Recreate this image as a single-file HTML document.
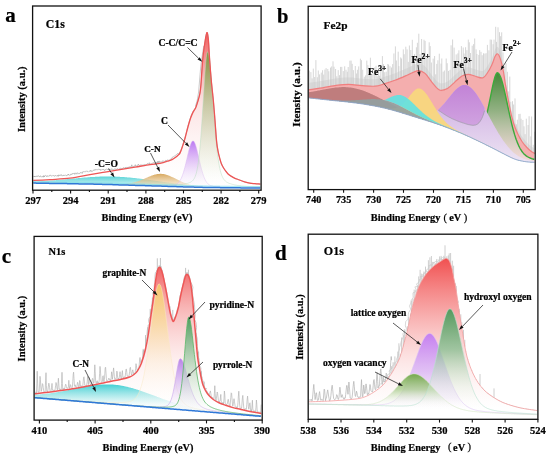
<!DOCTYPE html>
<html><head><meta charset="utf-8"><style>html,body{margin:0;padding:0;background:#fff;width:550px;height:458px;overflow:hidden}svg{display:block;font-family:"Liberation Serif",serif;will-change:transform}text{stroke:#000;stroke-width:0.22px}</style></head><body><svg width="550" height="458" viewBox="0 0 550 458" font-family="Liberation Serif, serif" font-weight="bold" fill="#000"><defs><linearGradient id="g1" gradientUnits="userSpaceOnUse" x1="0" y1="33" x2="0" y2="186"><stop offset="0" stop-color="#f05858" stop-opacity="0.97"/><stop offset="0.2" stop-color="#f48484" stop-opacity="0.8"/><stop offset="0.45" stop-color="#f9c4c4" stop-opacity="0.5"/><stop offset="0.75" stop-color="#fde6e6" stop-opacity="0.35"/><stop offset="1" stop-color="#ffffff" stop-opacity="0"/></linearGradient><linearGradient id="g2" gradientUnits="userSpaceOnUse" x1="0" y1="176.5" x2="0" y2="187.7"><stop offset="0" stop-color="#52d2d6" stop-opacity="0.95"/><stop offset="1" stop-color="#bff0f0" stop-opacity="0.6"/></linearGradient><linearGradient id="g3" gradientUnits="userSpaceOnUse" x1="0" y1="173.8" x2="0" y2="187.7"><stop offset="0" stop-color="#d6a456" stop-opacity="0.95"/><stop offset="1" stop-color="#f4e2c4" stop-opacity="0.5"/></linearGradient><linearGradient id="g4" gradientUnits="userSpaceOnUse" x1="0" y1="140" x2="0" y2="186"><stop offset="0" stop-color="#b56cf2" stop-opacity="0.95"/><stop offset="0.55" stop-color="#dcb8f6" stop-opacity="0.6"/><stop offset="1" stop-color="#f6effc" stop-opacity="0.2"/></linearGradient><linearGradient id="g5" gradientUnits="userSpaceOnUse" x1="0" y1="51" x2="0" y2="186"><stop offset="0" stop-color="#7f9440" stop-opacity="0.95"/><stop offset="0.5" stop-color="#bcc698" stop-opacity="0.6"/><stop offset="0.85" stop-color="#e8eedc" stop-opacity="0.35"/><stop offset="1" stop-color="#ffffff" stop-opacity="0.1"/></linearGradient><linearGradient id="g6" gradientUnits="userSpaceOnUse" x1="0" y1="73" x2="0" y2="158"><stop offset="0" stop-color="#3e8834" stop-opacity="0.97"/><stop offset="0.45" stop-color="#86b27e" stop-opacity="0.88"/><stop offset="1" stop-color="#eef2ee" stop-opacity="0.6"/></linearGradient><linearGradient id="g7" gradientUnits="userSpaceOnUse" x1="0" y1="110" x2="0" y2="160"><stop offset="0" stop-color="#d6bae6" stop-opacity="1"/><stop offset="1" stop-color="#ebe2f2" stop-opacity="1"/></linearGradient><linearGradient id="g8" gradientUnits="userSpaceOnUse" x1="0" y1="86" x2="0" y2="126"><stop offset="0" stop-color="#c282d6" stop-opacity="0.97"/><stop offset="1" stop-color="#d0a2e0" stop-opacity="0.97"/></linearGradient><linearGradient id="g9" gradientUnits="userSpaceOnUse" x1="0" y1="267" x2="0" y2="408"><stop offset="0" stop-color="#f05a5a" stop-opacity="0.95"/><stop offset="0.3" stop-color="#f59a9a" stop-opacity="0.7"/><stop offset="0.65" stop-color="#fbd8d8" stop-opacity="0.45"/><stop offset="1" stop-color="#ffffff" stop-opacity="0.1"/></linearGradient><linearGradient id="g10" gradientUnits="userSpaceOnUse" x1="0" y1="385" x2="0" y2="405"><stop offset="0" stop-color="#3fcfd3" stop-opacity="0.95"/><stop offset="0.6" stop-color="#9fe6e8" stop-opacity="0.7"/><stop offset="1" stop-color="#e6f8f8" stop-opacity="0.5"/></linearGradient><linearGradient id="g11" gradientUnits="userSpaceOnUse" x1="0" y1="283" x2="0" y2="407"><stop offset="0" stop-color="#f6c96a" stop-opacity="0.96"/><stop offset="0.35" stop-color="#f9dda4" stop-opacity="0.8"/><stop offset="0.65" stop-color="#fdf0da" stop-opacity="0.5"/><stop offset="1" stop-color="#ffffff" stop-opacity="0.15"/></linearGradient><linearGradient id="g12" gradientUnits="userSpaceOnUse" x1="0" y1="358" x2="0" y2="408"><stop offset="0" stop-color="#b27ae8" stop-opacity="0.95"/><stop offset="0.6" stop-color="#dcc0f2" stop-opacity="0.6"/><stop offset="1" stop-color="#f6effc" stop-opacity="0.2"/></linearGradient><linearGradient id="g13" gradientUnits="userSpaceOnUse" x1="0" y1="316" x2="0" y2="409"><stop offset="0" stop-color="#3f9a55" stop-opacity="0.95"/><stop offset="0.5" stop-color="#9fcca8" stop-opacity="0.65"/><stop offset="1" stop-color="#eef6ee" stop-opacity="0.2"/></linearGradient><linearGradient id="g14" gradientUnits="userSpaceOnUse" x1="0" y1="259" x2="0" y2="408"><stop offset="0" stop-color="#f04848" stop-opacity="0.95"/><stop offset="0.35" stop-color="#f58a8a" stop-opacity="0.75"/><stop offset="0.7" stop-color="#fbd0d0" stop-opacity="0.5"/><stop offset="1" stop-color="#ffffff" stop-opacity="0.3"/></linearGradient><linearGradient id="g15" gradientUnits="userSpaceOnUse" x1="0" y1="334" x2="0" y2="410"><stop offset="0" stop-color="#c47ef2" stop-opacity="0.97"/><stop offset="0.5" stop-color="#dab6f6" stop-opacity="0.8"/><stop offset="0.85" stop-color="#f2e6fc" stop-opacity="0.55"/><stop offset="1" stop-color="#ffffff" stop-opacity="0.1"/></linearGradient><linearGradient id="g16" gradientUnits="userSpaceOnUse" x1="0" y1="374" x2="0" y2="409"><stop offset="0" stop-color="#72a848" stop-opacity="0.97"/><stop offset="0.45" stop-color="#a8cc8c" stop-opacity="0.75"/><stop offset="0.8" stop-color="#eef6e8" stop-opacity="0.3"/><stop offset="1" stop-color="#ffffff" stop-opacity="0.0"/></linearGradient><linearGradient id="g17" gradientUnits="userSpaceOnUse" x1="0" y1="309" x2="0" y2="411"><stop offset="0" stop-color="#4f9a5c" stop-opacity="0.97"/><stop offset="0.4" stop-color="#8cc094" stop-opacity="0.82"/><stop offset="0.75" stop-color="#d8ecd8" stop-opacity="0.4"/><stop offset="1" stop-color="#ffffff" stop-opacity="0.0"/></linearGradient></defs><rect width="550" height="458" fill="#fff"/><path d="M33.3,180.4 33.8,180.4 34.3,180.4 34.8,180.3 35.3,180.3 35.8,180.3 36.3,180.3 36.8,180.2 37.3,180.2 37.8,180.2 38.3,180.2 38.8,180.2 39.3,180.1 39.8,180.1 40.3,180.1 40.8,180.1 41.3,180 41.8,180 42.3,180 42.8,180 43.3,180 43.8,179.9 44.3,179.9 44.8,179.9 45.3,179.9 45.8,179.8 46.3,179.8 46.8,179.8 47.3,179.8 47.8,179.7 48.3,179.7 48.8,179.7 49.3,179.6 49.8,179.6 50.3,179.6 50.8,179.6 51.3,179.5 51.8,179.5 52.3,179.5 52.8,179.4 53.3,179.4 53.8,179.4 54.3,179.4 54.8,179.3 55.3,179.3 55.8,179.3 56.3,179.3 56.8,179.2 57.3,179.2 57.8,179.2 58.3,179.2 58.8,179.1 59.3,179.1 59.8,179.1 60.3,179 60.8,179 61.3,179 61.8,178.9 62.3,178.9 62.8,178.9 63.3,178.8 63.8,178.8 64.3,178.8 64.8,178.7 65.3,178.7 65.8,178.6 66.3,178.6 66.8,178.6 67.3,178.5 67.8,178.5 68.3,178.4 68.8,178.3 69.3,178.3 69.8,178.2 70.3,178.2 70.8,178.1 71.3,178 71.8,178 72.3,177.9 72.8,177.8 73.3,177.7 73.8,177.6 74.3,177.6 74.8,177.5 75.3,177.4 75.8,177.3 76.3,177.2 76.8,177.1 77.3,177 77.8,176.9 78.3,176.8 78.8,176.8 79.3,176.7 79.8,176.6 80.3,176.5 80.8,176.4 81.3,176.3 81.8,176.2 82.3,176.1 82.8,176 83.3,175.9 83.8,175.8 84.3,175.7 84.8,175.6 85.3,175.5 85.8,175.4 86.3,175.3 86.8,175.2 87.3,175.1 87.8,175 88.3,174.9 88.8,174.8 89.3,174.7 89.8,174.6 90.3,174.5 90.8,174.5 91.3,174.4 91.8,174.3 92.3,174.2 92.8,174.1 93.3,174 93.8,174 94.3,173.9 94.8,173.8 95.3,173.7 95.8,173.7 96.3,173.6 96.8,173.5 97.3,173.4 97.8,173.3 98.3,173.3 98.8,173.2 99.3,173.1 99.8,173 100.3,173 100.8,172.9 101.3,172.8 101.8,172.7 102.3,172.6 102.8,172.6 103.3,172.5 103.8,172.4 104.3,172.3 104.8,172.2 105.3,172.1 105.8,172.1 106.3,172 106.8,171.9 107.3,171.8 107.8,171.7 108.3,171.6 108.8,171.6 109.3,171.5 109.8,171.4 110.3,171.3 110.8,171.2 111.3,171.1 111.8,171 112.3,170.9 112.8,170.9 113.3,170.8 113.8,170.7 114.3,170.6 114.8,170.5 115.3,170.4 115.8,170.3 116.3,170.2 116.8,170.2 117.3,170.1 117.8,170 118.3,169.9 118.8,169.8 119.3,169.7 119.8,169.6 120.3,169.5 120.8,169.5 121.3,169.4 121.8,169.3 122.3,169.2 122.8,169.1 123.3,169 123.8,169 124.3,168.9 124.8,168.8 125.3,168.7 125.8,168.6 126.3,168.5 126.8,168.5 127.3,168.4 127.8,168.3 128.3,168.2 128.8,168.1 129.3,168 129.8,168 130.3,167.9 130.8,167.8 131.3,167.7 131.8,167.6 132.3,167.5 132.8,167.5 133.3,167.4 133.8,167.3 134.3,167.2 134.8,167.1 135.3,167 135.8,167 136.3,166.9 136.8,166.8 137.3,166.7 137.8,166.6 138.3,166.5 138.8,166.5 139.3,166.4 139.8,166.3 140.3,166.2 140.8,166.1 141.3,166 141.8,165.9 142.3,165.9 142.8,165.8 143.3,165.7 143.8,165.6 144.3,165.5 144.8,165.4 145.3,165.3 145.8,165.3 146.3,165.2 146.8,165.1 147.3,165 147.8,164.9 148.3,164.9 148.8,164.8 149.3,164.7 149.8,164.6 150.3,164.6 150.8,164.5 151.3,164.4 151.8,164.4 152.3,164.3 152.8,164.3 153.3,164.2 153.8,164.2 154.3,164.1 154.8,164.1 155.3,164 155.8,164 156.3,163.9 156.8,163.9 157.3,163.8 157.8,163.8 158.3,163.7 158.8,163.6 159.3,163.5 159.8,163.4 160.3,163.3 160.8,163.2 161.3,163.1 161.8,163 162.3,162.8 162.8,162.7 163.3,162.6 163.8,162.4 164.3,162.3 164.8,162.1 165.3,161.9 165.8,161.8 166.3,161.6 166.8,161.4 167.3,161.3 167.8,161.1 168.3,160.9 168.8,160.8 169.3,160.6 169.8,160.4 170.3,160.3 170.8,160.1 171.3,159.9 171.8,159.6 172.3,159.4 172.8,159.1 173.3,158.9 173.8,158.6 174.3,158.3 174.8,157.9 175.3,157.6 175.8,157.2 176.3,156.8 176.8,156.4 177.3,156 177.8,155.5 178.3,155 178.8,154.6 179.3,154.1 179.8,153.4 180.3,152.5 180.8,151.3 181.3,150 181.8,148.6 182.3,147.1 182.8,145.6 183.3,144 183.8,142.4 184.3,140.7 184.8,139 185.3,137.2 185.8,135.3 186.3,133.4 186.8,131.3 187.3,129.4 187.8,127.4 188.3,125.6 188.8,123.8 189.3,122.1 189.8,120.4 190.3,118.9 190.8,117.4 191.3,116.1 191.8,114.9 192.3,113.8 192.8,112.7 193.3,111.7 193.8,110.8 194.3,110.1 194.8,109.3 195.3,108.5 195.8,107.5 196.3,106.2 196.8,104.8 197.3,103.2 197.8,101.5 198.3,99.8 198.8,98.1 199.3,96.3 199.8,94 200.3,90.9 200.8,86.1 201.3,79.5 201.8,72 202.3,64.8 202.8,58.8 203.3,54.2 203.8,50.1 204.3,46.3 204.8,43 205.3,39.8 205.8,36.8 206.3,34.3 206.8,32.7 207.3,32.9 207.8,35.1 208.3,39 208.8,45.5 209.3,54.7 209.8,62 210.3,68.7 210.8,75 211.3,80.7 211.8,85.8 212.3,90.6 212.8,95.3 213.3,100.3 213.8,105.9 214.3,111.9 214.8,118.3 215.3,124.7 215.8,131.6 216.3,138.1 216.8,143.4 217.3,147.1 217.8,149.9 218.3,152.5 218.8,154.7 219.3,156.7 219.8,158.6 220.3,160.4 220.8,162.1 221.3,163.5 221.8,164.7 222.3,165.7 222.8,166.7 223.3,167.5 223.8,168.3 224.3,169.1 224.8,169.8 225.3,170.5 225.8,171.1 226.3,171.8 226.8,172.4 227.3,173 227.8,173.7 228.3,174.2 228.8,174.6 229.3,175 229.8,175.4 230.3,175.7 230.8,176 231.3,176.3 231.8,176.6 232.3,176.9 232.8,177.2 233.3,177.4 233.8,177.7 234.3,177.9 234.8,178.2 235.3,178.4 235.8,178.6 236.3,178.8 236.8,179 237.3,179.2 237.8,179.4 238.3,179.6 238.8,179.7 239.3,179.9 239.8,180.1 240.3,180.3 240.8,180.5 241.3,180.7 241.8,180.9 242.3,181.1 242.8,181.2 243.3,181.4 243.8,181.6 244.3,181.7 244.8,181.9 245.3,182 245.8,182.2 246.3,182.3 246.8,182.4 247.3,182.6 247.8,182.7 248.3,182.8 248.8,182.9 249.3,183 249.8,183.1 250.3,183.2 250.8,183.3 251.3,183.3 251.8,183.4 252.3,183.4 252.8,183.5 253.3,183.5 253.8,183.6 254.3,183.6 254.8,183.7 255.3,183.7 255.8,183.8 256.3,183.8 256.8,183.8 257.3,183.9 257.8,183.9 258.3,184 258.8,184 259.3,184 259.8,184.1 260.3,184.1 L260.3,187.7 259.8,187.7 259.3,187.7 258.8,187.7 258.3,187.7 257.8,187.7 257.3,187.7 256.8,187.7 256.3,187.7 255.8,187.7 255.3,187.7 254.8,187.7 254.3,187.7 253.8,187.6 253.3,187.6 252.8,187.6 252.3,187.6 251.8,187.6 251.3,187.6 250.8,187.6 250.3,187.6 249.8,187.6 249.3,187.6 248.8,187.6 248.3,187.6 247.8,187.6 247.3,187.6 246.8,187.6 246.3,187.6 245.8,187.6 245.3,187.6 244.8,187.6 244.3,187.6 243.8,187.6 243.3,187.6 242.8,187.6 242.3,187.6 241.8,187.6 241.3,187.6 240.8,187.6 240.3,187.5 239.8,187.5 239.3,187.5 238.8,187.5 238.3,187.5 237.8,187.5 237.3,187.5 236.8,187.5 236.3,187.5 235.8,187.5 235.3,187.5 234.8,187.5 234.3,187.5 233.8,187.5 233.3,187.5 232.8,187.5 232.3,187.5 231.8,187.5 231.3,187.5 230.8,187.5 230.3,187.5 229.8,187.4 229.3,187.4 228.8,187.4 228.3,187.4 227.8,187.4 227.3,187.4 226.8,187.4 226.3,187.4 225.8,187.4 225.3,187.4 224.8,187.4 224.3,187.4 223.8,187.4 223.3,187.4 222.8,187.4 222.3,187.4 221.8,187.4 221.3,187.4 220.8,187.4 220.3,187.4 219.8,187.3 219.3,187.3 218.8,187.3 218.3,187.3 217.8,187.3 217.3,187.3 216.8,187.3 216.3,187.3 215.8,187.3 215.3,187.3 214.8,187.3 214.3,187.3 213.8,187.3 213.3,187.3 212.8,187.2 212.3,187.2 211.8,187.2 211.3,187.2 210.8,187.2 210.3,187.2 209.8,187.2 209.3,187.2 208.8,187.2 208.3,187.2 207.8,187.2 207.3,187.1 206.8,187.1 206.3,187.1 205.8,187.1 205.3,187.1 204.8,187.1 204.3,187.1 203.8,187.1 203.3,187.1 202.8,187.1 202.3,187 201.8,187 201.3,187 200.8,187 200.3,187 199.8,187 199.3,187 198.8,187 198.3,187 197.8,186.9 197.3,186.9 196.8,186.9 196.3,186.9 195.8,186.9 195.3,186.9 194.8,186.9 194.3,186.9 193.8,186.8 193.3,186.8 192.8,186.8 192.3,186.8 191.8,186.8 191.3,186.8 190.8,186.8 190.3,186.7 189.8,186.7 189.3,186.7 188.8,186.7 188.3,186.7 187.8,186.7 187.3,186.7 186.8,186.7 186.3,186.6 185.8,186.6 185.3,186.6 184.8,186.6 184.3,186.6 183.8,186.6 183.3,186.6 182.8,186.5 182.3,186.5 181.8,186.5 181.3,186.5 180.8,186.5 180.3,186.5 179.8,186.4 179.3,186.4 178.8,186.4 178.3,186.4 177.8,186.4 177.3,186.4 176.8,186.4 176.3,186.3 175.8,186.3 175.3,186.3 174.8,186.3 174.3,186.3 173.8,186.3 173.3,186.2 172.8,186.2 172.3,186.2 171.8,186.2 171.3,186.2 170.8,186.2 170.3,186.1 169.8,186.1 169.3,186.1 168.8,186.1 168.3,186.1 167.8,186.1 167.3,186 166.8,186 166.3,186 165.8,186 165.3,186 164.8,186 164.3,185.9 163.8,185.9 163.3,185.9 162.8,185.9 162.3,185.9 161.8,185.9 161.3,185.8 160.8,185.8 160.3,185.8 159.8,185.8 159.3,185.8 158.8,185.8 158.3,185.7 157.8,185.7 157.3,185.7 156.8,185.7 156.3,185.7 155.8,185.7 155.3,185.7 154.8,185.6 154.3,185.6 153.8,185.6 153.3,185.6 152.8,185.6 152.3,185.6 151.8,185.6 151.3,185.5 150.8,185.5 150.3,185.5 149.8,185.5 149.3,185.5 148.8,185.5 148.3,185.4 147.8,185.4 147.3,185.4 146.8,185.4 146.3,185.4 145.8,185.4 145.3,185.4 144.8,185.3 144.3,185.3 143.8,185.3 143.3,185.3 142.8,185.3 142.3,185.3 141.8,185.3 141.3,185.2 140.8,185.2 140.3,185.2 139.8,185.2 139.3,185.2 138.8,185.2 138.3,185.1 137.8,185.1 137.3,185.1 136.8,185.1 136.3,185.1 135.8,185.1 135.3,185.1 134.8,185 134.3,185 133.8,185 133.3,185 132.8,185 132.3,185 131.8,185 131.3,184.9 130.8,184.9 130.3,184.9 129.8,184.9 129.3,184.9 128.8,184.9 128.3,184.8 127.8,184.8 127.3,184.8 126.8,184.8 126.3,184.8 125.8,184.8 125.3,184.8 124.8,184.7 124.3,184.7 123.8,184.7 123.3,184.7 122.8,184.7 122.3,184.7 121.8,184.6 121.3,184.6 120.8,184.6 120.3,184.6 119.8,184.6 119.3,184.6 118.8,184.6 118.3,184.5 117.8,184.5 117.3,184.5 116.8,184.5 116.3,184.5 115.8,184.5 115.3,184.4 114.8,184.4 114.3,184.4 113.8,184.4 113.3,184.4 112.8,184.4 112.3,184.3 111.8,184.3 111.3,184.3 110.8,184.3 110.3,184.3 109.8,184.3 109.3,184.3 108.8,184.2 108.3,184.2 107.8,184.2 107.3,184.2 106.8,184.2 106.3,184.2 105.8,184.2 105.3,184.1 104.8,184.1 104.3,184.1 103.8,184.1 103.3,184.1 102.8,184.1 102.3,184.1 101.8,184 101.3,184 100.8,184 100.3,184 99.8,184 99.3,184 98.8,184 98.3,184 97.8,183.9 97.3,183.9 96.8,183.9 96.3,183.9 95.8,183.9 95.3,183.9 94.8,183.9 94.3,183.9 93.8,183.9 93.3,183.8 92.8,183.8 92.3,183.8 91.8,183.8 91.3,183.8 90.8,183.8 90.3,183.8 89.8,183.8 89.3,183.8 88.8,183.7 88.3,183.7 87.8,183.7 87.3,183.7 86.8,183.7 86.3,183.7 85.8,183.7 85.3,183.7 84.8,183.7 84.3,183.7 83.8,183.6 83.3,183.6 82.8,183.6 82.3,183.6 81.8,183.6 81.3,183.6 80.8,183.6 80.3,183.6 79.8,183.6 79.3,183.6 78.8,183.6 78.3,183.5 77.8,183.5 77.3,183.5 76.8,183.5 76.3,183.5 75.8,183.5 75.3,183.5 74.8,183.5 74.3,183.5 73.8,183.5 73.3,183.5 72.8,183.5 72.3,183.4 71.8,183.4 71.3,183.4 70.8,183.4 70.3,183.4 69.8,183.4 69.3,183.4 68.8,183.4 68.3,183.4 67.8,183.4 67.3,183.4 66.8,183.3 66.3,183.3 65.8,183.3 65.3,183.3 64.8,183.3 64.3,183.3 63.8,183.3 63.3,183.3 62.8,183.3 62.3,183.3 61.8,183.3 61.3,183.3 60.8,183.2 60.3,183.2 59.8,183.2 59.3,183.2 58.8,183.2 58.3,183.2 57.8,183.2 57.3,183.2 56.8,183.2 56.3,183.2 55.8,183.2 55.3,183.2 54.8,183.1 54.3,183.1 53.8,183.1 53.3,183.1 52.8,183.1 52.3,183.1 51.8,183.1 51.3,183.1 50.8,183.1 50.3,183.1 49.8,183.1 49.3,183.1 48.8,183 48.3,183 47.8,183 47.3,183 46.8,183 46.3,183 45.8,183 45.3,183 44.8,183 44.3,183 43.8,183 43.3,183 42.8,183 42.3,182.9 41.8,182.9 41.3,182.9 40.8,182.9 40.3,182.9 39.8,182.9 39.3,182.9 38.8,182.9 38.3,182.9 37.8,182.9 37.3,182.9 36.8,182.9 36.3,182.9 35.8,182.8 35.3,182.8 34.8,182.8 34.3,182.8 33.8,182.8 33.3,182.8 Z" fill="url(#g1)" /><path d="M33.3,181.6 33.8,181.5 34.3,181.5 34.8,181.5 35.3,181.5 35.8,181.4 36.3,181.4 36.8,181.4 37.3,181.4 37.8,181.3 38.3,181.3 38.8,181.3 39.3,181.3 39.8,181.2 40.3,181.2 40.8,181.2 41.3,181.2 41.8,181.1 42.3,181.1 42.8,181.1 43.3,181 43.8,181 44.3,181 44.8,181 45.3,180.9 45.8,180.9 46.3,180.9 46.8,180.8 47.3,180.8 47.8,180.8 48.3,180.7 48.8,180.7 49.3,180.7 49.8,180.6 50.3,180.6 50.8,180.5 51.3,180.5 51.8,180.5 52.3,180.4 52.8,180.4 53.3,180.4 53.8,180.3 54.3,180.3 54.8,180.2 55.3,180.2 55.8,180.2 56.3,180.1 56.8,180.1 57.3,180 57.8,180 58.3,180 58.8,179.9 59.3,179.9 59.8,179.8 60.3,179.8 60.8,179.7 61.3,179.7 61.8,179.6 62.3,179.6 62.8,179.6 63.3,179.5 63.8,179.5 64.3,179.4 64.8,179.4 65.3,179.3 65.8,179.3 66.3,179.2 66.8,179.2 67.3,179.1 67.8,179.1 68.3,179.1 68.8,179 69.3,179 69.8,178.9 70.3,178.9 70.8,178.8 71.3,178.8 71.8,178.7 72.3,178.7 72.8,178.6 73.3,178.6 73.8,178.5 74.3,178.5 74.8,178.4 75.3,178.4 75.8,178.4 76.3,178.3 76.8,178.3 77.3,178.2 77.8,178.2 78.3,178.1 78.8,178.1 79.3,178 79.8,178 80.3,177.9 80.8,177.9 81.3,177.9 81.8,177.8 82.3,177.8 82.8,177.7 83.3,177.7 83.8,177.6 84.3,177.6 84.8,177.6 85.3,177.5 85.8,177.5 86.3,177.4 86.8,177.4 87.3,177.4 87.8,177.3 88.3,177.3 88.8,177.3 89.3,177.2 89.8,177.2 90.3,177.1 90.8,177.1 91.3,177.1 91.8,177 92.3,177 92.8,177 93.3,177 93.8,176.9 94.3,176.9 94.8,176.9 95.3,176.8 95.8,176.8 96.3,176.8 96.8,176.8 97.3,176.7 97.8,176.7 98.3,176.7 98.8,176.7 99.3,176.7 99.8,176.6 100.3,176.6 100.8,176.6 101.3,176.6 101.8,176.6 102.3,176.6 102.8,176.6 103.3,176.6 103.8,176.5 104.3,176.5 104.8,176.5 105.3,176.5 105.8,176.5 106.3,176.5 106.8,176.5 107.3,176.5 107.8,176.5 108.3,176.5 108.8,176.5 109.3,176.5 109.8,176.5 110.3,176.5 110.8,176.5 111.3,176.5 111.8,176.5 112.3,176.6 112.8,176.6 113.3,176.6 113.8,176.6 114.3,176.6 114.8,176.6 115.3,176.6 115.8,176.7 116.3,176.7 116.8,176.7 117.3,176.7 117.8,176.7 118.3,176.8 118.8,176.8 119.3,176.8 119.8,176.8 120.3,176.9 120.8,176.9 121.3,176.9 121.8,177 122.3,177 122.8,177 123.3,177.1 123.8,177.1 124.3,177.1 124.8,177.2 125.3,177.2 125.8,177.2 126.3,177.3 126.8,177.3 127.3,177.4 127.8,177.4 128.3,177.4 128.8,177.5 129.3,177.5 129.8,177.6 130.3,177.6 130.8,177.7 131.3,177.7 131.8,177.8 132.3,177.8 132.8,177.9 133.3,177.9 133.8,178 134.3,178 134.8,178.1 135.3,178.1 135.8,178.2 136.3,178.3 136.8,178.3 137.3,178.4 137.8,178.4 138.3,178.5 138.8,178.5 139.3,178.6 139.8,178.7 140.3,178.7 140.8,178.8 141.3,178.8 141.8,178.9 142.3,179 142.8,179 143.3,179.1 143.8,179.2 144.3,179.2 144.8,179.3 145.3,179.4 145.8,179.4 146.3,179.5 146.8,179.6 147.3,179.6 147.8,179.7 148.3,179.8 148.8,179.8 149.3,179.9 149.8,180 150.3,180 150.8,180.1 151.3,180.2 151.8,180.2 152.3,180.3 152.8,180.4 153.3,180.5 153.8,180.5 154.3,180.6 154.8,180.7 155.3,180.7 155.8,180.8 156.3,180.9 156.8,181 157.3,181 157.8,181.1 158.3,181.2 158.8,181.2 159.3,181.3 159.8,181.4 160.3,181.4 160.8,181.5 161.3,181.6 161.8,181.7 162.3,181.7 162.8,181.8 163.3,181.9 163.8,181.9 164.3,182 164.8,182.1 165.3,182.2 165.8,182.2 166.3,182.3 166.8,182.4 167.3,182.4 167.8,182.5 168.3,182.6 168.8,182.6 169.3,182.7 169.8,182.8 170.3,182.8 170.8,182.9 171.3,183 171.8,183 172.3,183.1 172.8,183.2 173.3,183.2 173.8,183.3 174.3,183.4 174.8,183.4 175.3,183.5 175.8,183.6 176.3,183.6 176.8,183.7 177.3,183.8 177.8,183.8 178.3,183.9 178.8,183.9 179.3,184 179.8,184.1 180.3,184.1 180.8,184.2 181.3,184.2 181.8,184.3 182.3,184.3 182.8,184.4 183.3,184.5 183.8,184.5 184.3,184.6 184.8,184.6 185.3,184.7 185.8,184.7 186.3,184.8 186.8,184.8 187.3,184.9 187.8,184.9 188.3,185 188.8,185 189.3,185.1 189.8,185.1 190.3,185.2 190.8,185.2 191.3,185.3 191.8,185.3 192.3,185.3 192.8,185.4 193.3,185.4 193.8,185.5 194.3,185.5 194.8,185.6 195.3,185.6 195.8,185.6 196.3,185.7 196.8,185.7 197.3,185.8 197.8,185.8 198.3,185.8 198.8,185.9 199.3,185.9 199.8,185.9 200.3,186 200.8,186 201.3,186.1 201.8,186.1 202.3,186.1 202.8,186.2 203.3,186.2 203.8,186.2 204.3,186.3 204.8,186.3 205.3,186.3 205.8,186.3 206.3,186.4 206.8,186.4 207.3,186.4 207.8,186.5 208.3,186.5 208.8,186.5 209.3,186.5 209.8,186.6 210.3,186.6 210.8,186.6 211.3,186.6 211.8,186.7 212.3,186.7 212.8,186.7 213.3,186.7 213.8,186.8 214.3,186.8 214.8,186.8 215.3,186.8 215.8,186.8 216.3,186.9 216.8,186.9 217.3,186.9 217.8,186.9 218.3,186.9 218.8,187 219.3,187 219.8,187 220.3,187 220.8,187 221.3,187 221.8,187 222.3,187.1 222.8,187.1 223.3,187.1 223.8,187.1 224.3,187.1 224.8,187.1 225.3,187.1 225.8,187.2 226.3,187.2 226.8,187.2 227.3,187.2 227.8,187.2 228.3,187.2 228.8,187.2 229.3,187.2 229.8,187.3 230.3,187.3 230.8,187.3 231.3,187.3 231.8,187.3 232.3,187.3 232.8,187.3 233.3,187.3 233.8,187.3 234.3,187.3 234.8,187.4 235.3,187.4 235.8,187.4 236.3,187.4 236.8,187.4 237.3,187.4 237.8,187.4 238.3,187.4 238.8,187.4 239.3,187.4 239.8,187.4 240.3,187.5 240.8,187.5 241.3,187.5 241.8,187.5 242.3,187.5 242.8,187.5 243.3,187.5 243.8,187.5 244.3,187.5 244.8,187.5 245.3,187.5 245.8,187.5 246.3,187.5 246.8,187.5 247.3,187.5 247.8,187.5 248.3,187.6 248.8,187.6 249.3,187.6 249.8,187.6 250.3,187.6 250.8,187.6 251.3,187.6 251.8,187.6 252.3,187.6 252.8,187.6 253.3,187.6 253.8,187.6 254.3,187.6 254.8,187.6 255.3,187.6 255.8,187.6 256.3,187.6 256.8,187.6 257.3,187.6 257.8,187.7 258.3,187.7 258.8,187.7 259.3,187.7 259.8,187.7 260.3,187.7 L260.3,187.7 259.8,187.7 259.3,187.7 258.8,187.7 258.3,187.7 257.8,187.7 257.3,187.7 256.8,187.7 256.3,187.7 255.8,187.7 255.3,187.7 254.8,187.7 254.3,187.7 253.8,187.6 253.3,187.6 252.8,187.6 252.3,187.6 251.8,187.6 251.3,187.6 250.8,187.6 250.3,187.6 249.8,187.6 249.3,187.6 248.8,187.6 248.3,187.6 247.8,187.6 247.3,187.6 246.8,187.6 246.3,187.6 245.8,187.6 245.3,187.6 244.8,187.6 244.3,187.6 243.8,187.6 243.3,187.6 242.8,187.6 242.3,187.6 241.8,187.6 241.3,187.6 240.8,187.6 240.3,187.5 239.8,187.5 239.3,187.5 238.8,187.5 238.3,187.5 237.8,187.5 237.3,187.5 236.8,187.5 236.3,187.5 235.8,187.5 235.3,187.5 234.8,187.5 234.3,187.5 233.8,187.5 233.3,187.5 232.8,187.5 232.3,187.5 231.8,187.5 231.3,187.5 230.8,187.5 230.3,187.5 229.8,187.4 229.3,187.4 228.8,187.4 228.3,187.4 227.8,187.4 227.3,187.4 226.8,187.4 226.3,187.4 225.8,187.4 225.3,187.4 224.8,187.4 224.3,187.4 223.8,187.4 223.3,187.4 222.8,187.4 222.3,187.4 221.8,187.4 221.3,187.4 220.8,187.4 220.3,187.4 219.8,187.3 219.3,187.3 218.8,187.3 218.3,187.3 217.8,187.3 217.3,187.3 216.8,187.3 216.3,187.3 215.8,187.3 215.3,187.3 214.8,187.3 214.3,187.3 213.8,187.3 213.3,187.3 212.8,187.2 212.3,187.2 211.8,187.2 211.3,187.2 210.8,187.2 210.3,187.2 209.8,187.2 209.3,187.2 208.8,187.2 208.3,187.2 207.8,187.2 207.3,187.1 206.8,187.1 206.3,187.1 205.8,187.1 205.3,187.1 204.8,187.1 204.3,187.1 203.8,187.1 203.3,187.1 202.8,187.1 202.3,187 201.8,187 201.3,187 200.8,187 200.3,187 199.8,187 199.3,187 198.8,187 198.3,187 197.8,186.9 197.3,186.9 196.8,186.9 196.3,186.9 195.8,186.9 195.3,186.9 194.8,186.9 194.3,186.9 193.8,186.8 193.3,186.8 192.8,186.8 192.3,186.8 191.8,186.8 191.3,186.8 190.8,186.8 190.3,186.7 189.8,186.7 189.3,186.7 188.8,186.7 188.3,186.7 187.8,186.7 187.3,186.7 186.8,186.7 186.3,186.6 185.8,186.6 185.3,186.6 184.8,186.6 184.3,186.6 183.8,186.6 183.3,186.6 182.8,186.5 182.3,186.5 181.8,186.5 181.3,186.5 180.8,186.5 180.3,186.5 179.8,186.4 179.3,186.4 178.8,186.4 178.3,186.4 177.8,186.4 177.3,186.4 176.8,186.4 176.3,186.3 175.8,186.3 175.3,186.3 174.8,186.3 174.3,186.3 173.8,186.3 173.3,186.2 172.8,186.2 172.3,186.2 171.8,186.2 171.3,186.2 170.8,186.2 170.3,186.1 169.8,186.1 169.3,186.1 168.8,186.1 168.3,186.1 167.8,186.1 167.3,186 166.8,186 166.3,186 165.8,186 165.3,186 164.8,186 164.3,185.9 163.8,185.9 163.3,185.9 162.8,185.9 162.3,185.9 161.8,185.9 161.3,185.8 160.8,185.8 160.3,185.8 159.8,185.8 159.3,185.8 158.8,185.8 158.3,185.7 157.8,185.7 157.3,185.7 156.8,185.7 156.3,185.7 155.8,185.7 155.3,185.7 154.8,185.6 154.3,185.6 153.8,185.6 153.3,185.6 152.8,185.6 152.3,185.6 151.8,185.6 151.3,185.5 150.8,185.5 150.3,185.5 149.8,185.5 149.3,185.5 148.8,185.5 148.3,185.4 147.8,185.4 147.3,185.4 146.8,185.4 146.3,185.4 145.8,185.4 145.3,185.4 144.8,185.3 144.3,185.3 143.8,185.3 143.3,185.3 142.8,185.3 142.3,185.3 141.8,185.3 141.3,185.2 140.8,185.2 140.3,185.2 139.8,185.2 139.3,185.2 138.8,185.2 138.3,185.1 137.8,185.1 137.3,185.1 136.8,185.1 136.3,185.1 135.8,185.1 135.3,185.1 134.8,185 134.3,185 133.8,185 133.3,185 132.8,185 132.3,185 131.8,185 131.3,184.9 130.8,184.9 130.3,184.9 129.8,184.9 129.3,184.9 128.8,184.9 128.3,184.8 127.8,184.8 127.3,184.8 126.8,184.8 126.3,184.8 125.8,184.8 125.3,184.8 124.8,184.7 124.3,184.7 123.8,184.7 123.3,184.7 122.8,184.7 122.3,184.7 121.8,184.6 121.3,184.6 120.8,184.6 120.3,184.6 119.8,184.6 119.3,184.6 118.8,184.6 118.3,184.5 117.8,184.5 117.3,184.5 116.8,184.5 116.3,184.5 115.8,184.5 115.3,184.4 114.8,184.4 114.3,184.4 113.8,184.4 113.3,184.4 112.8,184.4 112.3,184.3 111.8,184.3 111.3,184.3 110.8,184.3 110.3,184.3 109.8,184.3 109.3,184.3 108.8,184.2 108.3,184.2 107.8,184.2 107.3,184.2 106.8,184.2 106.3,184.2 105.8,184.2 105.3,184.1 104.8,184.1 104.3,184.1 103.8,184.1 103.3,184.1 102.8,184.1 102.3,184.1 101.8,184 101.3,184 100.8,184 100.3,184 99.8,184 99.3,184 98.8,184 98.3,184 97.8,183.9 97.3,183.9 96.8,183.9 96.3,183.9 95.8,183.9 95.3,183.9 94.8,183.9 94.3,183.9 93.8,183.9 93.3,183.8 92.8,183.8 92.3,183.8 91.8,183.8 91.3,183.8 90.8,183.8 90.3,183.8 89.8,183.8 89.3,183.8 88.8,183.7 88.3,183.7 87.8,183.7 87.3,183.7 86.8,183.7 86.3,183.7 85.8,183.7 85.3,183.7 84.8,183.7 84.3,183.7 83.8,183.6 83.3,183.6 82.8,183.6 82.3,183.6 81.8,183.6 81.3,183.6 80.8,183.6 80.3,183.6 79.8,183.6 79.3,183.6 78.8,183.6 78.3,183.5 77.8,183.5 77.3,183.5 76.8,183.5 76.3,183.5 75.8,183.5 75.3,183.5 74.8,183.5 74.3,183.5 73.8,183.5 73.3,183.5 72.8,183.5 72.3,183.4 71.8,183.4 71.3,183.4 70.8,183.4 70.3,183.4 69.8,183.4 69.3,183.4 68.8,183.4 68.3,183.4 67.8,183.4 67.3,183.4 66.8,183.3 66.3,183.3 65.8,183.3 65.3,183.3 64.8,183.3 64.3,183.3 63.8,183.3 63.3,183.3 62.8,183.3 62.3,183.3 61.8,183.3 61.3,183.3 60.8,183.2 60.3,183.2 59.8,183.2 59.3,183.2 58.8,183.2 58.3,183.2 57.8,183.2 57.3,183.2 56.8,183.2 56.3,183.2 55.8,183.2 55.3,183.2 54.8,183.1 54.3,183.1 53.8,183.1 53.3,183.1 52.8,183.1 52.3,183.1 51.8,183.1 51.3,183.1 50.8,183.1 50.3,183.1 49.8,183.1 49.3,183.1 48.8,183 48.3,183 47.8,183 47.3,183 46.8,183 46.3,183 45.8,183 45.3,183 44.8,183 44.3,183 43.8,183 43.3,183 42.8,183 42.3,182.9 41.8,182.9 41.3,182.9 40.8,182.9 40.3,182.9 39.8,182.9 39.3,182.9 38.8,182.9 38.3,182.9 37.8,182.9 37.3,182.9 36.8,182.9 36.3,182.9 35.8,182.8 35.3,182.8 34.8,182.8 34.3,182.8 33.8,182.8 33.3,182.8 Z" fill="url(#g2)" /><path d="M33.3,182.8 33.8,182.8 34.3,182.8 34.8,182.8 35.3,182.8 35.8,182.8 36.3,182.8 36.8,182.8 37.3,182.8 37.8,182.9 38.3,182.9 38.8,182.9 39.3,182.9 39.8,182.9 40.3,182.9 40.8,182.9 41.3,182.9 41.8,182.9 42.3,182.9 42.8,182.9 43.3,182.9 43.8,182.9 44.3,183 44.8,183 45.3,183 45.8,183 46.3,183 46.8,183 47.3,183 47.8,183 48.3,183 48.8,183 49.3,183 49.8,183 50.3,183 50.8,183.1 51.3,183.1 51.8,183.1 52.3,183.1 52.8,183.1 53.3,183.1 53.8,183.1 54.3,183.1 54.8,183.1 55.3,183.1 55.8,183.1 56.3,183.1 56.8,183.1 57.3,183.2 57.8,183.2 58.3,183.2 58.8,183.2 59.3,183.2 59.8,183.2 60.3,183.2 60.8,183.2 61.3,183.2 61.8,183.2 62.3,183.2 62.8,183.2 63.3,183.2 63.8,183.3 64.3,183.3 64.8,183.3 65.3,183.3 65.8,183.3 66.3,183.3 66.8,183.3 67.3,183.3 67.8,183.3 68.3,183.3 68.8,183.3 69.3,183.3 69.8,183.4 70.3,183.4 70.8,183.4 71.3,183.4 71.8,183.4 72.3,183.4 72.8,183.4 73.3,183.4 73.8,183.4 74.3,183.4 74.8,183.4 75.3,183.4 75.8,183.5 76.3,183.5 76.8,183.5 77.3,183.5 77.8,183.5 78.3,183.5 78.8,183.5 79.3,183.5 79.8,183.5 80.3,183.5 80.8,183.5 81.3,183.5 81.8,183.6 82.3,183.6 82.8,183.6 83.3,183.6 83.8,183.6 84.3,183.6 84.8,183.6 85.3,183.6 85.8,183.6 86.3,183.6 86.8,183.6 87.3,183.7 87.8,183.7 88.3,183.7 88.8,183.7 89.3,183.7 89.8,183.7 90.3,183.7 90.8,183.7 91.3,183.7 91.8,183.7 92.3,183.7 92.8,183.8 93.3,183.8 93.8,183.8 94.3,183.8 94.8,183.8 95.3,183.8 95.8,183.8 96.3,183.8 96.8,183.8 97.3,183.8 97.8,183.9 98.3,183.9 98.8,183.9 99.3,183.9 99.8,183.9 100.3,183.9 100.8,183.9 101.3,183.9 101.8,183.9 102.3,183.9 102.8,184 103.3,184 103.8,184 104.3,184 104.8,184 105.3,184 105.8,184 106.3,184 106.8,184 107.3,184.1 107.8,184.1 108.3,184.1 108.8,184.1 109.3,184.1 109.8,184.1 110.3,184.1 110.8,184.1 111.3,184.1 111.8,184.1 112.3,184.1 112.8,184.1 113.3,184.1 113.8,184.1 114.3,184.2 114.8,184.2 115.3,184.2 115.8,184.2 116.3,184.2 116.8,184.2 117.3,184.1 117.8,184.1 118.3,184.1 118.8,184.1 119.3,184.1 119.8,184.1 120.3,184.1 120.8,184.1 121.3,184.1 121.8,184 122.3,184 122.8,184 123.3,184 123.8,183.9 124.3,183.9 124.8,183.8 125.3,183.8 125.8,183.8 126.3,183.7 126.8,183.7 127.3,183.6 127.8,183.5 128.3,183.5 128.8,183.4 129.3,183.3 129.8,183.2 130.3,183.2 130.8,183.1 131.3,183 131.8,182.9 132.3,182.8 132.8,182.7 133.3,182.6 133.8,182.4 134.3,182.3 134.8,182.2 135.3,182 135.8,181.9 136.3,181.7 136.8,181.6 137.3,181.4 137.8,181.3 138.3,181.1 138.8,180.9 139.3,180.7 139.8,180.6 140.3,180.4 140.8,180.2 141.3,180 141.8,179.8 142.3,179.6 142.8,179.4 143.3,179.2 143.8,178.9 144.3,178.7 144.8,178.5 145.3,178.3 145.8,178.1 146.3,177.9 146.8,177.6 147.3,177.4 147.8,177.2 148.3,177 148.8,176.8 149.3,176.6 149.8,176.4 150.3,176.2 150.8,176 151.3,175.8 151.8,175.6 152.3,175.4 152.8,175.2 153.3,175.1 153.8,174.9 154.3,174.8 154.8,174.6 155.3,174.5 155.8,174.4 156.3,174.3 156.8,174.2 157.3,174.1 157.8,174 158.3,173.9 158.8,173.9 159.3,173.9 159.8,173.8 160.3,173.8 160.8,173.8 161.3,173.8 161.8,173.9 162.3,173.9 162.8,174 163.3,174 163.8,174.1 164.3,174.2 164.8,174.3 165.3,174.5 165.8,174.6 166.3,174.7 166.8,174.9 167.3,175 167.8,175.2 168.3,175.4 168.8,175.6 169.3,175.8 169.8,176 170.3,176.2 170.8,176.4 171.3,176.7 171.8,176.9 172.3,177.1 172.8,177.4 173.3,177.6 173.8,177.8 174.3,178.1 174.8,178.3 175.3,178.6 175.8,178.8 176.3,179.1 176.8,179.3 177.3,179.6 177.8,179.8 178.3,180.1 178.8,180.3 179.3,180.6 179.8,180.8 180.3,181 180.8,181.3 181.3,181.5 181.8,181.7 182.3,181.9 182.8,182.1 183.3,182.4 183.8,182.6 184.3,182.8 184.8,182.9 185.3,183.1 185.8,183.3 186.3,183.5 186.8,183.7 187.3,183.8 187.8,184 188.3,184.1 188.8,184.3 189.3,184.4 189.8,184.6 190.3,184.7 190.8,184.8 191.3,184.9 191.8,185.1 192.3,185.2 192.8,185.3 193.3,185.4 193.8,185.5 194.3,185.6 194.8,185.7 195.3,185.7 195.8,185.8 196.3,185.9 196.8,186 197.3,186 197.8,186.1 198.3,186.2 198.8,186.2 199.3,186.3 199.8,186.3 200.3,186.4 200.8,186.4 201.3,186.5 201.8,186.5 202.3,186.6 202.8,186.6 203.3,186.6 203.8,186.7 204.3,186.7 204.8,186.7 205.3,186.8 205.8,186.8 206.3,186.8 206.8,186.9 207.3,186.9 207.8,186.9 208.3,186.9 208.8,186.9 209.3,187 209.8,187 210.3,187 210.8,187 211.3,187 211.8,187.1 212.3,187.1 212.8,187.1 213.3,187.1 213.8,187.1 214.3,187.1 214.8,187.1 215.3,187.1 215.8,187.2 216.3,187.2 216.8,187.2 217.3,187.2 217.8,187.2 218.3,187.2 218.8,187.2 219.3,187.2 219.8,187.2 220.3,187.2 220.8,187.3 221.3,187.3 221.8,187.3 222.3,187.3 222.8,187.3 223.3,187.3 223.8,187.3 224.3,187.3 224.8,187.3 225.3,187.3 225.8,187.3 226.3,187.3 226.8,187.3 227.3,187.3 227.8,187.3 228.3,187.4 228.8,187.4 229.3,187.4 229.8,187.4 230.3,187.4 230.8,187.4 231.3,187.4 231.8,187.4 232.3,187.4 232.8,187.4 233.3,187.4 233.8,187.4 234.3,187.4 234.8,187.4 235.3,187.4 235.8,187.4 236.3,187.4 236.8,187.5 237.3,187.5 237.8,187.5 238.3,187.5 238.8,187.5 239.3,187.5 239.8,187.5 240.3,187.5 240.8,187.5 241.3,187.5 241.8,187.5 242.3,187.5 242.8,187.5 243.3,187.5 243.8,187.5 244.3,187.5 244.8,187.5 245.3,187.5 245.8,187.5 246.3,187.5 246.8,187.5 247.3,187.6 247.8,187.6 248.3,187.6 248.8,187.6 249.3,187.6 249.8,187.6 250.3,187.6 250.8,187.6 251.3,187.6 251.8,187.6 252.3,187.6 252.8,187.6 253.3,187.6 253.8,187.6 254.3,187.6 254.8,187.6 255.3,187.6 255.8,187.6 256.3,187.6 256.8,187.6 257.3,187.6 257.8,187.6 258.3,187.6 258.8,187.6 259.3,187.6 259.8,187.7 260.3,187.7 L260.3,187.7 259.8,187.7 259.3,187.7 258.8,187.7 258.3,187.7 257.8,187.7 257.3,187.7 256.8,187.7 256.3,187.7 255.8,187.7 255.3,187.7 254.8,187.7 254.3,187.7 253.8,187.6 253.3,187.6 252.8,187.6 252.3,187.6 251.8,187.6 251.3,187.6 250.8,187.6 250.3,187.6 249.8,187.6 249.3,187.6 248.8,187.6 248.3,187.6 247.8,187.6 247.3,187.6 246.8,187.6 246.3,187.6 245.8,187.6 245.3,187.6 244.8,187.6 244.3,187.6 243.8,187.6 243.3,187.6 242.8,187.6 242.3,187.6 241.8,187.6 241.3,187.6 240.8,187.6 240.3,187.5 239.8,187.5 239.3,187.5 238.8,187.5 238.3,187.5 237.8,187.5 237.3,187.5 236.8,187.5 236.3,187.5 235.8,187.5 235.3,187.5 234.8,187.5 234.3,187.5 233.8,187.5 233.3,187.5 232.8,187.5 232.3,187.5 231.8,187.5 231.3,187.5 230.8,187.5 230.3,187.5 229.8,187.4 229.3,187.4 228.8,187.4 228.3,187.4 227.8,187.4 227.3,187.4 226.8,187.4 226.3,187.4 225.8,187.4 225.3,187.4 224.8,187.4 224.3,187.4 223.8,187.4 223.3,187.4 222.8,187.4 222.3,187.4 221.8,187.4 221.3,187.4 220.8,187.4 220.3,187.4 219.8,187.3 219.3,187.3 218.8,187.3 218.3,187.3 217.8,187.3 217.3,187.3 216.8,187.3 216.3,187.3 215.8,187.3 215.3,187.3 214.8,187.3 214.3,187.3 213.8,187.3 213.3,187.3 212.8,187.2 212.3,187.2 211.8,187.2 211.3,187.2 210.8,187.2 210.3,187.2 209.8,187.2 209.3,187.2 208.8,187.2 208.3,187.2 207.8,187.2 207.3,187.1 206.8,187.1 206.3,187.1 205.8,187.1 205.3,187.1 204.8,187.1 204.3,187.1 203.8,187.1 203.3,187.1 202.8,187.1 202.3,187 201.8,187 201.3,187 200.8,187 200.3,187 199.8,187 199.3,187 198.8,187 198.3,187 197.8,186.9 197.3,186.9 196.8,186.9 196.3,186.9 195.8,186.9 195.3,186.9 194.8,186.9 194.3,186.9 193.8,186.8 193.3,186.8 192.8,186.8 192.3,186.8 191.8,186.8 191.3,186.8 190.8,186.8 190.3,186.7 189.8,186.7 189.3,186.7 188.8,186.7 188.3,186.7 187.8,186.7 187.3,186.7 186.8,186.7 186.3,186.6 185.8,186.6 185.3,186.6 184.8,186.6 184.3,186.6 183.8,186.6 183.3,186.6 182.8,186.5 182.3,186.5 181.8,186.5 181.3,186.5 180.8,186.5 180.3,186.5 179.8,186.4 179.3,186.4 178.8,186.4 178.3,186.4 177.8,186.4 177.3,186.4 176.8,186.4 176.3,186.3 175.8,186.3 175.3,186.3 174.8,186.3 174.3,186.3 173.8,186.3 173.3,186.2 172.8,186.2 172.3,186.2 171.8,186.2 171.3,186.2 170.8,186.2 170.3,186.1 169.8,186.1 169.3,186.1 168.8,186.1 168.3,186.1 167.8,186.1 167.3,186 166.8,186 166.3,186 165.8,186 165.3,186 164.8,186 164.3,185.9 163.8,185.9 163.3,185.9 162.8,185.9 162.3,185.9 161.8,185.9 161.3,185.8 160.8,185.8 160.3,185.8 159.8,185.8 159.3,185.8 158.8,185.8 158.3,185.7 157.8,185.7 157.3,185.7 156.8,185.7 156.3,185.7 155.8,185.7 155.3,185.7 154.8,185.6 154.3,185.6 153.8,185.6 153.3,185.6 152.8,185.6 152.3,185.6 151.8,185.6 151.3,185.5 150.8,185.5 150.3,185.5 149.8,185.5 149.3,185.5 148.8,185.5 148.3,185.4 147.8,185.4 147.3,185.4 146.8,185.4 146.3,185.4 145.8,185.4 145.3,185.4 144.8,185.3 144.3,185.3 143.8,185.3 143.3,185.3 142.8,185.3 142.3,185.3 141.8,185.3 141.3,185.2 140.8,185.2 140.3,185.2 139.8,185.2 139.3,185.2 138.8,185.2 138.3,185.1 137.8,185.1 137.3,185.1 136.8,185.1 136.3,185.1 135.8,185.1 135.3,185.1 134.8,185 134.3,185 133.8,185 133.3,185 132.8,185 132.3,185 131.8,185 131.3,184.9 130.8,184.9 130.3,184.9 129.8,184.9 129.3,184.9 128.8,184.9 128.3,184.8 127.8,184.8 127.3,184.8 126.8,184.8 126.3,184.8 125.8,184.8 125.3,184.8 124.8,184.7 124.3,184.7 123.8,184.7 123.3,184.7 122.8,184.7 122.3,184.7 121.8,184.6 121.3,184.6 120.8,184.6 120.3,184.6 119.8,184.6 119.3,184.6 118.8,184.6 118.3,184.5 117.8,184.5 117.3,184.5 116.8,184.5 116.3,184.5 115.8,184.5 115.3,184.4 114.8,184.4 114.3,184.4 113.8,184.4 113.3,184.4 112.8,184.4 112.3,184.3 111.8,184.3 111.3,184.3 110.8,184.3 110.3,184.3 109.8,184.3 109.3,184.3 108.8,184.2 108.3,184.2 107.8,184.2 107.3,184.2 106.8,184.2 106.3,184.2 105.8,184.2 105.3,184.1 104.8,184.1 104.3,184.1 103.8,184.1 103.3,184.1 102.8,184.1 102.3,184.1 101.8,184 101.3,184 100.8,184 100.3,184 99.8,184 99.3,184 98.8,184 98.3,184 97.8,183.9 97.3,183.9 96.8,183.9 96.3,183.9 95.8,183.9 95.3,183.9 94.8,183.9 94.3,183.9 93.8,183.9 93.3,183.8 92.8,183.8 92.3,183.8 91.8,183.8 91.3,183.8 90.8,183.8 90.3,183.8 89.8,183.8 89.3,183.8 88.8,183.7 88.3,183.7 87.8,183.7 87.3,183.7 86.8,183.7 86.3,183.7 85.8,183.7 85.3,183.7 84.8,183.7 84.3,183.7 83.8,183.6 83.3,183.6 82.8,183.6 82.3,183.6 81.8,183.6 81.3,183.6 80.8,183.6 80.3,183.6 79.8,183.6 79.3,183.6 78.8,183.6 78.3,183.5 77.8,183.5 77.3,183.5 76.8,183.5 76.3,183.5 75.8,183.5 75.3,183.5 74.8,183.5 74.3,183.5 73.8,183.5 73.3,183.5 72.8,183.5 72.3,183.4 71.8,183.4 71.3,183.4 70.8,183.4 70.3,183.4 69.8,183.4 69.3,183.4 68.8,183.4 68.3,183.4 67.8,183.4 67.3,183.4 66.8,183.3 66.3,183.3 65.8,183.3 65.3,183.3 64.8,183.3 64.3,183.3 63.8,183.3 63.3,183.3 62.8,183.3 62.3,183.3 61.8,183.3 61.3,183.3 60.8,183.2 60.3,183.2 59.8,183.2 59.3,183.2 58.8,183.2 58.3,183.2 57.8,183.2 57.3,183.2 56.8,183.2 56.3,183.2 55.8,183.2 55.3,183.2 54.8,183.1 54.3,183.1 53.8,183.1 53.3,183.1 52.8,183.1 52.3,183.1 51.8,183.1 51.3,183.1 50.8,183.1 50.3,183.1 49.8,183.1 49.3,183.1 48.8,183 48.3,183 47.8,183 47.3,183 46.8,183 46.3,183 45.8,183 45.3,183 44.8,183 44.3,183 43.8,183 43.3,183 42.8,183 42.3,182.9 41.8,182.9 41.3,182.9 40.8,182.9 40.3,182.9 39.8,182.9 39.3,182.9 38.8,182.9 38.3,182.9 37.8,182.9 37.3,182.9 36.8,182.9 36.3,182.9 35.8,182.8 35.3,182.8 34.8,182.8 34.3,182.8 33.8,182.8 33.3,182.8 Z" fill="url(#g3)" /><path d="M33.3,182.8 33.8,182.8 34.3,182.8 34.8,182.8 35.3,182.8 35.8,182.8 36.3,182.8 36.8,182.8 37.3,182.9 37.8,182.9 38.3,182.9 38.8,182.9 39.3,182.9 39.8,182.9 40.3,182.9 40.8,182.9 41.3,182.9 41.8,182.9 42.3,182.9 42.8,182.9 43.3,182.9 43.8,183 44.3,183 44.8,183 45.3,183 45.8,183 46.3,183 46.8,183 47.3,183 47.8,183 48.3,183 48.8,183 49.3,183 49.8,183 50.3,183.1 50.8,183.1 51.3,183.1 51.8,183.1 52.3,183.1 52.8,183.1 53.3,183.1 53.8,183.1 54.3,183.1 54.8,183.1 55.3,183.1 55.8,183.1 56.3,183.2 56.8,183.2 57.3,183.2 57.8,183.2 58.3,183.2 58.8,183.2 59.3,183.2 59.8,183.2 60.3,183.2 60.8,183.2 61.3,183.2 61.8,183.2 62.3,183.2 62.8,183.3 63.3,183.3 63.8,183.3 64.3,183.3 64.8,183.3 65.3,183.3 65.8,183.3 66.3,183.3 66.8,183.3 67.3,183.3 67.8,183.3 68.3,183.3 68.8,183.4 69.3,183.4 69.8,183.4 70.3,183.4 70.8,183.4 71.3,183.4 71.8,183.4 72.3,183.4 72.8,183.4 73.3,183.4 73.8,183.4 74.3,183.5 74.8,183.5 75.3,183.5 75.8,183.5 76.3,183.5 76.8,183.5 77.3,183.5 77.8,183.5 78.3,183.5 78.8,183.5 79.3,183.5 79.8,183.5 80.3,183.6 80.8,183.6 81.3,183.6 81.8,183.6 82.3,183.6 82.8,183.6 83.3,183.6 83.8,183.6 84.3,183.6 84.8,183.6 85.3,183.6 85.8,183.7 86.3,183.7 86.8,183.7 87.3,183.7 87.8,183.7 88.3,183.7 88.8,183.7 89.3,183.7 89.8,183.7 90.3,183.7 90.8,183.8 91.3,183.8 91.8,183.8 92.3,183.8 92.8,183.8 93.3,183.8 93.8,183.8 94.3,183.8 94.8,183.8 95.3,183.8 95.8,183.9 96.3,183.9 96.8,183.9 97.3,183.9 97.8,183.9 98.3,183.9 98.8,183.9 99.3,183.9 99.8,184 100.3,184 100.8,184 101.3,184 101.8,184 102.3,184 102.8,184 103.3,184 103.8,184.1 104.3,184.1 104.8,184.1 105.3,184.1 105.8,184.1 106.3,184.1 106.8,184.1 107.3,184.1 107.8,184.2 108.3,184.2 108.8,184.2 109.3,184.2 109.8,184.2 110.3,184.2 110.8,184.2 111.3,184.3 111.8,184.3 112.3,184.3 112.8,184.3 113.3,184.3 113.8,184.3 114.3,184.4 114.8,184.4 115.3,184.4 115.8,184.4 116.3,184.4 116.8,184.4 117.3,184.4 117.8,184.5 118.3,184.5 118.8,184.5 119.3,184.5 119.8,184.5 120.3,184.5 120.8,184.5 121.3,184.6 121.8,184.6 122.3,184.6 122.8,184.6 123.3,184.6 123.8,184.6 124.3,184.6 124.8,184.7 125.3,184.7 125.8,184.7 126.3,184.7 126.8,184.7 127.3,184.7 127.8,184.7 128.3,184.8 128.8,184.8 129.3,184.8 129.8,184.8 130.3,184.8 130.8,184.8 131.3,184.8 131.8,184.9 132.3,184.9 132.8,184.9 133.3,184.9 133.8,184.9 134.3,184.9 134.8,184.9 135.3,185 135.8,185 136.3,185 136.8,185 137.3,185 137.8,185 138.3,185 138.8,185 139.3,185.1 139.8,185.1 140.3,185.1 140.8,185.1 141.3,185.1 141.8,185.1 142.3,185.1 142.8,185.1 143.3,185.2 143.8,185.2 144.3,185.2 144.8,185.2 145.3,185.2 145.8,185.2 146.3,185.2 146.8,185.2 147.3,185.2 147.8,185.3 148.3,185.3 148.8,185.3 149.3,185.3 149.8,185.3 150.3,185.3 150.8,185.3 151.3,185.3 151.8,185.3 152.3,185.4 152.8,185.4 153.3,185.4 153.8,185.4 154.3,185.4 154.8,185.4 155.3,185.4 155.8,185.4 156.3,185.4 156.8,185.4 157.3,185.4 157.8,185.5 158.3,185.5 158.8,185.5 159.3,185.5 159.8,185.5 160.3,185.5 160.8,185.5 161.3,185.5 161.8,185.5 162.3,185.5 162.8,185.5 163.3,185.5 163.8,185.5 164.3,185.5 164.8,185.5 165.3,185.5 165.8,185.5 166.3,185.5 166.8,185.5 167.3,185.5 167.8,185.5 168.3,185.5 168.8,185.5 169.3,185.5 169.8,185.5 170.3,185.5 170.8,185.4 171.3,185.4 171.8,185.4 172.3,185.3 172.8,185.3 173.3,185.2 173.8,185.1 174.3,185 174.8,184.8 175.3,184.7 175.8,184.5 176.3,184.3 176.8,184 177.3,183.6 177.8,183.3 178.3,182.8 178.8,182.3 179.3,181.6 179.8,180.9 180.3,180.1 180.8,179.2 181.3,178.2 181.8,177 182.3,175.7 182.8,174.3 183.3,172.8 183.8,171.1 184.3,169.4 184.8,167.5 185.3,165.5 185.8,163.5 186.3,161.3 186.8,159.2 187.3,157 187.8,154.8 188.3,152.7 188.8,150.6 189.3,148.7 189.8,146.9 190.3,145.3 190.8,143.9 191.3,142.7 191.8,141.8 192.3,141.2 192.8,140.9 193.3,141 193.8,141.3 194.3,142 194.8,143 195.3,144.2 195.8,145.7 196.3,147.4 196.8,149.3 197.3,151.3 197.8,153.4 198.3,155.5 198.8,157.7 199.3,159.9 199.8,162.1 200.3,164.3 200.8,166.3 201.3,168.3 201.8,170.2 202.3,172 202.8,173.6 203.3,175.2 203.8,176.6 204.3,177.8 204.8,179 205.3,180 205.8,180.9 206.3,181.8 206.8,182.5 207.3,183.1 207.8,183.7 208.3,184.1 208.8,184.5 209.3,184.9 209.8,185.2 210.3,185.4 210.8,185.6 211.3,185.8 211.8,186 212.3,186.1 212.8,186.2 213.3,186.3 213.8,186.4 214.3,186.5 214.8,186.5 215.3,186.6 215.8,186.6 216.3,186.7 216.8,186.7 217.3,186.7 217.8,186.8 218.3,186.8 218.8,186.8 219.3,186.8 219.8,186.9 220.3,186.9 220.8,186.9 221.3,186.9 221.8,187 222.3,187 222.8,187 223.3,187 223.8,187 224.3,187 224.8,187.1 225.3,187.1 225.8,187.1 226.3,187.1 226.8,187.1 227.3,187.1 227.8,187.1 228.3,187.2 228.8,187.2 229.3,187.2 229.8,187.2 230.3,187.2 230.8,187.2 231.3,187.2 231.8,187.2 232.3,187.2 232.8,187.3 233.3,187.3 233.8,187.3 234.3,187.3 234.8,187.3 235.3,187.3 235.8,187.3 236.3,187.3 236.8,187.3 237.3,187.3 237.8,187.4 238.3,187.4 238.8,187.4 239.3,187.4 239.8,187.4 240.3,187.4 240.8,187.4 241.3,187.4 241.8,187.4 242.3,187.4 242.8,187.4 243.3,187.4 243.8,187.4 244.3,187.4 244.8,187.5 245.3,187.5 245.8,187.5 246.3,187.5 246.8,187.5 247.3,187.5 247.8,187.5 248.3,187.5 248.8,187.5 249.3,187.5 249.8,187.5 250.3,187.5 250.8,187.5 251.3,187.5 251.8,187.5 252.3,187.5 252.8,187.5 253.3,187.5 253.8,187.6 254.3,187.6 254.8,187.6 255.3,187.6 255.8,187.6 256.3,187.6 256.8,187.6 257.3,187.6 257.8,187.6 258.3,187.6 258.8,187.6 259.3,187.6 259.8,187.6 260.3,187.6 L260.3,187.7 259.8,187.7 259.3,187.7 258.8,187.7 258.3,187.7 257.8,187.7 257.3,187.7 256.8,187.7 256.3,187.7 255.8,187.7 255.3,187.7 254.8,187.7 254.3,187.7 253.8,187.6 253.3,187.6 252.8,187.6 252.3,187.6 251.8,187.6 251.3,187.6 250.8,187.6 250.3,187.6 249.8,187.6 249.3,187.6 248.8,187.6 248.3,187.6 247.8,187.6 247.3,187.6 246.8,187.6 246.3,187.6 245.8,187.6 245.3,187.6 244.8,187.6 244.3,187.6 243.8,187.6 243.3,187.6 242.8,187.6 242.3,187.6 241.8,187.6 241.3,187.6 240.8,187.6 240.3,187.5 239.8,187.5 239.3,187.5 238.8,187.5 238.3,187.5 237.8,187.5 237.3,187.5 236.8,187.5 236.3,187.5 235.8,187.5 235.3,187.5 234.8,187.5 234.3,187.5 233.8,187.5 233.3,187.5 232.8,187.5 232.3,187.5 231.8,187.5 231.3,187.5 230.8,187.5 230.3,187.5 229.8,187.4 229.3,187.4 228.8,187.4 228.3,187.4 227.8,187.4 227.3,187.4 226.8,187.4 226.3,187.4 225.8,187.4 225.3,187.4 224.8,187.4 224.3,187.4 223.8,187.4 223.3,187.4 222.8,187.4 222.3,187.4 221.8,187.4 221.3,187.4 220.8,187.4 220.3,187.4 219.8,187.3 219.3,187.3 218.8,187.3 218.3,187.3 217.8,187.3 217.3,187.3 216.8,187.3 216.3,187.3 215.8,187.3 215.3,187.3 214.8,187.3 214.3,187.3 213.8,187.3 213.3,187.3 212.8,187.2 212.3,187.2 211.8,187.2 211.3,187.2 210.8,187.2 210.3,187.2 209.8,187.2 209.3,187.2 208.8,187.2 208.3,187.2 207.8,187.2 207.3,187.1 206.8,187.1 206.3,187.1 205.8,187.1 205.3,187.1 204.8,187.1 204.3,187.1 203.8,187.1 203.3,187.1 202.8,187.1 202.3,187 201.8,187 201.3,187 200.8,187 200.3,187 199.8,187 199.3,187 198.8,187 198.3,187 197.8,186.9 197.3,186.9 196.8,186.9 196.3,186.9 195.8,186.9 195.3,186.9 194.8,186.9 194.3,186.9 193.8,186.8 193.3,186.8 192.8,186.8 192.3,186.8 191.8,186.8 191.3,186.8 190.8,186.8 190.3,186.7 189.8,186.7 189.3,186.7 188.8,186.7 188.3,186.7 187.8,186.7 187.3,186.7 186.8,186.7 186.3,186.6 185.8,186.6 185.3,186.6 184.8,186.6 184.3,186.6 183.8,186.6 183.3,186.6 182.8,186.5 182.3,186.5 181.8,186.5 181.3,186.5 180.8,186.5 180.3,186.5 179.8,186.4 179.3,186.4 178.8,186.4 178.3,186.4 177.8,186.4 177.3,186.4 176.8,186.4 176.3,186.3 175.8,186.3 175.3,186.3 174.8,186.3 174.3,186.3 173.8,186.3 173.3,186.2 172.8,186.2 172.3,186.2 171.8,186.2 171.3,186.2 170.8,186.2 170.3,186.1 169.8,186.1 169.3,186.1 168.8,186.1 168.3,186.1 167.8,186.1 167.3,186 166.8,186 166.3,186 165.8,186 165.3,186 164.8,186 164.3,185.9 163.8,185.9 163.3,185.9 162.8,185.9 162.3,185.9 161.8,185.9 161.3,185.8 160.8,185.8 160.3,185.8 159.8,185.8 159.3,185.8 158.8,185.8 158.3,185.7 157.8,185.7 157.3,185.7 156.8,185.7 156.3,185.7 155.8,185.7 155.3,185.7 154.8,185.6 154.3,185.6 153.8,185.6 153.3,185.6 152.8,185.6 152.3,185.6 151.8,185.6 151.3,185.5 150.8,185.5 150.3,185.5 149.8,185.5 149.3,185.5 148.8,185.5 148.3,185.4 147.8,185.4 147.3,185.4 146.8,185.4 146.3,185.4 145.8,185.4 145.3,185.4 144.8,185.3 144.3,185.3 143.8,185.3 143.3,185.3 142.8,185.3 142.3,185.3 141.8,185.3 141.3,185.2 140.8,185.2 140.3,185.2 139.8,185.2 139.3,185.2 138.8,185.2 138.3,185.1 137.8,185.1 137.3,185.1 136.8,185.1 136.3,185.1 135.8,185.1 135.3,185.1 134.8,185 134.3,185 133.8,185 133.3,185 132.8,185 132.3,185 131.8,185 131.3,184.9 130.8,184.9 130.3,184.9 129.8,184.9 129.3,184.9 128.8,184.9 128.3,184.8 127.8,184.8 127.3,184.8 126.8,184.8 126.3,184.8 125.8,184.8 125.3,184.8 124.8,184.7 124.3,184.7 123.8,184.7 123.3,184.7 122.8,184.7 122.3,184.7 121.8,184.6 121.3,184.6 120.8,184.6 120.3,184.6 119.8,184.6 119.3,184.6 118.8,184.6 118.3,184.5 117.8,184.5 117.3,184.5 116.8,184.5 116.3,184.5 115.8,184.5 115.3,184.4 114.8,184.4 114.3,184.4 113.8,184.4 113.3,184.4 112.8,184.4 112.3,184.3 111.8,184.3 111.3,184.3 110.8,184.3 110.3,184.3 109.8,184.3 109.3,184.3 108.8,184.2 108.3,184.2 107.8,184.2 107.3,184.2 106.8,184.2 106.3,184.2 105.8,184.2 105.3,184.1 104.8,184.1 104.3,184.1 103.8,184.1 103.3,184.1 102.8,184.1 102.3,184.1 101.8,184 101.3,184 100.8,184 100.3,184 99.8,184 99.3,184 98.8,184 98.3,184 97.8,183.9 97.3,183.9 96.8,183.9 96.3,183.9 95.8,183.9 95.3,183.9 94.8,183.9 94.3,183.9 93.8,183.9 93.3,183.8 92.8,183.8 92.3,183.8 91.8,183.8 91.3,183.8 90.8,183.8 90.3,183.8 89.8,183.8 89.3,183.8 88.8,183.7 88.3,183.7 87.8,183.7 87.3,183.7 86.8,183.7 86.3,183.7 85.8,183.7 85.3,183.7 84.8,183.7 84.3,183.7 83.8,183.6 83.3,183.6 82.8,183.6 82.3,183.6 81.8,183.6 81.3,183.6 80.8,183.6 80.3,183.6 79.8,183.6 79.3,183.6 78.8,183.6 78.3,183.5 77.8,183.5 77.3,183.5 76.8,183.5 76.3,183.5 75.8,183.5 75.3,183.5 74.8,183.5 74.3,183.5 73.8,183.5 73.3,183.5 72.8,183.5 72.3,183.4 71.8,183.4 71.3,183.4 70.8,183.4 70.3,183.4 69.8,183.4 69.3,183.4 68.8,183.4 68.3,183.4 67.8,183.4 67.3,183.4 66.8,183.3 66.3,183.3 65.8,183.3 65.3,183.3 64.8,183.3 64.3,183.3 63.8,183.3 63.3,183.3 62.8,183.3 62.3,183.3 61.8,183.3 61.3,183.3 60.8,183.2 60.3,183.2 59.8,183.2 59.3,183.2 58.8,183.2 58.3,183.2 57.8,183.2 57.3,183.2 56.8,183.2 56.3,183.2 55.8,183.2 55.3,183.2 54.8,183.1 54.3,183.1 53.8,183.1 53.3,183.1 52.8,183.1 52.3,183.1 51.8,183.1 51.3,183.1 50.8,183.1 50.3,183.1 49.8,183.1 49.3,183.1 48.8,183 48.3,183 47.8,183 47.3,183 46.8,183 46.3,183 45.8,183 45.3,183 44.8,183 44.3,183 43.8,183 43.3,183 42.8,183 42.3,182.9 41.8,182.9 41.3,182.9 40.8,182.9 40.3,182.9 39.8,182.9 39.3,182.9 38.8,182.9 38.3,182.9 37.8,182.9 37.3,182.9 36.8,182.9 36.3,182.9 35.8,182.8 35.3,182.8 34.8,182.8 34.3,182.8 33.8,182.8 33.3,182.8 Z" fill="url(#g4)" /><polyline points="33.3,182.8 33.8,182.8 34.3,182.8 34.8,182.8 35.3,182.8 35.8,182.8 36.3,182.8 36.8,182.8 37.3,182.9 37.8,182.9 38.3,182.9 38.8,182.9 39.3,182.9 39.8,182.9 40.3,182.9 40.8,182.9 41.3,182.9 41.8,182.9 42.3,182.9 42.8,182.9 43.3,182.9 43.8,183 44.3,183 44.8,183 45.3,183 45.8,183 46.3,183 46.8,183 47.3,183 47.8,183 48.3,183 48.8,183 49.3,183 49.8,183 50.3,183.1 50.8,183.1 51.3,183.1 51.8,183.1 52.3,183.1 52.8,183.1 53.3,183.1 53.8,183.1 54.3,183.1 54.8,183.1 55.3,183.1 55.8,183.1 56.3,183.2 56.8,183.2 57.3,183.2 57.8,183.2 58.3,183.2 58.8,183.2 59.3,183.2 59.8,183.2 60.3,183.2 60.8,183.2 61.3,183.2 61.8,183.2 62.3,183.2 62.8,183.3 63.3,183.3 63.8,183.3 64.3,183.3 64.8,183.3 65.3,183.3 65.8,183.3 66.3,183.3 66.8,183.3 67.3,183.3 67.8,183.3 68.3,183.3 68.8,183.4 69.3,183.4 69.8,183.4 70.3,183.4 70.8,183.4 71.3,183.4 71.8,183.4 72.3,183.4 72.8,183.4 73.3,183.4 73.8,183.4 74.3,183.5 74.8,183.5 75.3,183.5 75.8,183.5 76.3,183.5 76.8,183.5 77.3,183.5 77.8,183.5 78.3,183.5 78.8,183.5 79.3,183.5 79.8,183.5 80.3,183.6 80.8,183.6 81.3,183.6 81.8,183.6 82.3,183.6 82.8,183.6 83.3,183.6 83.8,183.6 84.3,183.6 84.8,183.6 85.3,183.6 85.8,183.7 86.3,183.7 86.8,183.7 87.3,183.7 87.8,183.7 88.3,183.7 88.8,183.7 89.3,183.7 89.8,183.7 90.3,183.7 90.8,183.8 91.3,183.8 91.8,183.8 92.3,183.8 92.8,183.8 93.3,183.8 93.8,183.8 94.3,183.8 94.8,183.8 95.3,183.8 95.8,183.9 96.3,183.9 96.8,183.9 97.3,183.9 97.8,183.9 98.3,183.9 98.8,183.9 99.3,183.9 99.8,184 100.3,184 100.8,184 101.3,184 101.8,184 102.3,184 102.8,184 103.3,184 103.8,184.1 104.3,184.1 104.8,184.1 105.3,184.1 105.8,184.1 106.3,184.1 106.8,184.1 107.3,184.1 107.8,184.2 108.3,184.2 108.8,184.2 109.3,184.2 109.8,184.2 110.3,184.2 110.8,184.2 111.3,184.3 111.8,184.3 112.3,184.3 112.8,184.3 113.3,184.3 113.8,184.3 114.3,184.4 114.8,184.4 115.3,184.4 115.8,184.4 116.3,184.4 116.8,184.4 117.3,184.4 117.8,184.5 118.3,184.5 118.8,184.5 119.3,184.5 119.8,184.5 120.3,184.5 120.8,184.5 121.3,184.6 121.8,184.6 122.3,184.6 122.8,184.6 123.3,184.6 123.8,184.6 124.3,184.6 124.8,184.7 125.3,184.7 125.8,184.7 126.3,184.7 126.8,184.7 127.3,184.7 127.8,184.7 128.3,184.8 128.8,184.8 129.3,184.8 129.8,184.8 130.3,184.8 130.8,184.8 131.3,184.8 131.8,184.9 132.3,184.9 132.8,184.9 133.3,184.9 133.8,184.9 134.3,184.9 134.8,184.9 135.3,185 135.8,185 136.3,185 136.8,185 137.3,185 137.8,185 138.3,185 138.8,185 139.3,185.1 139.8,185.1 140.3,185.1 140.8,185.1 141.3,185.1 141.8,185.1 142.3,185.1 142.8,185.1 143.3,185.2 143.8,185.2 144.3,185.2 144.8,185.2 145.3,185.2 145.8,185.2 146.3,185.2 146.8,185.2 147.3,185.2 147.8,185.3 148.3,185.3 148.8,185.3 149.3,185.3 149.8,185.3 150.3,185.3 150.8,185.3 151.3,185.3 151.8,185.3 152.3,185.4 152.8,185.4 153.3,185.4 153.8,185.4 154.3,185.4 154.8,185.4 155.3,185.4 155.8,185.4 156.3,185.4 156.8,185.4 157.3,185.4 157.8,185.5 158.3,185.5 158.8,185.5 159.3,185.5 159.8,185.5 160.3,185.5 160.8,185.5 161.3,185.5 161.8,185.5 162.3,185.5 162.8,185.5 163.3,185.5 163.8,185.5 164.3,185.5 164.8,185.5 165.3,185.5 165.8,185.5 166.3,185.5 166.8,185.5 167.3,185.5 167.8,185.5 168.3,185.5 168.8,185.5 169.3,185.5 169.8,185.5 170.3,185.5 170.8,185.4 171.3,185.4 171.8,185.4 172.3,185.3 172.8,185.3 173.3,185.2 173.8,185.1 174.3,185 174.8,184.8 175.3,184.7 175.8,184.5 176.3,184.3 176.8,184 177.3,183.6 177.8,183.3 178.3,182.8 178.8,182.3 179.3,181.6 179.8,180.9 180.3,180.1 180.8,179.2 181.3,178.2 181.8,177 182.3,175.7 182.8,174.3 183.3,172.8 183.8,171.1 184.3,169.4 184.8,167.5 185.3,165.5 185.8,163.5 186.3,161.3 186.8,159.2 187.3,157 187.8,154.8 188.3,152.7 188.8,150.6 189.3,148.7 189.8,146.9 190.3,145.3 190.8,143.9 191.3,142.7 191.8,141.8 192.3,141.2 192.8,140.9 193.3,141 193.8,141.3 194.3,142 194.8,143 195.3,144.2 195.8,145.7 196.3,147.4 196.8,149.3 197.3,151.3 197.8,153.4 198.3,155.5 198.8,157.7 199.3,159.9 199.8,162.1 200.3,164.3 200.8,166.3 201.3,168.3 201.8,170.2 202.3,172 202.8,173.6 203.3,175.2 203.8,176.6 204.3,177.8 204.8,179 205.3,180 205.8,180.9 206.3,181.8 206.8,182.5 207.3,183.1 207.8,183.7 208.3,184.1 208.8,184.5 209.3,184.9 209.8,185.2 210.3,185.4 210.8,185.6 211.3,185.8 211.8,186 212.3,186.1 212.8,186.2 213.3,186.3 213.8,186.4 214.3,186.5 214.8,186.5 215.3,186.6 215.8,186.6 216.3,186.7 216.8,186.7 217.3,186.7 217.8,186.8 218.3,186.8 218.8,186.8 219.3,186.8 219.8,186.9 220.3,186.9 220.8,186.9 221.3,186.9 221.8,187 222.3,187 222.8,187 223.3,187 223.8,187 224.3,187 224.8,187.1 225.3,187.1 225.8,187.1 226.3,187.1 226.8,187.1 227.3,187.1 227.8,187.1 228.3,187.2 228.8,187.2 229.3,187.2 229.8,187.2 230.3,187.2 230.8,187.2 231.3,187.2 231.8,187.2 232.3,187.2 232.8,187.3 233.3,187.3 233.8,187.3 234.3,187.3 234.8,187.3 235.3,187.3 235.8,187.3 236.3,187.3 236.8,187.3 237.3,187.3 237.8,187.4 238.3,187.4 238.8,187.4 239.3,187.4 239.8,187.4 240.3,187.4 240.8,187.4 241.3,187.4 241.8,187.4 242.3,187.4 242.8,187.4 243.3,187.4 243.8,187.4 244.3,187.4 244.8,187.5 245.3,187.5 245.8,187.5 246.3,187.5 246.8,187.5 247.3,187.5 247.8,187.5 248.3,187.5 248.8,187.5 249.3,187.5 249.8,187.5 250.3,187.5 250.8,187.5 251.3,187.5 251.8,187.5 252.3,187.5 252.8,187.5 253.3,187.5 253.8,187.6 254.3,187.6 254.8,187.6 255.3,187.6 255.8,187.6 256.3,187.6 256.8,187.6 257.3,187.6 257.8,187.6 258.3,187.6 258.8,187.6 259.3,187.6 259.8,187.6 260.3,187.6" fill="none" stroke="#d9b8f0" stroke-width="0.5"/><path d="M33.3,182.8 33.8,182.8 34.3,182.8 34.8,182.8 35.3,182.8 35.8,182.8 36.3,182.8 36.8,182.8 37.3,182.8 37.8,182.8 38.3,182.8 38.8,182.8 39.3,182.8 39.8,182.9 40.3,182.9 40.8,182.9 41.3,182.9 41.8,182.9 42.3,182.9 42.8,182.9 43.3,182.9 43.8,182.9 44.3,182.9 44.8,182.9 45.3,182.9 45.8,182.9 46.3,183 46.8,183 47.3,183 47.8,183 48.3,183 48.8,183 49.3,183 49.8,183 50.3,183 50.8,183 51.3,183 51.8,183 52.3,183 52.8,183.1 53.3,183.1 53.8,183.1 54.3,183.1 54.8,183.1 55.3,183.1 55.8,183.1 56.3,183.1 56.8,183.1 57.3,183.1 57.8,183.1 58.3,183.1 58.8,183.1 59.3,183.2 59.8,183.2 60.3,183.2 60.8,183.2 61.3,183.2 61.8,183.2 62.3,183.2 62.8,183.2 63.3,183.2 63.8,183.2 64.3,183.2 64.8,183.2 65.3,183.2 65.8,183.3 66.3,183.3 66.8,183.3 67.3,183.3 67.8,183.3 68.3,183.3 68.8,183.3 69.3,183.3 69.8,183.3 70.3,183.3 70.8,183.3 71.3,183.3 71.8,183.4 72.3,183.4 72.8,183.4 73.3,183.4 73.8,183.4 74.3,183.4 74.8,183.4 75.3,183.4 75.8,183.4 76.3,183.4 76.8,183.4 77.3,183.4 77.8,183.5 78.3,183.5 78.8,183.5 79.3,183.5 79.8,183.5 80.3,183.5 80.8,183.5 81.3,183.5 81.8,183.5 82.3,183.5 82.8,183.5 83.3,183.5 83.8,183.6 84.3,183.6 84.8,183.6 85.3,183.6 85.8,183.6 86.3,183.6 86.8,183.6 87.3,183.6 87.8,183.6 88.3,183.6 88.8,183.6 89.3,183.7 89.8,183.7 90.3,183.7 90.8,183.7 91.3,183.7 91.8,183.7 92.3,183.7 92.8,183.7 93.3,183.7 93.8,183.7 94.3,183.8 94.8,183.8 95.3,183.8 95.8,183.8 96.3,183.8 96.8,183.8 97.3,183.8 97.8,183.8 98.3,183.8 98.8,183.8 99.3,183.9 99.8,183.9 100.3,183.9 100.8,183.9 101.3,183.9 101.8,183.9 102.3,183.9 102.8,183.9 103.3,184 103.8,184 104.3,184 104.8,184 105.3,184 105.8,184 106.3,184 106.8,184 107.3,184.1 107.8,184.1 108.3,184.1 108.8,184.1 109.3,184.1 109.8,184.1 110.3,184.1 110.8,184.1 111.3,184.2 111.8,184.2 112.3,184.2 112.8,184.2 113.3,184.2 113.8,184.2 114.3,184.2 114.8,184.3 115.3,184.3 115.8,184.3 116.3,184.3 116.8,184.3 117.3,184.3 117.8,184.3 118.3,184.4 118.8,184.4 119.3,184.4 119.8,184.4 120.3,184.4 120.8,184.4 121.3,184.4 121.8,184.5 122.3,184.5 122.8,184.5 123.3,184.5 123.8,184.5 124.3,184.5 124.8,184.5 125.3,184.5 125.8,184.6 126.3,184.6 126.8,184.6 127.3,184.6 127.8,184.6 128.3,184.6 128.8,184.6 129.3,184.6 129.8,184.7 130.3,184.7 130.8,184.7 131.3,184.7 131.8,184.7 132.3,184.7 132.8,184.7 133.3,184.7 133.8,184.8 134.3,184.8 134.8,184.8 135.3,184.8 135.8,184.8 136.3,184.8 136.8,184.8 137.3,184.8 137.8,184.8 138.3,184.9 138.8,184.9 139.3,184.9 139.8,184.9 140.3,184.9 140.8,184.9 141.3,184.9 141.8,184.9 142.3,184.9 142.8,184.9 143.3,185 143.8,185 144.3,185 144.8,185 145.3,185 145.8,185 146.3,185 146.8,185 147.3,185 147.8,185 148.3,185 148.8,185 149.3,185.1 149.8,185.1 150.3,185.1 150.8,185.1 151.3,185.1 151.8,185.1 152.3,185.1 152.8,185.1 153.3,185.1 153.8,185.1 154.3,185.1 154.8,185.1 155.3,185.1 155.8,185.1 156.3,185.1 156.8,185.2 157.3,185.2 157.8,185.2 158.3,185.2 158.8,185.2 159.3,185.2 159.8,185.2 160.3,185.2 160.8,185.2 161.3,185.2 161.8,185.2 162.3,185.2 162.8,185.2 163.3,185.2 163.8,185.2 164.3,185.2 164.8,185.2 165.3,185.2 165.8,185.2 166.3,185.2 166.8,185.2 167.3,185.2 167.8,185.2 168.3,185.2 168.8,185.2 169.3,185.1 169.8,185.1 170.3,185.1 170.8,185.1 171.3,185.1 171.8,185.1 172.3,185.1 172.8,185.1 173.3,185 173.8,185 174.3,185 174.8,185 175.3,185 175.8,184.9 176.3,184.9 176.8,184.9 177.3,184.9 177.8,184.8 178.3,184.8 178.8,184.7 179.3,184.7 179.8,184.7 180.3,184.6 180.8,184.6 181.3,184.5 181.8,184.4 182.3,184.4 182.8,184.3 183.3,184.2 183.8,184.2 184.3,184.1 184.8,184 185.3,183.9 185.8,183.8 186.3,183.7 186.8,183.5 187.3,183.4 187.8,183.3 188.3,183.1 188.8,182.9 189.3,182.7 189.8,182.5 190.3,182.3 190.8,182 191.3,181.7 191.8,181.4 192.3,181 192.8,180.5 193.3,179.9 193.8,179.2 194.3,178.4 194.8,177.4 195.3,176.2 195.8,174.8 196.3,173.1 196.8,171.1 197.3,168.7 197.8,165.8 198.3,162.5 198.8,158.7 199.3,154.3 199.8,149.4 200.3,143.9 200.8,137.7 201.3,131 201.8,123.8 202.3,116.2 202.8,108.2 203.3,100 203.8,91.7 204.3,83.6 204.8,75.8 205.3,68.7 205.8,62.5 206.3,57.5 206.8,53.9 207.3,52 207.8,51.8 208.3,52.9 208.8,55.2 209.3,58.6 209.8,63 210.3,68.2 210.8,74 211.3,80.3 211.8,87 212.3,93.8 212.8,100.7 213.3,107.6 213.8,114.3 214.3,120.8 214.8,127 215.3,132.9 215.8,138.4 216.3,143.6 216.8,148.3 217.3,152.6 217.8,156.5 218.3,160 218.8,163.1 219.3,165.9 219.8,168.4 220.3,170.5 220.8,172.4 221.3,174 221.8,175.4 222.3,176.6 222.8,177.6 223.3,178.5 223.8,179.3 224.3,179.9 224.8,180.5 225.3,181 225.8,181.4 226.3,181.8 226.8,182.2 227.3,182.5 227.8,182.7 228.3,183 228.8,183.2 229.3,183.4 229.8,183.6 230.3,183.7 230.8,183.9 231.3,184 231.8,184.2 232.3,184.3 232.8,184.4 233.3,184.5 233.8,184.7 234.3,184.8 234.8,184.9 235.3,185 235.8,185 236.3,185.1 236.8,185.2 237.3,185.3 237.8,185.4 238.3,185.4 238.8,185.5 239.3,185.6 239.8,185.6 240.3,185.7 240.8,185.7 241.3,185.8 241.8,185.9 242.3,185.9 242.8,186 243.3,186 243.8,186 244.3,186.1 244.8,186.1 245.3,186.2 245.8,186.2 246.3,186.3 246.8,186.3 247.3,186.3 247.8,186.4 248.3,186.4 248.8,186.4 249.3,186.5 249.8,186.5 250.3,186.5 250.8,186.5 251.3,186.6 251.8,186.6 252.3,186.6 252.8,186.7 253.3,186.7 253.8,186.7 254.3,186.7 254.8,186.7 255.3,186.8 255.8,186.8 256.3,186.8 256.8,186.8 257.3,186.9 257.8,186.9 258.3,186.9 258.8,186.9 259.3,186.9 259.8,186.9 260.3,187 L260.3,187.7 259.8,187.7 259.3,187.7 258.8,187.7 258.3,187.7 257.8,187.7 257.3,187.7 256.8,187.7 256.3,187.7 255.8,187.7 255.3,187.7 254.8,187.7 254.3,187.7 253.8,187.6 253.3,187.6 252.8,187.6 252.3,187.6 251.8,187.6 251.3,187.6 250.8,187.6 250.3,187.6 249.8,187.6 249.3,187.6 248.8,187.6 248.3,187.6 247.8,187.6 247.3,187.6 246.8,187.6 246.3,187.6 245.8,187.6 245.3,187.6 244.8,187.6 244.3,187.6 243.8,187.6 243.3,187.6 242.8,187.6 242.3,187.6 241.8,187.6 241.3,187.6 240.8,187.6 240.3,187.5 239.8,187.5 239.3,187.5 238.8,187.5 238.3,187.5 237.8,187.5 237.3,187.5 236.8,187.5 236.3,187.5 235.8,187.5 235.3,187.5 234.8,187.5 234.3,187.5 233.8,187.5 233.3,187.5 232.8,187.5 232.3,187.5 231.8,187.5 231.3,187.5 230.8,187.5 230.3,187.5 229.8,187.4 229.3,187.4 228.8,187.4 228.3,187.4 227.8,187.4 227.3,187.4 226.8,187.4 226.3,187.4 225.8,187.4 225.3,187.4 224.8,187.4 224.3,187.4 223.8,187.4 223.3,187.4 222.8,187.4 222.3,187.4 221.8,187.4 221.3,187.4 220.8,187.4 220.3,187.4 219.8,187.3 219.3,187.3 218.8,187.3 218.3,187.3 217.8,187.3 217.3,187.3 216.8,187.3 216.3,187.3 215.8,187.3 215.3,187.3 214.8,187.3 214.3,187.3 213.8,187.3 213.3,187.3 212.8,187.2 212.3,187.2 211.8,187.2 211.3,187.2 210.8,187.2 210.3,187.2 209.8,187.2 209.3,187.2 208.8,187.2 208.3,187.2 207.8,187.2 207.3,187.1 206.8,187.1 206.3,187.1 205.8,187.1 205.3,187.1 204.8,187.1 204.3,187.1 203.8,187.1 203.3,187.1 202.8,187.1 202.3,187 201.8,187 201.3,187 200.8,187 200.3,187 199.8,187 199.3,187 198.8,187 198.3,187 197.8,186.9 197.3,186.9 196.8,186.9 196.3,186.9 195.8,186.9 195.3,186.9 194.8,186.9 194.3,186.9 193.8,186.8 193.3,186.8 192.8,186.8 192.3,186.8 191.8,186.8 191.3,186.8 190.8,186.8 190.3,186.7 189.8,186.7 189.3,186.7 188.8,186.7 188.3,186.7 187.8,186.7 187.3,186.7 186.8,186.7 186.3,186.6 185.8,186.6 185.3,186.6 184.8,186.6 184.3,186.6 183.8,186.6 183.3,186.6 182.8,186.5 182.3,186.5 181.8,186.5 181.3,186.5 180.8,186.5 180.3,186.5 179.8,186.4 179.3,186.4 178.8,186.4 178.3,186.4 177.8,186.4 177.3,186.4 176.8,186.4 176.3,186.3 175.8,186.3 175.3,186.3 174.8,186.3 174.3,186.3 173.8,186.3 173.3,186.2 172.8,186.2 172.3,186.2 171.8,186.2 171.3,186.2 170.8,186.2 170.3,186.1 169.8,186.1 169.3,186.1 168.8,186.1 168.3,186.1 167.8,186.1 167.3,186 166.8,186 166.3,186 165.8,186 165.3,186 164.8,186 164.3,185.9 163.8,185.9 163.3,185.9 162.8,185.9 162.3,185.9 161.8,185.9 161.3,185.8 160.8,185.8 160.3,185.8 159.8,185.8 159.3,185.8 158.8,185.8 158.3,185.7 157.8,185.7 157.3,185.7 156.8,185.7 156.3,185.7 155.8,185.7 155.3,185.7 154.8,185.6 154.3,185.6 153.8,185.6 153.3,185.6 152.8,185.6 152.3,185.6 151.8,185.6 151.3,185.5 150.8,185.5 150.3,185.5 149.8,185.5 149.3,185.5 148.8,185.5 148.3,185.4 147.8,185.4 147.3,185.4 146.8,185.4 146.3,185.4 145.8,185.4 145.3,185.4 144.8,185.3 144.3,185.3 143.8,185.3 143.3,185.3 142.8,185.3 142.3,185.3 141.8,185.3 141.3,185.2 140.8,185.2 140.3,185.2 139.8,185.2 139.3,185.2 138.8,185.2 138.3,185.1 137.8,185.1 137.3,185.1 136.8,185.1 136.3,185.1 135.8,185.1 135.3,185.1 134.8,185 134.3,185 133.8,185 133.3,185 132.8,185 132.3,185 131.8,185 131.3,184.9 130.8,184.9 130.3,184.9 129.8,184.9 129.3,184.9 128.8,184.9 128.3,184.8 127.8,184.8 127.3,184.8 126.8,184.8 126.3,184.8 125.8,184.8 125.3,184.8 124.8,184.7 124.3,184.7 123.8,184.7 123.3,184.7 122.8,184.7 122.3,184.7 121.8,184.6 121.3,184.6 120.8,184.6 120.3,184.6 119.8,184.6 119.3,184.6 118.8,184.6 118.3,184.5 117.8,184.5 117.3,184.5 116.8,184.5 116.3,184.5 115.8,184.5 115.3,184.4 114.8,184.4 114.3,184.4 113.8,184.4 113.3,184.4 112.8,184.4 112.3,184.3 111.8,184.3 111.3,184.3 110.8,184.3 110.3,184.3 109.8,184.3 109.3,184.3 108.8,184.2 108.3,184.2 107.8,184.2 107.3,184.2 106.8,184.2 106.3,184.2 105.8,184.2 105.3,184.1 104.8,184.1 104.3,184.1 103.8,184.1 103.3,184.1 102.8,184.1 102.3,184.1 101.8,184 101.3,184 100.8,184 100.3,184 99.8,184 99.3,184 98.8,184 98.3,184 97.8,183.9 97.3,183.9 96.8,183.9 96.3,183.9 95.8,183.9 95.3,183.9 94.8,183.9 94.3,183.9 93.8,183.9 93.3,183.8 92.8,183.8 92.3,183.8 91.8,183.8 91.3,183.8 90.8,183.8 90.3,183.8 89.8,183.8 89.3,183.8 88.8,183.7 88.3,183.7 87.8,183.7 87.3,183.7 86.8,183.7 86.3,183.7 85.8,183.7 85.3,183.7 84.8,183.7 84.3,183.7 83.8,183.6 83.3,183.6 82.8,183.6 82.3,183.6 81.8,183.6 81.3,183.6 80.8,183.6 80.3,183.6 79.8,183.6 79.3,183.6 78.8,183.6 78.3,183.5 77.8,183.5 77.3,183.5 76.8,183.5 76.3,183.5 75.8,183.5 75.3,183.5 74.8,183.5 74.3,183.5 73.8,183.5 73.3,183.5 72.8,183.5 72.3,183.4 71.8,183.4 71.3,183.4 70.8,183.4 70.3,183.4 69.8,183.4 69.3,183.4 68.8,183.4 68.3,183.4 67.8,183.4 67.3,183.4 66.8,183.3 66.3,183.3 65.8,183.3 65.3,183.3 64.8,183.3 64.3,183.3 63.8,183.3 63.3,183.3 62.8,183.3 62.3,183.3 61.8,183.3 61.3,183.3 60.8,183.2 60.3,183.2 59.8,183.2 59.3,183.2 58.8,183.2 58.3,183.2 57.8,183.2 57.3,183.2 56.8,183.2 56.3,183.2 55.8,183.2 55.3,183.2 54.8,183.1 54.3,183.1 53.8,183.1 53.3,183.1 52.8,183.1 52.3,183.1 51.8,183.1 51.3,183.1 50.8,183.1 50.3,183.1 49.8,183.1 49.3,183.1 48.8,183 48.3,183 47.8,183 47.3,183 46.8,183 46.3,183 45.8,183 45.3,183 44.8,183 44.3,183 43.8,183 43.3,183 42.8,183 42.3,182.9 41.8,182.9 41.3,182.9 40.8,182.9 40.3,182.9 39.8,182.9 39.3,182.9 38.8,182.9 38.3,182.9 37.8,182.9 37.3,182.9 36.8,182.9 36.3,182.9 35.8,182.8 35.3,182.8 34.8,182.8 34.3,182.8 33.8,182.8 33.3,182.8 Z" fill="url(#g5)" /><polyline points="33.3,182.8 33.8,182.8 34.3,182.8 34.8,182.8 35.3,182.8 35.8,182.8 36.3,182.8 36.8,182.8 37.3,182.8 37.8,182.8 38.3,182.8 38.8,182.8 39.3,182.8 39.8,182.9 40.3,182.9 40.8,182.9 41.3,182.9 41.8,182.9 42.3,182.9 42.8,182.9 43.3,182.9 43.8,182.9 44.3,182.9 44.8,182.9 45.3,182.9 45.8,182.9 46.3,183 46.8,183 47.3,183 47.8,183 48.3,183 48.8,183 49.3,183 49.8,183 50.3,183 50.8,183 51.3,183 51.8,183 52.3,183 52.8,183.1 53.3,183.1 53.8,183.1 54.3,183.1 54.8,183.1 55.3,183.1 55.8,183.1 56.3,183.1 56.8,183.1 57.3,183.1 57.8,183.1 58.3,183.1 58.8,183.1 59.3,183.2 59.8,183.2 60.3,183.2 60.8,183.2 61.3,183.2 61.8,183.2 62.3,183.2 62.8,183.2 63.3,183.2 63.8,183.2 64.3,183.2 64.8,183.2 65.3,183.2 65.8,183.3 66.3,183.3 66.8,183.3 67.3,183.3 67.8,183.3 68.3,183.3 68.8,183.3 69.3,183.3 69.8,183.3 70.3,183.3 70.8,183.3 71.3,183.3 71.8,183.4 72.3,183.4 72.8,183.4 73.3,183.4 73.8,183.4 74.3,183.4 74.8,183.4 75.3,183.4 75.8,183.4 76.3,183.4 76.8,183.4 77.3,183.4 77.8,183.5 78.3,183.5 78.8,183.5 79.3,183.5 79.8,183.5 80.3,183.5 80.8,183.5 81.3,183.5 81.8,183.5 82.3,183.5 82.8,183.5 83.3,183.5 83.8,183.6 84.3,183.6 84.8,183.6 85.3,183.6 85.8,183.6 86.3,183.6 86.8,183.6 87.3,183.6 87.8,183.6 88.3,183.6 88.8,183.6 89.3,183.7 89.8,183.7 90.3,183.7 90.8,183.7 91.3,183.7 91.8,183.7 92.3,183.7 92.8,183.7 93.3,183.7 93.8,183.7 94.3,183.8 94.8,183.8 95.3,183.8 95.8,183.8 96.3,183.8 96.8,183.8 97.3,183.8 97.8,183.8 98.3,183.8 98.8,183.8 99.3,183.9 99.8,183.9 100.3,183.9 100.8,183.9 101.3,183.9 101.8,183.9 102.3,183.9 102.8,183.9 103.3,184 103.8,184 104.3,184 104.8,184 105.3,184 105.8,184 106.3,184 106.8,184 107.3,184.1 107.8,184.1 108.3,184.1 108.8,184.1 109.3,184.1 109.8,184.1 110.3,184.1 110.8,184.1 111.3,184.2 111.8,184.2 112.3,184.2 112.8,184.2 113.3,184.2 113.8,184.2 114.3,184.2 114.8,184.3 115.3,184.3 115.8,184.3 116.3,184.3 116.8,184.3 117.3,184.3 117.8,184.3 118.3,184.4 118.8,184.4 119.3,184.4 119.8,184.4 120.3,184.4 120.8,184.4 121.3,184.4 121.8,184.5 122.3,184.5 122.8,184.5 123.3,184.5 123.8,184.5 124.3,184.5 124.8,184.5 125.3,184.5 125.8,184.6 126.3,184.6 126.8,184.6 127.3,184.6 127.8,184.6 128.3,184.6 128.8,184.6 129.3,184.6 129.8,184.7 130.3,184.7 130.8,184.7 131.3,184.7 131.8,184.7 132.3,184.7 132.8,184.7 133.3,184.7 133.8,184.8 134.3,184.8 134.8,184.8 135.3,184.8 135.8,184.8 136.3,184.8 136.8,184.8 137.3,184.8 137.8,184.8 138.3,184.9 138.8,184.9 139.3,184.9 139.8,184.9 140.3,184.9 140.8,184.9 141.3,184.9 141.8,184.9 142.3,184.9 142.8,184.9 143.3,185 143.8,185 144.3,185 144.8,185 145.3,185 145.8,185 146.3,185 146.8,185 147.3,185 147.8,185 148.3,185 148.8,185 149.3,185.1 149.8,185.1 150.3,185.1 150.8,185.1 151.3,185.1 151.8,185.1 152.3,185.1 152.8,185.1 153.3,185.1 153.8,185.1 154.3,185.1 154.8,185.1 155.3,185.1 155.8,185.1 156.3,185.1 156.8,185.2 157.3,185.2 157.8,185.2 158.3,185.2 158.8,185.2 159.3,185.2 159.8,185.2 160.3,185.2 160.8,185.2 161.3,185.2 161.8,185.2 162.3,185.2 162.8,185.2 163.3,185.2 163.8,185.2 164.3,185.2 164.8,185.2 165.3,185.2 165.8,185.2 166.3,185.2 166.8,185.2 167.3,185.2 167.8,185.2 168.3,185.2 168.8,185.2 169.3,185.1 169.8,185.1 170.3,185.1 170.8,185.1 171.3,185.1 171.8,185.1 172.3,185.1 172.8,185.1 173.3,185 173.8,185 174.3,185 174.8,185 175.3,185 175.8,184.9 176.3,184.9 176.8,184.9 177.3,184.9 177.8,184.8 178.3,184.8 178.8,184.7 179.3,184.7 179.8,184.7 180.3,184.6 180.8,184.6 181.3,184.5 181.8,184.4 182.3,184.4 182.8,184.3 183.3,184.2 183.8,184.2 184.3,184.1 184.8,184 185.3,183.9 185.8,183.8 186.3,183.7 186.8,183.5 187.3,183.4 187.8,183.3 188.3,183.1 188.8,182.9 189.3,182.7 189.8,182.5 190.3,182.3 190.8,182 191.3,181.7 191.8,181.4 192.3,181 192.8,180.5 193.3,179.9 193.8,179.2 194.3,178.4 194.8,177.4 195.3,176.2 195.8,174.8 196.3,173.1 196.8,171.1 197.3,168.7 197.8,165.8 198.3,162.5 198.8,158.7 199.3,154.3 199.8,149.4 200.3,143.9 200.8,137.7 201.3,131 201.8,123.8 202.3,116.2 202.8,108.2 203.3,100 203.8,91.7 204.3,83.6 204.8,75.8 205.3,68.7 205.8,62.5 206.3,57.5 206.8,53.9 207.3,52 207.8,51.8 208.3,52.9 208.8,55.2 209.3,58.6 209.8,63 210.3,68.2 210.8,74 211.3,80.3 211.8,87 212.3,93.8 212.8,100.7 213.3,107.6 213.8,114.3 214.3,120.8 214.8,127 215.3,132.9 215.8,138.4 216.3,143.6 216.8,148.3 217.3,152.6 217.8,156.5 218.3,160 218.8,163.1 219.3,165.9 219.8,168.4 220.3,170.5 220.8,172.4 221.3,174 221.8,175.4 222.3,176.6 222.8,177.6 223.3,178.5 223.8,179.3 224.3,179.9 224.8,180.5 225.3,181 225.8,181.4 226.3,181.8 226.8,182.2 227.3,182.5 227.8,182.7 228.3,183 228.8,183.2 229.3,183.4 229.8,183.6 230.3,183.7 230.8,183.9 231.3,184 231.8,184.2 232.3,184.3 232.8,184.4 233.3,184.5 233.8,184.7 234.3,184.8 234.8,184.9 235.3,185 235.8,185 236.3,185.1 236.8,185.2 237.3,185.3 237.8,185.4 238.3,185.4 238.8,185.5 239.3,185.6 239.8,185.6 240.3,185.7 240.8,185.7 241.3,185.8 241.8,185.9 242.3,185.9 242.8,186 243.3,186 243.8,186 244.3,186.1 244.8,186.1 245.3,186.2 245.8,186.2 246.3,186.3 246.8,186.3 247.3,186.3 247.8,186.4 248.3,186.4 248.8,186.4 249.3,186.5 249.8,186.5 250.3,186.5 250.8,186.5 251.3,186.6 251.8,186.6 252.3,186.6 252.8,186.7 253.3,186.7 253.8,186.7 254.3,186.7 254.8,186.7 255.3,186.8 255.8,186.8 256.3,186.8 256.8,186.8 257.3,186.9 257.8,186.9 258.3,186.9 258.8,186.9 259.3,186.9 259.8,186.9 260.3,187" fill="none" stroke="#b8dcc0" stroke-width="0.5"/><polyline points="33.3,176.5 33.8,176.1 34.3,177 34.8,176 35.3,176.8 35.8,176.4 36.3,175.9 36.8,176.7 37.3,175.8 37.8,176.5 38.3,175.8 38.8,175.8 39.3,176.4 39.8,177.1 40.3,175.8 40.8,176 41.3,176.7 41.8,177.2 42.3,176.5 42.8,176.2 43.3,177.2 43.8,175.5 44.3,177 44.8,175.9 45.3,175.6 45.8,175.5 46.3,175.9 46.8,176.7 47.3,175.6 47.8,176.3 48.3,176.3 48.8,175.8 49.3,176.1 49.8,175.2 50.3,175.2 50.8,175.4 51.3,176.2 51.8,175.8 52.3,175.5 52.8,176 53.3,175.7 53.8,175.4 54.3,176.3 54.8,176.1 55.3,175.3 55.8,175.8 56.3,175.7 56.8,176.3 57.3,176 57.8,175.2 58.3,176.4 58.8,174.8 59.3,175.4 59.8,175.9 60.3,174.8 60.8,175.4 61.3,174.6 61.8,175.7 62.3,175.8 62.8,175.4 63.3,175.9 63.8,174.9 64.3,175.5 64.8,175.3 65.3,175.2 65.8,175 66.3,175.6 66.8,175.8 67.3,174.9 67.8,175.1 68.3,174 68.8,175.1 69.3,174.9 69.8,175.5 70.3,175.1 70.8,174.1 71.3,174.2 71.8,174.7 72.3,173.4 72.8,174.1 73.3,173.5 73.8,173.4 74.3,173.2 74.8,174.4 75.3,173.1 75.8,173.3 76.3,173.4 76.8,174.2 77.3,172.7 77.8,173.3 78.3,173.3 78.8,173.8 79.3,173.6 79.8,173.6 80.3,172.5 80.8,172.6 81.3,172.4 81.8,173.3 82.3,173.3 82.8,171.7 83.3,171.7 83.8,171.7 84.3,171.6 84.8,171.9 85.3,172 85.8,171.4 86.3,170.8 86.8,171.4 87.3,171.3 87.8,171.5 88.3,172.1 88.8,171.6 89.3,171.2 89.8,171.2 90.3,171.3 90.8,170.1 91.3,171.5 91.8,171.2 92.3,171.3 92.8,171.1 93.3,170.3 93.8,170.2 94.3,169.6 94.8,170.5 95.3,169.5 95.8,169.5 96.3,169.7 96.8,169.6 97.3,169.8 97.8,169.4 98.3,169.2 98.8,169.5 99.3,169.4 99.8,169.8 100.3,169.2 100.8,170.6 101.3,170.1 101.8,169.4 102.3,169.5 102.8,169.6 103.3,169.6 103.8,169.2 104.3,170.4 104.8,170.6 105.3,169.7 105.8,169.7 106.3,169 106.8,169 107.3,169.4 107.8,169.3 108.3,170.1 108.8,169 109.3,168.8 109.8,170.2 110.3,169.5 110.8,168.9 111.3,169.5 111.8,168.6 112.3,169.4 112.8,170.1 113.3,169.9 113.8,169.6 114.3,168.9 114.8,169 115.3,168.7 115.8,169.6 116.3,169.2 116.8,169.6 117.3,168.8 117.8,168.6 118.3,169.4 118.8,169.3 119.3,169.2 119.8,168.4 120.3,168.4 120.8,168.3 121.3,168.7 121.8,168.3 122.3,168.9 122.8,168.1 123.3,167.8 123.8,167.7 124.3,168.5 124.8,167.9 125.3,167.2 125.8,168.2 126.3,167.9 126.8,167.2 127.3,167.3 127.8,168 128.3,167.2 128.8,167.5 129.3,166.7 129.8,167.5 130.3,166.6 130.8,167.5 131.3,166.6 131.8,164.8 132.3,166.8 132.8,167.1 133.3,166.9 133.8,166.1 134.3,166.1 134.8,166.3 135.3,164.7 135.8,165.9 136.3,166.1 136.8,165.8 137.3,165.8 137.8,165.1 138.3,164.1 138.8,165.2 139.3,165.7 139.8,165.2 140.3,165.4 140.8,164.7 141.3,164.8 141.8,165.4 142.3,165 142.8,165.4 143.3,164.9 143.8,164.7 144.3,164.6 144.8,164.5 145.3,164.7 145.8,164.9 146.3,164.4 146.8,164.4 147.3,163.7 147.8,163.5 148.3,164.3 148.8,163.5 149.3,162.7 149.8,164.3 150.3,164.2 150.8,163.6 151.3,163.9 151.8,163.4 152.3,163.2 152.8,163.1 153.3,162.7 153.8,162.7 154.3,163.4 154.8,162.6 155.3,163.5 155.8,162.6 156.3,162.5 156.8,162.1 157.3,163.4 157.8,161.2 158.3,162.9 158.8,161.2 159.3,161.1 159.8,162.7 160.3,161.9 160.8,161.8 161.3,162.2 161.8,162.1 162.3,160.9 162.8,161.2 163.3,161.1 163.8,161.3 164.3,161.7 164.8,161.2 165.3,160.5 165.8,160.3 166.3,160.8 166.8,160.5 167.3,159.9 167.8,160.1 168.3,160.4 168.8,159.9 169.3,160.3 169.8,159.9 170.3,159.5 170.8,158.8 171.3,158.5 171.8,158.4 172.3,157.3 172.8,157 173.3,156.8 173.8,156.5 174.3,156.2 174.8,155.8 175.3,155.5 175.8,155.1 176.3,154.7 176.8,154.3 177.3,153.9 177.8,153.4 178.3,154.4 178.8,154 179.3,153.5 179.8,152.8 180.3,151.9 180.8,150.7 181.3,149.4 181.8,148 182.3,146.5 182.8,145 183.3,143.4 183.8,141.8 184.3,140.1 184.8,138.4 185.3,136.6 185.8,134.7 186.3,132.8 186.8,130.7 187.3,128.8 187.8,126.8 188.3,125 188.8,123.2 189.3,121.5 189.8,119.8 190.3,118.3 190.8,116.8 191.3,115.5 191.8,114.3 192.3,113.2 192.8,112.1 193.3,111.1 193.8,110.2 194.3,109.5 194.8,108.7 195.3,107.9 195.8,106.9 196.3,105.6 196.8,104.2 197.3,102.6 197.8,100.9 198.3,99.2 198.8,97.5 199.3,95.7 199.8,93.4 200.3,90.9 200.8,86.1 201.3,79.5 201.8,72 202.3,64.8 202.8,58.8 203.3,54.2 203.8,50.1 204.3,46.3 204.8,43 205.3,39.8 205.8,36.8 206.3,34.3 206.8,32.7 207.3,32.9 207.8,35.1 208.3,39 208.8,45.5 209.3,54.7 209.8,62 210.3,68.7 210.8,75 211.3,80.7 211.8,85.8 212.3,90.6 212.8,95.3 213.3,100.3 213.8,105.9 214.3,111.9 214.8,118.3 215.3,124.7 215.8,131.6 216.3,138.1 216.8,143.4 217.3,147.1 217.8,149.9 218.3,152.5 218.8,154.7 219.3,156.7 219.8,158.6 220.3,160.4 220.8,162.1 221.3,163.5 221.8,164.7 222.3,165.7 222.8,166.7 223.3,167.5 223.8,168.3 224.3,169.1 224.8,169.8 225.3,170.5 225.8,171.1 226.3,171.8 226.8,172.4 227.3,173 227.8,173.7 228.3,174.2 228.8,174.6 229.3,175 229.8,175.4 230.3,175.7 230.8,176 231.3,176.3 231.8,176.6 232.3,176.9 232.8,177.2 233.3,177.4 233.8,177.7 234.3,177.9 234.8,178.2 235.3,178.4 235.8,178.6 236.3,178.8 236.8,179 237.3,179.2 237.8,179.4 238.3,179.6 238.8,179.7 239.3,179.9 239.8,180.1 240.3,180.3 240.8,180.5 241.3,180.7 241.8,180.9 242.3,181.1 242.8,181.2 243.3,181.4 243.8,181.6 244.3,181.7 244.8,181.9 245.3,182 245.8,182.2 246.3,182.3 246.8,182.4 247.3,182.6 247.8,182.7 248.3,182.8 248.8,182.9 249.3,183 249.8,183.1 250.3,183.2 250.8,183.3 251.3,183.3 251.8,183.4 252.3,183.4 252.8,183.5 253.3,183.5 253.8,183.6 254.3,183.6 254.8,183.7 255.3,183.7 255.8,183.8 256.3,183.8 256.8,183.8 257.3,183.9 257.8,183.9 258.3,184 258.8,184 259.3,184 259.8,184.1 260.3,184.1" fill="none" stroke="#9a9a9a" stroke-width="0.6"/><polyline points="174,158.5 176.5,156.5 178.5,154.8 180,151.5" fill="none" stroke="#a8a8a8" stroke-width="0.6"/><polyline points="195.5,106 197.3,100 198.6,92 199.6,80 200.6,68 201.8,58 203.8,46" fill="none" stroke="#a8a8a8" stroke-width="0.6"/><polyline points="33.3,181.7 33.8,181.7 34.3,181.7 34.8,181.7 35.3,181.7 35.8,181.7 36.3,181.8 36.8,181.8 37.3,181.8 37.8,181.8 38.3,181.8 38.8,181.8 39.3,181.8 39.8,181.8 40.3,181.8 40.8,181.8 41.3,181.8 41.8,181.8 42.3,181.8 42.8,181.9 43.3,181.9 43.8,181.9 44.3,181.9 44.8,181.9 45.3,181.9 45.8,181.9 46.3,181.9 46.8,181.9 47.3,181.9 47.8,181.9 48.3,181.9 48.8,181.9 49.3,182 49.8,182 50.3,182 50.8,182 51.3,182 51.8,182 52.3,182 52.8,182 53.3,182 53.8,182 54.3,182 54.8,182 55.3,182.1 55.8,182.1 56.3,182.1 56.8,182.1 57.3,182.1 57.8,182.1 58.3,182.1 58.8,182.1 59.3,182.1 59.8,182.1 60.3,182.1 60.8,182.1 61.3,182.2 61.8,182.2 62.3,182.2 62.8,182.2 63.3,182.2 63.8,182.2 64.3,182.2 64.8,182.2 65.3,182.2 65.8,182.2 66.3,182.2 66.8,182.2 67.3,182.3 67.8,182.3 68.3,182.3 68.8,182.3 69.3,182.3 69.8,182.3 70.3,182.3 70.8,182.3 71.3,182.3 71.8,182.3 72.3,182.3 72.8,182.4 73.3,182.4 73.8,182.4 74.3,182.4 74.8,182.4 75.3,182.4 75.8,182.4 76.3,182.4 76.8,182.4 77.3,182.4 77.8,182.4 78.3,182.4 78.8,182.5 79.3,182.5 79.8,182.5 80.3,182.5 80.8,182.5 81.3,182.5 81.8,182.5 82.3,182.5 82.8,182.5 83.3,182.5 83.8,182.5 84.3,182.6 84.8,182.6 85.3,182.6 85.8,182.6 86.3,182.6 86.8,182.6 87.3,182.6 87.8,182.6 88.3,182.6 88.8,182.6 89.3,182.7 89.8,182.7 90.3,182.7 90.8,182.7 91.3,182.7 91.8,182.7 92.3,182.7 92.8,182.7 93.3,182.7 93.8,182.8 94.3,182.8 94.8,182.8 95.3,182.8 95.8,182.8 96.3,182.8 96.8,182.8 97.3,182.8 97.8,182.8 98.3,182.9 98.8,182.9 99.3,182.9 99.8,182.9 100.3,182.9 100.8,182.9 101.3,182.9 101.8,182.9 102.3,183 102.8,183 103.3,183 103.8,183 104.3,183 104.8,183 105.3,183 105.8,183.1 106.3,183.1 106.8,183.1 107.3,183.1 107.8,183.1 108.3,183.1 108.8,183.1 109.3,183.2 109.8,183.2 110.3,183.2 110.8,183.2 111.3,183.2 111.8,183.2 112.3,183.2 112.8,183.3 113.3,183.3 113.8,183.3 114.3,183.3 114.8,183.3 115.3,183.3 115.8,183.4 116.3,183.4 116.8,183.4 117.3,183.4 117.8,183.4 118.3,183.4 118.8,183.5 119.3,183.5 119.8,183.5 120.3,183.5 120.8,183.5 121.3,183.5 121.8,183.5 122.3,183.6 122.8,183.6 123.3,183.6 123.8,183.6 124.3,183.6 124.8,183.6 125.3,183.7 125.8,183.7 126.3,183.7 126.8,183.7 127.3,183.7 127.8,183.7 128.3,183.7 128.8,183.8 129.3,183.8 129.8,183.8 130.3,183.8 130.8,183.8 131.3,183.8 131.8,183.9 132.3,183.9 132.8,183.9 133.3,183.9 133.8,183.9 134.3,183.9 134.8,183.9 135.3,184 135.8,184 136.3,184 136.8,184 137.3,184 137.8,184 138.3,184 138.8,184.1 139.3,184.1 139.8,184.1 140.3,184.1 140.8,184.1 141.3,184.1 141.8,184.2 142.3,184.2 142.8,184.2 143.3,184.2 143.8,184.2 144.3,184.2 144.8,184.2 145.3,184.3 145.8,184.3 146.3,184.3 146.8,184.3 147.3,184.3 147.8,184.3 148.3,184.3 148.8,184.4 149.3,184.4 149.8,184.4 150.3,184.4 150.8,184.4 151.3,184.4 151.8,184.5 152.3,184.5 152.8,184.5 153.3,184.5 153.8,184.5 154.3,184.5 154.8,184.5 155.3,184.6 155.8,184.6 156.3,184.6 156.8,184.6 157.3,184.6 157.8,184.6 158.3,184.6 158.8,184.7 159.3,184.7 159.8,184.7 160.3,184.7 160.8,184.7 161.3,184.7 161.8,184.8 162.3,184.8 162.8,184.8 163.3,184.8 163.8,184.8 164.3,184.8 164.8,184.9 165.3,184.9 165.8,184.9 166.3,184.9 166.8,184.9 167.3,184.9 167.8,185 168.3,185 168.8,185 169.3,185 169.8,185 170.3,185 170.8,185.1 171.3,185.1 171.8,185.1 172.3,185.1 172.8,185.1 173.3,185.1 173.8,185.2 174.3,185.2 174.8,185.2 175.3,185.2 175.8,185.2 176.3,185.2 176.8,185.3 177.3,185.3 177.8,185.3 178.3,185.3 178.8,185.3 179.3,185.3 179.8,185.3 180.3,185.4 180.8,185.4 181.3,185.4 181.8,185.4 182.3,185.4 182.8,185.4 183.3,185.5 183.8,185.5 184.3,185.5 184.8,185.5 185.3,185.5 185.8,185.5 186.3,185.5 186.8,185.6 187.3,185.6 187.8,185.6 188.3,185.6 188.8,185.6 189.3,185.6 189.8,185.6 190.3,185.6 190.8,185.7 191.3,185.7 191.8,185.7 192.3,185.7 192.8,185.7 193.3,185.7 193.8,185.7 194.3,185.8 194.8,185.8 195.3,185.8 195.8,185.8 196.3,185.8 196.8,185.8 197.3,185.8 197.8,185.8 198.3,185.9 198.8,185.9 199.3,185.9 199.8,185.9 200.3,185.9 200.8,185.9 201.3,185.9 201.8,185.9 202.3,185.9 202.8,186 203.3,186 203.8,186 204.3,186 204.8,186 205.3,186 205.8,186 206.3,186 206.8,186 207.3,186 207.8,186.1 208.3,186.1 208.8,186.1 209.3,186.1 209.8,186.1 210.3,186.1 210.8,186.1 211.3,186.1 211.8,186.1 212.3,186.1 212.8,186.1 213.3,186.2 213.8,186.2 214.3,186.2 214.8,186.2 215.3,186.2 215.8,186.2 216.3,186.2 216.8,186.2 217.3,186.2 217.8,186.2 218.3,186.2 218.8,186.2 219.3,186.2 219.8,186.2 220.3,186.3 220.8,186.3 221.3,186.3 221.8,186.3 222.3,186.3 222.8,186.3 223.3,186.3 223.8,186.3 224.3,186.3 224.8,186.3 225.3,186.3 225.8,186.3 226.3,186.3 226.8,186.3 227.3,186.3 227.8,186.3 228.3,186.3 228.8,186.3 229.3,186.3 229.8,186.3 230.3,186.4 230.8,186.4 231.3,186.4 231.8,186.4 232.3,186.4 232.8,186.4 233.3,186.4 233.8,186.4 234.3,186.4 234.8,186.4 235.3,186.4 235.8,186.4 236.3,186.4 236.8,186.4 237.3,186.4 237.8,186.4 238.3,186.4 238.8,186.4 239.3,186.4 239.8,186.4 240.3,186.4 240.8,186.5 241.3,186.5 241.8,186.5 242.3,186.5 242.8,186.5 243.3,186.5 243.8,186.5 244.3,186.5 244.8,186.5 245.3,186.5 245.8,186.5 246.3,186.5 246.8,186.5 247.3,186.5 247.8,186.5 248.3,186.5 248.8,186.5 249.3,186.5 249.8,186.5 250.3,186.5 250.8,186.5 251.3,186.5 251.8,186.5 252.3,186.5 252.8,186.5 253.3,186.5 253.8,186.5 254.3,186.6 254.8,186.6 255.3,186.6 255.8,186.6 256.3,186.6 256.8,186.6 257.3,186.6 257.8,186.6 258.3,186.6 258.8,186.6 259.3,186.6 259.8,186.6 260.3,186.6" fill="none" stroke="#7fe0ea" stroke-width="0.9"/><polyline points="33.3,183.1 33.8,183.1 34.3,183.1 34.8,183.1 35.3,183.1 35.8,183.1 36.3,183.2 36.8,183.2 37.3,183.2 37.8,183.2 38.3,183.2 38.8,183.2 39.3,183.2 39.8,183.2 40.3,183.2 40.8,183.2 41.3,183.2 41.8,183.2 42.3,183.2 42.8,183.3 43.3,183.3 43.8,183.3 44.3,183.3 44.8,183.3 45.3,183.3 45.8,183.3 46.3,183.3 46.8,183.3 47.3,183.3 47.8,183.3 48.3,183.3 48.8,183.3 49.3,183.4 49.8,183.4 50.3,183.4 50.8,183.4 51.3,183.4 51.8,183.4 52.3,183.4 52.8,183.4 53.3,183.4 53.8,183.4 54.3,183.4 54.8,183.4 55.3,183.5 55.8,183.5 56.3,183.5 56.8,183.5 57.3,183.5 57.8,183.5 58.3,183.5 58.8,183.5 59.3,183.5 59.8,183.5 60.3,183.5 60.8,183.5 61.3,183.6 61.8,183.6 62.3,183.6 62.8,183.6 63.3,183.6 63.8,183.6 64.3,183.6 64.8,183.6 65.3,183.6 65.8,183.6 66.3,183.6 66.8,183.6 67.3,183.7 67.8,183.7 68.3,183.7 68.8,183.7 69.3,183.7 69.8,183.7 70.3,183.7 70.8,183.7 71.3,183.7 71.8,183.7 72.3,183.7 72.8,183.8 73.3,183.8 73.8,183.8 74.3,183.8 74.8,183.8 75.3,183.8 75.8,183.8 76.3,183.8 76.8,183.8 77.3,183.8 77.8,183.8 78.3,183.8 78.8,183.9 79.3,183.9 79.8,183.9 80.3,183.9 80.8,183.9 81.3,183.9 81.8,183.9 82.3,183.9 82.8,183.9 83.3,183.9 83.8,183.9 84.3,184 84.8,184 85.3,184 85.8,184 86.3,184 86.8,184 87.3,184 87.8,184 88.3,184 88.8,184 89.3,184.1 89.8,184.1 90.3,184.1 90.8,184.1 91.3,184.1 91.8,184.1 92.3,184.1 92.8,184.1 93.3,184.1 93.8,184.2 94.3,184.2 94.8,184.2 95.3,184.2 95.8,184.2 96.3,184.2 96.8,184.2 97.3,184.2 97.8,184.2 98.3,184.3 98.8,184.3 99.3,184.3 99.8,184.3 100.3,184.3 100.8,184.3 101.3,184.3 101.8,184.3 102.3,184.4 102.8,184.4 103.3,184.4 103.8,184.4 104.3,184.4 104.8,184.4 105.3,184.4 105.8,184.5 106.3,184.5 106.8,184.5 107.3,184.5 107.8,184.5 108.3,184.5 108.8,184.5 109.3,184.6 109.8,184.6 110.3,184.6 110.8,184.6 111.3,184.6 111.8,184.6 112.3,184.6 112.8,184.7 113.3,184.7 113.8,184.7 114.3,184.7 114.8,184.7 115.3,184.7 115.8,184.8 116.3,184.8 116.8,184.8 117.3,184.8 117.8,184.8 118.3,184.8 118.8,184.9 119.3,184.9 119.8,184.9 120.3,184.9 120.8,184.9 121.3,184.9 121.8,184.9 122.3,185 122.8,185 123.3,185 123.8,185 124.3,185 124.8,185 125.3,185.1 125.8,185.1 126.3,185.1 126.8,185.1 127.3,185.1 127.8,185.1 128.3,185.1 128.8,185.2 129.3,185.2 129.8,185.2 130.3,185.2 130.8,185.2 131.3,185.2 131.8,185.3 132.3,185.3 132.8,185.3 133.3,185.3 133.8,185.3 134.3,185.3 134.8,185.3 135.3,185.4 135.8,185.4 136.3,185.4 136.8,185.4 137.3,185.4 137.8,185.4 138.3,185.4 138.8,185.5 139.3,185.5 139.8,185.5 140.3,185.5 140.8,185.5 141.3,185.5 141.8,185.6 142.3,185.6 142.8,185.6 143.3,185.6 143.8,185.6 144.3,185.6 144.8,185.6 145.3,185.7 145.8,185.7 146.3,185.7 146.8,185.7 147.3,185.7 147.8,185.7 148.3,185.7 148.8,185.8 149.3,185.8 149.8,185.8 150.3,185.8 150.8,185.8 151.3,185.8 151.8,185.9 152.3,185.9 152.8,185.9 153.3,185.9 153.8,185.9 154.3,185.9 154.8,185.9 155.3,186 155.8,186 156.3,186 156.8,186 157.3,186 157.8,186 158.3,186 158.8,186.1 159.3,186.1 159.8,186.1 160.3,186.1 160.8,186.1 161.3,186.1 161.8,186.2 162.3,186.2 162.8,186.2 163.3,186.2 163.8,186.2 164.3,186.2 164.8,186.3 165.3,186.3 165.8,186.3 166.3,186.3 166.8,186.3 167.3,186.3 167.8,186.4 168.3,186.4 168.8,186.4 169.3,186.4 169.8,186.4 170.3,186.4 170.8,186.5 171.3,186.5 171.8,186.5 172.3,186.5 172.8,186.5 173.3,186.5 173.8,186.6 174.3,186.6 174.8,186.6 175.3,186.6 175.8,186.6 176.3,186.6 176.8,186.7 177.3,186.7 177.8,186.7 178.3,186.7 178.8,186.7 179.3,186.7 179.8,186.7 180.3,186.8 180.8,186.8 181.3,186.8 181.8,186.8 182.3,186.8 182.8,186.8 183.3,186.9 183.8,186.9 184.3,186.9 184.8,186.9 185.3,186.9 185.8,186.9 186.3,186.9 186.8,187 187.3,187 187.8,187 188.3,187 188.8,187 189.3,187 189.8,187 190.3,187 190.8,187.1 191.3,187.1 191.8,187.1 192.3,187.1 192.8,187.1 193.3,187.1 193.8,187.1 194.3,187.2 194.8,187.2 195.3,187.2 195.8,187.2 196.3,187.2 196.8,187.2 197.3,187.2 197.8,187.2 198.3,187.3 198.8,187.3 199.3,187.3 199.8,187.3 200.3,187.3 200.8,187.3 201.3,187.3 201.8,187.3 202.3,187.3 202.8,187.4 203.3,187.4 203.8,187.4 204.3,187.4 204.8,187.4 205.3,187.4 205.8,187.4 206.3,187.4 206.8,187.4 207.3,187.4 207.8,187.5 208.3,187.5 208.8,187.5 209.3,187.5 209.8,187.5 210.3,187.5 210.8,187.5 211.3,187.5 211.8,187.5 212.3,187.5 212.8,187.5 213.3,187.6 213.8,187.6 214.3,187.6 214.8,187.6 215.3,187.6 215.8,187.6 216.3,187.6 216.8,187.6 217.3,187.6 217.8,187.6 218.3,187.6 218.8,187.6 219.3,187.6 219.8,187.6 220.3,187.7 220.8,187.7 221.3,187.7 221.8,187.7 222.3,187.7 222.8,187.7 223.3,187.7 223.8,187.7 224.3,187.7 224.8,187.7 225.3,187.7 225.8,187.7 226.3,187.7 226.8,187.7 227.3,187.7 227.8,187.7 228.3,187.7 228.8,187.7 229.3,187.7 229.8,187.7 230.3,187.8 230.8,187.8 231.3,187.8 231.8,187.8 232.3,187.8 232.8,187.8 233.3,187.8 233.8,187.8 234.3,187.8 234.8,187.8 235.3,187.8 235.8,187.8 236.3,187.8 236.8,187.8 237.3,187.8 237.8,187.8 238.3,187.8 238.8,187.8 239.3,187.8 239.8,187.8 240.3,187.8 240.8,187.9 241.3,187.9 241.8,187.9 242.3,187.9 242.8,187.9 243.3,187.9 243.8,187.9 244.3,187.9 244.8,187.9 245.3,187.9 245.8,187.9 246.3,187.9 246.8,187.9 247.3,187.9 247.8,187.9 248.3,187.9 248.8,187.9 249.3,187.9 249.8,187.9 250.3,187.9 250.8,187.9 251.3,187.9 251.8,187.9 252.3,187.9 252.8,187.9 253.3,187.9 253.8,187.9 254.3,188 254.8,188 255.3,188 255.8,188 256.3,188 256.8,188 257.3,188 257.8,188 258.3,188 258.8,188 259.3,188 259.8,188 260.3,188" fill="none" stroke="#2f78d8" stroke-width="1.5"/><path d="M33.3,180.4 C36.1,180.3 43.9,180 50,179.6 C56.1,179.2 63.3,179 70,178.2 C76.7,177.4 84.2,175.6 90,174.6 C95.8,173.6 100,173 105,172.2 C110,171.4 115,170.4 120,169.6 C125,168.8 130,167.9 135,167.1 C140,166.3 145.8,165.2 150,164.6 C154.2,164 156.9,164 160,163.4 C163.1,162.8 166.6,161.5 168.7,160.8 C170.8,160.1 171.3,159.9 172.5,159.3 C173.7,158.7 174.8,158 175.7,157.3 C176.6,156.6 177.3,156 178,155.3 C178.7,154.6 179.3,154.5 180.1,152.9 C180.9,151.3 181.8,148.5 182.7,145.9 C183.6,143.3 184.4,140.4 185.3,137.2 C186.2,134 187.1,129.9 188,126.7 C188.9,123.5 189.7,120.5 190.6,118 C191.5,115.5 192.3,113.7 193.2,111.9 C194.1,110.2 195,109.4 195.8,107.5 C196.6,105.6 197.4,102.8 198.1,100.5 C198.8,98.2 199.4,96.1 199.9,93.5 C200.4,90.9 200.6,88.6 200.9,85 C201.2,81.4 201.5,76.5 201.8,72 C202.1,67.5 202.4,62.6 202.9,57.8 C203.4,53 204.1,47.2 204.8,43 C205.5,38.8 206.3,33.1 206.9,32.6 C207.5,32.1 208,35.8 208.4,40 C208.8,44.2 209,51.2 209.5,57.8 C210,64.4 210.5,72.3 211.2,79.6 C211.8,86.9 212.8,94.5 213.4,101.4 C214,108.3 214.5,114.1 215,120.8 C215.5,127.5 216.1,136.5 216.6,141.5 C217.1,146.5 217.5,148.2 218,151 C218.5,153.8 219.1,156 219.7,158.2 C220.3,160.4 220.8,162.3 221.5,164 C222.2,165.7 223.1,167.2 223.9,168.5 C224.7,169.8 225.7,170.9 226.5,172 C227.3,173.1 227.8,173.8 229,174.8 C230.2,175.8 232.2,176.9 234,177.8 C235.8,178.7 237.8,179.3 239.5,180 C241.2,180.7 242.8,181.3 244.5,181.8 C246.2,182.3 248.1,182.8 249.8,183.1 C251.6,183.4 253.2,183.5 255,183.7 C256.8,183.9 259.5,184 260.4,184.1" fill="none" stroke="#ee5555" stroke-width="1.3"/><rect x="32.6" y="6" width="228.5" height="184.2" fill="none" stroke="#111" stroke-width="1.3"/><line x1="33" y1="190.1" x2="33" y2="193.4" stroke="#111" stroke-width="1.1"/><line x1="70.6" y1="190.1" x2="70.6" y2="193.4" stroke="#111" stroke-width="1.1"/><line x1="108.2" y1="190.1" x2="108.2" y2="193.4" stroke="#111" stroke-width="1.1"/><line x1="145.9" y1="190.1" x2="145.9" y2="193.4" stroke="#111" stroke-width="1.1"/><line x1="183.5" y1="190.1" x2="183.5" y2="193.4" stroke="#111" stroke-width="1.1"/><line x1="221.1" y1="190.1" x2="221.1" y2="193.4" stroke="#111" stroke-width="1.1"/><line x1="258.7" y1="190.1" x2="258.7" y2="193.4" stroke="#111" stroke-width="1.1"/><line x1="51.8" y1="190.1" x2="51.8" y2="192.1" stroke="#111" stroke-width="1.1"/><line x1="89.4" y1="190.1" x2="89.4" y2="192.1" stroke="#111" stroke-width="1.1"/><line x1="127" y1="190.1" x2="127" y2="192.1" stroke="#111" stroke-width="1.1"/><line x1="164.7" y1="190.1" x2="164.7" y2="192.1" stroke="#111" stroke-width="1.1"/><line x1="202.3" y1="190.1" x2="202.3" y2="192.1" stroke="#111" stroke-width="1.1"/><line x1="239.9" y1="190.1" x2="239.9" y2="192.1" stroke="#111" stroke-width="1.1"/><text x="33" y="204.3" font-size="10.5" text-anchor="middle" >297</text><text x="70.6" y="204.3" font-size="10.5" text-anchor="middle" >294</text><text x="108.2" y="204.3" font-size="10.5" text-anchor="middle" >291</text><text x="145.9" y="204.3" font-size="10.5" text-anchor="middle" >288</text><text x="183.5" y="204.3" font-size="10.5" text-anchor="middle" >285</text><text x="221.1" y="204.3" font-size="10.5" text-anchor="middle" >282</text><text x="258.7" y="204.3" font-size="10.5" text-anchor="middle" >279</text><text x="147" y="221" font-size="10.3" text-anchor="middle" >Binding Energy (eV)</text><text x="0" y="0" font-size="10.5" text-anchor="middle" transform="translate(24.6,99.2) rotate(-90)">Intensity (a.u.)</text><text x="5.2" y="21.8" font-size="21" text-anchor="start" >a</text><text x="45.8" y="27.6" font-size="11.8" text-anchor="start" >C1s</text><text x="158.5" y="46" font-size="9.6" text-anchor="start" >C-C/C=C</text><line x1="187.5" y1="47.5" x2="198.6" y2="58.3" stroke="#111" stroke-width="0.7"/><polygon points="202.2,61.8 197.5,59.5 199.7,57.2" fill="#111"/><text x="161" y="123.5" font-size="9.6" text-anchor="start" >C</text><line x1="168" y1="125" x2="186" y2="143.4" stroke="#111" stroke-width="0.7"/><polygon points="189.5,147 184.9,144.5 187.1,142.3" fill="#111"/><text x="144.2" y="151.5" font-size="9.2" text-anchor="start" >C-N</text><line x1="150.5" y1="153" x2="157.8" y2="167.5" stroke="#111" stroke-width="0.7"/><polygon points="160,172 156.3,168.2 159.2,166.8" fill="#111"/><text x="94.8" y="167" font-size="9.6" text-anchor="start" >-C=O</text><line x1="108.5" y1="168.5" x2="111.7" y2="173.3" stroke="#111" stroke-width="0.7"/><polygon points="114.5,177.5 110.4,174.2 113.1,172.5" fill="#111"/><path d="M308.9,82.8 309.6,82.7 310.3,82.6 311,82.5 311.7,82.4 312.4,82.3 313.1,82.2 313.8,82.1 314.5,82 315.2,81.9 315.9,81.8 316.6,81.7 317.3,81.6 318,81.5 318.7,81.4 319.4,81.3 320.1,81.2 320.8,81.1 321.5,80.9 322.2,80.8 322.9,80.7 323.6,80.6 324.3,80.4 325,80.3 325.7,80.2 326.4,80.1 327.1,79.9 327.8,79.8 328.5,79.7 329.2,79.5 329.9,79.4 330.6,79.3 331.3,79.2 332,79.1 332.7,78.9 333.4,78.8 334.1,78.7 334.8,78.6 335.5,78.5 336.2,78.4 336.9,78.4 337.6,78.3 338.3,78.2 339,78.1 339.7,78 340.4,77.9 341.1,77.8 341.8,77.8 342.5,77.7 343.2,77.6 343.9,77.6 344.6,77.5 345.3,77.5 346,77.5 346.7,77.4 347.4,77.4 348.1,77.4 348.8,77.4 349.5,77.4 350.2,77.4 350.9,77.5 351.6,77.5 352.3,77.6 353,77.6 353.7,77.7 354.4,77.8 355.1,77.9 355.8,77.9 356.5,78 357.2,78.1 357.9,78.2 358.6,78.3 359.3,78.4 360,78.4 360.7,78.5 361.4,78.6 362.1,78.6 362.8,78.7 363.5,78.7 364.2,78.8 364.9,78.8 365.6,78.9 366.3,78.9 367,79 367.7,79.1 368.4,79.1 369.1,79.2 369.8,79.2 370.5,79.2 371.2,79.3 371.9,79.3 372.6,79.3 373.3,79.3 374,79.3 374.7,79.2 375.4,79.2 376.1,79.1 376.8,79 377.5,78.8 378.2,78.7 378.9,78.5 379.6,78.3 380.3,78.1 381,77.9 381.7,77.7 382.4,77.4 383.1,77.2 383.8,77 384.5,76.8 385.2,76.5 385.9,76.3 386.6,76.1 387.3,75.9 388,75.7 388.7,75.4 389.4,75.2 390.1,75 390.8,74.7 391.5,74.5 392.2,74.3 392.9,74 393.6,73.8 394.3,73.5 395,73.2 395.7,73 396.4,72.7 397.1,72.4 397.8,72.1 398.5,71.8 399.2,71.5 399.9,71.2 400.6,70.9 401.3,70.6 402,70.3 402.7,70 403.4,69.7 404.1,69.4 404.8,69.1 405.5,68.8 406.2,68.5 406.9,68.2 407.6,67.9 408.3,67.6 409,67.3 409.7,67 410.4,66.6 411.1,66.3 411.8,65.9 412.5,65.6 413.2,65.2 413.9,64.9 414.6,64.6 415.3,64.3 416,64 416.7,63.8 417.4,63.7 418.1,63.6 418.8,63.6 419.5,63.6 420.2,63.7 420.9,63.9 421.6,64.2 422.3,64.5 423,64.9 423.7,65.3 424.4,65.8 425.1,66.4 425.8,67 426.5,67.8 427.2,68.7 427.9,69.7 428.6,70.7 429.3,71.7 430,72.7 430.7,73.7 431.4,74.5 432.1,75.4 432.8,76.2 433.5,77.1 434.2,78 434.9,78.8 435.6,79.7 436.3,80.5 437,81.2 437.7,81.8 438.4,82.4 439.1,82.8 439.8,83.1 440.5,83.3 441.2,83.4 441.9,83.4 442.6,83.3 443.3,83.2 444,83 444.7,82.8 445.4,82.5 446.1,82.2 446.8,81.8 447.5,81.4 448.2,81 448.9,80.5 449.6,80 450.3,79.4 451,78.7 451.7,78 452.4,77.4 453.1,76.7 453.8,76 454.5,75.3 455.2,74.7 455.9,74.1 456.6,73.5 457.3,72.8 458,72.2 458.7,71.5 459.4,70.9 460.1,70.3 460.8,69.8 461.5,69.3 462.2,68.9 462.9,68.5 463.6,68.2 464.3,67.9 465,67.7 465.7,67.5 466.4,67.4 467.1,67.3 467.8,67.3 468.5,67.3 469.2,67.4 469.9,67.5 470.6,67.7 471.3,67.9 472,68.2 472.7,68.4 473.4,68.7 474.1,68.9 474.8,69.2 475.5,69.4 476.2,69.5 476.9,69.7 477.6,70 478.3,70.2 479,70.4 479.7,70.7 480.4,70.8 481.1,71 481.8,71 482.5,70.9 483.2,70.7 483.9,70.3 484.6,69.7 485.3,68.9 486,68 486.7,67 487.4,65.9 488.1,64.9 488.8,63.8 489.5,62.6 490.2,61.4 490.9,60 491.6,58.5 492.3,56.9 493,55 493.7,53 494.4,51 495.1,49.3 495.8,47.9 496.5,47 497.2,46.8 497.9,47.1 498.6,47.8 499.3,49.1 500,50.8 500.7,52.9 501.4,55.5 502.1,58.4 502.8,61.5 503.5,65 504.2,69.4 504.9,74.3 505.6,80.5 506.3,84.4 507,88.2 507.7,92 508.4,95.7 509.1,99.3 509.8,102.8 510.5,106.2 511.2,109.4 511.9,112.3 512.6,115 513.3,117.3 514,119.6 514.7,121.6 515.4,123.4 516.1,125.1 516.8,126.8 517.5,128.4 518.2,129.9 518.9,131.3 519.6,132.6 520.3,133.8 521,135 521.7,136 522.4,137.1 523.1,138 523.8,138.9 524.5,139.8 525.2,140.6 525.9,141.4 526.6,142.2 527.3,142.9 528,143.7 528.7,144.3 529.4,145 530.1,145.6 530.8,146.1 531.5,146.7 532.2,147.1 532.9,147.5 533.6,147.9 534.3,148.3 L534.3,153.3 533.6,152.9 532.9,152.5 532.2,152.1 531.5,151.7 530.8,151.1 530.1,150.6 529.4,150 528.7,149.3 528,148.7 527.3,147.9 526.6,147.2 525.9,146.4 525.2,145.6 524.5,144.8 523.8,143.9 523.1,143 522.4,142.1 521.7,141 521,140 520.3,138.8 519.6,137.6 518.9,136.3 518.2,134.9 517.5,133.4 516.8,131.8 516.1,130.1 515.4,128.4 514.7,126.6 514,124.6 513.3,122.3 512.6,120 511.9,117.3 511.2,114.4 510.5,111.2 509.8,107.8 509.1,104.3 508.4,100.7 507.7,97 507,93.2 506.3,89.4 505.6,85.5 504.9,81.3 504.2,76.4 503.5,72 502.8,68.5 502.1,65.4 501.4,62.5 500.7,59.9 500,57.8 499.3,56.1 498.6,54.8 497.9,54.1 497.2,53.8 496.5,54 495.8,54.9 495.1,56.3 494.4,58 493.7,60 493,62 492.3,63.9 491.6,65.5 490.9,67 490.2,68.4 489.5,69.6 488.8,70.8 488.1,71.9 487.4,72.9 486.7,74 486,75 485.3,75.9 484.6,76.7 483.9,77.3 483.2,77.7 482.5,77.9 481.8,78 481.1,78 480.4,77.8 479.7,77.7 479,77.4 478.3,77.2 477.6,77 476.9,76.7 476.2,76.5 475.5,76.4 474.8,76.2 474.1,75.9 473.4,75.7 472.7,75.4 472,75.2 471.3,74.9 470.6,74.7 469.9,74.5 469.2,74.4 468.5,74.3 467.8,74.3 467.1,74.3 466.4,74.4 465.7,74.5 465,74.7 464.3,74.9 463.6,75.2 462.9,75.5 462.2,75.9 461.5,76.3 460.8,76.8 460.1,77.3 459.4,77.9 458.7,78.5 458,79.2 457.3,79.8 456.6,80.5 455.9,81.1 455.2,81.7 454.5,82.3 453.8,83 453.1,83.7 452.4,84.4 451.7,85 451,85.7 450.3,86.4 449.6,87 448.9,87.5 448.2,88 447.5,88.4 446.8,88.8 446.1,89.2 445.4,89.5 444.7,89.8 444,90 443.3,90.2 442.6,90.3 441.9,90.4 441.2,90.4 440.5,90.3 439.8,90.1 439.1,89.8 438.4,89.4 437.7,88.8 437,88.2 436.3,87.5 435.6,86.7 434.9,85.8 434.2,85 433.5,84.1 432.8,83.2 432.1,82.4 431.4,81.5 430.7,80.7 430,79.7 429.3,78.7 428.6,77.7 427.9,76.7 427.2,75.7 426.5,74.8 425.8,74 425.1,73.4 424.4,72.8 423.7,72.3 423,71.9 422.3,71.5 421.6,71.2 420.9,70.9 420.2,70.7 419.5,70.6 418.8,70.6 418.1,70.6 417.4,70.7 416.7,70.8 416,71 415.3,71.3 414.6,71.6 413.9,71.9 413.2,72.2 412.5,72.6 411.8,72.9 411.1,73.3 410.4,73.6 409.7,74 409,74.3 408.3,74.6 407.6,74.9 406.9,75.2 406.2,75.5 405.5,75.8 404.8,76.1 404.1,76.4 403.4,76.7 402.7,77 402,77.3 401.3,77.6 400.6,77.9 399.9,78.2 399.2,78.5 398.5,78.8 397.8,79.1 397.1,79.4 396.4,79.7 395.7,80 395,80.2 394.3,80.5 393.6,80.8 392.9,81 392.2,81.3 391.5,81.5 390.8,81.7 390.1,82 389.4,82.2 388.7,82.4 388,82.7 387.3,82.9 386.6,83.1 385.9,83.3 385.2,83.5 384.5,83.8 383.8,84 383.1,84.2 382.4,84.4 381.7,84.7 381,84.9 380.3,85.1 379.6,85.3 378.9,85.5 378.2,85.7 377.5,85.8 376.8,86 376.1,86.1 375.4,86.2 374.7,86.2 374,86.3 373.3,86.3 372.6,86.3 371.9,86.3 371.2,86.3 370.5,86.2 369.8,86.2 369.1,86.2 368.4,86.1 367.7,86.1 367,86 366.3,85.9 365.6,85.9 364.9,85.8 364.2,85.8 363.5,85.7 362.8,85.7 362.1,85.6 361.4,85.6 360.7,85.5 360,85.4 359.3,85.4 358.6,85.3 357.9,85.2 357.2,85.1 356.5,85 355.8,84.9 355.1,84.9 354.4,84.8 353.7,84.7 353,84.6 352.3,84.6 351.6,84.5 350.9,84.5 350.2,84.4 349.5,84.4 348.8,84.4 348.1,84.4 347.4,84.4 346.7,84.4 346,84.5 345.3,84.5 344.6,84.5 343.9,84.6 343.2,84.6 342.5,84.7 341.8,84.8 341.1,84.8 340.4,84.9 339.7,85 339,85.1 338.3,85.2 337.6,85.3 336.9,85.4 336.2,85.4 335.5,85.5 334.8,85.6 334.1,85.7 333.4,85.8 332.7,85.9 332,86.1 331.3,86.2 330.6,86.3 329.9,86.4 329.2,86.5 328.5,86.7 327.8,86.8 327.1,86.9 326.4,87.1 325.7,87.2 325,87.3 324.3,87.4 323.6,87.6 322.9,87.7 322.2,87.8 321.5,87.9 320.8,88.1 320.1,88.2 319.4,88.3 318.7,88.4 318,88.5 317.3,88.6 316.6,88.7 315.9,88.8 315.2,88.9 314.5,89 313.8,89.1 313.1,89.2 312.4,89.3 311.7,89.4 311,89.5 310.3,89.6 309.6,89.7 308.9,89.8 Z" fill="#e8e8e8"/><path d="M309.3,90.7V70.6M310.9,90.5V72.1M312.1,90.3V78.4M313.3,90.2V68.6M314.7,90.0V77.0M315.9,89.8V60.1M317.3,89.6V77.2M318.3,89.5V70.5M319.6,89.3V74.4M321.3,89.0V72.6M322.6,88.8V70.2M323.7,88.5V74.6M324.9,88.3V69.6M326.1,88.1V68.1M327.8,87.8V69.0M328.8,87.6V71.3M330.5,87.3V67.6M331.7,87.1V66.4M333.0,86.9V61.3M334.0,86.7V66.7M335.6,86.5V69.0M336.8,86.4V76.3M338.2,86.2V70.1M339.5,86.0V75.2M340.6,85.9V66.9M341.8,85.8V66.9M343.3,85.6V71.1M344.7,85.5V66.3M346.0,85.5V69.8M347.3,85.4V71.8M348.2,85.4V67.0M349.9,85.4V60.7M351.1,85.5V60.6M352.2,85.6V63.8M353.4,85.7V70.2M355.3,85.9V66.0M356.6,86.0V73.5M357.4,86.1V69.8M358.7,86.3V66.4M360.4,86.5V58.7M361.5,86.6V60.2M362.7,86.6V69.7M364.3,86.8V76.8M365.6,86.9V75.4M366.8,87.0V60.6M367.9,87.1V65.1M369.2,87.2V68.7M370.4,87.2V57.7M371.7,87.3V74.1M373.0,87.3V72.8M374.7,87.2V67.5M376.0,87.1V65.8M377.2,86.9V76.3M378.4,86.6V67.6M379.6,86.3V75.7M380.8,86.0V65.2M382.4,85.4V56.1M383.5,85.1V64.2M384.7,84.7V72.2M386.2,84.2V71.6M387.8,83.7V64.0M388.6,83.5V64.7M390.0,83.0V66.2M391.5,82.5V67.5M392.7,82.1V64.1M393.9,81.7V53.5M395.4,81.1V46.4M396.4,80.7V60.5M398.2,80.0V51.7M398.9,79.7V66.1M400.7,78.9V57.4M401.5,78.6V58.5M403.3,77.8V49.4M404.2,77.4V54.2M405.8,76.7V46.7M407.1,76.1V49.4M408.3,75.6V61.9M409.4,75.1V45.5M410.8,74.4V50.0M412.3,73.7V39.8M413.4,73.1V56.1M414.5,72.6V54.2M416.4,71.9V47.3M417.4,71.7V42.8M418.8,71.6V33.7M420.0,71.7V54.1M421.6,72.2V39.0M422.7,72.7V56.2M424.0,73.6V39.7M425.1,74.4V40.9M426.7,76.0V57.7M427.8,77.5V53.8M429.2,79.5V42.3M430.2,81.0V46.1M431.4,82.6V62.5M433.2,84.8V58.6M434.6,86.4V56.0M435.7,87.8V74.3M436.8,89.0V63.9M437.9,90.0V60.3M439.3,90.9V53.7M441.0,91.4V63.6M441.8,91.4V58.5M443.2,91.2V71.7M444.4,90.9V70.5M446.2,90.1V58.5M447.2,89.6V63.2M448.5,88.8V70.9M450.0,87.7V69.9M451.1,86.6V45.3M452.6,85.2V39.5M454.1,83.7V47.6M455.1,82.9V61.0M456.2,81.8V54.4M457.9,80.3V53.4M458.9,79.4V50.3M460.0,78.4V61.8M461.4,77.3V46.1M463.2,76.4V47.5M464.1,76.0V53.5M465.6,75.5V47.2M466.9,75.3V50.2M468.3,75.3V39.6M469.3,75.4V42.3M470.5,75.7V53.0M472.2,76.2V45.7M473.6,76.7V44.1M474.7,77.1V38.5M476.1,77.5V49.4M476.9,77.8V54.0M478.8,78.4V54.9M479.7,78.7V50.1M481.0,78.9V51.9M482.2,79.0V55.2M483.5,78.5V53.3M484.9,77.4V53.6M486.1,75.8V53.2M487.4,73.9V44.9M488.9,71.6V50.3M490.2,69.3V39.5M491.6,66.5V39.7M493.1,62.8V44.2M494.0,60.1V39.6M495.7,56.1V26.8M496.5,55.0V41.9M498.0,55.1V27.3M499.5,57.6V32.2M500.6,60.7V36.2M501.7,64.6V32.3M503.0,70.5V52.4M504.8,81.3V66.3M506.0,88.6V63.3M507.4,96.2V71.8M508.7,103.0V91.4M509.8,108.7V76.6M510.8,113.7V101.8M512.5,120.6V101.2M513.6,124.3V104.5M515.0,128.4V98.4M516.4,131.7V124.3M517.3,133.8V119.7M518.9,137.2V114.0M520.1,139.4V113.8M521.1,141.1V118.7M522.9,143.7V120.0M524.0,145.2V126.3M525.1,146.4V134.1M526.3,147.9V118.7M528.1,149.7V125.0M529.1,150.7V116.2M530.8,152.1V136.4M531.6,152.7V116.5M533.3,153.8V144.8M534.7,154.3V131.7" stroke="#c8c8c8" stroke-width="0.75" fill="none"/><path d="M308.9,89.8 309.6,89.7 310.3,89.6 311,89.5 311.7,89.4 312.4,89.3 313.1,89.2 313.8,89.1 314.5,89 315.2,88.9 315.9,88.8 316.6,88.7 317.3,88.6 318,88.5 318.7,88.4 319.4,88.3 320.1,88.2 320.8,88.1 321.5,87.9 322.2,87.8 322.9,87.7 323.6,87.6 324.3,87.4 325,87.3 325.7,87.2 326.4,87.1 327.1,86.9 327.8,86.8 328.5,86.7 329.2,86.5 329.9,86.4 330.6,86.3 331.3,86.2 332,86.1 332.7,85.9 333.4,85.8 334.1,85.7 334.8,85.6 335.5,85.5 336.2,85.4 336.9,85.4 337.6,85.3 338.3,85.2 339,85.1 339.7,85 340.4,84.9 341.1,84.8 341.8,84.8 342.5,84.7 343.2,84.6 343.9,84.6 344.6,84.5 345.3,84.5 346,84.5 346.7,84.4 347.4,84.4 348.1,84.4 348.8,84.4 349.5,84.4 350.2,84.4 350.9,84.5 351.6,84.5 352.3,84.6 353,84.6 353.7,84.7 354.4,84.8 355.1,84.9 355.8,84.9 356.5,85 357.2,85.1 357.9,85.2 358.6,85.3 359.3,85.4 360,85.4 360.7,85.5 361.4,85.6 362.1,85.6 362.8,85.7 363.5,85.7 364.2,85.8 364.9,85.8 365.6,85.9 366.3,85.9 367,86 367.7,86.1 368.4,86.1 369.1,86.2 369.8,86.2 370.5,86.2 371.2,86.3 371.9,86.3 372.6,86.3 373.3,86.3 374,86.3 374.7,86.2 375.4,86.2 376.1,86.1 376.8,86 377.5,85.8 378.2,85.7 378.9,85.5 379.6,85.3 380.3,85.1 381,84.9 381.7,84.7 382.4,84.4 383.1,84.2 383.8,84 384.5,83.8 385.2,83.5 385.9,83.3 386.6,83.1 387.3,82.9 388,82.7 388.7,82.4 389.4,82.2 390.1,82 390.8,81.7 391.5,81.5 392.2,81.3 392.9,81 393.6,80.8 394.3,80.5 395,80.2 395.7,80 396.4,79.7 397.1,79.4 397.8,79.1 398.5,78.8 399.2,78.5 399.9,78.2 400.6,77.9 401.3,77.6 402,77.3 402.7,77 403.4,76.7 404.1,76.4 404.8,76.1 405.5,75.8 406.2,75.5 406.9,75.2 407.6,74.9 408.3,74.6 409,74.3 409.7,74 410.4,73.6 411.1,73.3 411.8,72.9 412.5,72.6 413.2,72.2 413.9,71.9 414.6,71.6 415.3,71.3 416,71 416.7,70.8 417.4,70.7 418.1,70.6 418.8,70.6 419.5,70.6 420.2,70.7 420.9,70.9 421.6,71.2 422.3,71.5 423,71.9 423.7,72.3 424.4,72.8 425.1,73.4 425.8,74 426.5,74.8 427.2,75.7 427.9,76.7 428.6,77.7 429.3,78.7 430,79.7 430.7,80.7 431.4,81.5 432.1,82.4 432.8,83.2 433.5,84.1 434.2,85 434.9,85.8 435.6,86.7 436.3,87.5 437,88.2 437.7,88.8 438.4,89.4 439.1,89.8 439.8,90.1 440.5,90.3 441.2,90.4 441.9,90.4 442.6,90.3 443.3,90.2 444,90 444.7,89.8 445.4,89.5 446.1,89.2 446.8,88.8 447.5,88.4 448.2,88 448.9,87.5 449.6,87 450.3,86.4 451,85.7 451.7,85 452.4,84.4 453.1,83.7 453.8,83 454.5,82.3 455.2,81.7 455.9,81.1 456.6,80.5 457.3,79.8 458,79.2 458.7,78.5 459.4,77.9 460.1,77.3 460.8,76.8 461.5,76.3 462.2,75.9 462.9,75.5 463.6,75.2 464.3,74.9 465,74.7 465.7,74.5 466.4,74.4 467.1,74.3 467.8,74.3 468.5,74.3 469.2,74.4 469.9,74.5 470.6,74.7 471.3,74.9 472,75.2 472.7,75.4 473.4,75.7 474.1,75.9 474.8,76.2 475.5,76.4 476.2,76.5 476.9,76.7 477.6,77 478.3,77.2 479,77.4 479.7,77.7 480.4,77.8 481.1,78 481.8,78 482.5,77.9 483.2,77.7 483.9,77.3 484.6,76.7 485.3,75.9 486,75 486.7,74 487.4,72.9 488.1,71.9 488.8,70.8 489.5,69.6 490.2,68.4 490.9,67 491.6,65.5 492.3,63.9 493,62 493.7,60 494.4,58 495.1,56.3 495.8,54.9 496.5,54 497.2,53.8 497.9,54.1 498.6,54.8 499.3,56.1 500,57.8 500.7,59.9 501.4,62.5 502.1,65.4 502.8,68.5 503.5,72 504.2,76.4 504.9,81.3 505.6,85.5 506.3,89.4 507,93.2 507.7,97 508.4,100.7 509.1,104.3 509.8,107.8 510.5,111.2 511.2,114.4 511.9,117.3 512.6,120 513.3,122.3 514,124.6 514.7,126.6 515.4,128.4 516.1,130.1 516.8,131.8 517.5,133.4 518.2,134.9 518.9,136.3 519.6,137.6 520.3,138.8 521,140 521.7,141 522.4,142.1 523.1,143 523.8,143.9 524.5,144.8 525.2,145.6 525.9,146.4 526.6,147.2 527.3,147.9 528,148.7 528.7,149.3 529.4,150 530.1,150.6 530.8,151.1 531.5,151.7 532.2,152.1 532.9,152.5 533.6,152.9 534.3,153.3 L534.3,162.4 533.6,162.3 532.9,162.3 532.2,162.2 531.5,162.2 530.8,162.2 530.1,162.1 529.4,162.1 528.7,162 528,162 527.3,161.9 526.6,161.8 525.9,161.7 525.2,161.6 524.5,161.5 523.8,161.4 523.1,161.3 522.4,161.1 521.7,161 521,160.9 520.3,160.7 519.6,160.5 518.9,160.4 518.2,160.2 517.5,160 516.8,159.8 516.1,159.6 515.4,159.3 514.7,159.1 514,158.8 513.3,158.5 512.6,158.2 511.9,157.9 511.2,157.6 510.5,157.3 509.8,156.9 509.1,156.6 508.4,156.2 507.7,155.9 507,155.5 506.3,155.2 505.6,154.8 504.9,154.5 504.2,154.1 503.5,153.7 502.8,153.4 502.1,153 501.4,152.7 500.7,152.3 500,151.9 499.3,151.6 498.6,151.2 497.9,150.9 497.2,150.5 496.5,150.1 495.8,149.8 495.1,149.4 494.4,149 493.7,148.7 493,148.3 492.3,148 491.6,147.6 490.9,147.3 490.2,146.9 489.5,146.6 488.8,146.2 488.1,145.9 487.4,145.5 486.7,145.2 486,144.8 485.3,144.5 484.6,144.1 483.9,143.8 483.2,143.4 482.5,143.1 481.8,142.7 481.1,142.4 480.4,142.1 479.7,141.7 479,141.4 478.3,141.1 477.6,140.7 476.9,140.4 476.2,140.1 475.5,139.7 474.8,139.4 474.1,139.1 473.4,138.8 472.7,138.4 472,138.1 471.3,137.8 470.6,137.4 469.9,137.1 469.2,136.8 468.5,136.5 467.8,136.2 467.1,135.8 466.4,135.5 465.7,135.2 465,134.9 464.3,134.6 463.6,134.3 462.9,134 462.2,133.7 461.5,133.4 460.8,133.1 460.1,132.8 459.4,132.5 458.7,132.3 458,132 457.3,131.7 456.6,131.4 455.9,131.1 455.2,130.8 454.5,130.5 453.8,130.3 453.1,130 452.4,129.7 451.7,129.4 451,129.1 450.3,128.9 449.6,128.6 448.9,128.3 448.2,128 447.5,127.8 446.8,127.5 446.1,127.2 445.4,127 444.7,126.7 444,126.4 443.3,126.2 442.6,125.9 441.9,125.7 441.2,125.4 440.5,125.2 439.8,124.9 439.1,124.7 438.4,124.4 437.7,124.2 437,124 436.3,123.7 435.6,123.5 434.9,123.3 434.2,123 433.5,122.8 432.8,122.6 432.1,122.3 431.4,122.1 430.7,121.9 430,121.7 429.3,121.4 428.6,121.2 427.9,121 427.2,120.8 426.5,120.6 425.8,120.3 425.1,120.1 424.4,119.9 423.7,119.7 423,119.5 422.3,119.3 421.6,119 420.9,118.8 420.2,118.6 419.5,118.4 418.8,118.2 418.1,118 417.4,117.7 416.7,117.5 416,117.3 415.3,117.1 414.6,116.9 413.9,116.7 413.2,116.4 412.5,116.2 411.8,116 411.1,115.8 410.4,115.6 409.7,115.3 409,115.1 408.3,114.9 407.6,114.7 406.9,114.5 406.2,114.3 405.5,114 404.8,113.8 404.1,113.6 403.4,113.4 402.7,113.2 402,113 401.3,112.7 400.6,112.5 399.9,112.3 399.2,112.1 398.5,111.9 397.8,111.7 397.1,111.5 396.4,111.3 395.7,111.1 395,110.9 394.3,110.7 393.6,110.5 392.9,110.3 392.2,110.1 391.5,109.9 390.8,109.7 390.1,109.5 389.4,109.3 388.7,109.2 388,109 387.3,108.8 386.6,108.6 385.9,108.5 385.2,108.3 384.5,108.1 383.8,108 383.1,107.8 382.4,107.7 381.7,107.5 381,107.3 380.3,107.2 379.6,107 378.9,106.9 378.2,106.8 377.5,106.6 376.8,106.5 376.1,106.3 375.4,106.2 374.7,106.1 374,105.9 373.3,105.8 372.6,105.7 371.9,105.5 371.2,105.4 370.5,105.3 369.8,105.2 369.1,105 368.4,104.9 367.7,104.8 367,104.7 366.3,104.6 365.6,104.5 364.9,104.3 364.2,104.2 363.5,104.1 362.8,104 362.1,103.9 361.4,103.8 360.7,103.7 360,103.6 359.3,103.5 358.6,103.4 357.9,103.3 357.2,103.2 356.5,103.1 355.8,103 355.1,102.9 354.4,102.9 353.7,102.8 353,102.7 352.3,102.6 351.6,102.5 350.9,102.4 350.2,102.3 349.5,102.2 348.8,102.2 348.1,102.1 347.4,102 346.7,101.9 346,101.8 345.3,101.8 344.6,101.7 343.9,101.6 343.2,101.5 342.5,101.5 341.8,101.4 341.1,101.3 340.4,101.2 339.7,101.2 339,101.1 338.3,101 337.6,101 336.9,100.9 336.2,100.8 335.5,100.8 334.8,100.7 334.1,100.6 333.4,100.6 332.7,100.5 332,100.4 331.3,100.3 330.6,100.3 329.9,100.2 329.2,100.1 328.5,100 327.8,100 327.1,99.9 326.4,99.8 325.7,99.7 325,99.7 324.3,99.6 323.6,99.5 322.9,99.4 322.2,99.4 321.5,99.3 320.8,99.2 320.1,99.1 319.4,99.1 318.7,99 318,98.9 317.3,98.8 316.6,98.8 315.9,98.7 315.2,98.6 314.5,98.5 313.8,98.5 313.1,98.4 312.4,98.3 311.7,98.2 311,98.2 310.3,98.1 309.6,98 308.9,97.9 Z" fill="#f2a3a3" fill-opacity="0.88"/><path d="M308.9,92.2 309.6,92.1 310.3,92 311,91.9 311.7,91.8 312.4,91.7 313.1,91.5 313.8,91.4 314.5,91.3 315.2,91.2 315.9,91 316.6,90.9 317.3,90.8 318,90.6 318.7,90.5 319.4,90.4 320.1,90.2 320.8,90.1 321.5,90 322.2,89.8 322.9,89.7 323.6,89.6 324.3,89.4 325,89.3 325.7,89.2 326.4,89 327.1,88.9 327.8,88.8 328.5,88.7 329.2,88.6 329.9,88.4 330.6,88.3 331.3,88.2 332,88.1 332.7,88 333.4,87.9 334.1,87.8 334.8,87.7 335.5,87.6 336.2,87.6 336.9,87.5 337.6,87.4 338.3,87.4 339,87.3 339.7,87.3 340.4,87.2 341.1,87.2 341.8,87.1 342.5,87.1 343.2,87.1 343.9,87.1 344.6,87.1 345.3,87.1 346,87.2 346.7,87.2 347.4,87.2 348.1,87.3 348.8,87.4 349.5,87.4 350.2,87.5 350.9,87.6 351.6,87.7 352.3,87.8 353,88 353.7,88.1 354.4,88.2 355.1,88.4 355.8,88.5 356.5,88.7 357.2,88.9 357.9,89 358.6,89.2 359.3,89.4 360,89.6 360.7,89.9 361.4,90.1 362.1,90.3 362.8,90.6 363.5,90.8 364.2,91.1 364.9,91.3 365.6,91.6 366.3,91.9 367,92.1 367.7,92.4 368.4,92.7 369.1,93 369.8,93.3 370.5,93.7 371.2,94 371.9,94.3 372.6,94.6 373.3,94.9 374,95.3 374.7,95.6 375.4,96 376.1,96.3 376.8,96.6 377.5,97 378.2,97.3 378.9,97.7 379.6,98 380.3,98.4 381,98.8 381.7,99.1 382.4,99.5 383.1,99.9 383.8,100.2 384.5,100.6 385.2,101 385.9,101.3 386.6,101.7 387.3,102.1 388,102.4 388.7,102.8 389.4,103.2 390.1,103.5 390.8,103.9 391.5,104.3 392.2,104.7 392.9,105 393.6,105.4 394.3,105.8 395,106.1 395.7,106.5 396.4,106.9 397.1,107.2 397.8,107.6 398.5,107.9 399.2,108.3 399.9,108.6 400.6,109 401.3,109.3 402,109.7 402.7,110 403.4,110.4 404.1,110.7 404.8,111 405.5,111.4 406.2,111.7 406.9,112 407.6,112.3 408.3,112.7 409,113 409.7,113.3 410.4,113.6 411.1,113.9 411.8,114.2 412.5,114.5 413.2,114.8 413.9,115.1 414.6,115.4 415.3,115.7 416,116 416.7,116.2 417.4,116.5 418.1,116.8 418.8,117.1 419.5,117.3 420.2,117.6 420.9,117.9 421.6,118.1 422.3,118.4 423,118.6 423.7,118.9 424.4,119.2 425.1,119.4 425.8,119.7 426.5,119.9 427.2,120.2 427.9,120.4 428.6,120.7 429.3,120.9 430,121.2 430.7,121.4 431.4,121.7 432.1,121.9 432.8,122.2 433.5,122.4 434.2,122.7 434.9,122.9 435.6,123.2 436.3,123.4 437,123.7 437.7,123.9 438.4,124.2 439.1,124.4 439.8,124.7 440.5,124.9 441.2,125.2 441.9,125.5 442.6,125.7 443.3,126 444,126.3 444.7,126.5 445.4,126.8 446.1,127.1 446.8,127.3 447.5,127.6 448.2,127.9 448.9,128.2 449.6,128.4 450.3,128.7 451,129 451.7,129.3 452.4,129.6 453.1,129.9 453.8,130.1 454.5,130.4 455.2,130.7 455.9,131 456.6,131.3 457.3,131.6 458,131.9 458.7,132.2 459.4,132.5 460.1,132.8 460.8,133 461.5,133.3 462.2,133.6 462.9,133.9 463.6,134.2 464.3,134.5 465,134.8 465.7,135.2 466.4,135.5 467.1,135.8 467.8,136.1 468.5,136.4 469.2,136.7 469.9,137.1 470.6,137.4 471.3,137.7 472,138 472.7,138.4 473.4,138.7 474.1,139 474.8,139.4 475.5,139.7 476.2,140 476.9,140.3 477.6,140.7 478.3,141 479,141.3 479.7,141.7 480.4,142 481.1,142.4 481.8,142.7 482.5,143 483.2,143.4 483.9,143.7 484.6,144.1 485.3,144.4 486,144.8 486.7,145.1 487.4,145.5 488.1,145.8 488.8,146.2 489.5,146.5 490.2,146.9 490.9,147.2 491.6,147.6 492.3,147.9 493,148.3 493.7,148.6 494.4,149 495.1,149.4 495.8,149.7 496.5,150.1 497.2,150.5 497.9,150.8 498.6,151.2 499.3,151.5 500,151.9 500.7,152.3 501.4,152.6 502.1,153 502.8,153.4 503.5,153.7 504.2,154.1 504.9,154.4 505.6,154.8 506.3,155.1 507,155.5 507.7,155.8 508.4,156.2 509.1,156.5 509.8,156.9 510.5,157.2 511.2,157.6 511.9,157.9 512.6,158.2 513.3,158.5 514,158.8 514.7,159.1 515.4,159.3 516.1,159.5 516.8,159.8 517.5,160 518.2,160.2 518.9,160.3 519.6,160.5 520.3,160.7 521,160.8 521.7,161 522.4,161.1 523.1,161.2 523.8,161.4 524.5,161.5 525.2,161.6 525.9,161.7 526.6,161.8 527.3,161.9 528,161.9 528.7,162 529.4,162 530.1,162.1 530.8,162.1 531.5,162.2 532.2,162.2 532.9,162.3 533.6,162.3 534.3,162.3 L534.3,162.4 533.6,162.3 532.9,162.3 532.2,162.2 531.5,162.2 530.8,162.2 530.1,162.1 529.4,162.1 528.7,162 528,162 527.3,161.9 526.6,161.8 525.9,161.7 525.2,161.6 524.5,161.5 523.8,161.4 523.1,161.3 522.4,161.1 521.7,161 521,160.9 520.3,160.7 519.6,160.5 518.9,160.4 518.2,160.2 517.5,160 516.8,159.8 516.1,159.6 515.4,159.3 514.7,159.1 514,158.8 513.3,158.5 512.6,158.2 511.9,157.9 511.2,157.6 510.5,157.3 509.8,156.9 509.1,156.6 508.4,156.2 507.7,155.9 507,155.5 506.3,155.2 505.6,154.8 504.9,154.5 504.2,154.1 503.5,153.7 502.8,153.4 502.1,153 501.4,152.7 500.7,152.3 500,151.9 499.3,151.6 498.6,151.2 497.9,150.9 497.2,150.5 496.5,150.1 495.8,149.8 495.1,149.4 494.4,149 493.7,148.7 493,148.3 492.3,148 491.6,147.6 490.9,147.3 490.2,146.9 489.5,146.6 488.8,146.2 488.1,145.9 487.4,145.5 486.7,145.2 486,144.8 485.3,144.5 484.6,144.1 483.9,143.8 483.2,143.4 482.5,143.1 481.8,142.7 481.1,142.4 480.4,142.1 479.7,141.7 479,141.4 478.3,141.1 477.6,140.7 476.9,140.4 476.2,140.1 475.5,139.7 474.8,139.4 474.1,139.1 473.4,138.8 472.7,138.4 472,138.1 471.3,137.8 470.6,137.4 469.9,137.1 469.2,136.8 468.5,136.5 467.8,136.2 467.1,135.8 466.4,135.5 465.7,135.2 465,134.9 464.3,134.6 463.6,134.3 462.9,134 462.2,133.7 461.5,133.4 460.8,133.1 460.1,132.8 459.4,132.5 458.7,132.3 458,132 457.3,131.7 456.6,131.4 455.9,131.1 455.2,130.8 454.5,130.5 453.8,130.3 453.1,130 452.4,129.7 451.7,129.4 451,129.1 450.3,128.9 449.6,128.6 448.9,128.3 448.2,128 447.5,127.8 446.8,127.5 446.1,127.2 445.4,127 444.7,126.7 444,126.4 443.3,126.2 442.6,125.9 441.9,125.7 441.2,125.4 440.5,125.2 439.8,124.9 439.1,124.7 438.4,124.4 437.7,124.2 437,124 436.3,123.7 435.6,123.5 434.9,123.3 434.2,123 433.5,122.8 432.8,122.6 432.1,122.3 431.4,122.1 430.7,121.9 430,121.7 429.3,121.4 428.6,121.2 427.9,121 427.2,120.8 426.5,120.6 425.8,120.3 425.1,120.1 424.4,119.9 423.7,119.7 423,119.5 422.3,119.3 421.6,119 420.9,118.8 420.2,118.6 419.5,118.4 418.8,118.2 418.1,118 417.4,117.7 416.7,117.5 416,117.3 415.3,117.1 414.6,116.9 413.9,116.7 413.2,116.4 412.5,116.2 411.8,116 411.1,115.8 410.4,115.6 409.7,115.3 409,115.1 408.3,114.9 407.6,114.7 406.9,114.5 406.2,114.3 405.5,114 404.8,113.8 404.1,113.6 403.4,113.4 402.7,113.2 402,113 401.3,112.7 400.6,112.5 399.9,112.3 399.2,112.1 398.5,111.9 397.8,111.7 397.1,111.5 396.4,111.3 395.7,111.1 395,110.9 394.3,110.7 393.6,110.5 392.9,110.3 392.2,110.1 391.5,109.9 390.8,109.7 390.1,109.5 389.4,109.3 388.7,109.2 388,109 387.3,108.8 386.6,108.6 385.9,108.5 385.2,108.3 384.5,108.1 383.8,108 383.1,107.8 382.4,107.7 381.7,107.5 381,107.3 380.3,107.2 379.6,107 378.9,106.9 378.2,106.8 377.5,106.6 376.8,106.5 376.1,106.3 375.4,106.2 374.7,106.1 374,105.9 373.3,105.8 372.6,105.7 371.9,105.5 371.2,105.4 370.5,105.3 369.8,105.2 369.1,105 368.4,104.9 367.7,104.8 367,104.7 366.3,104.6 365.6,104.5 364.9,104.3 364.2,104.2 363.5,104.1 362.8,104 362.1,103.9 361.4,103.8 360.7,103.7 360,103.6 359.3,103.5 358.6,103.4 357.9,103.3 357.2,103.2 356.5,103.1 355.8,103 355.1,102.9 354.4,102.9 353.7,102.8 353,102.7 352.3,102.6 351.6,102.5 350.9,102.4 350.2,102.3 349.5,102.2 348.8,102.2 348.1,102.1 347.4,102 346.7,101.9 346,101.8 345.3,101.8 344.6,101.7 343.9,101.6 343.2,101.5 342.5,101.5 341.8,101.4 341.1,101.3 340.4,101.2 339.7,101.2 339,101.1 338.3,101 337.6,101 336.9,100.9 336.2,100.8 335.5,100.8 334.8,100.7 334.1,100.6 333.4,100.6 332.7,100.5 332,100.4 331.3,100.3 330.6,100.3 329.9,100.2 329.2,100.1 328.5,100 327.8,100 327.1,99.9 326.4,99.8 325.7,99.7 325,99.7 324.3,99.6 323.6,99.5 322.9,99.4 322.2,99.4 321.5,99.3 320.8,99.2 320.1,99.1 319.4,99.1 318.7,99 318,98.9 317.3,98.8 316.6,98.8 315.9,98.7 315.2,98.6 314.5,98.5 313.8,98.5 313.1,98.4 312.4,98.3 311.7,98.2 311,98.2 310.3,98.1 309.6,98 308.9,97.9 Z" fill="#b97878" fill-opacity="0.9"/><path d="M308.9,97.9 309.6,97.9 310.3,98 311,98.1 311.7,98.2 312.4,98.2 313.1,98.3 313.8,98.4 314.5,98.5 315.2,98.5 315.9,98.6 316.6,98.7 317.3,98.8 318,98.8 318.7,98.9 319.4,99 320.1,99.1 320.8,99.1 321.5,99.2 322.2,99.3 322.9,99.4 323.6,99.4 324.3,99.5 325,99.6 325.7,99.7 326.4,99.7 327.1,99.8 327.8,99.9 328.5,100 329.2,100 329.9,100.1 330.6,100.2 331.3,100.2 332,100.3 332.7,100.4 333.4,100.5 334.1,100.5 334.8,100.6 335.5,100.7 336.2,100.7 336.9,100.8 337.6,100.9 338.3,100.9 339,101 339.7,101.1 340.4,101.1 341.1,101.2 341.8,101.3 342.5,101.4 343.2,101.4 343.9,101.5 344.6,101.6 345.3,101.6 346,101.7 346.7,101.8 347.4,101.9 348.1,102 348.8,102 349.5,102.1 350.2,102.2 350.9,102.3 351.6,102.4 352.3,102.5 353,102.6 353.7,102.6 354.4,102.7 355.1,102.8 355.8,102.9 356.5,103 357.2,103.1 357.9,103.2 358.6,103.3 359.3,103.4 360,103.5 360.7,103.6 361.4,103.7 362.1,103.8 362.8,103.9 363.5,104 364.2,104.1 364.9,104.2 365.6,104.3 366.3,104.4 367,104.5 367.7,104.7 368.4,104.8 369.1,104.9 369.8,105 370.5,105.1 371.2,105.3 371.9,105.4 372.6,105.5 373.3,105.6 374,105.8 374.7,105.9 375.4,106 376.1,106.2 376.8,106.3 377.5,106.4 378.2,106.6 378.9,106.7 379.6,106.9 380.3,107 381,107.2 381.7,107.3 382.4,107.5 383.1,107.6 383.8,107.8 384.5,107.9 385.2,108.1 385.9,108.3 386.6,108.4 387.3,108.6 388,108.8 388.7,109 389.4,109.1 390.1,109.3 390.8,109.5 391.5,109.7 392.2,109.9 392.9,110.1 393.6,110.3 394.3,110.5 395,110.6 395.7,110.8 396.4,111 397.1,111.2 397.8,111.5 398.5,111.7 399.2,111.9 399.9,112.1 400.6,112.3 401.3,112.5 402,112.7 402.7,112.9 403.4,113.1 404.1,113.3 404.8,113.5 405.5,113.8 406.2,114 406.9,114.2 407.6,114.4 408.3,114.6 409,114.8 409.7,115 410.4,115.2 411.1,115.5 411.8,115.7 412.5,115.9 413.2,116.1 413.9,116.3 414.6,116.5 415.3,116.7 416,116.9 416.7,117.2 417.4,117.4 418.1,117.6 418.8,117.8 419.5,118 420.2,118.2 420.9,118.4 421.6,118.6 422.3,118.8 423,119 423.7,119.3 424.4,119.5 425.1,119.7 425.8,119.9 426.5,120.1 427.2,120.3 427.9,120.5 428.6,120.7 429.3,120.9 430,121.1 430.7,121.4 431.4,121.6 432.1,121.8 432.8,122 433.5,122.2 434.2,122.4 434.9,122.7 435.6,122.9 436.3,123.1 437,123.3 437.7,123.5 438.4,123.8 439.1,124 439.8,124.2 440.5,124.4 441.2,124.7 441.9,124.9 442.6,125.1 443.3,125.4 444,125.6 444.7,125.9 445.4,126.1 446.1,126.3 446.8,126.6 447.5,126.8 448.2,127.1 448.9,127.3 449.6,127.6 450.3,127.8 451,128.1 451.7,128.3 452.4,128.5 453.1,128.8 453.8,129 454.5,129.3 455.2,129.5 455.9,129.8 456.6,130 457.3,130.3 458,130.5 458.7,130.7 459.4,131 460.1,131.2 460.8,131.4 461.5,131.7 462.2,131.9 462.9,132.1 463.6,132.4 464.3,132.6 465,132.8 465.7,133 466.4,133.2 467.1,133.4 467.8,133.6 468.5,133.8 469.2,134 469.9,134.2 470.6,134.3 471.3,134.5 472,134.6 472.7,134.6 473.4,134.7 474.1,134.7 474.8,134.6 475.5,134.5 476.2,134.3 476.9,134 477.6,133.7 478.3,133.2 479,132.6 479.7,131.9 480.4,131 481.1,130 481.8,128.8 482.5,127.4 483.2,125.7 483.9,123.9 484.6,121.9 485.3,119.6 486,117.1 486.7,114.4 487.4,111.5 488.1,108.4 488.8,105.1 489.5,101.7 490.2,98.3 490.9,94.8 491.6,91.3 492.3,87.9 493,84.6 493.7,81.6 494.4,78.9 495.1,76.5 495.8,74.7 496.5,73.5 497.2,72.8 497.9,72.9 498.6,73.4 499.3,74.4 500,75.7 500.7,77.3 501.4,79.3 502.1,81.6 502.8,84.1 503.5,86.9 504.2,89.8 504.9,92.9 505.6,96 506.3,99.3 507,102.5 507.7,105.8 508.4,109.1 509.1,112.4 509.8,115.6 510.5,118.7 511.2,121.7 511.9,124.6 512.6,127.4 513.3,130 514,132.5 514.7,134.9 515.4,137.1 516.1,139.2 516.8,141.1 517.5,142.9 518.2,144.5 518.9,146.1 519.6,147.5 520.3,148.8 521,149.9 521.7,151 522.4,152 523.1,152.9 523.8,153.7 524.5,154.4 525.2,155 525.9,155.6 526.6,156.1 527.3,156.6 528,157 528.7,157.4 529.4,157.7 530.1,158 530.8,158.3 531.5,158.5 532.2,158.8 532.9,159 533.6,159.2 534.3,159.3 L534.3,162.4 533.6,162.3 532.9,162.3 532.2,162.2 531.5,162.2 530.8,162.2 530.1,162.1 529.4,162.1 528.7,162 528,162 527.3,161.9 526.6,161.8 525.9,161.7 525.2,161.6 524.5,161.5 523.8,161.4 523.1,161.3 522.4,161.1 521.7,161 521,160.9 520.3,160.7 519.6,160.5 518.9,160.4 518.2,160.2 517.5,160 516.8,159.8 516.1,159.6 515.4,159.3 514.7,159.1 514,158.8 513.3,158.5 512.6,158.2 511.9,157.9 511.2,157.6 510.5,157.3 509.8,156.9 509.1,156.6 508.4,156.2 507.7,155.9 507,155.5 506.3,155.2 505.6,154.8 504.9,154.5 504.2,154.1 503.5,153.7 502.8,153.4 502.1,153 501.4,152.7 500.7,152.3 500,151.9 499.3,151.6 498.6,151.2 497.9,150.9 497.2,150.5 496.5,150.1 495.8,149.8 495.1,149.4 494.4,149 493.7,148.7 493,148.3 492.3,148 491.6,147.6 490.9,147.3 490.2,146.9 489.5,146.6 488.8,146.2 488.1,145.9 487.4,145.5 486.7,145.2 486,144.8 485.3,144.5 484.6,144.1 483.9,143.8 483.2,143.4 482.5,143.1 481.8,142.7 481.1,142.4 480.4,142.1 479.7,141.7 479,141.4 478.3,141.1 477.6,140.7 476.9,140.4 476.2,140.1 475.5,139.7 474.8,139.4 474.1,139.1 473.4,138.8 472.7,138.4 472,138.1 471.3,137.8 470.6,137.4 469.9,137.1 469.2,136.8 468.5,136.5 467.8,136.2 467.1,135.8 466.4,135.5 465.7,135.2 465,134.9 464.3,134.6 463.6,134.3 462.9,134 462.2,133.7 461.5,133.4 460.8,133.1 460.1,132.8 459.4,132.5 458.7,132.3 458,132 457.3,131.7 456.6,131.4 455.9,131.1 455.2,130.8 454.5,130.5 453.8,130.3 453.1,130 452.4,129.7 451.7,129.4 451,129.1 450.3,128.9 449.6,128.6 448.9,128.3 448.2,128 447.5,127.8 446.8,127.5 446.1,127.2 445.4,127 444.7,126.7 444,126.4 443.3,126.2 442.6,125.9 441.9,125.7 441.2,125.4 440.5,125.2 439.8,124.9 439.1,124.7 438.4,124.4 437.7,124.2 437,124 436.3,123.7 435.6,123.5 434.9,123.3 434.2,123 433.5,122.8 432.8,122.6 432.1,122.3 431.4,122.1 430.7,121.9 430,121.7 429.3,121.4 428.6,121.2 427.9,121 427.2,120.8 426.5,120.6 425.8,120.3 425.1,120.1 424.4,119.9 423.7,119.7 423,119.5 422.3,119.3 421.6,119 420.9,118.8 420.2,118.6 419.5,118.4 418.8,118.2 418.1,118 417.4,117.7 416.7,117.5 416,117.3 415.3,117.1 414.6,116.9 413.9,116.7 413.2,116.4 412.5,116.2 411.8,116 411.1,115.8 410.4,115.6 409.7,115.3 409,115.1 408.3,114.9 407.6,114.7 406.9,114.5 406.2,114.3 405.5,114 404.8,113.8 404.1,113.6 403.4,113.4 402.7,113.2 402,113 401.3,112.7 400.6,112.5 399.9,112.3 399.2,112.1 398.5,111.9 397.8,111.7 397.1,111.5 396.4,111.3 395.7,111.1 395,110.9 394.3,110.7 393.6,110.5 392.9,110.3 392.2,110.1 391.5,109.9 390.8,109.7 390.1,109.5 389.4,109.3 388.7,109.2 388,109 387.3,108.8 386.6,108.6 385.9,108.5 385.2,108.3 384.5,108.1 383.8,108 383.1,107.8 382.4,107.7 381.7,107.5 381,107.3 380.3,107.2 379.6,107 378.9,106.9 378.2,106.8 377.5,106.6 376.8,106.5 376.1,106.3 375.4,106.2 374.7,106.1 374,105.9 373.3,105.8 372.6,105.7 371.9,105.5 371.2,105.4 370.5,105.3 369.8,105.2 369.1,105 368.4,104.9 367.7,104.8 367,104.7 366.3,104.6 365.6,104.5 364.9,104.3 364.2,104.2 363.5,104.1 362.8,104 362.1,103.9 361.4,103.8 360.7,103.7 360,103.6 359.3,103.5 358.6,103.4 357.9,103.3 357.2,103.2 356.5,103.1 355.8,103 355.1,102.9 354.4,102.9 353.7,102.8 353,102.7 352.3,102.6 351.6,102.5 350.9,102.4 350.2,102.3 349.5,102.2 348.8,102.2 348.1,102.1 347.4,102 346.7,101.9 346,101.8 345.3,101.8 344.6,101.7 343.9,101.6 343.2,101.5 342.5,101.5 341.8,101.4 341.1,101.3 340.4,101.2 339.7,101.2 339,101.1 338.3,101 337.6,101 336.9,100.9 336.2,100.8 335.5,100.8 334.8,100.7 334.1,100.6 333.4,100.6 332.7,100.5 332,100.4 331.3,100.3 330.6,100.3 329.9,100.2 329.2,100.1 328.5,100 327.8,100 327.1,99.9 326.4,99.8 325.7,99.7 325,99.7 324.3,99.6 323.6,99.5 322.9,99.4 322.2,99.4 321.5,99.3 320.8,99.2 320.1,99.1 319.4,99.1 318.7,99 318,98.9 317.3,98.8 316.6,98.8 315.9,98.7 315.2,98.6 314.5,98.5 313.8,98.5 313.1,98.4 312.4,98.3 311.7,98.2 311,98.2 310.3,98.1 309.6,98 308.9,97.9 Z" fill="url(#g6)" /><polyline points="480.4,131 481.1,130 481.8,128.8 482.5,127.4 483.2,125.7 483.9,123.9 484.6,121.9 485.3,119.6 486,117.1 486.7,114.4 487.4,111.5 488.1,108.4 488.8,105.1 489.5,101.7 490.2,98.3 490.9,94.8 491.6,91.3 492.3,87.9 493,84.6 493.7,81.6 494.4,78.9 495.1,76.5 495.8,74.7 496.5,73.5 497.2,72.8 497.9,72.9 498.6,73.4 499.3,74.4 500,75.7 500.7,77.3 501.4,79.3 502.1,81.6 502.8,84.1 503.5,86.9 504.2,89.8 504.9,92.9 505.6,96 506.3,99.3 507,102.5 507.7,105.8 508.4,109.1 509.1,112.4 509.8,115.6 510.5,118.7 511.2,121.7 511.9,124.6 512.6,127.4 513.3,130 514,132.5 514.7,134.9 515.4,137.1 516.1,139.2 516.8,141.1 517.5,142.9 518.2,144.5 518.9,146.1 519.6,147.5 520.3,148.8 521,149.9 521.7,151 522.4,152 523.1,152.9 523.8,153.7 524.5,154.4 525.2,155 525.9,155.6 526.6,156.1 527.3,156.6 528,157 528.7,157.4 529.4,157.7 530.1,158 530.8,158.3 531.5,158.5 532.2,158.8 532.9,159 533.6,159.2 534.3,159.3" fill="none" stroke="#3caa3c" stroke-width="1.4"/><path d="M308.9,97.9 309.6,98 310.3,98.1 311,98.1 311.7,98.2 312.4,98.3 313.1,98.4 313.8,98.4 314.5,98.5 315.2,98.6 315.9,98.7 316.6,98.7 317.3,98.8 318,98.9 318.7,99 319.4,99 320.1,99.1 320.8,99.2 321.5,99.3 322.2,99.3 322.9,99.4 323.6,99.5 324.3,99.6 325,99.6 325.7,99.7 326.4,99.8 327.1,99.9 327.8,99.9 328.5,100 329.2,100.1 329.9,100.2 330.6,100.2 331.3,100.3 332,100.4 332.7,100.5 333.4,100.5 334.1,100.6 334.8,100.7 335.5,100.7 336.2,100.8 336.9,100.9 337.6,100.9 338.3,101 339,101.1 339.7,101.1 340.4,101.2 341.1,101.3 341.8,101.4 342.5,101.4 343.2,101.5 343.9,101.6 344.6,101.6 345.3,101.7 346,101.8 346.7,101.9 347.4,102 348.1,102 348.8,102.1 349.5,102.2 350.2,102.3 350.9,102.4 351.6,102.5 352.3,102.6 353,102.6 353.7,102.7 354.4,102.8 355.1,102.9 355.8,103 356.5,103.1 357.2,103.2 357.9,103.3 358.6,103.4 359.3,103.5 360,103.6 360.7,103.7 361.4,103.8 362.1,103.9 362.8,104 363.5,104.1 364.2,104.2 364.9,104.3 365.6,104.4 366.3,104.5 367,104.6 367.7,104.8 368.4,104.9 369.1,105 369.8,105.1 370.5,105.2 371.2,105.4 371.9,105.5 372.6,105.6 373.3,105.8 374,105.9 374.7,106 375.4,106.1 376.1,106.3 376.8,106.4 377.5,106.6 378.2,106.7 378.9,106.8 379.6,107 380.3,107.1 381,107.3 381.7,107.4 382.4,107.6 383.1,107.7 383.8,107.9 384.5,108.1 385.2,108.2 385.9,108.4 386.6,108.6 387.3,108.7 388,108.9 388.7,109.1 389.4,109.3 390.1,109.4 390.8,109.6 391.5,109.8 392.2,110 392.9,110.2 393.6,110.4 394.3,110.6 395,110.8 395.7,111 396.4,111.2 397.1,111.4 397.8,111.6 398.5,111.8 399.2,112 399.9,112.2 400.6,112.4 401.3,112.6 402,112.8 402.7,113 403.4,113.1 404.1,113.3 404.8,113.5 405.5,113.7 406.2,113.9 406.9,114.1 407.6,114.3 408.3,114.5 409,114.6 409.7,114.8 410.4,115 411.1,115.1 411.8,115.3 412.5,115.4 413.2,115.6 413.9,115.7 414.6,115.8 415.3,116 416,116.1 416.7,116.2 417.4,116.2 418.1,116.3 418.8,116.4 419.5,116.4 420.2,116.4 420.9,116.5 421.6,116.5 422.3,116.4 423,116.4 423.7,116.4 424.4,116.3 425.1,116.2 425.8,116.1 426.5,115.9 427.2,115.8 427.9,115.6 428.6,115.4 429.3,115.1 430,114.9 430.7,114.6 431.4,114.3 432.1,113.9 432.8,113.6 433.5,113.1 434.2,112.7 434.9,112.2 435.6,111.8 436.3,111.2 437,110.7 437.7,110.1 438.4,109.5 439.1,108.8 439.8,108.2 440.5,107.5 441.2,106.8 441.9,106 442.6,105.3 443.3,104.5 444,103.7 444.7,102.9 445.4,102 446.1,101.2 446.8,100.3 447.5,99.5 448.2,98.6 448.9,97.7 449.6,96.9 450.3,96 451,95.1 451.7,94.3 452.4,93.5 453.1,92.6 453.8,91.8 454.5,91.1 455.2,90.3 455.9,89.6 456.6,89 457.3,88.3 458,87.7 458.7,87.2 459.4,86.7 460.1,86.3 460.8,85.9 461.5,85.6 462.2,85.3 462.9,85.1 463.6,85 464.3,84.9 465,84.9 465.7,85 466.4,85.1 467.1,85.4 467.8,85.7 468.5,86 469.2,86.5 469.9,86.9 470.6,87.5 471.3,88.1 472,88.7 472.7,89.5 473.4,90.2 474.1,91 474.8,91.9 475.5,92.8 476.2,93.8 476.9,94.8 477.6,95.8 478.3,96.9 479,98 479.7,99.2 480.4,100.3 481.1,101.5 481.8,102.8 482.5,104 483.2,105.3 483.9,106.6 484.6,107.8 485.3,109.2 486,110.5 486.7,111.8 487.4,113.1 488.1,114.4 488.8,115.8 489.5,117.1 490.2,118.4 490.9,119.7 491.6,121 492.3,122.3 493,123.6 493.7,124.9 494.4,126.1 495.1,127.4 495.8,128.6 496.5,129.8 497.2,131 497.9,132.2 498.6,133.4 499.3,134.5 500,135.6 500.7,136.7 501.4,137.8 502.1,138.8 502.8,139.9 503.5,140.9 504.2,141.8 504.9,142.8 505.6,143.7 506.3,144.6 507,145.5 507.7,146.4 508.4,147.2 509.1,148 509.8,148.8 510.5,149.6 511.2,150.3 511.9,151 512.6,151.7 513.3,152.4 514,153 514.7,153.6 515.4,154.1 516.1,154.6 516.8,155.1 517.5,155.6 518.2,156 518.9,156.4 519.6,156.8 520.3,157.1 521,157.5 521.7,157.8 522.4,158.1 523.1,158.4 523.8,158.7 524.5,158.9 525.2,159.1 525.9,159.4 526.6,159.6 527.3,159.7 528,159.9 528.7,160.1 529.4,160.2 530.1,160.3 530.8,160.4 531.5,160.5 532.2,160.7 532.9,160.7 533.6,160.8 534.3,160.9 L534.3,162.4 533.6,162.3 532.9,162.3 532.2,162.2 531.5,162.2 530.8,162.2 530.1,162.1 529.4,162.1 528.7,162 528,162 527.3,161.9 526.6,161.8 525.9,161.7 525.2,161.6 524.5,161.5 523.8,161.4 523.1,161.3 522.4,161.1 521.7,161 521,160.9 520.3,160.7 519.6,160.5 518.9,160.4 518.2,160.2 517.5,160 516.8,159.8 516.1,159.6 515.4,159.3 514.7,159.1 514,158.8 513.3,158.5 512.6,158.2 511.9,157.9 511.2,157.6 510.5,157.3 509.8,156.9 509.1,156.6 508.4,156.2 507.7,155.9 507,155.5 506.3,155.2 505.6,154.8 504.9,154.5 504.2,154.1 503.5,153.7 502.8,153.4 502.1,153 501.4,152.7 500.7,152.3 500,151.9 499.3,151.6 498.6,151.2 497.9,150.9 497.2,150.5 496.5,150.1 495.8,149.8 495.1,149.4 494.4,149 493.7,148.7 493,148.3 492.3,148 491.6,147.6 490.9,147.3 490.2,146.9 489.5,146.6 488.8,146.2 488.1,145.9 487.4,145.5 486.7,145.2 486,144.8 485.3,144.5 484.6,144.1 483.9,143.8 483.2,143.4 482.5,143.1 481.8,142.7 481.1,142.4 480.4,142.1 479.7,141.7 479,141.4 478.3,141.1 477.6,140.7 476.9,140.4 476.2,140.1 475.5,139.7 474.8,139.4 474.1,139.1 473.4,138.8 472.7,138.4 472,138.1 471.3,137.8 470.6,137.4 469.9,137.1 469.2,136.8 468.5,136.5 467.8,136.2 467.1,135.8 466.4,135.5 465.7,135.2 465,134.9 464.3,134.6 463.6,134.3 462.9,134 462.2,133.7 461.5,133.4 460.8,133.1 460.1,132.8 459.4,132.5 458.7,132.3 458,132 457.3,131.7 456.6,131.4 455.9,131.1 455.2,130.8 454.5,130.5 453.8,130.3 453.1,130 452.4,129.7 451.7,129.4 451,129.1 450.3,128.9 449.6,128.6 448.9,128.3 448.2,128 447.5,127.8 446.8,127.5 446.1,127.2 445.4,127 444.7,126.7 444,126.4 443.3,126.2 442.6,125.9 441.9,125.7 441.2,125.4 440.5,125.2 439.8,124.9 439.1,124.7 438.4,124.4 437.7,124.2 437,124 436.3,123.7 435.6,123.5 434.9,123.3 434.2,123 433.5,122.8 432.8,122.6 432.1,122.3 431.4,122.1 430.7,121.9 430,121.7 429.3,121.4 428.6,121.2 427.9,121 427.2,120.8 426.5,120.6 425.8,120.3 425.1,120.1 424.4,119.9 423.7,119.7 423,119.5 422.3,119.3 421.6,119 420.9,118.8 420.2,118.6 419.5,118.4 418.8,118.2 418.1,118 417.4,117.7 416.7,117.5 416,117.3 415.3,117.1 414.6,116.9 413.9,116.7 413.2,116.4 412.5,116.2 411.8,116 411.1,115.8 410.4,115.6 409.7,115.3 409,115.1 408.3,114.9 407.6,114.7 406.9,114.5 406.2,114.3 405.5,114 404.8,113.8 404.1,113.6 403.4,113.4 402.7,113.2 402,113 401.3,112.7 400.6,112.5 399.9,112.3 399.2,112.1 398.5,111.9 397.8,111.7 397.1,111.5 396.4,111.3 395.7,111.1 395,110.9 394.3,110.7 393.6,110.5 392.9,110.3 392.2,110.1 391.5,109.9 390.8,109.7 390.1,109.5 389.4,109.3 388.7,109.2 388,109 387.3,108.8 386.6,108.6 385.9,108.5 385.2,108.3 384.5,108.1 383.8,108 383.1,107.8 382.4,107.7 381.7,107.5 381,107.3 380.3,107.2 379.6,107 378.9,106.9 378.2,106.8 377.5,106.6 376.8,106.5 376.1,106.3 375.4,106.2 374.7,106.1 374,105.9 373.3,105.8 372.6,105.7 371.9,105.5 371.2,105.4 370.5,105.3 369.8,105.2 369.1,105 368.4,104.9 367.7,104.8 367,104.7 366.3,104.6 365.6,104.5 364.9,104.3 364.2,104.2 363.5,104.1 362.8,104 362.1,103.9 361.4,103.8 360.7,103.7 360,103.6 359.3,103.5 358.6,103.4 357.9,103.3 357.2,103.2 356.5,103.1 355.8,103 355.1,102.9 354.4,102.9 353.7,102.8 353,102.7 352.3,102.6 351.6,102.5 350.9,102.4 350.2,102.3 349.5,102.2 348.8,102.2 348.1,102.1 347.4,102 346.7,101.9 346,101.8 345.3,101.8 344.6,101.7 343.9,101.6 343.2,101.5 342.5,101.5 341.8,101.4 341.1,101.3 340.4,101.2 339.7,101.2 339,101.1 338.3,101 337.6,101 336.9,100.9 336.2,100.8 335.5,100.8 334.8,100.7 334.1,100.6 333.4,100.6 332.7,100.5 332,100.4 331.3,100.3 330.6,100.3 329.9,100.2 329.2,100.1 328.5,100 327.8,100 327.1,99.9 326.4,99.8 325.7,99.7 325,99.7 324.3,99.6 323.6,99.5 322.9,99.4 322.2,99.4 321.5,99.3 320.8,99.2 320.1,99.1 319.4,99.1 318.7,99 318,98.9 317.3,98.8 316.6,98.8 315.9,98.7 315.2,98.6 314.5,98.5 313.8,98.5 313.1,98.4 312.4,98.3 311.7,98.2 311,98.2 310.3,98.1 309.6,98 308.9,97.9 Z" fill="url(#g7)" /><path d="M438.4,109.5 439.1,108.8 439.8,108.2 440.5,107.5 441.2,106.8 441.9,106 442.6,105.3 443.3,104.5 444,103.7 444.7,102.9 445.4,102 446.1,101.2 446.8,100.3 447.5,99.5 448.2,98.6 448.9,97.7 449.6,96.9 450.3,96 451,95.1 451.7,94.3 452.4,93.5 453.1,92.6 453.8,91.8 454.5,91.1 455.2,90.3 455.9,89.6 456.6,89 457.3,88.3 458,87.7 458.7,87.2 459.4,86.7 460.1,86.3 460.8,85.9 461.5,85.6 462.2,85.3 462.9,85.1 463.6,85 464.3,84.9 465,84.9 465.7,85 466.4,85.1 467.1,85.4 467.8,85.7 468.5,86 469.2,86.5 469.9,86.9 470.6,87.5 471.3,88.1 472,88.7 472.7,89.5 473.4,90.2 474.1,91 474.8,91.9 475.5,92.8 476.2,93.8 476.9,94.8 477.6,95.8 478.3,96.9 479,98 479.7,99.2 480.4,100.3 481.1,101.5 481.8,102.8 482.5,104 483.2,105.3 483.9,106.6 484.6,107.8 L484.6,110.6 483.9,112.9 483.2,115 482.5,116.8 481.8,118.4 481.1,119.8 480.4,120.9 479.7,121.9 479,122.8 478.3,123.4 477.6,124 476.9,124.4 476.2,124.7 475.5,125 474.8,125.1 474.1,125.2 473.4,125.3 472.7,125.3 472,125.2 471.3,125.1 470.6,125 469.9,124.9 469.2,124.7 468.5,124.6 467.8,124.4 467.1,124.2 466.4,124 465.7,123.8 465,123.6 464.3,123.3 463.6,123.1 462.9,122.9 462.2,122.7 461.5,122.4 460.8,122.2 460.1,121.9 459.4,121.7 458.7,121.4 458,121.2 457.3,120.9 456.6,120.6 455.9,120.3 455.2,120 454.5,119.7 453.8,119.4 453.1,119.1 452.4,118.8 451.7,118.5 451,118.1 450.3,117.7 449.6,117.4 448.9,117 448.2,116.6 447.5,116.2 446.8,115.8 446.1,115.4 445.4,114.9 444.7,114.5 444,114 443.3,113.6 442.6,113.1 441.9,112.6 441.2,112.2 440.5,111.7 439.8,111.2 439.1,110.8 438.4,110.3 Z" fill="url(#g8)" /><polyline points="438.4,110.3 439.1,110.8 439.8,111.2 440.5,111.7 441.2,112.2 441.9,112.6 442.6,113.1 443.3,113.6 444,114 444.7,114.5 445.4,114.9 446.1,115.4 446.8,115.8 447.5,116.2 448.2,116.6 448.9,117 449.6,117.4 450.3,117.7 451,118.1 451.7,118.5 452.4,118.8 453.1,119.1 453.8,119.4 454.5,119.7 455.2,120 455.9,120.3 456.6,120.6 457.3,120.9 458,121.2 458.7,121.4 459.4,121.7 460.1,121.9 460.8,122.2 461.5,122.4 462.2,122.7 462.9,122.9 463.6,123.1 464.3,123.3 465,123.6 465.7,123.8 466.4,124 467.1,124.2 467.8,124.4 468.5,124.6 469.2,124.7 469.9,124.9 470.6,125 471.3,125.1 472,125.2 472.7,125.3 473.4,125.3 474.1,125.2 474.8,125.1 475.5,125 476.2,124.7 476.9,124.4 477.6,124 478.3,123.4 479,122.8 479.7,121.9 480.4,120.9 481.1,119.8 481.8,118.4 482.5,116.8 483.2,115 483.9,112.9 484.6,110.6" fill="none" stroke="#a09aa8" stroke-width="0.8"/><path d="M308.9,97.9 309.6,98 310.3,98.1 311,98.1 311.7,98.2 312.4,98.3 313.1,98.3 313.8,98.4 314.5,98.5 315.2,98.6 315.9,98.6 316.6,98.7 317.3,98.8 318,98.9 318.7,98.9 319.4,99 320.1,99.1 320.8,99.2 321.5,99.2 322.2,99.3 322.9,99.4 323.6,99.5 324.3,99.5 325,99.6 325.7,99.7 326.4,99.8 327.1,99.8 327.8,99.9 328.5,100 329.2,100.1 329.9,100.1 330.6,100.2 331.3,100.3 332,100.3 332.7,100.4 333.4,100.5 334.1,100.6 334.8,100.6 335.5,100.7 336.2,100.8 336.9,100.8 337.6,100.9 338.3,101 339,101 339.7,101.1 340.4,101.2 341.1,101.2 341.8,101.3 342.5,101.4 343.2,101.4 343.9,101.5 344.6,101.6 345.3,101.7 346,101.7 346.7,101.8 347.4,101.9 348.1,102 348.8,102.1 349.5,102.1 350.2,102.2 350.9,102.3 351.6,102.4 352.3,102.5 353,102.6 353.7,102.7 354.4,102.7 355.1,102.8 355.8,102.9 356.5,103 357.2,103.1 357.9,103.2 358.6,103.3 359.3,103.4 360,103.5 360.7,103.6 361.4,103.7 362.1,103.8 362.8,103.9 363.5,104 364.2,104.1 364.9,104.2 365.6,104.3 366.3,104.4 367,104.5 367.7,104.6 368.4,104.7 369.1,104.9 369.8,105 370.5,105.1 371.2,105.2 371.9,105.3 372.6,105.5 373.3,105.6 374,105.7 374.7,105.8 375.4,106 376.1,106.1 376.8,106.2 377.5,106.3 378.2,106.5 378.9,106.6 379.6,106.7 380.3,106.9 381,107 381.7,107.1 382.4,107.2 383.1,107.4 383.8,107.5 384.5,107.6 385.2,107.7 385.9,107.9 386.6,108 387.3,108.1 388,108.2 388.7,108.2 389.4,108.3 390.1,108.4 390.8,108.4 391.5,108.4 392.2,108.4 392.9,108.4 393.6,108.3 394.3,108.3 395,108.2 395.7,108 396.4,107.8 397.1,107.6 397.8,107.4 398.5,107 399.2,106.7 399.9,106.3 400.6,105.8 401.3,105.3 402,104.8 402.7,104.2 403.4,103.5 404.1,102.8 404.8,102.1 405.5,101.3 406.2,100.5 406.9,99.6 407.6,98.8 408.3,97.9 409,96.9 409.7,96 410.4,95.1 411.1,94.2 411.8,93.4 412.5,92.5 413.2,91.7 413.9,91 414.6,90.4 415.3,89.8 416,89.3 416.7,88.9 417.4,88.6 418.1,88.4 418.8,88.4 419.5,88.4 420.2,88.6 420.9,88.9 421.6,89.3 422.3,89.7 423,90.3 423.7,90.9 424.4,91.6 425.1,92.4 425.8,93.3 426.5,94.2 427.2,95.1 427.9,96.1 428.6,97.2 429.3,98.3 430,99.4 430.7,100.5 431.4,101.7 432.1,102.8 432.8,104 433.5,105.2 434.2,106.3 434.9,107.5 435.6,108.6 436.3,109.7 437,110.8 437.7,111.9 438.4,113 439.1,114 439.8,115 440.5,116 441.2,116.9 441.9,117.8 442.6,118.6 443.3,119.5 444,120.3 444.7,121 445.4,121.8 446.1,122.5 446.8,123.2 447.5,123.8 448.2,124.4 448.9,125 449.6,125.6 450.3,126.1 451,126.6 451.7,127.1 452.4,127.6 453.1,128.1 453.8,128.5 454.5,129 455.2,129.4 455.9,129.8 456.6,130.2 457.3,130.6 458,130.9 458.7,131.3 459.4,131.7 460.1,132 460.8,132.3 461.5,132.7 462.2,133 462.9,133.4 463.6,133.7 464.3,134 465,134.4 465.7,134.7 466.4,135 467.1,135.4 467.8,135.7 468.5,136 469.2,136.4 469.9,136.7 470.6,137 471.3,137.4 472,137.7 472.7,138.1 473.4,138.4 474.1,138.7 474.8,139.1 475.5,139.4 476.2,139.7 476.9,140.1 477.6,140.4 478.3,140.8 479,141.1 479.7,141.4 480.4,141.8 481.1,142.1 481.8,142.5 482.5,142.8 483.2,143.2 483.9,143.5 484.6,143.9 485.3,144.2 486,144.6 486.7,144.9 487.4,145.3 488.1,145.6 488.8,146 489.5,146.3 490.2,146.7 490.9,147 491.6,147.4 492.3,147.8 493,148.1 493.7,148.5 494.4,148.9 495.1,149.2 495.8,149.6 496.5,150 497.2,150.3 497.9,150.7 498.6,151.1 499.3,151.4 500,151.8 500.7,152.2 501.4,152.5 502.1,152.9 502.8,153.2 503.5,153.6 504.2,154 504.9,154.3 505.6,154.7 506.3,155 507,155.4 507.7,155.7 508.4,156.1 509.1,156.4 509.8,156.8 510.5,157.1 511.2,157.5 511.9,157.8 512.6,158.1 513.3,158.4 514,158.7 514.7,159 515.4,159.2 516.1,159.5 516.8,159.7 517.5,159.9 518.2,160.1 518.9,160.3 519.6,160.4 520.3,160.6 521,160.8 521.7,160.9 522.4,161 523.1,161.2 523.8,161.3 524.5,161.4 525.2,161.5 525.9,161.6 526.6,161.7 527.3,161.8 528,161.9 528.7,161.9 529.4,162 530.1,162 530.8,162.1 531.5,162.1 532.2,162.2 532.9,162.2 533.6,162.2 534.3,162.3 L534.3,162.4 533.6,162.3 532.9,162.3 532.2,162.2 531.5,162.2 530.8,162.2 530.1,162.1 529.4,162.1 528.7,162 528,162 527.3,161.9 526.6,161.8 525.9,161.7 525.2,161.6 524.5,161.5 523.8,161.4 523.1,161.3 522.4,161.1 521.7,161 521,160.9 520.3,160.7 519.6,160.5 518.9,160.4 518.2,160.2 517.5,160 516.8,159.8 516.1,159.6 515.4,159.3 514.7,159.1 514,158.8 513.3,158.5 512.6,158.2 511.9,157.9 511.2,157.6 510.5,157.3 509.8,156.9 509.1,156.6 508.4,156.2 507.7,155.9 507,155.5 506.3,155.2 505.6,154.8 504.9,154.5 504.2,154.1 503.5,153.7 502.8,153.4 502.1,153 501.4,152.7 500.7,152.3 500,151.9 499.3,151.6 498.6,151.2 497.9,150.9 497.2,150.5 496.5,150.1 495.8,149.8 495.1,149.4 494.4,149 493.7,148.7 493,148.3 492.3,148 491.6,147.6 490.9,147.3 490.2,146.9 489.5,146.6 488.8,146.2 488.1,145.9 487.4,145.5 486.7,145.2 486,144.8 485.3,144.5 484.6,144.1 483.9,143.8 483.2,143.4 482.5,143.1 481.8,142.7 481.1,142.4 480.4,142.1 479.7,141.7 479,141.4 478.3,141.1 477.6,140.7 476.9,140.4 476.2,140.1 475.5,139.7 474.8,139.4 474.1,139.1 473.4,138.8 472.7,138.4 472,138.1 471.3,137.8 470.6,137.4 469.9,137.1 469.2,136.8 468.5,136.5 467.8,136.2 467.1,135.8 466.4,135.5 465.7,135.2 465,134.9 464.3,134.6 463.6,134.3 462.9,134 462.2,133.7 461.5,133.4 460.8,133.1 460.1,132.8 459.4,132.5 458.7,132.3 458,132 457.3,131.7 456.6,131.4 455.9,131.1 455.2,130.8 454.5,130.5 453.8,130.3 453.1,130 452.4,129.7 451.7,129.4 451,129.1 450.3,128.9 449.6,128.6 448.9,128.3 448.2,128 447.5,127.8 446.8,127.5 446.1,127.2 445.4,127 444.7,126.7 444,126.4 443.3,126.2 442.6,125.9 441.9,125.7 441.2,125.4 440.5,125.2 439.8,124.9 439.1,124.7 438.4,124.4 437.7,124.2 437,124 436.3,123.7 435.6,123.5 434.9,123.3 434.2,123 433.5,122.8 432.8,122.6 432.1,122.3 431.4,122.1 430.7,121.9 430,121.7 429.3,121.4 428.6,121.2 427.9,121 427.2,120.8 426.5,120.6 425.8,120.3 425.1,120.1 424.4,119.9 423.7,119.7 423,119.5 422.3,119.3 421.6,119 420.9,118.8 420.2,118.6 419.5,118.4 418.8,118.2 418.1,118 417.4,117.7 416.7,117.5 416,117.3 415.3,117.1 414.6,116.9 413.9,116.7 413.2,116.4 412.5,116.2 411.8,116 411.1,115.8 410.4,115.6 409.7,115.3 409,115.1 408.3,114.9 407.6,114.7 406.9,114.5 406.2,114.3 405.5,114 404.8,113.8 404.1,113.6 403.4,113.4 402.7,113.2 402,113 401.3,112.7 400.6,112.5 399.9,112.3 399.2,112.1 398.5,111.9 397.8,111.7 397.1,111.5 396.4,111.3 395.7,111.1 395,110.9 394.3,110.7 393.6,110.5 392.9,110.3 392.2,110.1 391.5,109.9 390.8,109.7 390.1,109.5 389.4,109.3 388.7,109.2 388,109 387.3,108.8 386.6,108.6 385.9,108.5 385.2,108.3 384.5,108.1 383.8,108 383.1,107.8 382.4,107.7 381.7,107.5 381,107.3 380.3,107.2 379.6,107 378.9,106.9 378.2,106.8 377.5,106.6 376.8,106.5 376.1,106.3 375.4,106.2 374.7,106.1 374,105.9 373.3,105.8 372.6,105.7 371.9,105.5 371.2,105.4 370.5,105.3 369.8,105.2 369.1,105 368.4,104.9 367.7,104.8 367,104.7 366.3,104.6 365.6,104.5 364.9,104.3 364.2,104.2 363.5,104.1 362.8,104 362.1,103.9 361.4,103.8 360.7,103.7 360,103.6 359.3,103.5 358.6,103.4 357.9,103.3 357.2,103.2 356.5,103.1 355.8,103 355.1,102.9 354.4,102.9 353.7,102.8 353,102.7 352.3,102.6 351.6,102.5 350.9,102.4 350.2,102.3 349.5,102.2 348.8,102.2 348.1,102.1 347.4,102 346.7,101.9 346,101.8 345.3,101.8 344.6,101.7 343.9,101.6 343.2,101.5 342.5,101.5 341.8,101.4 341.1,101.3 340.4,101.2 339.7,101.2 339,101.1 338.3,101 337.6,101 336.9,100.9 336.2,100.8 335.5,100.8 334.8,100.7 334.1,100.6 333.4,100.6 332.7,100.5 332,100.4 331.3,100.3 330.6,100.3 329.9,100.2 329.2,100.1 328.5,100 327.8,100 327.1,99.9 326.4,99.8 325.7,99.7 325,99.7 324.3,99.6 323.6,99.5 322.9,99.4 322.2,99.4 321.5,99.3 320.8,99.2 320.1,99.1 319.4,99.1 318.7,99 318,98.9 317.3,98.8 316.6,98.8 315.9,98.7 315.2,98.6 314.5,98.5 313.8,98.5 313.1,98.4 312.4,98.3 311.7,98.2 311,98.2 310.3,98.1 309.6,98 308.9,97.9 Z" fill="#f8d77e" fill-opacity="0.95"/><path d="M308.9,97.9 309.6,98 310.3,98.1 311,98.2 311.7,98.2 312.4,98.3 313.1,98.4 313.8,98.4 314.5,98.5 315.2,98.6 315.9,98.7 316.6,98.7 317.3,98.8 318,98.9 318.7,98.9 319.4,99 320.1,99.1 320.8,99.1 321.5,99.2 322.2,99.3 322.9,99.3 323.6,99.4 324.3,99.5 325,99.5 325.7,99.6 326.4,99.7 327.1,99.7 327.8,99.8 328.5,99.8 329.2,99.9 329.9,99.9 330.6,100 331.3,100 332,100.1 332.7,100.1 333.4,100.2 334.1,100.2 334.8,100.3 335.5,100.3 336.2,100.3 336.9,100.3 337.6,100.4 338.3,100.4 339,100.4 339.7,100.4 340.4,100.4 341.1,100.5 341.8,100.5 342.5,100.5 343.2,100.5 343.9,100.5 344.6,100.5 345.3,100.5 346,100.5 346.7,100.5 347.4,100.5 348.1,100.4 348.8,100.4 349.5,100.4 350.2,100.4 350.9,100.4 351.6,100.3 352.3,100.3 353,100.3 353.7,100.3 354.4,100.2 355.1,100.2 355.8,100.1 356.5,100.1 357.2,100 357.9,100 358.6,99.9 359.3,99.9 360,99.8 360.7,99.8 361.4,99.7 362.1,99.7 362.8,99.6 363.5,99.6 364.2,99.5 364.9,99.5 365.6,99.4 366.3,99.4 367,99.3 367.7,99.3 368.4,99.2 369.1,99.2 369.8,99.2 370.5,99.2 371.2,99.1 371.9,99.1 372.6,99.1 373.3,99.1 374,99.1 374.7,99.1 375.4,99.1 376.1,99.2 376.8,99.2 377.5,99.2 378.2,99.3 378.9,99.3 379.6,99.4 380.3,99.5 381,99.6 381.7,99.7 382.4,99.8 383.1,99.9 383.8,100 384.5,100.2 385.2,100.3 385.9,100.5 386.6,100.6 387.3,100.8 388,101 388.7,101.2 389.4,101.4 390.1,101.7 390.8,101.9 391.5,102.2 392.2,102.4 392.9,102.7 393.6,103 394.3,103.3 395,103.6 395.7,103.9 396.4,104.2 397.1,104.5 397.8,104.8 398.5,105.2 399.2,105.5 399.9,105.9 400.6,106.2 401.3,106.6 402,106.9 402.7,107.3 403.4,107.7 404.1,108 404.8,108.4 405.5,108.8 406.2,109.2 406.9,109.5 407.6,109.9 408.3,110.3 409,110.7 409.7,111.1 410.4,111.4 411.1,111.8 411.8,112.2 412.5,112.6 413.2,112.9 413.9,113.3 414.6,113.6 415.3,114 416,114.4 416.7,114.7 417.4,115.1 418.1,115.4 418.8,115.7 419.5,116.1 420.2,116.4 420.9,116.8 421.6,117.1 422.3,117.4 423,117.7 423.7,118 424.4,118.4 425.1,118.7 425.8,119 426.5,119.3 427.2,119.6 427.9,119.9 428.6,120.2 429.3,120.4 430,120.7 430.7,121 431.4,121.3 432.1,121.6 432.8,121.9 433.5,122.1 434.2,122.4 434.9,122.7 435.6,123 436.3,123.2 437,123.5 437.7,123.8 438.4,124.1 439.1,124.3 439.8,124.6 440.5,124.9 441.2,125.2 441.9,125.4 442.6,125.7 443.3,126 444,126.3 444.7,126.5 445.4,126.8 446.1,127.1 446.8,127.4 447.5,127.6 448.2,127.9 448.9,128.2 449.6,128.5 450.3,128.8 451,129.1 451.7,129.3 452.4,129.6 453.1,129.9 453.8,130.2 454.5,130.5 455.2,130.8 455.9,131.1 456.6,131.4 457.3,131.6 458,131.9 458.7,132.2 459.4,132.5 460.1,132.8 460.8,133.1 461.5,133.4 462.2,133.7 462.9,134 463.6,134.3 464.3,134.6 465,134.9 465.7,135.2 466.4,135.5 467.1,135.8 467.8,136.2 468.5,136.5 469.2,136.8 469.9,137.1 470.6,137.4 471.3,137.8 472,138.1 472.7,138.4 473.4,138.7 474.1,139.1 474.8,139.4 475.5,139.7 476.2,140.1 476.9,140.4 477.6,140.7 478.3,141.1 479,141.4 479.7,141.7 480.4,142.1 481.1,142.4 481.8,142.7 482.5,143.1 483.2,143.4 483.9,143.8 484.6,144.1 485.3,144.5 486,144.8 486.7,145.2 487.4,145.5 488.1,145.9 488.8,146.2 489.5,146.6 490.2,146.9 490.9,147.3 491.6,147.6 492.3,148 493,148.3 493.7,148.7 494.4,149 495.1,149.4 495.8,149.8 496.5,150.1 497.2,150.5 497.9,150.9 498.6,151.2 499.3,151.6 500,151.9 500.7,152.3 501.4,152.7 502.1,153 502.8,153.4 503.5,153.7 504.2,154.1 504.9,154.5 505.6,154.8 506.3,155.2 507,155.5 507.7,155.9 508.4,156.2 509.1,156.6 509.8,156.9 510.5,157.3 511.2,157.6 511.9,157.9 512.6,158.2 513.3,158.5 514,158.8 514.7,159.1 515.4,159.3 516.1,159.6 516.8,159.8 517.5,160 518.2,160.2 518.9,160.4 519.6,160.5 520.3,160.7 521,160.9 521.7,161 522.4,161.1 523.1,161.3 523.8,161.4 524.5,161.5 525.2,161.6 525.9,161.7 526.6,161.8 527.3,161.9 528,162 528.7,162 529.4,162.1 530.1,162.1 530.8,162.2 531.5,162.2 532.2,162.2 532.9,162.3 533.6,162.3 534.3,162.4 L534.3,162.4 533.6,162.3 532.9,162.3 532.2,162.2 531.5,162.2 530.8,162.2 530.1,162.1 529.4,162.1 528.7,162 528,162 527.3,161.9 526.6,161.8 525.9,161.7 525.2,161.6 524.5,161.5 523.8,161.4 523.1,161.3 522.4,161.1 521.7,161 521,160.9 520.3,160.7 519.6,160.5 518.9,160.4 518.2,160.2 517.5,160 516.8,159.8 516.1,159.6 515.4,159.3 514.7,159.1 514,158.8 513.3,158.5 512.6,158.2 511.9,157.9 511.2,157.6 510.5,157.3 509.8,156.9 509.1,156.6 508.4,156.2 507.7,155.9 507,155.5 506.3,155.2 505.6,154.8 504.9,154.5 504.2,154.1 503.5,153.7 502.8,153.4 502.1,153 501.4,152.7 500.7,152.3 500,151.9 499.3,151.6 498.6,151.2 497.9,150.9 497.2,150.5 496.5,150.1 495.8,149.8 495.1,149.4 494.4,149 493.7,148.7 493,148.3 492.3,148 491.6,147.6 490.9,147.3 490.2,146.9 489.5,146.6 488.8,146.2 488.1,145.9 487.4,145.5 486.7,145.2 486,144.8 485.3,144.5 484.6,144.1 483.9,143.8 483.2,143.4 482.5,143.1 481.8,142.7 481.1,142.4 480.4,142.1 479.7,141.7 479,141.4 478.3,141.1 477.6,140.7 476.9,140.4 476.2,140.1 475.5,139.7 474.8,139.4 474.1,139.1 473.4,138.8 472.7,138.4 472,138.1 471.3,137.8 470.6,137.4 469.9,137.1 469.2,136.8 468.5,136.5 467.8,136.2 467.1,135.8 466.4,135.5 465.7,135.2 465,134.9 464.3,134.6 463.6,134.3 462.9,134 462.2,133.7 461.5,133.4 460.8,133.1 460.1,132.8 459.4,132.5 458.7,132.3 458,132 457.3,131.7 456.6,131.4 455.9,131.1 455.2,130.8 454.5,130.5 453.8,130.3 453.1,130 452.4,129.7 451.7,129.4 451,129.1 450.3,128.9 449.6,128.6 448.9,128.3 448.2,128 447.5,127.8 446.8,127.5 446.1,127.2 445.4,127 444.7,126.7 444,126.4 443.3,126.2 442.6,125.9 441.9,125.7 441.2,125.4 440.5,125.2 439.8,124.9 439.1,124.7 438.4,124.4 437.7,124.2 437,124 436.3,123.7 435.6,123.5 434.9,123.3 434.2,123 433.5,122.8 432.8,122.6 432.1,122.3 431.4,122.1 430.7,121.9 430,121.7 429.3,121.4 428.6,121.2 427.9,121 427.2,120.8 426.5,120.6 425.8,120.3 425.1,120.1 424.4,119.9 423.7,119.7 423,119.5 422.3,119.3 421.6,119 420.9,118.8 420.2,118.6 419.5,118.4 418.8,118.2 418.1,118 417.4,117.7 416.7,117.5 416,117.3 415.3,117.1 414.6,116.9 413.9,116.7 413.2,116.4 412.5,116.2 411.8,116 411.1,115.8 410.4,115.6 409.7,115.3 409,115.1 408.3,114.9 407.6,114.7 406.9,114.5 406.2,114.3 405.5,114 404.8,113.8 404.1,113.6 403.4,113.4 402.7,113.2 402,113 401.3,112.7 400.6,112.5 399.9,112.3 399.2,112.1 398.5,111.9 397.8,111.7 397.1,111.5 396.4,111.3 395.7,111.1 395,110.9 394.3,110.7 393.6,110.5 392.9,110.3 392.2,110.1 391.5,109.9 390.8,109.7 390.1,109.5 389.4,109.3 388.7,109.2 388,109 387.3,108.8 386.6,108.6 385.9,108.5 385.2,108.3 384.5,108.1 383.8,108 383.1,107.8 382.4,107.7 381.7,107.5 381,107.3 380.3,107.2 379.6,107 378.9,106.9 378.2,106.8 377.5,106.6 376.8,106.5 376.1,106.3 375.4,106.2 374.7,106.1 374,105.9 373.3,105.8 372.6,105.7 371.9,105.5 371.2,105.4 370.5,105.3 369.8,105.2 369.1,105 368.4,104.9 367.7,104.8 367,104.7 366.3,104.6 365.6,104.5 364.9,104.3 364.2,104.2 363.5,104.1 362.8,104 362.1,103.9 361.4,103.8 360.7,103.7 360,103.6 359.3,103.5 358.6,103.4 357.9,103.3 357.2,103.2 356.5,103.1 355.8,103 355.1,102.9 354.4,102.9 353.7,102.8 353,102.7 352.3,102.6 351.6,102.5 350.9,102.4 350.2,102.3 349.5,102.2 348.8,102.2 348.1,102.1 347.4,102 346.7,101.9 346,101.8 345.3,101.8 344.6,101.7 343.9,101.6 343.2,101.5 342.5,101.5 341.8,101.4 341.1,101.3 340.4,101.2 339.7,101.2 339,101.1 338.3,101 337.6,101 336.9,100.9 336.2,100.8 335.5,100.8 334.8,100.7 334.1,100.6 333.4,100.6 332.7,100.5 332,100.4 331.3,100.3 330.6,100.3 329.9,100.2 329.2,100.1 328.5,100 327.8,100 327.1,99.9 326.4,99.8 325.7,99.7 325,99.7 324.3,99.6 323.6,99.5 322.9,99.4 322.2,99.4 321.5,99.3 320.8,99.2 320.1,99.1 319.4,99.1 318.7,99 318,98.9 317.3,98.8 316.6,98.8 315.9,98.7 315.2,98.6 314.5,98.5 313.8,98.5 313.1,98.4 312.4,98.3 311.7,98.2 311,98.2 310.3,98.1 309.6,98 308.9,97.9 Z" fill="#93a0a0" fill-opacity="0.92"/><path d="M384.5,100.1 385.2,99.8 385.9,99.4 386.6,99.1 387.3,98.8 388,98.5 388.7,98.1 389.4,97.8 390.1,97.5 390.8,97.1 391.5,96.8 392.2,96.5 392.9,96.3 393.6,96 394.3,95.8 395,95.6 395.7,95.4 396.4,95.2 397.1,95.1 397.8,95 398.5,95 399.2,95 399.9,95 400.6,95.1 401.3,95.3 402,95.5 402.7,95.7 403.4,96 404.1,96.3 404.8,96.7 405.5,97.1 406.2,97.5 406.9,98 407.6,98.5 408.3,99 409,99.6 409.7,100.2 410.4,100.8 411.1,101.4 411.8,102.1 412.5,102.7 413.2,103.4 413.9,104.1 414.6,104.8 415.3,105.5 416,106.2 416.7,106.9 417.4,107.6 418.1,108.3 418.8,109 419.5,109.6 420.2,110.3 420.9,111 421.6,111.6 422.3,112.3 423,112.9 423.7,113.5 424.4,114.1 425.1,114.7 425.8,115.2 426.5,115.8 427.2,116.3 427.9,116.8 428.6,117.3 429.3,117.8 430,118.3 430.7,118.8 431.4,119.2 432.1,119.7 432.8,120.1 433.5,120.5 434.2,120.9 434.9,121.3 435.6,121.7 436.3,122 437,122.4 437.7,122.7 438.4,123.1 439.1,123.4 439.8,123.8 440.5,124.1 441.2,124.4 441.9,124.7 442.6,125 443.3,125.4 444,125.7 444.7,126 445.4,126.3 446.1,126.6 446.8,126.9 447.5,127.2 448.2,127.5 448.9,127.8 449.6,128.1 450.3,128.4 451,128.7 451.7,129 452.4,129.3 453.1,129.6 453.8,129.9 454.5,130.2 455.2,130.5 455.9,130.8 456.6,131 457.3,131.3 458,131.6 458.7,131.9 459.4,132.2 460.1,132.5 460.8,132.8 461.5,133.1 462.2,133.4 462.9,133.7 463.6,134 464.3,134.4 465,134.7 465.7,135 466.4,135.3 467.1,135.6 467.8,135.9 468.5,136.3 469.2,136.6 469.9,136.9 470.6,137.2 471.3,137.6 472,137.9 472.7,138.2 473.4,138.6 474.1,138.9 474.8,139.2 475.5,139.5 476.2,139.9 476.9,140.2 477.6,140.5 478.3,140.9 479,141.2 479.7,141.6 480.4,141.9 481.1,142.2 481.8,142.6 482.5,142.9 483.2,143.3 483.9,143.6 484.6,144 485.3,144.3 486,144.7 486.7,145 487.4,145.4 488.1,145.7 488.8,146.1 489.5,146.4 490.2,146.8 490.9,147.1 491.6,147.5 492.3,147.8 493,148.2 493.7,148.6 494.4,148.9 495.1,149.3 495.8,149.6 496.5,150 497.2,150.4 497.9,150.7 498.6,151.1 499.3,151.5 500,151.8 500.7,152.2 501.4,152.6 502.1,152.9 502.8,153.3 503.5,153.6 504.2,154 504.9,154.4 505.6,154.7 506.3,155.1 507,155.4 507.7,155.8 508.4,156.1 509.1,156.5 509.8,156.8 510.5,157.2 511.2,157.5 511.9,157.9 512.6,158.2 513.3,158.5 514,158.7 514.7,159 515.4,159.3 516.1,159.5 516.8,159.7 517.5,159.9 518.2,160.1 518.9,160.3 519.6,160.5 520.3,160.6 521,160.8 521.7,160.9 522.4,161.1 523.1,161.2 523.8,161.3 524.5,161.4 525.2,161.6 525.9,161.7 526.6,161.7 527.3,161.8 528,161.9 528.7,161.9 529.4,162 530.1,162.1 530.8,162.1 531.5,162.1 532.2,162.2 532.9,162.2 533.6,162.3 534.3,162.3 L534.3,162.4 533.6,162.3 532.9,162.3 532.2,162.2 531.5,162.2 530.8,162.2 530.1,162.1 529.4,162.1 528.7,162 528,162 527.3,161.9 526.6,161.8 525.9,161.7 525.2,161.6 524.5,161.5 523.8,161.4 523.1,161.3 522.4,161.1 521.7,161 521,160.9 520.3,160.7 519.6,160.5 518.9,160.4 518.2,160.2 517.5,160 516.8,159.8 516.1,159.6 515.4,159.3 514.7,159.1 514,158.8 513.3,158.5 512.6,158.2 511.9,157.9 511.2,157.6 510.5,157.3 509.8,156.9 509.1,156.6 508.4,156.2 507.7,155.9 507,155.5 506.3,155.2 505.6,154.8 504.9,154.5 504.2,154.1 503.5,153.7 502.8,153.4 502.1,153 501.4,152.7 500.7,152.3 500,151.9 499.3,151.6 498.6,151.2 497.9,150.9 497.2,150.5 496.5,150.1 495.8,149.8 495.1,149.4 494.4,149 493.7,148.7 493,148.3 492.3,148 491.6,147.6 490.9,147.3 490.2,146.9 489.5,146.6 488.8,146.2 488.1,145.9 487.4,145.5 486.7,145.2 486,144.8 485.3,144.5 484.6,144.1 483.9,143.8 483.2,143.4 482.5,143.1 481.8,142.7 481.1,142.4 480.4,142.1 479.7,141.7 479,141.4 478.3,141.1 477.6,140.7 476.9,140.4 476.2,140.1 475.5,139.7 474.8,139.4 474.1,139.1 473.4,138.7 472.7,138.4 472,138.1 471.3,137.8 470.6,137.4 469.9,137.1 469.2,136.8 468.5,136.5 467.8,136.2 467.1,135.8 466.4,135.5 465.7,135.2 465,134.9 464.3,134.6 463.6,134.3 462.9,134 462.2,133.7 461.5,133.4 460.8,133.1 460.1,132.8 459.4,132.5 458.7,132.2 458,131.9 457.3,131.6 456.6,131.4 455.9,131.1 455.2,130.8 454.5,130.5 453.8,130.2 453.1,129.9 452.4,129.6 451.7,129.3 451,129.1 450.3,128.8 449.6,128.5 448.9,128.2 448.2,127.9 447.5,127.6 446.8,127.4 446.1,127.1 445.4,126.8 444.7,126.5 444,126.3 443.3,126 442.6,125.7 441.9,125.4 441.2,125.2 440.5,124.9 439.8,124.6 439.1,124.3 438.4,124.1 437.7,123.8 437,123.5 436.3,123.2 435.6,123 434.9,122.7 434.2,122.4 433.5,122.1 432.8,121.9 432.1,121.6 431.4,121.3 430.7,121 430,120.7 429.3,120.4 428.6,120.2 427.9,119.9 427.2,119.6 426.5,119.3 425.8,119 425.1,118.7 424.4,118.4 423.7,118 423,117.7 422.3,117.4 421.6,117.1 420.9,116.8 420.2,116.4 419.5,116.1 418.8,115.7 418.1,115.4 417.4,115.1 416.7,114.7 416,114.4 415.3,114 414.6,113.6 413.9,113.3 413.2,112.9 412.5,112.6 411.8,112.2 411.1,111.8 410.4,111.4 409.7,111.1 409,110.7 408.3,110.3 407.6,109.9 406.9,109.5 406.2,109.2 405.5,108.8 404.8,108.4 404.1,108 403.4,107.7 402.7,107.3 402,106.9 401.3,106.6 400.6,106.2 399.9,105.9 399.2,105.5 398.5,105.2 397.8,104.8 397.1,104.5 396.4,104.2 395.7,103.9 395,103.6 394.3,103.3 393.6,103 392.9,102.7 392.2,102.4 391.5,102.2 390.8,101.9 390.1,101.7 389.4,101.4 388.7,101.2 388,101 387.3,100.8 386.6,100.6 385.9,100.5 385.2,100.3 384.5,100.2 Z" fill="#5fe2e2" fill-opacity="0.9"/><polyline points="308.9,97.9 309.6,98 310.3,98.1 311,98.2 311.7,98.2 312.4,98.3 313.1,98.4 313.8,98.5 314.5,98.5 315.2,98.6 315.9,98.7 316.6,98.8 317.3,98.8 318,98.9 318.7,99 319.4,99.1 320.1,99.1 320.8,99.2 321.5,99.3 322.2,99.4 322.9,99.4 323.6,99.5 324.3,99.6 325,99.7 325.7,99.7 326.4,99.8 327.1,99.9 327.8,100 328.5,100 329.2,100.1 329.9,100.2 330.6,100.3 331.3,100.3 332,100.4 332.7,100.5 333.4,100.6 334.1,100.6 334.8,100.7 335.5,100.8 336.2,100.8 336.9,100.9 337.6,101 338.3,101 339,101.1 339.7,101.2 340.4,101.2 341.1,101.3 341.8,101.4 342.5,101.5 343.2,101.5 343.9,101.6 344.6,101.7 345.3,101.8 346,101.8 346.7,101.9 347.4,102 348.1,102.1 348.8,102.2 349.5,102.2 350.2,102.3 350.9,102.4 351.6,102.5 352.3,102.6 353,102.7 353.7,102.8 354.4,102.9 355.1,102.9 355.8,103 356.5,103.1 357.2,103.2 357.9,103.3 358.6,103.4 359.3,103.5 360,103.6 360.7,103.7 361.4,103.8 362.1,103.9 362.8,104 363.5,104.1 364.2,104.2 364.9,104.3 365.6,104.5 366.3,104.6 367,104.7 367.7,104.8 368.4,104.9 369.1,105 369.8,105.2 370.5,105.3 371.2,105.4 371.9,105.5 372.6,105.7 373.3,105.8 374,105.9 374.7,106.1 375.4,106.2 376.1,106.3 376.8,106.5 377.5,106.6 378.2,106.8 378.9,106.9 379.6,107 380.3,107.2 381,107.3 381.7,107.5 382.4,107.7 383.1,107.8 383.8,108 384.5,108.1 385.2,108.3 385.9,108.5 386.6,108.6 387.3,108.8 388,109 388.7,109.2 389.4,109.3 390.1,109.5 390.8,109.7 391.5,109.9 392.2,110.1 392.9,110.3 393.6,110.5 394.3,110.7 395,110.9 395.7,111.1 396.4,111.3 397.1,111.5 397.8,111.7 398.5,111.9 399.2,112.1 399.9,112.3 400.6,112.5 401.3,112.7 402,113 402.7,113.2 403.4,113.4 404.1,113.6 404.8,113.8 405.5,114 406.2,114.3 406.9,114.5 407.6,114.7 408.3,114.9 409,115.1 409.7,115.3 410.4,115.6 411.1,115.8 411.8,116 412.5,116.2 413.2,116.4 413.9,116.7 414.6,116.9 415.3,117.1 416,117.3 416.7,117.5 417.4,117.7 418.1,118 418.8,118.2 419.5,118.4 420.2,118.6 420.9,118.8 421.6,119 422.3,119.3 423,119.5 423.7,119.7 424.4,119.9 425.1,120.1 425.8,120.3 426.5,120.6 427.2,120.8 427.9,121 428.6,121.2 429.3,121.4 430,121.7 430.7,121.9 431.4,122.1 432.1,122.3 432.8,122.6 433.5,122.8 434.2,123 434.9,123.3 435.6,123.5 436.3,123.7 437,124 437.7,124.2 438.4,124.4 439.1,124.7 439.8,124.9 440.5,125.2 441.2,125.4 441.9,125.7 442.6,125.9 443.3,126.2 444,126.4 444.7,126.7 445.4,127 446.1,127.2 446.8,127.5 447.5,127.8 448.2,128 448.9,128.3 449.6,128.6 450.3,128.9 451,129.1 451.7,129.4 452.4,129.7 453.1,130 453.8,130.3 454.5,130.5 455.2,130.8 455.9,131.1 456.6,131.4 457.3,131.7 458,132 458.7,132.3 459.4,132.5 460.1,132.8 460.8,133.1 461.5,133.4 462.2,133.7 462.9,134 463.6,134.3 464.3,134.6 465,134.9 465.7,135.2 466.4,135.5 467.1,135.8 467.8,136.2 468.5,136.5 469.2,136.8 469.9,137.1 470.6,137.4 471.3,137.8 472,138.1 472.7,138.4 473.4,138.8 474.1,139.1 474.8,139.4 475.5,139.7 476.2,140.1 476.9,140.4 477.6,140.7 478.3,141.1 479,141.4 479.7,141.7 480.4,142.1 481.1,142.4 481.8,142.7 482.5,143.1 483.2,143.4 483.9,143.8 484.6,144.1 485.3,144.5 486,144.8 486.7,145.2 487.4,145.5 488.1,145.9 488.8,146.2 489.5,146.6 490.2,146.9 490.9,147.3 491.6,147.6 492.3,148 493,148.3 493.7,148.7 494.4,149 495.1,149.4 495.8,149.8 496.5,150.1 497.2,150.5 497.9,150.9 498.6,151.2 499.3,151.6 500,151.9 500.7,152.3 501.4,152.7 502.1,153 502.8,153.4 503.5,153.7 504.2,154.1 504.9,154.5 505.6,154.8 506.3,155.2 507,155.5 507.7,155.9 508.4,156.2 509.1,156.6 509.8,156.9 510.5,157.3 511.2,157.6 511.9,157.9 512.6,158.2 513.3,158.5 514,158.8 514.7,159.1 515.4,159.3 516.1,159.6 516.8,159.8 517.5,160 518.2,160.2 518.9,160.4 519.6,160.5 520.3,160.7 521,160.9 521.7,161 522.4,161.1 523.1,161.3 523.8,161.4 524.5,161.5 525.2,161.6 525.9,161.7 526.6,161.8 527.3,161.9 528,162 528.7,162 529.4,162.1 530.1,162.1 530.8,162.2 531.5,162.2 532.2,162.2 532.9,162.3 533.6,162.3 534.3,162.4" fill="none" stroke="#8aa6cf" stroke-width="1"/><path d="M308.6,89.8 C310.5,89.5 315.6,88.9 320,88.2 C324.4,87.5 330.2,86.2 335,85.6 C339.8,85 344.2,84.4 348.7,84.4 C353.2,84.4 357.6,85.3 362,85.6 C366.4,85.9 371.2,86.5 375,86.2 C378.8,85.9 381.6,84.6 385,83.6 C388.4,82.6 391.8,81.5 395.6,80 C399.5,78.5 404.4,76.3 408.1,74.7 C411.8,73.1 415.1,70.8 417.9,70.6 C420.7,70.4 422.8,71.5 425.1,73.4 C427.4,75.3 429.3,79.1 431.7,81.9 C434.1,84.7 436.9,88.9 439.5,90 C442.1,91.1 444.8,89.8 447.4,88.5 C450,87.2 452.6,84 455,81.9 C457.4,79.8 459.8,77.3 462,76 C464.2,74.7 466.1,74.2 468.4,74.3 C470.7,74.4 473.6,75.9 476,76.5 C478.4,77.1 481,78.5 483,77.8 C485,77 486.5,74.1 488,72 C489.5,69.9 490.6,67.7 491.8,65.1 C493,62.5 494.1,58.4 495,56.5 C495.9,54.6 496.3,54 497,53.8 C497.7,53.6 498.3,54.3 499,55.5 C499.7,56.7 500.2,58.2 501,61 C501.8,63.8 502.8,68 503.5,72 C504.2,76 504.4,78.7 505.5,84.9 C506.6,91.1 508.8,103 510.1,109.3 C511.4,115.6 512.2,118.9 513.5,123 C514.8,127.1 516.3,130.7 517.7,133.8 C519.1,136.9 520.5,139.2 522,141.5 C523.5,143.8 525.4,145.9 526.9,147.5 C528.4,149.1 529.7,150.3 531,151.3 C532.3,152.3 534.2,153.2 534.8,153.6" fill="none" stroke="#f07f7f" stroke-width="1.2"/><rect x="308.2" y="6.3" width="227" height="183.3" fill="none" stroke="#111" stroke-width="1.3"/><line x1="313.7" y1="189.6" x2="313.7" y2="192.8" stroke="#111" stroke-width="1.1"/><line x1="343.6" y1="189.6" x2="343.6" y2="192.8" stroke="#111" stroke-width="1.1"/><line x1="373.6" y1="189.6" x2="373.6" y2="192.8" stroke="#111" stroke-width="1.1"/><line x1="403.5" y1="189.6" x2="403.5" y2="192.8" stroke="#111" stroke-width="1.1"/><line x1="433.5" y1="189.6" x2="433.5" y2="192.8" stroke="#111" stroke-width="1.1"/><line x1="463.4" y1="189.6" x2="463.4" y2="192.8" stroke="#111" stroke-width="1.1"/><line x1="493.4" y1="189.6" x2="493.4" y2="192.8" stroke="#111" stroke-width="1.1"/><line x1="523.3" y1="189.6" x2="523.3" y2="192.8" stroke="#111" stroke-width="1.1"/><text x="313.7" y="203.2" font-size="10.2" text-anchor="middle" >740</text><text x="343.6" y="203.2" font-size="10.2" text-anchor="middle" >735</text><text x="373.6" y="203.2" font-size="10.2" text-anchor="middle" >730</text><text x="403.5" y="203.2" font-size="10.2" text-anchor="middle" >725</text><text x="433.5" y="203.2" font-size="10.2" text-anchor="middle" >720</text><text x="463.4" y="203.2" font-size="10.2" text-anchor="middle" >715</text><text x="493.4" y="203.2" font-size="10.2" text-anchor="middle" >710</text><text x="523.3" y="203.2" font-size="10.2" text-anchor="middle" >705</text><text x="370.8" y="221" font-size="10.3" text-anchor="start" >Binding Energy</text><text x="443.6" y="220.8" font-size="10.5" text-anchor="start" font-weight="normal">(</text><text x="449.2" y="221" font-size="10.3" text-anchor="start" >eV</text><text x="463.8" y="220.8" font-size="10.5" text-anchor="start" font-weight="normal">)</text><text x="0" y="0" font-size="11.3" text-anchor="middle" transform="translate(300.3,94.5) rotate(-90)">Itensity (a.u.)</text><text x="277" y="22.6" font-size="20.5" text-anchor="start" >b</text><text x="323.6" y="28.8" font-size="11.3" text-anchor="start" >Fe2p</text><text x="368.1" y="75.2" font-size="9.7">Fe<tspan font-size="7.6" dy="-4.3">3+</tspan></text><line x1="380.3" y1="78.9" x2="388.4" y2="89.2" stroke="#111" stroke-width="0.7"/><polygon points="391.5,93.1 387.1,90.2 389.7,88.2" fill="#111"/><text x="411.4" y="62.9" font-size="9.7">Fe<tspan font-size="7.6" dy="-4.3">2+</tspan></text><line x1="418" y1="65" x2="418.9" y2="71.8" stroke="#111" stroke-width="0.7"/><polygon points="419.6,76.8 417.3,72.1 420.5,71.6" fill="#111"/><text x="453.6" y="67.5" font-size="9.7">Fe<tspan font-size="7.6" dy="-4.3">3+</tspan></text><line x1="463.5" y1="68.5" x2="466.4" y2="80.3" stroke="#111" stroke-width="0.7"/><polygon points="467.6,85.2 464.9,80.7 468,80" fill="#111"/><text x="502.5" y="50.5" font-size="9.7">Fe<tspan font-size="7.6" dy="-4.3">2+</tspan></text><line x1="512" y1="52" x2="503.1" y2="66.3" stroke="#111" stroke-width="0.7"/><polygon points="500.5,70.5 501.8,65.4 504.5,67.1" fill="#111"/><polyline points="35.2,393.5 35.6,393.3 36,391.8 36.4,392.8 36.8,383.9 37.2,371.2 37.6,383 38,392 38.4,392 38.8,391.9 39.2,391.7 39.6,384 40,376.3 40.4,379.4 40.8,387 41.2,391.4 41.6,389.9 42,386.8 42.4,383.6 42.8,384.4 43.2,387.4 43.6,390.5 44,392.2 44.4,392.3 44.8,392.4 45.2,390.9 45.6,380.3 46,372.7 46.4,385.7 46.8,391.1 47.2,391.7 47.6,391.9 48,389.3 48.4,386.2 48.8,383.2 49.2,384.7 49.6,387.6 50,390.6 50.4,391.3 50.8,391.2 51.2,390.4 51.6,387.2 52,383.4 52.4,388.7 52.8,390.6 53.2,389.9 53.6,390.3 54,391.3 54.4,390.5 54.8,390.4 55.2,388.9 55.6,385.7 56,382.5 56.4,383.7 56.8,386.8 57.2,389.4 57.6,389.9 58,384 58.4,378.2 58.8,383.7 59.2,389.4 59.6,389.2 60,388.8 60.4,390.5 60.8,389.5 61.2,389.5 61.6,383.6 62,372.3 62.4,383.7 62.8,389.5 63.2,388.6 63.6,389.5 64,388.3 64.4,389.4 64.8,388 65.2,386.1 65.6,384.2 66,384.8 66.4,386.6 66.8,388.3 67.2,388.1 67.6,388.2 68,388 68.4,387 68.8,380.3 69.2,385.2 69.6,388.4 70,387 70.4,384.6 70.8,385.3 71.2,387.5 71.6,388.4 72,388.3 72.4,387.1 72.8,381.3 73.2,374.6 73.6,372.2 74,378.7 74.4,385.3 74.8,386.4 75.2,384.8 75.6,386.8 76,386.9 76.4,387.4 76.8,387 77.2,384.6 77.6,382.3 78,383.8 78.4,386 78.8,387.3 79.2,386.1 79.6,380.6 80,380.8 80.4,386.2 80.8,386.4 81.2,385.6 81.6,386.7 82,386.7 82.4,386.4 82.8,385.6 83.2,381.8 83.6,377.5 84,376.8 84.4,381 84.8,385.2 85.2,385.5 85.6,386 86,385.7 86.4,385.8 86.8,384.3 87.2,381.8 87.6,376.3 88,379.2 88.4,384.6 88.8,381.9 89.2,377.3 89.6,379 90,383.4 90.4,384.6 90.8,384.9 91.2,384 91.6,384 92,381.3 92.4,378.5 92.8,378.4 93.2,381 93.6,383.3 94,383 94.4,373.9 94.8,364.8 95.2,371.7 95.6,380.7 96,383.1 96.4,383.4 96.8,381.7 97.2,380.7 97.6,383.1 98,382.8 98.4,382.4 98.8,382.9 99.2,380.4 99.6,373.4 100,366.4 100.4,369.9 100.8,376.8 101.2,381.6 101.6,381.9 102,381.8 102.4,381.5 102.8,376.1 103.2,375.7 103.6,380.9 104,381.9 104.4,379.7 104.8,373.8 105.2,367.8 105.6,367.2 106,373 106.4,378.8 106.8,380.9 107.2,381.2 107.6,380.7 108,380.1 108.4,379.5 108.8,378.1 109.2,378.8 109.6,380.1 110,380.5 110.4,379.6 110.8,381.2 111.2,377.4 111.6,371.8 112,374.8 112.4,379.3 112.8,376.2 113.2,371.6 113.6,367.9 114,372.3 114.4,376.7 114.8,379.5 115.2,379.2 115.6,378.8 116,379.3 116.4,376.8 116.8,371.1 117.2,371.9 117.6,377.5 118,379.1 118.4,378.3 118.8,379.4 119.2,377.8 119.6,374.9 120,371.7 120.4,374.6 120.8,377.6 121.2,379.1 121.6,378.3 122,373.1 122.4,370.6 122.8,375.5 123.2,378.2 123.6,378.2 124,377.1 124.4,376.7 124.8,377.3 125.2,376.5 125.6,372.8 126,369.1 126.4,369.2 126.8,372.7 127.2,376.2 127.6,376.1 128,376.2 128.4,376.4 128.8,376.1 129.2,375 129.6,371.6 130,368.1 130.4,367.3 130.8,370.4 131.2,373.5 131.6,375.1 132,373.6 132.4,371.1 132.8,369.8 133.2,371.8 133.6,373.7 134,372.8 134.4,373.5 134.8,373 135.2,372.7 135.6,368.3 136,363.7 136.4,365.4 136.8,369 137.2,370.5 137.6,370 138,369.3 138.4,368.3 138.8,367.7 139.2,365.1 139.6,360 140,357.5 140.4,361 140.8,363 141.2,363.5 141.6,361 142,359.8 142.4,358.8 142.8,356.8 143.2,350.7 143.6,350.2 144,353.5 144.4,353.4 144.8,350.1 145.2,349 145.6,348" fill="none" stroke="#b0b0b0" stroke-width="0.65"/><polyline points="145.7,345.6 146.1,344.1 146.1,341.9 146.5,339.9 147.1,336.4 147,334.4 147.3,330.1 148.3,325.6 147.8,325.5 149.4,324 148.6,321.3 148.9,318.7 150.7,315.9 150.7,312.1 151.5,307.4 151.4,306.4 151.9,304.3 152.3,301.6 152.7,299.4 153.2,295.8 152.8,293.2 154.1,290 154.3,285.1 154.9,282.9 154.9,279.2 155,276.1 155.4,272.9 156.3,271.8 157.2,269.8 157.6,270 158,267.7 158.4,267.9 158.8,267.1 159.2,265.6 159.6,266 160,265.7 160.4,267 160.8,266.6 161.2,266.6 161.6,269.2 162,269.8 162.4,271.1 162.8,273.6 163.2,275.4 163.6,277.8 164,278.7 164.4,281.4 164.8,282.9 165.2,283.8 165.6,286.2 166,288.8 166.4,291.9 166.8,292.5 167.2,296.2 167.6,296.9 168,300.4 168.4,302.8 168.8,303.8 169.2,306.9 169.6,307.6 170,306.6 170.4,310.9 170.8,313.6 171.2,315.2 171.6,316.3 172,317.8 172.4,319.8 172.8,319.6 173.2,319.7 173.6,320.1 174,318.8 174.4,319.2 174.8,317 175.2,316.3 175.6,316.5 176,315.4 176.4,313 176.8,311.5 177.2,309.9 177.6,308.1 178,307.3 178.4,306.5 178.8,303.7 179.2,302.4 179.6,299.2 180,295.7 180.4,294.8 180.8,294 181.2,291.7 181.6,290.8 182,287.9 182.4,287 182.8,284.8 183.2,283.2 183.6,281.6 184,278.4 184.4,277 184.8,276.3 185.2,275.3 185.6,274.6 186,274.2 186.4,274.2 186.8,272.3 187.2,272.8 187.6,272.8 188,274.2 188.4,274.4 188.8,274.5 189.2,275.9 189.6,277.4 190,279.4 190.4,281 190.8,282.4 192.2,285 192.9,287.1 192.4,291.3 192.8,295.9 193.7,300.6 194.5,304.7 194.8,311.3 195.3,314.8 194.8,319.6 196,322.6 196.6,327.3 195.7,333.3 197.2,338.2 197.5,343.5 197.2,346.8 198.2,351.9 197.9,355.7 199.1,359.3 199.1,360.8 200,364.4 199.5,365.2 200.9,367.9 200.8,369.7 201.3,372.7 201.1,375.4 202.3,377.4 202.4,378.9 202.8,380.6 202.5,381.8 203.4,381.8 204.1,382.4 203.8,384.9 204.5,386.2 204.4,387.2 206.3,388.9 205.9,388.1 206,389.4" fill="none" stroke="#b0b0b0" stroke-width="0.65"/><path d="M143.2,358.4V348.9M145.5,349.6V335.1M147.8,337.7V327.2M150.2,321.4V308.9M152.4,306.1V297.6M157.3,271.8V258.3M160.4,268.5V258.0M172.8,321.4V309.9M185.6,276.4V267.9M188.4,276.2V269.7M196.2,342.2V332.7M198.6,364.1V351.6M201.5,379.8V371.3M204.0,388.0V381.5" stroke="#b4b4b4" stroke-width="0.8" fill="none"/><polyline points="206,390 206.4,391 206.8,391.8 207.2,391.5 207.6,392.7 208,392.9 208.4,394.3 208.8,394.7 209.2,395.3 209.6,393.7 210,392 210.4,390.9 210.8,393.4 211.2,395.9 211.6,397.2 212,398 212.4,398.1 212.8,397.4 213.2,398.6 213.6,399.2 214,398.9 214.4,393.1 214.8,385.7 215.2,393.8 215.6,399 216,400.9 216.4,398.4 216.8,395.2 217.2,392 217.6,393.3 218,396.9 218.4,400.5 218.8,402.1 219.2,402 219.6,401.1 220,401.2 220.4,397.9 220.8,394.4 221.2,401.1 221.6,402.1 222,403.7 222.4,402.7 222.8,403.6 223.2,402.5 223.6,404.4 224,398.8 224.4,391 224.8,394.9 225.2,403 225.6,403.6 226,404.3 226.4,405 226.8,404.7 227.2,404 227.6,402.1 228,399.4 228.4,399.5 228.8,402.5 229.2,404.9 229.6,405.1 230,406.2 230.4,402 230.8,397.4 231.2,392.8 231.6,393.4 232,398.3 232.4,403.1 232.8,406.2 233.2,404.2 233.6,401.5 234,398.7 234.4,401.1 234.8,404 235.2,406.6 235.6,407.3 236,406.8 236.4,408.1 236.8,406.8 237.2,407.8 237.6,407 238,402.3 238.4,396.1 238.8,391.2 239.2,397.6 239.6,404 240,407.4 240.4,408.6 240.8,408.8 241.2,407.8 241.6,408.2 242,403 242.4,397.9 242.8,395.4 243.2,400.8 243.6,406.1 244,409.1 244.4,409.1 244.8,409.9 245.2,408.9 245.6,408.8 246,408.8 246.4,409.4 246.8,404.2 247.2,399 247.6,396.1 248,401.4 248.4,406.8 248.8,409.2 249.2,407.5 249.6,403.4 250,402.8 250.4,407.1 250.8,411.3 251.2,409.7 251.6,411.1 252,406 252.4,400.2 252.8,408.8 253.2,410.3 253.6,411.8 254,411.8 254.4,410.7 254.8,411.7 255.2,412.1 255.6,411.1 256,407.2 256.4,400 256.8,404.2 257.2,411.5 257.6,411 258,411.3 258.4,412.6 258.8,412.5 259.2,411.9 259.6,412 260,412.5 260.4,412.8 260.8,410.2 261.2,404.6" fill="none" stroke="#b0b0b0" stroke-width="0.65"/><path d="M34.8,393.8 35.5,393.7 36.2,393.6 36.9,393.6 37.6,393.5 38.3,393.4 39,393.3 39.7,393.2 40.4,393.2 41.1,393.1 41.8,393 42.5,392.9 43.2,392.8 43.9,392.8 44.6,392.7 45.3,392.6 46,392.5 46.7,392.4 47.4,392.4 48.1,392.3 48.8,392.2 49.5,392.1 50.2,392 50.9,391.9 51.6,391.8 52.3,391.8 53,391.7 53.7,391.6 54.4,391.5 55.1,391.4 55.8,391.3 56.5,391.2 57.2,391.1 57.9,391 58.6,390.9 59.3,390.8 60,390.7 60.7,390.6 61.4,390.5 62.1,390.4 62.8,390.3 63.5,390.2 64.2,390.1 64.9,390 65.6,389.9 66.3,389.8 67,389.7 67.7,389.6 68.4,389.5 69.1,389.4 69.8,389.3 70.5,389.2 71.2,389.1 71.9,389 72.6,388.9 73.3,388.7 74,388.6 74.7,388.5 75.4,388.4 76.1,388.3 76.8,388.2 77.5,388 78.2,387.9 78.9,387.8 79.6,387.7 80.3,387.5 81,387.4 81.7,387.3 82.4,387.1 83.1,387 83.8,386.9 84.5,386.7 85.2,386.6 85.9,386.5 86.6,386.3 87.3,386.2 88,386 88.7,385.9 89.4,385.8 90.1,385.6 90.8,385.5 91.5,385.3 92.2,385.2 92.9,385 93.6,384.9 94.3,384.8 95,384.6 95.7,384.5 96.4,384.3 97.1,384.2 97.8,384 98.5,383.9 99.2,383.8 99.9,383.6 100.6,383.5 101.3,383.3 102,383.2 102.7,383.1 103.4,382.9 104.1,382.8 104.8,382.6 105.5,382.5 106.2,382.4 106.9,382.2 107.6,382.1 108.3,382 109,381.8 109.7,381.7 110.4,381.5 111.1,381.4 111.8,381.3 112.5,381.1 113.2,381 113.9,380.8 114.6,380.7 115.3,380.6 116,380.4 116.7,380.3 117.4,380.1 118.1,380 118.8,379.8 119.5,379.7 120.2,379.5 120.9,379.4 121.6,379.2 122.3,379.1 123,378.9 123.7,378.8 124.4,378.6 125.1,378.4 125.8,378.2 126.5,378 127.2,377.8 127.9,377.6 128.6,377.4 129.3,377.1 130,376.8 130.7,376.6 131.4,376.2 132.1,375.8 132.8,375.4 133.5,374.9 134.2,374.3 134.9,373.8 135.6,373.2 136.3,372.4 137,371.5 137.7,370.5 138.4,369.4 139.1,368.2 139.8,366.9 140.5,365.4 141.2,363.8 141.9,361.9 142.6,359.8 143.3,357.6 144,355.1 144.7,352.5 145.4,349.6 146.1,346.3 146.8,342.8 147.5,338.9 148.2,334.8 148.9,330.4 149.6,325.5 150.3,320.2 151,315 151.7,310.3 152.4,305.6 153.1,300.7 153.8,295.3 154.5,289.4 155.2,283.7 155.9,278.7 156.6,274.5 157.3,271.3 158,268.9 158.7,267.6 159.4,267.2 160.1,267.6 160.8,268.6 161.5,270.1 162.2,272.3 162.9,275 163.6,278.1 164.3,281.5 165,285 165.7,288.6 166.4,292.3 167.1,296 167.8,299.8 168.5,303.6 169.2,307.5 169.9,311.3 170.6,314.4 171.3,317.1 172,319.3 172.7,320.9 173.4,321.4 174.1,320.6 174.8,318.9 175.5,317 176.2,315 176.9,312.8 177.6,310.4 178.3,307.7 179,304.5 179.7,300.8 180.4,297 181.1,293.5 181.8,290.4 182.5,287.4 183.2,284.5 183.9,281.7 184.6,278.9 185.3,276.5 186,275 186.7,274.2 187.4,274.3 188.1,275.1 188.8,276.5 189.5,278.4 190.2,280.9 190.9,284.7 191.6,289.8 192.3,296 193,303.8 193.7,312.8 194.4,321.3 195.1,329.2 195.8,337 196.5,345.3 197.2,353.2 197.9,359.3 198.6,363.6 199.3,367.4 200,371.5 200.7,375.5 201.4,378.9 202.1,381.9 202.8,384.4 203.5,386.3 204.2,387.9 204.9,389.3 205.6,390.6 206.3,391.8 207,392.9 207.7,393.9 208.4,394.8 209.1,395.6 209.8,396.4 210.5,397.1 211.2,397.8 211.9,398.4 212.6,399 213.3,399.5 214,400 214.7,400.5 215.4,400.9 216.1,401.3 216.8,401.7 217.5,402.1 218.2,402.4 218.9,402.8 219.6,403.1 220.3,403.4 221,403.7 221.7,403.9 222.4,404.2 223.1,404.4 223.8,404.7 224.5,404.9 225.2,405.2 225.9,405.4 226.6,405.6 227.3,405.9 228,406.1 228.7,406.3 229.4,406.6 230.1,406.8 230.8,407 231.5,407.2 232.2,407.4 232.9,407.6 233.6,407.8 234.3,407.9 235,408.1 235.7,408.3 236.4,408.4 237.1,408.6 237.8,408.7 238.5,408.9 239.2,409 239.9,409.2 240.6,409.3 241.3,409.5 242,409.6 242.7,409.8 243.4,410 244.1,410.1 244.8,410.3 245.5,410.4 246.2,410.6 246.9,410.8 247.6,410.9 248.3,411.1 249,411.2 249.7,411.3 250.4,411.5 251.1,411.6 251.8,411.7 252.5,411.9 253.2,412 253.9,412.1 254.6,412.2 255.3,412.4 256,412.5 256.7,412.6 257.4,412.7 258.1,412.8 258.8,413 259.5,413.1 260.2,413.2 260.9,413.3 L260.9,416.3 260.2,416.3 259.5,416.2 258.8,416.1 258.1,416.1 257.4,416 256.7,416 256,415.9 255.3,415.9 254.6,415.8 253.9,415.7 253.2,415.7 252.5,415.6 251.8,415.6 251.1,415.5 250.4,415.5 249.7,415.4 249,415.3 248.3,415.3 247.6,415.2 246.9,415.2 246.2,415.1 245.5,415 244.8,415 244.1,414.9 243.4,414.9 242.7,414.8 242,414.8 241.3,414.7 240.6,414.6 239.9,414.6 239.2,414.5 238.5,414.5 237.8,414.4 237.1,414.4 236.4,414.3 235.7,414.2 235,414.2 234.3,414.1 233.6,414.1 232.9,414 232.2,414 231.5,413.9 230.8,413.8 230.1,413.8 229.4,413.7 228.7,413.7 228,413.6 227.3,413.5 226.6,413.5 225.9,413.4 225.2,413.4 224.5,413.3 223.8,413.3 223.1,413.2 222.4,413.1 221.7,413.1 221,413 220.3,413 219.6,412.9 218.9,412.9 218.2,412.8 217.5,412.7 216.8,412.7 216.1,412.6 215.4,412.6 214.7,412.5 214,412.5 213.3,412.4 212.6,412.3 211.9,412.3 211.2,412.2 210.5,412.2 209.8,412.1 209.1,412 208.4,412 207.7,411.9 207,411.9 206.3,411.8 205.6,411.8 204.9,411.7 204.2,411.6 203.5,411.6 202.8,411.5 202.1,411.5 201.4,411.4 200.7,411.4 200,411.3 199.3,411.2 198.6,411.2 197.9,411.1 197.2,411.1 196.5,411 195.8,410.9 195.1,410.9 194.4,410.8 193.7,410.8 193,410.7 192.3,410.7 191.6,410.6 190.9,410.5 190.2,410.5 189.5,410.4 188.8,410.4 188.1,410.3 187.4,410.3 186.7,410.2 186,410.1 185.3,410.1 184.6,410 183.9,410 183.2,409.9 182.5,409.9 181.8,409.8 181.1,409.7 180.4,409.7 179.7,409.6 179,409.6 178.3,409.5 177.6,409.4 176.9,409.4 176.2,409.3 175.5,409.3 174.8,409.2 174.1,409.2 173.4,409.1 172.7,409 172,409 171.3,408.9 170.6,408.9 169.9,408.8 169.2,408.8 168.5,408.7 167.8,408.6 167.1,408.6 166.4,408.5 165.7,408.5 165,408.4 164.3,408.3 163.6,408.3 162.9,408.2 162.2,408.2 161.5,408.1 160.8,408.1 160.1,408 159.4,407.9 158.7,407.9 158,407.8 157.3,407.8 156.6,407.7 155.9,407.7 155.2,407.6 154.5,407.5 153.8,407.5 153.1,407.4 152.4,407.4 151.7,407.3 151,407.3 150.3,407.2 149.6,407.1 148.9,407.1 148.2,407 147.5,407 146.8,406.9 146.1,406.8 145.4,406.8 144.7,406.7 144,406.7 143.3,406.6 142.6,406.6 141.9,406.5 141.2,406.4 140.5,406.4 139.8,406.3 139.1,406.3 138.4,406.2 137.7,406.2 137,406.1 136.3,406 135.6,406 134.9,405.9 134.2,405.9 133.5,405.8 132.8,405.8 132.1,405.7 131.4,405.6 130.7,405.6 130,405.5 129.3,405.5 128.6,405.4 127.9,405.3 127.2,405.3 126.5,405.2 125.8,405.2 125.1,405.1 124.4,405.1 123.7,405 123,404.9 122.3,404.9 121.6,404.8 120.9,404.8 120.2,404.7 119.5,404.7 118.8,404.6 118.1,404.5 117.4,404.5 116.7,404.4 116,404.4 115.3,404.3 114.6,404.2 113.9,404.2 113.2,404.1 112.5,404.1 111.8,404 111.1,404 110.4,403.9 109.7,403.8 109,403.8 108.3,403.7 107.6,403.7 106.9,403.6 106.2,403.6 105.5,403.5 104.8,403.4 104.1,403.4 103.4,403.3 102.7,403.3 102,403.2 101.3,403.2 100.6,403.1 99.9,403 99.2,403 98.5,402.9 97.8,402.9 97.1,402.8 96.4,402.7 95.7,402.7 95,402.6 94.3,402.6 93.6,402.5 92.9,402.5 92.2,402.4 91.5,402.3 90.8,402.3 90.1,402.2 89.4,402.2 88.7,402.1 88,402.1 87.3,402 86.6,401.9 85.9,401.9 85.2,401.8 84.5,401.8 83.8,401.7 83.1,401.7 82.4,401.6 81.7,401.5 81,401.5 80.3,401.4 79.6,401.4 78.9,401.3 78.2,401.2 77.5,401.2 76.8,401.1 76.1,401.1 75.4,401 74.7,401 74,400.9 73.3,400.8 72.6,400.8 71.9,400.7 71.2,400.7 70.5,400.6 69.8,400.6 69.1,400.5 68.4,400.4 67.7,400.4 67,400.3 66.3,400.3 65.6,400.2 64.9,400.1 64.2,400.1 63.5,400 62.8,400 62.1,399.9 61.4,399.9 60.7,399.8 60,399.7 59.3,399.7 58.6,399.6 57.9,399.6 57.2,399.5 56.5,399.5 55.8,399.4 55.1,399.3 54.4,399.3 53.7,399.2 53,399.2 52.3,399.1 51.6,399.1 50.9,399 50.2,398.9 49.5,398.9 48.8,398.8 48.1,398.8 47.4,398.7 46.7,398.6 46,398.6 45.3,398.5 44.6,398.5 43.9,398.4 43.2,398.4 42.5,398.3 41.8,398.2 41.1,398.2 40.4,398.1 39.7,398.1 39,398 38.3,398 37.6,397.9 36.9,397.8 36.2,397.8 35.5,397.7 34.8,397.7 Z" fill="url(#g9)" /><path d="M34.8,394.7 35.5,394.7 36.2,394.6 36.9,394.6 37.6,394.5 38.3,394.5 39,394.4 39.7,394.4 40.4,394.3 41.1,394.3 41.8,394.2 42.5,394.1 43.2,394.1 43.9,394 44.6,393.9 45.3,393.9 46,393.8 46.7,393.7 47.4,393.6 48.1,393.5 48.8,393.4 49.5,393.4 50.2,393.3 50.9,393.2 51.6,393.1 52.3,393 53,392.9 53.7,392.8 54.4,392.7 55.1,392.6 55.8,392.4 56.5,392.3 57.2,392.2 57.9,392.1 58.6,392 59.3,391.9 60,391.7 60.7,391.6 61.4,391.5 62.1,391.3 62.8,391.2 63.5,391.1 64.2,391 64.9,390.8 65.6,390.7 66.3,390.5 67,390.4 67.7,390.3 68.4,390.1 69.1,390 69.8,389.8 70.5,389.7 71.2,389.5 71.9,389.4 72.6,389.3 73.3,389.1 74,389 74.7,388.8 75.4,388.7 76.1,388.5 76.8,388.4 77.5,388.2 78.2,388.1 78.9,388 79.6,387.8 80.3,387.7 81,387.5 81.7,387.4 82.4,387.3 83.1,387.1 83.8,387 84.5,386.9 85.2,386.7 85.9,386.6 86.6,386.5 87.3,386.3 88,386.2 88.7,386.1 89.4,386 90.1,385.9 90.8,385.8 91.5,385.7 92.2,385.6 92.9,385.5 93.6,385.4 94.3,385.3 95,385.2 95.7,385.1 96.4,385 97.1,385 97.8,384.9 98.5,384.8 99.2,384.8 99.9,384.7 100.6,384.6 101.3,384.6 102,384.6 102.7,384.5 103.4,384.5 104.1,384.5 104.8,384.4 105.5,384.4 106.2,384.4 106.9,384.4 107.6,384.4 108.3,384.4 109,384.4 109.7,384.5 110.4,384.5 111.1,384.5 111.8,384.5 112.5,384.6 113.2,384.6 113.9,384.7 114.6,384.8 115.3,384.8 116,384.9 116.7,385 117.4,385.1 118.1,385.1 118.8,385.2 119.5,385.3 120.2,385.5 120.9,385.6 121.6,385.7 122.3,385.8 123,385.9 123.7,386.1 124.4,386.2 125.1,386.4 125.8,386.5 126.5,386.7 127.2,386.8 127.9,387 128.6,387.2 129.3,387.4 130,387.5 130.7,387.7 131.4,387.9 132.1,388.1 132.8,388.3 133.5,388.5 134.2,388.7 134.9,388.9 135.6,389.1 136.3,389.4 137,389.6 137.7,389.8 138.4,390 139.1,390.3 139.8,390.5 140.5,390.7 141.2,391 141.9,391.2 142.6,391.5 143.3,391.7 144,392 144.7,392.2 145.4,392.5 146.1,392.7 146.8,393 147.5,393.2 148.2,393.5 148.9,393.7 149.6,394 150.3,394.2 151,394.5 151.7,394.8 152.4,395 153.1,395.3 153.8,395.6 154.5,395.8 155.2,396.1 155.9,396.3 156.6,396.6 157.3,396.9 158,397.1 158.7,397.4 159.4,397.6 160.1,397.9 160.8,398.1 161.5,398.4 162.2,398.7 162.9,398.9 163.6,399.2 164.3,399.4 165,399.6 165.7,399.9 166.4,400.1 167.1,400.4 167.8,400.6 168.5,400.9 169.2,401.1 169.9,401.3 170.6,401.6 171.3,401.8 172,402 172.7,402.3 173.4,402.5 174.1,402.7 174.8,402.9 175.5,403.1 176.2,403.4 176.9,403.6 177.6,403.8 178.3,404 179,404.2 179.7,404.4 180.4,404.6 181.1,404.8 181.8,405 182.5,405.2 183.2,405.4 183.9,405.5 184.6,405.7 185.3,405.9 186,406.1 186.7,406.3 187.4,406.4 188.1,406.6 188.8,406.8 189.5,407 190.2,407.1 190.9,407.3 191.6,407.4 192.3,407.6 193,407.7 193.7,407.9 194.4,408.1 195.1,408.2 195.8,408.3 196.5,408.5 197.2,408.6 197.9,408.8 198.6,408.9 199.3,409 200,409.2 200.7,409.3 201.4,409.4 202.1,409.6 202.8,409.7 203.5,409.8 204.2,409.9 204.9,410 205.6,410.2 206.3,410.3 207,410.4 207.7,410.5 208.4,410.6 209.1,410.7 209.8,410.8 210.5,410.9 211.2,411 211.9,411.1 212.6,411.2 213.3,411.3 214,411.4 214.7,411.5 215.4,411.6 216.1,411.7 216.8,411.8 217.5,411.9 218.2,412 218.9,412.1 219.6,412.1 220.3,412.2 221,412.3 221.7,412.4 222.4,412.5 223.1,412.6 223.8,412.7 224.5,412.7 225.2,412.8 225.9,412.9 226.6,413 227.3,413 228,413.1 228.7,413.2 229.4,413.3 230.1,413.3 230.8,413.4 231.5,413.5 232.2,413.6 232.9,413.6 233.6,413.7 234.3,413.8 235,413.8 235.7,413.9 236.4,414 237.1,414.1 237.8,414.1 238.5,414.2 239.2,414.3 239.9,414.3 240.6,414.4 241.3,414.5 242,414.5 242.7,414.6 243.4,414.7 244.1,414.7 244.8,414.8 245.5,414.8 246.2,414.9 246.9,415 247.6,415 248.3,415.1 249,415.2 249.7,415.2 250.4,415.3 251.1,415.3 251.8,415.4 252.5,415.5 253.2,415.5 253.9,415.6 254.6,415.7 255.3,415.7 256,415.8 256.7,415.8 257.4,415.9 258.1,416 258.8,416 259.5,416.1 260.2,416.1 260.9,416.2 L260.9,416.3 260.2,416.3 259.5,416.2 258.8,416.1 258.1,416.1 257.4,416 256.7,416 256,415.9 255.3,415.9 254.6,415.8 253.9,415.7 253.2,415.7 252.5,415.6 251.8,415.6 251.1,415.5 250.4,415.5 249.7,415.4 249,415.3 248.3,415.3 247.6,415.2 246.9,415.2 246.2,415.1 245.5,415 244.8,415 244.1,414.9 243.4,414.9 242.7,414.8 242,414.8 241.3,414.7 240.6,414.6 239.9,414.6 239.2,414.5 238.5,414.5 237.8,414.4 237.1,414.4 236.4,414.3 235.7,414.2 235,414.2 234.3,414.1 233.6,414.1 232.9,414 232.2,414 231.5,413.9 230.8,413.8 230.1,413.8 229.4,413.7 228.7,413.7 228,413.6 227.3,413.5 226.6,413.5 225.9,413.4 225.2,413.4 224.5,413.3 223.8,413.3 223.1,413.2 222.4,413.1 221.7,413.1 221,413 220.3,413 219.6,412.9 218.9,412.9 218.2,412.8 217.5,412.7 216.8,412.7 216.1,412.6 215.4,412.6 214.7,412.5 214,412.5 213.3,412.4 212.6,412.3 211.9,412.3 211.2,412.2 210.5,412.2 209.8,412.1 209.1,412 208.4,412 207.7,411.9 207,411.9 206.3,411.8 205.6,411.8 204.9,411.7 204.2,411.6 203.5,411.6 202.8,411.5 202.1,411.5 201.4,411.4 200.7,411.4 200,411.3 199.3,411.2 198.6,411.2 197.9,411.1 197.2,411.1 196.5,411 195.8,410.9 195.1,410.9 194.4,410.8 193.7,410.8 193,410.7 192.3,410.7 191.6,410.6 190.9,410.5 190.2,410.5 189.5,410.4 188.8,410.4 188.1,410.3 187.4,410.3 186.7,410.2 186,410.1 185.3,410.1 184.6,410 183.9,410 183.2,409.9 182.5,409.9 181.8,409.8 181.1,409.7 180.4,409.7 179.7,409.6 179,409.6 178.3,409.5 177.6,409.4 176.9,409.4 176.2,409.3 175.5,409.3 174.8,409.2 174.1,409.2 173.4,409.1 172.7,409 172,409 171.3,408.9 170.6,408.9 169.9,408.8 169.2,408.8 168.5,408.7 167.8,408.6 167.1,408.6 166.4,408.5 165.7,408.5 165,408.4 164.3,408.3 163.6,408.3 162.9,408.2 162.2,408.2 161.5,408.1 160.8,408.1 160.1,408 159.4,407.9 158.7,407.9 158,407.8 157.3,407.8 156.6,407.7 155.9,407.7 155.2,407.6 154.5,407.5 153.8,407.5 153.1,407.4 152.4,407.4 151.7,407.3 151,407.3 150.3,407.2 149.6,407.1 148.9,407.1 148.2,407 147.5,407 146.8,406.9 146.1,406.8 145.4,406.8 144.7,406.7 144,406.7 143.3,406.6 142.6,406.6 141.9,406.5 141.2,406.4 140.5,406.4 139.8,406.3 139.1,406.3 138.4,406.2 137.7,406.2 137,406.1 136.3,406 135.6,406 134.9,405.9 134.2,405.9 133.5,405.8 132.8,405.8 132.1,405.7 131.4,405.6 130.7,405.6 130,405.5 129.3,405.5 128.6,405.4 127.9,405.3 127.2,405.3 126.5,405.2 125.8,405.2 125.1,405.1 124.4,405.1 123.7,405 123,404.9 122.3,404.9 121.6,404.8 120.9,404.8 120.2,404.7 119.5,404.7 118.8,404.6 118.1,404.5 117.4,404.5 116.7,404.4 116,404.4 115.3,404.3 114.6,404.2 113.9,404.2 113.2,404.1 112.5,404.1 111.8,404 111.1,404 110.4,403.9 109.7,403.8 109,403.8 108.3,403.7 107.6,403.7 106.9,403.6 106.2,403.6 105.5,403.5 104.8,403.4 104.1,403.4 103.4,403.3 102.7,403.3 102,403.2 101.3,403.2 100.6,403.1 99.9,403 99.2,403 98.5,402.9 97.8,402.9 97.1,402.8 96.4,402.7 95.7,402.7 95,402.6 94.3,402.6 93.6,402.5 92.9,402.5 92.2,402.4 91.5,402.3 90.8,402.3 90.1,402.2 89.4,402.2 88.7,402.1 88,402.1 87.3,402 86.6,401.9 85.9,401.9 85.2,401.8 84.5,401.8 83.8,401.7 83.1,401.7 82.4,401.6 81.7,401.5 81,401.5 80.3,401.4 79.6,401.4 78.9,401.3 78.2,401.2 77.5,401.2 76.8,401.1 76.1,401.1 75.4,401 74.7,401 74,400.9 73.3,400.8 72.6,400.8 71.9,400.7 71.2,400.7 70.5,400.6 69.8,400.6 69.1,400.5 68.4,400.4 67.7,400.4 67,400.3 66.3,400.3 65.6,400.2 64.9,400.1 64.2,400.1 63.5,400 62.8,400 62.1,399.9 61.4,399.9 60.7,399.8 60,399.7 59.3,399.7 58.6,399.6 57.9,399.6 57.2,399.5 56.5,399.5 55.8,399.4 55.1,399.3 54.4,399.3 53.7,399.2 53,399.2 52.3,399.1 51.6,399.1 50.9,399 50.2,398.9 49.5,398.9 48.8,398.8 48.1,398.8 47.4,398.7 46.7,398.6 46,398.6 45.3,398.5 44.6,398.5 43.9,398.4 43.2,398.4 42.5,398.3 41.8,398.2 41.1,398.2 40.4,398.1 39.7,398.1 39,398 38.3,398 37.6,397.9 36.9,397.8 36.2,397.8 35.5,397.7 34.8,397.7 Z" fill="url(#g10)" /><path d="M34.8,397.4 35.5,397.5 36.2,397.6 36.9,397.6 37.6,397.7 38.3,397.7 39,397.8 39.7,397.8 40.4,397.9 41.1,397.9 41.8,398 42.5,398.1 43.2,398.1 43.9,398.2 44.6,398.2 45.3,398.3 46,398.3 46.7,398.4 47.4,398.4 48.1,398.5 48.8,398.5 49.5,398.6 50.2,398.7 50.9,398.7 51.6,398.8 52.3,398.8 53,398.9 53.7,398.9 54.4,399 55.1,399 55.8,399.1 56.5,399.1 57.2,399.2 57.9,399.2 58.6,399.3 59.3,399.3 60,399.4 60.7,399.5 61.4,399.5 62.1,399.6 62.8,399.6 63.5,399.7 64.2,399.7 64.9,399.8 65.6,399.8 66.3,399.9 67,399.9 67.7,400 68.4,400 69.1,400.1 69.8,400.1 70.5,400.2 71.2,400.2 71.9,400.3 72.6,400.3 73.3,400.4 74,400.4 74.7,400.5 75.4,400.5 76.1,400.6 76.8,400.6 77.5,400.7 78.2,400.7 78.9,400.8 79.6,400.8 80.3,400.9 81,400.9 81.7,401 82.4,401 83.1,401.1 83.8,401.1 84.5,401.2 85.2,401.2 85.9,401.3 86.6,401.3 87.3,401.3 88,401.4 88.7,401.4 89.4,401.5 90.1,401.5 90.8,401.6 91.5,401.6 92.2,401.7 92.9,401.7 93.6,401.7 94.3,401.8 95,401.8 95.7,401.9 96.4,401.9 97.1,401.9 97.8,402 98.5,402 99.2,402.1 99.9,402.1 100.6,402.1 101.3,402.2 102,402.2 102.7,402.2 103.4,402.3 104.1,402.3 104.8,402.3 105.5,402.4 106.2,402.4 106.9,402.4 107.6,402.4 108.3,402.5 109,402.5 109.7,402.5 110.4,402.5 111.1,402.6 111.8,402.6 112.5,402.6 113.2,402.6 113.9,402.6 114.6,402.6 115.3,402.6 116,402.6 116.7,402.6 117.4,402.6 118.1,402.6 118.8,402.6 119.5,402.6 120.2,402.6 120.9,402.6 121.6,402.6 122.3,402.5 123,402.5 123.7,402.5 124.4,402.4 125.1,402.4 125.8,402.3 126.5,402.2 127.2,402.1 127.9,402 128.6,401.9 129.3,401.7 130,401.5 130.7,401.3 131.4,401 132.1,400.7 132.8,400.4 133.5,399.9 134.2,399.4 134.9,398.8 135.6,398.1 136.3,397.2 137,396.2 137.7,395.1 138.4,393.8 139.1,392.3 139.8,390.6 140.5,388.6 141.2,386.4 141.9,384 142.6,381.3 143.3,378.2 144,374.9 144.7,371.3 145.4,367.3 146.1,363.1 146.8,358.6 147.5,353.8 148.2,348.8 148.9,343.5 149.6,338.2 150.3,332.6 151,327.1 151.7,321.5 152.4,316 153.1,310.6 153.8,305.5 154.5,300.8 155.2,296.4 155.9,292.6 156.6,289.4 157.3,286.8 158,285.1 158.7,284.1 159.4,284 160.1,284.7 160.8,286.2 161.5,288.6 162.2,291.6 162.9,295.3 163.6,299.6 164.3,304.3 165,309.4 165.7,314.7 166.4,320.3 167.1,326 167.8,331.7 168.5,337.3 169.2,342.9 169.9,348.3 170.6,353.6 171.3,358.6 172,363.3 172.7,367.8 173.4,372 174.1,375.8 174.8,379.4 175.5,382.7 176.2,385.7 176.9,388.3 177.6,390.8 178.3,392.9 179,394.9 179.7,396.6 180.4,398.1 181.1,399.4 181.8,400.5 182.5,401.6 183.2,402.4 183.9,403.2 184.6,403.9 185.3,404.5 186,405 186.7,405.5 187.4,405.9 188.1,406.2 188.8,406.5 189.5,406.8 190.2,407.1 190.9,407.3 191.6,407.5 192.3,407.7 193,407.9 193.7,408.1 194.4,408.3 195.1,408.4 195.8,408.6 196.5,408.7 197.2,408.9 197.9,409 198.6,409.1 199.3,409.2 200,409.4 200.7,409.5 201.4,409.6 202.1,409.7 202.8,409.8 203.5,409.9 204.2,410 204.9,410.1 205.6,410.2 206.3,410.3 207,410.4 207.7,410.5 208.4,410.6 209.1,410.7 209.8,410.8 210.5,410.9 211.2,411 211.9,411.1 212.6,411.2 213.3,411.3 214,411.4 214.7,411.4 215.4,411.5 216.1,411.6 216.8,411.7 217.5,411.8 218.2,411.8 218.9,411.9 219.6,412 220.3,412.1 221,412.2 221.7,412.2 222.4,412.3 223.1,412.4 223.8,412.5 224.5,412.5 225.2,412.6 225.9,412.7 226.6,412.8 227.3,412.8 228,412.9 228.7,413 229.4,413 230.1,413.1 230.8,413.2 231.5,413.3 232.2,413.3 232.9,413.4 233.6,413.5 234.3,413.5 235,413.6 235.7,413.7 236.4,413.7 237.1,413.8 237.8,413.9 238.5,413.9 239.2,414 239.9,414.1 240.6,414.1 241.3,414.2 242,414.3 242.7,414.3 243.4,414.4 244.1,414.5 244.8,414.5 245.5,414.6 246.2,414.7 246.9,414.7 247.6,414.8 248.3,414.9 249,414.9 249.7,415 250.4,415 251.1,415.1 251.8,415.2 252.5,415.2 253.2,415.3 253.9,415.4 254.6,415.4 255.3,415.5 256,415.6 256.7,415.6 257.4,415.7 258.1,415.7 258.8,415.8 259.5,415.9 260.2,415.9 260.9,416 L260.9,416.3 260.2,416.3 259.5,416.2 258.8,416.1 258.1,416.1 257.4,416 256.7,416 256,415.9 255.3,415.9 254.6,415.8 253.9,415.7 253.2,415.7 252.5,415.6 251.8,415.6 251.1,415.5 250.4,415.5 249.7,415.4 249,415.3 248.3,415.3 247.6,415.2 246.9,415.2 246.2,415.1 245.5,415 244.8,415 244.1,414.9 243.4,414.9 242.7,414.8 242,414.8 241.3,414.7 240.6,414.6 239.9,414.6 239.2,414.5 238.5,414.5 237.8,414.4 237.1,414.4 236.4,414.3 235.7,414.2 235,414.2 234.3,414.1 233.6,414.1 232.9,414 232.2,414 231.5,413.9 230.8,413.8 230.1,413.8 229.4,413.7 228.7,413.7 228,413.6 227.3,413.5 226.6,413.5 225.9,413.4 225.2,413.4 224.5,413.3 223.8,413.3 223.1,413.2 222.4,413.1 221.7,413.1 221,413 220.3,413 219.6,412.9 218.9,412.9 218.2,412.8 217.5,412.7 216.8,412.7 216.1,412.6 215.4,412.6 214.7,412.5 214,412.5 213.3,412.4 212.6,412.3 211.9,412.3 211.2,412.2 210.5,412.2 209.8,412.1 209.1,412 208.4,412 207.7,411.9 207,411.9 206.3,411.8 205.6,411.8 204.9,411.7 204.2,411.6 203.5,411.6 202.8,411.5 202.1,411.5 201.4,411.4 200.7,411.4 200,411.3 199.3,411.2 198.6,411.2 197.9,411.1 197.2,411.1 196.5,411 195.8,410.9 195.1,410.9 194.4,410.8 193.7,410.8 193,410.7 192.3,410.7 191.6,410.6 190.9,410.5 190.2,410.5 189.5,410.4 188.8,410.4 188.1,410.3 187.4,410.3 186.7,410.2 186,410.1 185.3,410.1 184.6,410 183.9,410 183.2,409.9 182.5,409.9 181.8,409.8 181.1,409.7 180.4,409.7 179.7,409.6 179,409.6 178.3,409.5 177.6,409.4 176.9,409.4 176.2,409.3 175.5,409.3 174.8,409.2 174.1,409.2 173.4,409.1 172.7,409 172,409 171.3,408.9 170.6,408.9 169.9,408.8 169.2,408.8 168.5,408.7 167.8,408.6 167.1,408.6 166.4,408.5 165.7,408.5 165,408.4 164.3,408.3 163.6,408.3 162.9,408.2 162.2,408.2 161.5,408.1 160.8,408.1 160.1,408 159.4,407.9 158.7,407.9 158,407.8 157.3,407.8 156.6,407.7 155.9,407.7 155.2,407.6 154.5,407.5 153.8,407.5 153.1,407.4 152.4,407.4 151.7,407.3 151,407.3 150.3,407.2 149.6,407.1 148.9,407.1 148.2,407 147.5,407 146.8,406.9 146.1,406.8 145.4,406.8 144.7,406.7 144,406.7 143.3,406.6 142.6,406.6 141.9,406.5 141.2,406.4 140.5,406.4 139.8,406.3 139.1,406.3 138.4,406.2 137.7,406.2 137,406.1 136.3,406 135.6,406 134.9,405.9 134.2,405.9 133.5,405.8 132.8,405.8 132.1,405.7 131.4,405.6 130.7,405.6 130,405.5 129.3,405.5 128.6,405.4 127.9,405.3 127.2,405.3 126.5,405.2 125.8,405.2 125.1,405.1 124.4,405.1 123.7,405 123,404.9 122.3,404.9 121.6,404.8 120.9,404.8 120.2,404.7 119.5,404.7 118.8,404.6 118.1,404.5 117.4,404.5 116.7,404.4 116,404.4 115.3,404.3 114.6,404.2 113.9,404.2 113.2,404.1 112.5,404.1 111.8,404 111.1,404 110.4,403.9 109.7,403.8 109,403.8 108.3,403.7 107.6,403.7 106.9,403.6 106.2,403.6 105.5,403.5 104.8,403.4 104.1,403.4 103.4,403.3 102.7,403.3 102,403.2 101.3,403.2 100.6,403.1 99.9,403 99.2,403 98.5,402.9 97.8,402.9 97.1,402.8 96.4,402.7 95.7,402.7 95,402.6 94.3,402.6 93.6,402.5 92.9,402.5 92.2,402.4 91.5,402.3 90.8,402.3 90.1,402.2 89.4,402.2 88.7,402.1 88,402.1 87.3,402 86.6,401.9 85.9,401.9 85.2,401.8 84.5,401.8 83.8,401.7 83.1,401.7 82.4,401.6 81.7,401.5 81,401.5 80.3,401.4 79.6,401.4 78.9,401.3 78.2,401.2 77.5,401.2 76.8,401.1 76.1,401.1 75.4,401 74.7,401 74,400.9 73.3,400.8 72.6,400.8 71.9,400.7 71.2,400.7 70.5,400.6 69.8,400.6 69.1,400.5 68.4,400.4 67.7,400.4 67,400.3 66.3,400.3 65.6,400.2 64.9,400.1 64.2,400.1 63.5,400 62.8,400 62.1,399.9 61.4,399.9 60.7,399.8 60,399.7 59.3,399.7 58.6,399.6 57.9,399.6 57.2,399.5 56.5,399.5 55.8,399.4 55.1,399.3 54.4,399.3 53.7,399.2 53,399.2 52.3,399.1 51.6,399.1 50.9,399 50.2,398.9 49.5,398.9 48.8,398.8 48.1,398.8 47.4,398.7 46.7,398.6 46,398.6 45.3,398.5 44.6,398.5 43.9,398.4 43.2,398.4 42.5,398.3 41.8,398.2 41.1,398.2 40.4,398.1 39.7,398.1 39,398 38.3,398 37.6,397.9 36.9,397.8 36.2,397.8 35.5,397.7 34.8,397.7 Z" fill="url(#g11)" /><polyline points="34.8,397.4 35.5,397.5 36.2,397.6 36.9,397.6 37.6,397.7 38.3,397.7 39,397.8 39.7,397.8 40.4,397.9 41.1,397.9 41.8,398 42.5,398.1 43.2,398.1 43.9,398.2 44.6,398.2 45.3,398.3 46,398.3 46.7,398.4 47.4,398.4 48.1,398.5 48.8,398.5 49.5,398.6 50.2,398.7 50.9,398.7 51.6,398.8 52.3,398.8 53,398.9 53.7,398.9 54.4,399 55.1,399 55.8,399.1 56.5,399.1 57.2,399.2 57.9,399.2 58.6,399.3 59.3,399.3 60,399.4 60.7,399.5 61.4,399.5 62.1,399.6 62.8,399.6 63.5,399.7 64.2,399.7 64.9,399.8 65.6,399.8 66.3,399.9 67,399.9 67.7,400 68.4,400 69.1,400.1 69.8,400.1 70.5,400.2 71.2,400.2 71.9,400.3 72.6,400.3 73.3,400.4 74,400.4 74.7,400.5 75.4,400.5 76.1,400.6 76.8,400.6 77.5,400.7 78.2,400.7 78.9,400.8 79.6,400.8 80.3,400.9 81,400.9 81.7,401 82.4,401 83.1,401.1 83.8,401.1 84.5,401.2 85.2,401.2 85.9,401.3 86.6,401.3 87.3,401.3 88,401.4 88.7,401.4 89.4,401.5 90.1,401.5 90.8,401.6 91.5,401.6 92.2,401.7 92.9,401.7 93.6,401.7 94.3,401.8 95,401.8 95.7,401.9 96.4,401.9 97.1,401.9 97.8,402 98.5,402 99.2,402.1 99.9,402.1 100.6,402.1 101.3,402.2 102,402.2 102.7,402.2 103.4,402.3 104.1,402.3 104.8,402.3 105.5,402.4 106.2,402.4 106.9,402.4 107.6,402.4 108.3,402.5 109,402.5 109.7,402.5 110.4,402.5 111.1,402.6 111.8,402.6 112.5,402.6 113.2,402.6 113.9,402.6 114.6,402.6 115.3,402.6 116,402.6 116.7,402.6 117.4,402.6 118.1,402.6 118.8,402.6 119.5,402.6 120.2,402.6 120.9,402.6 121.6,402.6 122.3,402.5 123,402.5 123.7,402.5 124.4,402.4 125.1,402.4 125.8,402.3 126.5,402.2 127.2,402.1 127.9,402 128.6,401.9 129.3,401.7 130,401.5 130.7,401.3 131.4,401 132.1,400.7 132.8,400.4 133.5,399.9 134.2,399.4 134.9,398.8 135.6,398.1 136.3,397.2 137,396.2 137.7,395.1 138.4,393.8 139.1,392.3 139.8,390.6 140.5,388.6 141.2,386.4 141.9,384 142.6,381.3 143.3,378.2 144,374.9 144.7,371.3 145.4,367.3 146.1,363.1 146.8,358.6 147.5,353.8 148.2,348.8 148.9,343.5 149.6,338.2 150.3,332.6 151,327.1 151.7,321.5 152.4,316 153.1,310.6 153.8,305.5 154.5,300.8 155.2,296.4 155.9,292.6 156.6,289.4 157.3,286.8 158,285.1 158.7,284.1 159.4,284 160.1,284.7 160.8,286.2 161.5,288.6 162.2,291.6 162.9,295.3 163.6,299.6 164.3,304.3 165,309.4 165.7,314.7 166.4,320.3 167.1,326 167.8,331.7 168.5,337.3 169.2,342.9 169.9,348.3 170.6,353.6 171.3,358.6 172,363.3 172.7,367.8 173.4,372 174.1,375.8 174.8,379.4 175.5,382.7 176.2,385.7 176.9,388.3 177.6,390.8 178.3,392.9 179,394.9 179.7,396.6 180.4,398.1 181.1,399.4 181.8,400.5 182.5,401.6 183.2,402.4 183.9,403.2 184.6,403.9 185.3,404.5 186,405 186.7,405.5 187.4,405.9 188.1,406.2 188.8,406.5 189.5,406.8 190.2,407.1 190.9,407.3 191.6,407.5 192.3,407.7 193,407.9 193.7,408.1 194.4,408.3 195.1,408.4 195.8,408.6 196.5,408.7 197.2,408.9 197.9,409 198.6,409.1 199.3,409.2 200,409.4 200.7,409.5 201.4,409.6 202.1,409.7 202.8,409.8 203.5,409.9 204.2,410 204.9,410.1 205.6,410.2 206.3,410.3 207,410.4 207.7,410.5 208.4,410.6 209.1,410.7 209.8,410.8 210.5,410.9 211.2,411 211.9,411.1 212.6,411.2 213.3,411.3 214,411.4 214.7,411.4 215.4,411.5 216.1,411.6 216.8,411.7 217.5,411.8 218.2,411.8 218.9,411.9 219.6,412 220.3,412.1 221,412.2 221.7,412.2 222.4,412.3 223.1,412.4 223.8,412.5 224.5,412.5 225.2,412.6 225.9,412.7 226.6,412.8 227.3,412.8 228,412.9 228.7,413 229.4,413 230.1,413.1 230.8,413.2 231.5,413.3 232.2,413.3 232.9,413.4 233.6,413.5 234.3,413.5 235,413.6 235.7,413.7 236.4,413.7 237.1,413.8 237.8,413.9 238.5,413.9 239.2,414 239.9,414.1 240.6,414.1 241.3,414.2 242,414.3 242.7,414.3 243.4,414.4 244.1,414.5 244.8,414.5 245.5,414.6 246.2,414.7 246.9,414.7 247.6,414.8 248.3,414.9 249,414.9 249.7,415 250.4,415 251.1,415.1 251.8,415.2 252.5,415.2 253.2,415.3 253.9,415.4 254.6,415.4 255.3,415.5 256,415.6 256.7,415.6 257.4,415.7 258.1,415.7 258.8,415.8 259.5,415.9 260.2,415.9 260.9,416" fill="none" stroke="#f8e8c4" stroke-width="0.5"/><path d="M34.8,397.6 35.5,397.7 36.2,397.8 36.9,397.8 37.6,397.9 38.3,397.9 39,398 39.7,398 40.4,398.1 41.1,398.2 41.8,398.2 42.5,398.3 43.2,398.3 43.9,398.4 44.6,398.4 45.3,398.5 46,398.6 46.7,398.6 47.4,398.7 48.1,398.7 48.8,398.8 49.5,398.9 50.2,398.9 50.9,399 51.6,399 52.3,399.1 53,399.1 53.7,399.2 54.4,399.3 55.1,399.3 55.8,399.4 56.5,399.4 57.2,399.5 57.9,399.5 58.6,399.6 59.3,399.7 60,399.7 60.7,399.8 61.4,399.8 62.1,399.9 62.8,399.9 63.5,400 64.2,400.1 64.9,400.1 65.6,400.2 66.3,400.2 67,400.3 67.7,400.3 68.4,400.4 69.1,400.5 69.8,400.5 70.5,400.6 71.2,400.6 71.9,400.7 72.6,400.7 73.3,400.8 74,400.9 74.7,400.9 75.4,401 76.1,401 76.8,401.1 77.5,401.1 78.2,401.2 78.9,401.3 79.6,401.3 80.3,401.4 81,401.4 81.7,401.5 82.4,401.5 83.1,401.6 83.8,401.7 84.5,401.7 85.2,401.8 85.9,401.8 86.6,401.9 87.3,401.9 88,402 88.7,402.1 89.4,402.1 90.1,402.2 90.8,402.2 91.5,402.3 92.2,402.3 92.9,402.4 93.6,402.5 94.3,402.5 95,402.6 95.7,402.6 96.4,402.7 97.1,402.7 97.8,402.8 98.5,402.9 99.2,402.9 99.9,403 100.6,403 101.3,403.1 102,403.1 102.7,403.2 103.4,403.2 104.1,403.3 104.8,403.4 105.5,403.4 106.2,403.5 106.9,403.5 107.6,403.6 108.3,403.6 109,403.7 109.7,403.8 110.4,403.8 111.1,403.9 111.8,403.9 112.5,404 113.2,404 113.9,404.1 114.6,404.1 115.3,404.2 116,404.3 116.7,404.3 117.4,404.4 118.1,404.4 118.8,404.5 119.5,404.5 120.2,404.6 120.9,404.6 121.6,404.7 122.3,404.7 123,404.8 123.7,404.9 124.4,404.9 125.1,405 125.8,405 126.5,405.1 127.2,405.1 127.9,405.2 128.6,405.2 129.3,405.3 130,405.3 130.7,405.4 131.4,405.4 132.1,405.5 132.8,405.5 133.5,405.6 134.2,405.7 134.9,405.7 135.6,405.8 136.3,405.8 137,405.9 137.7,405.9 138.4,406 139.1,406 139.8,406.1 140.5,406.1 141.2,406.1 141.9,406.2 142.6,406.2 143.3,406.3 144,406.3 144.7,406.4 145.4,406.4 146.1,406.5 146.8,406.5 147.5,406.5 148.2,406.6 148.9,406.6 149.6,406.7 150.3,406.7 151,406.7 151.7,406.8 152.4,406.8 153.1,406.8 153.8,406.9 154.5,406.9 155.2,406.9 155.9,406.9 156.6,406.9 157.3,406.9 158,407 158.7,407 159.4,407 160.1,406.9 160.8,406.9 161.5,406.9 162.2,406.9 162.9,406.8 163.6,406.7 164.3,406.6 165,406.5 165.7,406.3 166.4,406 167.1,405.7 167.8,405.2 168.5,404.5 169.2,403.6 169.9,402.5 170.6,401 171.3,399.2 172,397 172.7,394.3 173.4,391.2 174.1,387.6 174.8,383.7 175.5,379.5 176.2,375.2 176.9,370.9 177.6,366.9 178.3,363.4 179,360.7 179.7,359.1 180.4,358.7 181.1,359 181.8,359.8 182.5,361 183.2,362.6 183.9,364.5 184.6,366.6 185.3,369 186,371.4 186.7,373.9 187.4,376.5 188.1,379 188.8,381.5 189.5,383.9 190.2,386.3 190.9,388.5 191.6,390.6 192.3,392.5 193,394.4 193.7,396 194.4,397.6 195.1,399 195.8,400.2 196.5,401.4 197.2,402.4 197.9,403.3 198.6,404.2 199.3,404.9 200,405.5 200.7,406.1 201.4,406.6 202.1,407.1 202.8,407.5 203.5,407.8 204.2,408.2 204.9,408.5 205.6,408.7 206.3,409 207,409.2 207.7,409.4 208.4,409.6 209.1,409.7 209.8,409.9 210.5,410.1 211.2,410.2 211.9,410.4 212.6,410.5 213.3,410.6 214,410.8 214.7,410.9 215.4,411 216.1,411.1 216.8,411.2 217.5,411.3 218.2,411.4 218.9,411.5 219.6,411.6 220.3,411.7 221,411.8 221.7,411.9 222.4,412 223.1,412.1 223.8,412.2 224.5,412.3 225.2,412.4 225.9,412.5 226.6,412.6 227.3,412.6 228,412.7 228.7,412.8 229.4,412.9 230.1,413 230.8,413.1 231.5,413.1 232.2,413.2 232.9,413.3 233.6,413.4 234.3,413.4 235,413.5 235.7,413.6 236.4,413.7 237.1,413.7 237.8,413.8 238.5,413.9 239.2,413.9 239.9,414 240.6,414.1 241.3,414.2 242,414.2 242.7,414.3 243.4,414.4 244.1,414.4 244.8,414.5 245.5,414.6 246.2,414.6 246.9,414.7 247.6,414.8 248.3,414.8 249,414.9 249.7,415 250.4,415 251.1,415.1 251.8,415.2 252.5,415.2 253.2,415.3 253.9,415.4 254.6,415.4 255.3,415.5 256,415.6 256.7,415.6 257.4,415.7 258.1,415.8 258.8,415.8 259.5,415.9 260.2,415.9 260.9,416 L260.9,416.3 260.2,416.3 259.5,416.2 258.8,416.1 258.1,416.1 257.4,416 256.7,416 256,415.9 255.3,415.9 254.6,415.8 253.9,415.7 253.2,415.7 252.5,415.6 251.8,415.6 251.1,415.5 250.4,415.5 249.7,415.4 249,415.3 248.3,415.3 247.6,415.2 246.9,415.2 246.2,415.1 245.5,415 244.8,415 244.1,414.9 243.4,414.9 242.7,414.8 242,414.8 241.3,414.7 240.6,414.6 239.9,414.6 239.2,414.5 238.5,414.5 237.8,414.4 237.1,414.4 236.4,414.3 235.7,414.2 235,414.2 234.3,414.1 233.6,414.1 232.9,414 232.2,414 231.5,413.9 230.8,413.8 230.1,413.8 229.4,413.7 228.7,413.7 228,413.6 227.3,413.5 226.6,413.5 225.9,413.4 225.2,413.4 224.5,413.3 223.8,413.3 223.1,413.2 222.4,413.1 221.7,413.1 221,413 220.3,413 219.6,412.9 218.9,412.9 218.2,412.8 217.5,412.7 216.8,412.7 216.1,412.6 215.4,412.6 214.7,412.5 214,412.5 213.3,412.4 212.6,412.3 211.9,412.3 211.2,412.2 210.5,412.2 209.8,412.1 209.1,412 208.4,412 207.7,411.9 207,411.9 206.3,411.8 205.6,411.8 204.9,411.7 204.2,411.6 203.5,411.6 202.8,411.5 202.1,411.5 201.4,411.4 200.7,411.4 200,411.3 199.3,411.2 198.6,411.2 197.9,411.1 197.2,411.1 196.5,411 195.8,410.9 195.1,410.9 194.4,410.8 193.7,410.8 193,410.7 192.3,410.7 191.6,410.6 190.9,410.5 190.2,410.5 189.5,410.4 188.8,410.4 188.1,410.3 187.4,410.3 186.7,410.2 186,410.1 185.3,410.1 184.6,410 183.9,410 183.2,409.9 182.5,409.9 181.8,409.8 181.1,409.7 180.4,409.7 179.7,409.6 179,409.6 178.3,409.5 177.6,409.4 176.9,409.4 176.2,409.3 175.5,409.3 174.8,409.2 174.1,409.2 173.4,409.1 172.7,409 172,409 171.3,408.9 170.6,408.9 169.9,408.8 169.2,408.8 168.5,408.7 167.8,408.6 167.1,408.6 166.4,408.5 165.7,408.5 165,408.4 164.3,408.3 163.6,408.3 162.9,408.2 162.2,408.2 161.5,408.1 160.8,408.1 160.1,408 159.4,407.9 158.7,407.9 158,407.8 157.3,407.8 156.6,407.7 155.9,407.7 155.2,407.6 154.5,407.5 153.8,407.5 153.1,407.4 152.4,407.4 151.7,407.3 151,407.3 150.3,407.2 149.6,407.1 148.9,407.1 148.2,407 147.5,407 146.8,406.9 146.1,406.8 145.4,406.8 144.7,406.7 144,406.7 143.3,406.6 142.6,406.6 141.9,406.5 141.2,406.4 140.5,406.4 139.8,406.3 139.1,406.3 138.4,406.2 137.7,406.2 137,406.1 136.3,406 135.6,406 134.9,405.9 134.2,405.9 133.5,405.8 132.8,405.8 132.1,405.7 131.4,405.6 130.7,405.6 130,405.5 129.3,405.5 128.6,405.4 127.9,405.3 127.2,405.3 126.5,405.2 125.8,405.2 125.1,405.1 124.4,405.1 123.7,405 123,404.9 122.3,404.9 121.6,404.8 120.9,404.8 120.2,404.7 119.5,404.7 118.8,404.6 118.1,404.5 117.4,404.5 116.7,404.4 116,404.4 115.3,404.3 114.6,404.2 113.9,404.2 113.2,404.1 112.5,404.1 111.8,404 111.1,404 110.4,403.9 109.7,403.8 109,403.8 108.3,403.7 107.6,403.7 106.9,403.6 106.2,403.6 105.5,403.5 104.8,403.4 104.1,403.4 103.4,403.3 102.7,403.3 102,403.2 101.3,403.2 100.6,403.1 99.9,403 99.2,403 98.5,402.9 97.8,402.9 97.1,402.8 96.4,402.7 95.7,402.7 95,402.6 94.3,402.6 93.6,402.5 92.9,402.5 92.2,402.4 91.5,402.3 90.8,402.3 90.1,402.2 89.4,402.2 88.7,402.1 88,402.1 87.3,402 86.6,401.9 85.9,401.9 85.2,401.8 84.5,401.8 83.8,401.7 83.1,401.7 82.4,401.6 81.7,401.5 81,401.5 80.3,401.4 79.6,401.4 78.9,401.3 78.2,401.2 77.5,401.2 76.8,401.1 76.1,401.1 75.4,401 74.7,401 74,400.9 73.3,400.8 72.6,400.8 71.9,400.7 71.2,400.7 70.5,400.6 69.8,400.6 69.1,400.5 68.4,400.4 67.7,400.4 67,400.3 66.3,400.3 65.6,400.2 64.9,400.1 64.2,400.1 63.5,400 62.8,400 62.1,399.9 61.4,399.9 60.7,399.8 60,399.7 59.3,399.7 58.6,399.6 57.9,399.6 57.2,399.5 56.5,399.5 55.8,399.4 55.1,399.3 54.4,399.3 53.7,399.2 53,399.2 52.3,399.1 51.6,399.1 50.9,399 50.2,398.9 49.5,398.9 48.8,398.8 48.1,398.8 47.4,398.7 46.7,398.6 46,398.6 45.3,398.5 44.6,398.5 43.9,398.4 43.2,398.4 42.5,398.3 41.8,398.2 41.1,398.2 40.4,398.1 39.7,398.1 39,398 38.3,398 37.6,397.9 36.9,397.8 36.2,397.8 35.5,397.7 34.8,397.7 Z" fill="url(#g12)" /><polyline points="34.8,397.6 35.5,397.7 36.2,397.8 36.9,397.8 37.6,397.9 38.3,397.9 39,398 39.7,398 40.4,398.1 41.1,398.2 41.8,398.2 42.5,398.3 43.2,398.3 43.9,398.4 44.6,398.4 45.3,398.5 46,398.6 46.7,398.6 47.4,398.7 48.1,398.7 48.8,398.8 49.5,398.9 50.2,398.9 50.9,399 51.6,399 52.3,399.1 53,399.1 53.7,399.2 54.4,399.3 55.1,399.3 55.8,399.4 56.5,399.4 57.2,399.5 57.9,399.5 58.6,399.6 59.3,399.7 60,399.7 60.7,399.8 61.4,399.8 62.1,399.9 62.8,399.9 63.5,400 64.2,400.1 64.9,400.1 65.6,400.2 66.3,400.2 67,400.3 67.7,400.3 68.4,400.4 69.1,400.5 69.8,400.5 70.5,400.6 71.2,400.6 71.9,400.7 72.6,400.7 73.3,400.8 74,400.9 74.7,400.9 75.4,401 76.1,401 76.8,401.1 77.5,401.1 78.2,401.2 78.9,401.3 79.6,401.3 80.3,401.4 81,401.4 81.7,401.5 82.4,401.5 83.1,401.6 83.8,401.7 84.5,401.7 85.2,401.8 85.9,401.8 86.6,401.9 87.3,401.9 88,402 88.7,402.1 89.4,402.1 90.1,402.2 90.8,402.2 91.5,402.3 92.2,402.3 92.9,402.4 93.6,402.5 94.3,402.5 95,402.6 95.7,402.6 96.4,402.7 97.1,402.7 97.8,402.8 98.5,402.9 99.2,402.9 99.9,403 100.6,403 101.3,403.1 102,403.1 102.7,403.2 103.4,403.2 104.1,403.3 104.8,403.4 105.5,403.4 106.2,403.5 106.9,403.5 107.6,403.6 108.3,403.6 109,403.7 109.7,403.8 110.4,403.8 111.1,403.9 111.8,403.9 112.5,404 113.2,404 113.9,404.1 114.6,404.1 115.3,404.2 116,404.3 116.7,404.3 117.4,404.4 118.1,404.4 118.8,404.5 119.5,404.5 120.2,404.6 120.9,404.6 121.6,404.7 122.3,404.7 123,404.8 123.7,404.9 124.4,404.9 125.1,405 125.8,405 126.5,405.1 127.2,405.1 127.9,405.2 128.6,405.2 129.3,405.3 130,405.3 130.7,405.4 131.4,405.4 132.1,405.5 132.8,405.5 133.5,405.6 134.2,405.7 134.9,405.7 135.6,405.8 136.3,405.8 137,405.9 137.7,405.9 138.4,406 139.1,406 139.8,406.1 140.5,406.1 141.2,406.1 141.9,406.2 142.6,406.2 143.3,406.3 144,406.3 144.7,406.4 145.4,406.4 146.1,406.5 146.8,406.5 147.5,406.5 148.2,406.6 148.9,406.6 149.6,406.7 150.3,406.7 151,406.7 151.7,406.8 152.4,406.8 153.1,406.8 153.8,406.9 154.5,406.9 155.2,406.9 155.9,406.9 156.6,406.9 157.3,406.9 158,407 158.7,407 159.4,407 160.1,406.9 160.8,406.9 161.5,406.9 162.2,406.9 162.9,406.8 163.6,406.7 164.3,406.6 165,406.5 165.7,406.3 166.4,406 167.1,405.7 167.8,405.2 168.5,404.5 169.2,403.6 169.9,402.5 170.6,401 171.3,399.2 172,397 172.7,394.3 173.4,391.2 174.1,387.6 174.8,383.7 175.5,379.5 176.2,375.2 176.9,370.9 177.6,366.9 178.3,363.4 179,360.7 179.7,359.1 180.4,358.7 181.1,359 181.8,359.8 182.5,361 183.2,362.6 183.9,364.5 184.6,366.6 185.3,369 186,371.4 186.7,373.9 187.4,376.5 188.1,379 188.8,381.5 189.5,383.9 190.2,386.3 190.9,388.5 191.6,390.6 192.3,392.5 193,394.4 193.7,396 194.4,397.6 195.1,399 195.8,400.2 196.5,401.4 197.2,402.4 197.9,403.3 198.6,404.2 199.3,404.9 200,405.5 200.7,406.1 201.4,406.6 202.1,407.1 202.8,407.5 203.5,407.8 204.2,408.2 204.9,408.5 205.6,408.7 206.3,409 207,409.2 207.7,409.4 208.4,409.6 209.1,409.7 209.8,409.9 210.5,410.1 211.2,410.2 211.9,410.4 212.6,410.5 213.3,410.6 214,410.8 214.7,410.9 215.4,411 216.1,411.1 216.8,411.2 217.5,411.3 218.2,411.4 218.9,411.5 219.6,411.6 220.3,411.7 221,411.8 221.7,411.9 222.4,412 223.1,412.1 223.8,412.2 224.5,412.3 225.2,412.4 225.9,412.5 226.6,412.6 227.3,412.6 228,412.7 228.7,412.8 229.4,412.9 230.1,413 230.8,413.1 231.5,413.1 232.2,413.2 232.9,413.3 233.6,413.4 234.3,413.4 235,413.5 235.7,413.6 236.4,413.7 237.1,413.7 237.8,413.8 238.5,413.9 239.2,413.9 239.9,414 240.6,414.1 241.3,414.2 242,414.2 242.7,414.3 243.4,414.4 244.1,414.4 244.8,414.5 245.5,414.6 246.2,414.6 246.9,414.7 247.6,414.8 248.3,414.8 249,414.9 249.7,415 250.4,415 251.1,415.1 251.8,415.2 252.5,415.2 253.2,415.3 253.9,415.4 254.6,415.4 255.3,415.5 256,415.6 256.7,415.6 257.4,415.7 258.1,415.8 258.8,415.8 259.5,415.9 260.2,415.9 260.9,416" fill="none" stroke="#c9a4ec" stroke-width="0.6"/><path d="M34.8,397.6 35.5,397.7 36.2,397.8 36.9,397.8 37.6,397.9 38.3,397.9 39,398 39.7,398 40.4,398.1 41.1,398.2 41.8,398.2 42.5,398.3 43.2,398.3 43.9,398.4 44.6,398.4 45.3,398.5 46,398.6 46.7,398.6 47.4,398.7 48.1,398.7 48.8,398.8 49.5,398.8 50.2,398.9 50.9,399 51.6,399 52.3,399.1 53,399.1 53.7,399.2 54.4,399.2 55.1,399.3 55.8,399.4 56.5,399.4 57.2,399.5 57.9,399.5 58.6,399.6 59.3,399.6 60,399.7 60.7,399.8 61.4,399.8 62.1,399.9 62.8,399.9 63.5,400 64.2,400 64.9,400.1 65.6,400.2 66.3,400.2 67,400.3 67.7,400.3 68.4,400.4 69.1,400.4 69.8,400.5 70.5,400.6 71.2,400.6 71.9,400.7 72.6,400.7 73.3,400.8 74,400.8 74.7,400.9 75.4,401 76.1,401 76.8,401.1 77.5,401.1 78.2,401.2 78.9,401.2 79.6,401.3 80.3,401.4 81,401.4 81.7,401.5 82.4,401.5 83.1,401.6 83.8,401.6 84.5,401.7 85.2,401.8 85.9,401.8 86.6,401.9 87.3,401.9 88,402 88.7,402 89.4,402.1 90.1,402.2 90.8,402.2 91.5,402.3 92.2,402.3 92.9,402.4 93.6,402.4 94.3,402.5 95,402.6 95.7,402.6 96.4,402.7 97.1,402.7 97.8,402.8 98.5,402.8 99.2,402.9 99.9,402.9 100.6,403 101.3,403.1 102,403.1 102.7,403.2 103.4,403.2 104.1,403.3 104.8,403.3 105.5,403.4 106.2,403.5 106.9,403.5 107.6,403.6 108.3,403.6 109,403.7 109.7,403.7 110.4,403.8 111.1,403.8 111.8,403.9 112.5,404 113.2,404 113.9,404.1 114.6,404.1 115.3,404.2 116,404.2 116.7,404.3 117.4,404.3 118.1,404.4 118.8,404.5 119.5,404.5 120.2,404.6 120.9,404.6 121.6,404.7 122.3,404.7 123,404.8 123.7,404.8 124.4,404.9 125.1,404.9 125.8,405 126.5,405.1 127.2,405.1 127.9,405.2 128.6,405.2 129.3,405.3 130,405.3 130.7,405.4 131.4,405.4 132.1,405.5 132.8,405.5 133.5,405.6 134.2,405.6 134.9,405.7 135.6,405.7 136.3,405.8 137,405.8 137.7,405.9 138.4,405.9 139.1,406 139.8,406 140.5,406.1 141.2,406.1 141.9,406.2 142.6,406.2 143.3,406.3 144,406.3 144.7,406.4 145.4,406.4 146.1,406.5 146.8,406.5 147.5,406.6 148.2,406.6 148.9,406.6 149.6,406.7 150.3,406.7 151,406.8 151.7,406.8 152.4,406.8 153.1,406.9 153.8,406.9 154.5,407 155.2,407 155.9,407 156.6,407.1 157.3,407.1 158,407.1 158.7,407.1 159.4,407.2 160.1,407.2 160.8,407.2 161.5,407.2 162.2,407.2 162.9,407.2 163.6,407.2 164.3,407.2 165,407.2 165.7,407.2 166.4,407.2 167.1,407.2 167.8,407.1 168.5,407.1 169.2,407 169.9,407 170.6,406.9 171.3,406.8 172,406.7 172.7,406.5 173.4,406.3 174.1,406.1 174.8,405.8 175.5,405.3 176.2,404.7 176.9,403.9 177.6,402.8 178.3,401.2 179,399.2 179.7,396.5 180.4,393.1 181.1,388.8 181.8,383.5 182.5,377.2 183.2,370 183.9,362 184.6,353.4 185.3,344.7 186,336.1 186.7,328.4 187.4,322.3 188.1,318.2 188.8,316.9 189.5,317.8 190.2,320.5 190.9,324.5 191.6,329.7 192.3,335.6 193,341.9 193.7,348.3 194.4,354.5 195.1,360.5 195.8,366.1 196.5,371.3 197.2,376 197.9,380.3 198.6,384 199.3,387.3 200,390.2 200.7,392.8 201.4,394.9 202.1,396.8 202.8,398.4 203.5,399.8 204.2,401 204.9,402 205.6,402.9 206.3,403.6 207,404.3 207.7,404.9 208.4,405.4 209.1,405.9 209.8,406.4 210.5,406.8 211.2,407.1 211.9,407.5 212.6,407.8 213.3,408.1 214,408.4 214.7,408.6 215.4,408.9 216.1,409.1 216.8,409.3 217.5,409.6 218.2,409.8 218.9,409.9 219.6,410.1 220.3,410.3 221,410.5 221.7,410.6 222.4,410.8 223.1,410.9 223.8,411.1 224.5,411.2 225.2,411.4 225.9,411.5 226.6,411.6 227.3,411.7 228,411.9 228.7,412 229.4,412.1 230.1,412.2 230.8,412.3 231.5,412.4 232.2,412.5 232.9,412.6 233.6,412.7 234.3,412.8 235,412.9 235.7,413 236.4,413.1 237.1,413.2 237.8,413.3 238.5,413.4 239.2,413.5 239.9,413.5 240.6,413.6 241.3,413.7 242,413.8 242.7,413.9 243.4,414 244.1,414 244.8,414.1 245.5,414.2 246.2,414.3 246.9,414.4 247.6,414.4 248.3,414.5 249,414.6 249.7,414.7 250.4,414.7 251.1,414.8 251.8,414.9 252.5,415 253.2,415 253.9,415.1 254.6,415.2 255.3,415.2 256,415.3 256.7,415.4 257.4,415.4 258.1,415.5 258.8,415.6 259.5,415.7 260.2,415.7 260.9,415.8 L260.9,416.3 260.2,416.3 259.5,416.2 258.8,416.1 258.1,416.1 257.4,416 256.7,416 256,415.9 255.3,415.9 254.6,415.8 253.9,415.7 253.2,415.7 252.5,415.6 251.8,415.6 251.1,415.5 250.4,415.5 249.7,415.4 249,415.3 248.3,415.3 247.6,415.2 246.9,415.2 246.2,415.1 245.5,415 244.8,415 244.1,414.9 243.4,414.9 242.7,414.8 242,414.8 241.3,414.7 240.6,414.6 239.9,414.6 239.2,414.5 238.5,414.5 237.8,414.4 237.1,414.4 236.4,414.3 235.7,414.2 235,414.2 234.3,414.1 233.6,414.1 232.9,414 232.2,414 231.5,413.9 230.8,413.8 230.1,413.8 229.4,413.7 228.7,413.7 228,413.6 227.3,413.5 226.6,413.5 225.9,413.4 225.2,413.4 224.5,413.3 223.8,413.3 223.1,413.2 222.4,413.1 221.7,413.1 221,413 220.3,413 219.6,412.9 218.9,412.9 218.2,412.8 217.5,412.7 216.8,412.7 216.1,412.6 215.4,412.6 214.7,412.5 214,412.5 213.3,412.4 212.6,412.3 211.9,412.3 211.2,412.2 210.5,412.2 209.8,412.1 209.1,412 208.4,412 207.7,411.9 207,411.9 206.3,411.8 205.6,411.8 204.9,411.7 204.2,411.6 203.5,411.6 202.8,411.5 202.1,411.5 201.4,411.4 200.7,411.4 200,411.3 199.3,411.2 198.6,411.2 197.9,411.1 197.2,411.1 196.5,411 195.8,410.9 195.1,410.9 194.4,410.8 193.7,410.8 193,410.7 192.3,410.7 191.6,410.6 190.9,410.5 190.2,410.5 189.5,410.4 188.8,410.4 188.1,410.3 187.4,410.3 186.7,410.2 186,410.1 185.3,410.1 184.6,410 183.9,410 183.2,409.9 182.5,409.9 181.8,409.8 181.1,409.7 180.4,409.7 179.7,409.6 179,409.6 178.3,409.5 177.6,409.4 176.9,409.4 176.2,409.3 175.5,409.3 174.8,409.2 174.1,409.2 173.4,409.1 172.7,409 172,409 171.3,408.9 170.6,408.9 169.9,408.8 169.2,408.8 168.5,408.7 167.8,408.6 167.1,408.6 166.4,408.5 165.7,408.5 165,408.4 164.3,408.3 163.6,408.3 162.9,408.2 162.2,408.2 161.5,408.1 160.8,408.1 160.1,408 159.4,407.9 158.7,407.9 158,407.8 157.3,407.8 156.6,407.7 155.9,407.7 155.2,407.6 154.5,407.5 153.8,407.5 153.1,407.4 152.4,407.4 151.7,407.3 151,407.3 150.3,407.2 149.6,407.1 148.9,407.1 148.2,407 147.5,407 146.8,406.9 146.1,406.8 145.4,406.8 144.7,406.7 144,406.7 143.3,406.6 142.6,406.6 141.9,406.5 141.2,406.4 140.5,406.4 139.8,406.3 139.1,406.3 138.4,406.2 137.7,406.2 137,406.1 136.3,406 135.6,406 134.9,405.9 134.2,405.9 133.5,405.8 132.8,405.8 132.1,405.7 131.4,405.6 130.7,405.6 130,405.5 129.3,405.5 128.6,405.4 127.9,405.3 127.2,405.3 126.5,405.2 125.8,405.2 125.1,405.1 124.4,405.1 123.7,405 123,404.9 122.3,404.9 121.6,404.8 120.9,404.8 120.2,404.7 119.5,404.7 118.8,404.6 118.1,404.5 117.4,404.5 116.7,404.4 116,404.4 115.3,404.3 114.6,404.2 113.9,404.2 113.2,404.1 112.5,404.1 111.8,404 111.1,404 110.4,403.9 109.7,403.8 109,403.8 108.3,403.7 107.6,403.7 106.9,403.6 106.2,403.6 105.5,403.5 104.8,403.4 104.1,403.4 103.4,403.3 102.7,403.3 102,403.2 101.3,403.2 100.6,403.1 99.9,403 99.2,403 98.5,402.9 97.8,402.9 97.1,402.8 96.4,402.7 95.7,402.7 95,402.6 94.3,402.6 93.6,402.5 92.9,402.5 92.2,402.4 91.5,402.3 90.8,402.3 90.1,402.2 89.4,402.2 88.7,402.1 88,402.1 87.3,402 86.6,401.9 85.9,401.9 85.2,401.8 84.5,401.8 83.8,401.7 83.1,401.7 82.4,401.6 81.7,401.5 81,401.5 80.3,401.4 79.6,401.4 78.9,401.3 78.2,401.2 77.5,401.2 76.8,401.1 76.1,401.1 75.4,401 74.7,401 74,400.9 73.3,400.8 72.6,400.8 71.9,400.7 71.2,400.7 70.5,400.6 69.8,400.6 69.1,400.5 68.4,400.4 67.7,400.4 67,400.3 66.3,400.3 65.6,400.2 64.9,400.1 64.2,400.1 63.5,400 62.8,400 62.1,399.9 61.4,399.9 60.7,399.8 60,399.7 59.3,399.7 58.6,399.6 57.9,399.6 57.2,399.5 56.5,399.5 55.8,399.4 55.1,399.3 54.4,399.3 53.7,399.2 53,399.2 52.3,399.1 51.6,399.1 50.9,399 50.2,398.9 49.5,398.9 48.8,398.8 48.1,398.8 47.4,398.7 46.7,398.6 46,398.6 45.3,398.5 44.6,398.5 43.9,398.4 43.2,398.4 42.5,398.3 41.8,398.2 41.1,398.2 40.4,398.1 39.7,398.1 39,398 38.3,398 37.6,397.9 36.9,397.8 36.2,397.8 35.5,397.7 34.8,397.7 Z" fill="url(#g13)" /><polyline points="34.8,397.6 35.5,397.7 36.2,397.8 36.9,397.8 37.6,397.9 38.3,397.9 39,398 39.7,398 40.4,398.1 41.1,398.2 41.8,398.2 42.5,398.3 43.2,398.3 43.9,398.4 44.6,398.4 45.3,398.5 46,398.6 46.7,398.6 47.4,398.7 48.1,398.7 48.8,398.8 49.5,398.8 50.2,398.9 50.9,399 51.6,399 52.3,399.1 53,399.1 53.7,399.2 54.4,399.2 55.1,399.3 55.8,399.4 56.5,399.4 57.2,399.5 57.9,399.5 58.6,399.6 59.3,399.6 60,399.7 60.7,399.8 61.4,399.8 62.1,399.9 62.8,399.9 63.5,400 64.2,400 64.9,400.1 65.6,400.2 66.3,400.2 67,400.3 67.7,400.3 68.4,400.4 69.1,400.4 69.8,400.5 70.5,400.6 71.2,400.6 71.9,400.7 72.6,400.7 73.3,400.8 74,400.8 74.7,400.9 75.4,401 76.1,401 76.8,401.1 77.5,401.1 78.2,401.2 78.9,401.2 79.6,401.3 80.3,401.4 81,401.4 81.7,401.5 82.4,401.5 83.1,401.6 83.8,401.6 84.5,401.7 85.2,401.8 85.9,401.8 86.6,401.9 87.3,401.9 88,402 88.7,402 89.4,402.1 90.1,402.2 90.8,402.2 91.5,402.3 92.2,402.3 92.9,402.4 93.6,402.4 94.3,402.5 95,402.6 95.7,402.6 96.4,402.7 97.1,402.7 97.8,402.8 98.5,402.8 99.2,402.9 99.9,402.9 100.6,403 101.3,403.1 102,403.1 102.7,403.2 103.4,403.2 104.1,403.3 104.8,403.3 105.5,403.4 106.2,403.5 106.9,403.5 107.6,403.6 108.3,403.6 109,403.7 109.7,403.7 110.4,403.8 111.1,403.8 111.8,403.9 112.5,404 113.2,404 113.9,404.1 114.6,404.1 115.3,404.2 116,404.2 116.7,404.3 117.4,404.3 118.1,404.4 118.8,404.5 119.5,404.5 120.2,404.6 120.9,404.6 121.6,404.7 122.3,404.7 123,404.8 123.7,404.8 124.4,404.9 125.1,404.9 125.8,405 126.5,405.1 127.2,405.1 127.9,405.2 128.6,405.2 129.3,405.3 130,405.3 130.7,405.4 131.4,405.4 132.1,405.5 132.8,405.5 133.5,405.6 134.2,405.6 134.9,405.7 135.6,405.7 136.3,405.8 137,405.8 137.7,405.9 138.4,405.9 139.1,406 139.8,406 140.5,406.1 141.2,406.1 141.9,406.2 142.6,406.2 143.3,406.3 144,406.3 144.7,406.4 145.4,406.4 146.1,406.5 146.8,406.5 147.5,406.6 148.2,406.6 148.9,406.6 149.6,406.7 150.3,406.7 151,406.8 151.7,406.8 152.4,406.8 153.1,406.9 153.8,406.9 154.5,407 155.2,407 155.9,407 156.6,407.1 157.3,407.1 158,407.1 158.7,407.1 159.4,407.2 160.1,407.2 160.8,407.2 161.5,407.2 162.2,407.2 162.9,407.2 163.6,407.2 164.3,407.2 165,407.2 165.7,407.2 166.4,407.2 167.1,407.2 167.8,407.1 168.5,407.1 169.2,407 169.9,407 170.6,406.9 171.3,406.8 172,406.7 172.7,406.5 173.4,406.3 174.1,406.1 174.8,405.8 175.5,405.3 176.2,404.7 176.9,403.9 177.6,402.8 178.3,401.2 179,399.2 179.7,396.5 180.4,393.1 181.1,388.8 181.8,383.5 182.5,377.2 183.2,370 183.9,362 184.6,353.4 185.3,344.7 186,336.1 186.7,328.4 187.4,322.3 188.1,318.2 188.8,316.9 189.5,317.8 190.2,320.5 190.9,324.5 191.6,329.7 192.3,335.6 193,341.9 193.7,348.3 194.4,354.5 195.1,360.5 195.8,366.1 196.5,371.3 197.2,376 197.9,380.3 198.6,384 199.3,387.3 200,390.2 200.7,392.8 201.4,394.9 202.1,396.8 202.8,398.4 203.5,399.8 204.2,401 204.9,402 205.6,402.9 206.3,403.6 207,404.3 207.7,404.9 208.4,405.4 209.1,405.9 209.8,406.4 210.5,406.8 211.2,407.1 211.9,407.5 212.6,407.8 213.3,408.1 214,408.4 214.7,408.6 215.4,408.9 216.1,409.1 216.8,409.3 217.5,409.6 218.2,409.8 218.9,409.9 219.6,410.1 220.3,410.3 221,410.5 221.7,410.6 222.4,410.8 223.1,410.9 223.8,411.1 224.5,411.2 225.2,411.4 225.9,411.5 226.6,411.6 227.3,411.7 228,411.9 228.7,412 229.4,412.1 230.1,412.2 230.8,412.3 231.5,412.4 232.2,412.5 232.9,412.6 233.6,412.7 234.3,412.8 235,412.9 235.7,413 236.4,413.1 237.1,413.2 237.8,413.3 238.5,413.4 239.2,413.5 239.9,413.5 240.6,413.6 241.3,413.7 242,413.8 242.7,413.9 243.4,414 244.1,414 244.8,414.1 245.5,414.2 246.2,414.3 246.9,414.4 247.6,414.4 248.3,414.5 249,414.6 249.7,414.7 250.4,414.7 251.1,414.8 251.8,414.9 252.5,415 253.2,415 253.9,415.1 254.6,415.2 255.3,415.2 256,415.3 256.7,415.4 257.4,415.4 258.1,415.5 258.8,415.6 259.5,415.7 260.2,415.7 260.9,415.8" fill="none" stroke="#5cb86a" stroke-width="0.8"/><polyline points="34.8,397.7 35.5,397.7 36.2,397.8 36.9,397.8 37.6,397.9 38.3,398 39,398 39.7,398.1 40.4,398.1 41.1,398.2 41.8,398.2 42.5,398.3 43.2,398.4 43.9,398.4 44.6,398.5 45.3,398.5 46,398.6 46.7,398.6 47.4,398.7 48.1,398.8 48.8,398.8 49.5,398.9 50.2,398.9 50.9,399 51.6,399.1 52.3,399.1 53,399.2 53.7,399.2 54.4,399.3 55.1,399.3 55.8,399.4 56.5,399.5 57.2,399.5 57.9,399.6 58.6,399.6 59.3,399.7 60,399.7 60.7,399.8 61.4,399.9 62.1,399.9 62.8,400 63.5,400 64.2,400.1 64.9,400.1 65.6,400.2 66.3,400.3 67,400.3 67.7,400.4 68.4,400.4 69.1,400.5 69.8,400.6 70.5,400.6 71.2,400.7 71.9,400.7 72.6,400.8 73.3,400.8 74,400.9 74.7,401 75.4,401 76.1,401.1 76.8,401.1 77.5,401.2 78.2,401.2 78.9,401.3 79.6,401.4 80.3,401.4 81,401.5 81.7,401.5 82.4,401.6 83.1,401.7 83.8,401.7 84.5,401.8 85.2,401.8 85.9,401.9 86.6,401.9 87.3,402 88,402.1 88.7,402.1 89.4,402.2 90.1,402.2 90.8,402.3 91.5,402.3 92.2,402.4 92.9,402.5 93.6,402.5 94.3,402.6 95,402.6 95.7,402.7 96.4,402.7 97.1,402.8 97.8,402.9 98.5,402.9 99.2,403 99.9,403 100.6,403.1 101.3,403.2 102,403.2 102.7,403.3 103.4,403.3 104.1,403.4 104.8,403.4 105.5,403.5 106.2,403.6 106.9,403.6 107.6,403.7 108.3,403.7 109,403.8 109.7,403.8 110.4,403.9 111.1,404 111.8,404 112.5,404.1 113.2,404.1 113.9,404.2 114.6,404.2 115.3,404.3 116,404.4 116.7,404.4 117.4,404.5 118.1,404.5 118.8,404.6 119.5,404.7 120.2,404.7 120.9,404.8 121.6,404.8 122.3,404.9 123,404.9 123.7,405 124.4,405.1 125.1,405.1 125.8,405.2 126.5,405.2 127.2,405.3 127.9,405.3 128.6,405.4 129.3,405.5 130,405.5 130.7,405.6 131.4,405.6 132.1,405.7 132.8,405.8 133.5,405.8 134.2,405.9 134.9,405.9 135.6,406 136.3,406 137,406.1 137.7,406.2 138.4,406.2 139.1,406.3 139.8,406.3 140.5,406.4 141.2,406.4 141.9,406.5 142.6,406.6 143.3,406.6 144,406.7 144.7,406.7 145.4,406.8 146.1,406.8 146.8,406.9 147.5,407 148.2,407 148.9,407.1 149.6,407.1 150.3,407.2 151,407.3 151.7,407.3 152.4,407.4 153.1,407.4 153.8,407.5 154.5,407.5 155.2,407.6 155.9,407.7 156.6,407.7 157.3,407.8 158,407.8 158.7,407.9 159.4,407.9 160.1,408 160.8,408.1 161.5,408.1 162.2,408.2 162.9,408.2 163.6,408.3 164.3,408.3 165,408.4 165.7,408.5 166.4,408.5 167.1,408.6 167.8,408.6 168.5,408.7 169.2,408.8 169.9,408.8 170.6,408.9 171.3,408.9 172,409 172.7,409 173.4,409.1 174.1,409.2 174.8,409.2 175.5,409.3 176.2,409.3 176.9,409.4 177.6,409.4 178.3,409.5 179,409.6 179.7,409.6 180.4,409.7 181.1,409.7 181.8,409.8 182.5,409.9 183.2,409.9 183.9,410 184.6,410 185.3,410.1 186,410.1 186.7,410.2 187.4,410.3 188.1,410.3 188.8,410.4 189.5,410.4 190.2,410.5 190.9,410.5 191.6,410.6 192.3,410.7 193,410.7 193.7,410.8 194.4,410.8 195.1,410.9 195.8,410.9 196.5,411 197.2,411.1 197.9,411.1 198.6,411.2 199.3,411.2 200,411.3 200.7,411.4 201.4,411.4 202.1,411.5 202.8,411.5 203.5,411.6 204.2,411.6 204.9,411.7 205.6,411.8 206.3,411.8 207,411.9 207.7,411.9 208.4,412 209.1,412 209.8,412.1 210.5,412.2 211.2,412.2 211.9,412.3 212.6,412.3 213.3,412.4 214,412.5 214.7,412.5 215.4,412.6 216.1,412.6 216.8,412.7 217.5,412.7 218.2,412.8 218.9,412.9 219.6,412.9 220.3,413 221,413 221.7,413.1 222.4,413.1 223.1,413.2 223.8,413.3 224.5,413.3 225.2,413.4 225.9,413.4 226.6,413.5 227.3,413.5 228,413.6 228.7,413.7 229.4,413.7 230.1,413.8 230.8,413.8 231.5,413.9 232.2,414 232.9,414 233.6,414.1 234.3,414.1 235,414.2 235.7,414.2 236.4,414.3 237.1,414.4 237.8,414.4 238.5,414.5 239.2,414.5 239.9,414.6 240.6,414.6 241.3,414.7 242,414.8 242.7,414.8 243.4,414.9 244.1,414.9 244.8,415 245.5,415 246.2,415.1 246.9,415.2 247.6,415.2 248.3,415.3 249,415.3 249.7,415.4 250.4,415.5 251.1,415.5 251.8,415.6 252.5,415.6 253.2,415.7 253.9,415.7 254.6,415.8 255.3,415.9 256,415.9 256.7,416 257.4,416 258.1,416.1 258.8,416.1 259.5,416.2 260.2,416.3 260.9,416.3" fill="none" stroke="#2f78d8" stroke-width="1.5"/><path d="M34.8,393.8 C38.3,393.4 48.6,392.3 55.8,391.3 C62.9,390.3 70.4,389.3 77.7,388 C85,386.7 92.2,385.1 99.5,383.7 C106.8,382.2 116.3,380.4 121.3,379.3 C126.3,378.2 127.5,377.8 129.6,377 C131.7,376.2 132.7,375.5 134,374.5 C135.3,373.5 136.2,372.7 137.5,370.8 C138.8,368.9 140.2,366.5 141.5,363 C142.8,359.5 144.1,355 145.3,350 C146.5,345 147.6,338.8 148.5,333 C149.4,327.2 150.2,320.5 151,315 C151.8,309.5 152.4,305.8 153.2,300 C154,294.2 155,284.9 155.7,280 C156.4,275.1 156.9,272.6 157.5,270.5 C158.1,268.4 158.6,267.4 159.2,267.2 C159.8,266.9 160.4,267.8 161,269 C161.6,270.2 162,271.5 162.7,274.2 C163.4,276.9 164.1,280.6 165,285 C165.9,289.4 167,295.5 167.9,300.3 C168.8,305.1 169.6,310.5 170.5,314 C171.4,317.5 172.3,320.8 173.1,321.3 C173.9,321.8 174.6,319.3 175.5,317 C176.4,314.7 177.5,311.1 178.4,307.3 C179.3,303.5 180.1,298.1 181,294 C181.9,289.9 182.8,285.9 183.6,282.9 C184.3,279.9 184.9,277.4 185.5,276 C186.1,274.6 186.5,274.1 187.1,274.2 C187.7,274.3 188.2,275.1 188.8,276.5 C189.4,277.9 190,279.5 190.6,282.9 C191.2,286.3 191.8,291.2 192.4,297 C193,302.8 193.5,311.1 194.1,317.8 C194.7,324.5 195.2,330.5 195.8,337 C196.4,343.5 197,351.8 197.6,357 C198.2,362.2 198.9,365.1 199.5,368.5 C200.1,371.9 200.5,374.8 201.1,377.5 C201.7,380.2 202.2,382.8 203,385 C203.8,387.2 204.7,389.1 205.7,390.8 C206.7,392.6 207.7,394.1 209,395.5 C210.3,396.9 211.6,398.3 213.3,399.5 C215,400.7 216.9,401.8 219,402.8 C221.1,403.8 223.3,404.5 225.6,405.3 C227.9,406.1 230.4,406.9 233,407.6 C235.6,408.3 238.1,408.8 240.9,409.4 C243.7,410 246.6,410.7 250,411.4 C253.4,412.1 259.5,413.1 261.4,413.4" fill="none" stroke="#ee5656" stroke-width="1.5"/><rect x="34.1" y="236.4" width="228.1" height="183.7" fill="none" stroke="#111" stroke-width="1.3"/><line x1="39.4" y1="420.1" x2="39.4" y2="423.4" stroke="#111" stroke-width="1.1"/><line x1="95.1" y1="420.1" x2="95.1" y2="423.4" stroke="#111" stroke-width="1.1"/><line x1="150.8" y1="420.1" x2="150.8" y2="423.4" stroke="#111" stroke-width="1.1"/><line x1="206.5" y1="420.1" x2="206.5" y2="423.4" stroke="#111" stroke-width="1.1"/><line x1="262.2" y1="420.1" x2="262.2" y2="423.4" stroke="#111" stroke-width="1.1"/><line x1="67.2" y1="420.1" x2="67.2" y2="422.1" stroke="#111" stroke-width="1.1"/><line x1="123" y1="420.1" x2="123" y2="422.1" stroke="#111" stroke-width="1.1"/><line x1="178.7" y1="420.1" x2="178.7" y2="422.1" stroke="#111" stroke-width="1.1"/><line x1="234.4" y1="420.1" x2="234.4" y2="422.1" stroke="#111" stroke-width="1.1"/><text x="39.4" y="433.9" font-size="10.5" text-anchor="middle" >410</text><text x="95.1" y="433.9" font-size="10.5" text-anchor="middle" >405</text><text x="150.8" y="433.9" font-size="10.5" text-anchor="middle" >400</text><text x="206.5" y="433.9" font-size="10.5" text-anchor="middle" >395</text><text x="262.2" y="433.9" font-size="10.5" text-anchor="middle" >390</text><text x="148" y="451" font-size="10.3" text-anchor="middle" >Binding Energy (eV)</text><text x="0" y="0" font-size="10.5" text-anchor="middle" transform="translate(25.2,328.6) rotate(-90)">Intensity (a.u.)</text><text x="1.8" y="263.2" font-size="21" text-anchor="start" >c</text><text x="48.5" y="254.8" font-size="10.4" text-anchor="start" >N1s</text><text x="102.5" y="275.5" font-size="9.4" text-anchor="start" >graphite-N</text><line x1="142" y1="280" x2="154" y2="292" stroke="#111" stroke-width="0.7"/><polygon points="157.5,295.5 152.8,293.1 155.1,290.8" fill="#111"/><text x="209.4" y="307.5" font-size="9.6" text-anchor="start" >pyridine-N</text><line x1="205" y1="302" x2="191.9" y2="315.9" stroke="#111" stroke-width="0.7"/><polygon points="188.5,319.5 190.8,314.8 193.1,317" fill="#111"/><text x="212.9" y="367.8" font-size="9.4" text-anchor="start" >pyrrole-N</text><line x1="203" y1="362" x2="190.1" y2="374.1" stroke="#111" stroke-width="0.7"/><polygon points="186.5,377.5 189,372.9 191.2,375.2" fill="#111"/><text x="72.5" y="366.8" font-size="9.3" text-anchor="start" >C-N</text><line x1="85" y1="370" x2="93.8" y2="387.5" stroke="#111" stroke-width="0.7"/><polygon points="96,392 92.3,388.2 95.2,386.8" fill="#111"/><polyline points="309.3,399.8 309.8,399.8 310.2,400.4 310.6,399.7 311.1,399.9 311.5,399.4 312,401.1 312.4,399.2 312.9,394.1 313.3,389 313.8,384.4 314.2,389.5 314.7,394.6 315.1,399.6 315.6,396.9 316,392.8 316.5,392.9 316.9,396.9 317.4,400.4 317.8,400.2 318.3,400.2 318.7,397.7 319.2,393.6 319.6,391.6 320.1,395.7 320.5,399.8 321,400.4 321.4,399.3 321.9,399.2 322.3,399.9 322.8,400 323.2,400.6 323.7,395 324.1,389.1 324.6,389.6 325,395.5 325.5,400.7 325.9,398.9 326.4,398 326.8,394.9 327.3,391.8 327.7,389.9 328.2,393 328.6,396.1 329.1,398.7 329.5,400.7 330,400.6 330.4,399.4 330.9,395.6 331.3,391.2 331.8,386.8 332.2,385.2 332.7,389.6 333.1,393.9 333.6,398.2 334,399 334.5,399.6 334.9,399.6 335.4,399.1 335.8,398.9 336.3,396.8 336.7,394.6 337.2,395.2 337.6,397.3 338.1,399.4 338.5,399.3 339,397.1 339.4,392.2 339.9,387.2 340.3,389.9 340.8,394.8 341.2,397.4 341.7,395.7 342.1,394.6 342.6,396.3 343,397.9 343.5,398 343.9,399.4 344.4,399.1 344.8,397.6 345.3,397.9 345.7,394.5 346.2,390 346.6,385.6 347.1,385.5 347.5,389.9 348,394.3 348.4,388.4 348.9,382 349.3,386.1 349.8,392.3 350.2,398.1 350.7,398.1 351.1,398.8 351.6,398.7 352,397.7 352.5,394 352.9,389 353.4,384.1 353.8,381.3 354.3,386.2 354.7,391 355.2,395.8 355.6,396.5 356.1,393.8 356.5,391.2 357,393 357.4,395.5 357.9,397.1 358.3,396.9 358.8,397.8 359.2,397.1 359.7,396.8 360.1,397.4 360.6,396.4 361,387.9 361.5,379.6 361.9,388.4 362.4,396.5 362.8,397 363.3,391 363.7,385 364.2,388 364.6,393.7 365.1,393.2 365.5,388.6 366,383.9 366.4,385.8 366.9,390.1 367.3,394.4 367.8,395.3 368.2,393.4 368.7,394.1 369.1,391.7 369.6,388.1 370,384.5 370.5,387.3 370.9,390.4 371.4,391.4 371.8,391.8 372.3,392 372.7,391.1 373.2,385.8 373.6,380.5 374.1,379.5 374.5,384.2 375,388.9 375.4,389.7 375.9,389 376.3,383.6 376.8,374.2 377.2,372.6 377.7,381.4 378.1,388.1 378.6,386.5 379,386.4 379.5,383.8 379.9,377.8 380.4,371.8 380.8,368.9 381.3,374.1 381.7,379.4 382.2,384.6 382.6,382.1 383.1,377 383.5,379 384,381.7 384.4,382 384.9,380.8 385.3,381.5 385.8,377.7 386.2,373.2 386.7,374.5 387.1,377.5 387.6,378.4 388,377.2 388.5,377.5 388.9,376 389.4,375.6 389.8,374.9 390.3,368.9 390.7,362.7 391.2,356.5 391.6,360.2" fill="none" stroke="#b0b0b0" stroke-width="0.7"/><path d="M391.8,373.4V366.1M393.1,371.3V362.2M394.9,368.0V356.4M396.0,366.1V362.4M397.8,362.6V351.6M398.9,360.2V343.3M400.4,356.4V353.8M401.6,352.7V337.5M403.3,346.5V335.3M404.4,342.2V329.2M406.0,336.2V333.4M407.3,331.0V326.2M408.7,325.0V317.1M410.4,316.6V313.5M411.4,312.0V300.7M412.9,305.5V298.8M414.2,300.9V289.6M416.0,295.1V289.7M417.4,290.9V285.5M418.7,287.5V276.4M420.1,284.5V269.8M421.3,282.2V273.6M423.0,279.1V274.0M423.9,277.7V271.5M425.5,275.5V266.6M427.1,273.4V271.0M428.4,271.8V260.2M429.9,270.2V257.3M431.4,268.7V256.0M432.7,267.5V261.9M434.2,266.2V263.7M435.5,265.2V263.3M436.7,264.4V259.1M438.1,263.5V261.6M439.6,262.6V256.4M441.1,261.5V255.9M442.4,260.7V259.0M443.8,259.9V255.8M445.0,259.3V245.3M446.8,259.1V256.3M448.3,260.1V255.4M449.2,261.3V253.3M450.6,264.7V253.0M452.3,270.5V260.7M453.6,277.2V265.7M455.2,285.3V283.1M456.3,291.5V285.9M458.0,303.0V300.7M459.3,312.6V308.8M460.8,322.2V314.3M461.8,328.6V322.2M463.5,339.1V329.8M464.8,346.7V339.8M465.9,352.1V351.6M467.8,359.7V359.2M469.1,364.1V363.6M470.4,367.7V367.2M471.8,371.0V370.5M473.0,373.7V373.2M474.3,376.4V375.9M476.1,379.6V379.1M477.7,382.2V381.7M478.7,383.6V383.1M480.0,385.5V374.0M481.8,387.8V387.3M482.8,388.9V388.4M484.6,390.8V390.3M485.6,391.7V391.2M487.4,393.3V392.8M488.5,394.1V393.6M490.2,395.3V394.8M491.3,396.1V395.6M492.7,397.1V396.6M494.0,398.0V388.4M495.7,398.9V398.4M497.1,399.8V399.3M498.7,400.6V400.1M499.8,401.2V400.7M501.1,401.9V401.4M502.3,402.5V402.0M503.8,403.1V402.6M505.7,403.8V403.3M506.5,404.1V403.6M508.0,404.6V404.1M509.3,405.0V404.5M511.2,405.6V405.1M512.4,406.0V405.5M513.9,406.4V405.9M515.2,406.8V406.3M516.6,407.2V406.7M518.2,407.6V407.1M519.2,407.8V407.3M520.8,408.2V407.7M522.1,408.4V407.9M523.4,408.7V408.2M525.0,408.9V408.4M526.6,409.2V408.7M528.1,409.4V408.9M529.3,409.6V409.1M530.3,409.8V409.3M532.1,410.0V409.5M533.4,410.2V409.7M534.8,410.4V409.9M536.1,410.6V410.1" stroke="#bdbdbd" stroke-width="0.75" fill="none"/><polyline points="377.1,387.4 379.5,385.6 379.6,386.1 379.7,384.9 380.6,384.1 381.5,383 382.5,383.1 383.7,380.7 383.5,381.4 383.4,380.2 386.1,378.7 386.4,377.8 386.3,377.3 387,376.5 387.8,374.5 389.6,373.8 390.3,372.6 389,371.2 390.1,369.6 392.3,367.9 391.5,368.5 391.9,366.6 394.3,364.2 394,363.3 395.8,362 396.7,361.6 396.6,360.6 396.7,358.6 398.2,355.9 398.5,353.6 398.7,351.4 399.6,348.9 399.5,347.8 400.5,344.8 401.2,341.5 401.7,340.1 403.6,336.3 402.8,333.6 405.8,331.1 406.4,328.3 405.3,326 405.7,321.6 408.1,319.2 408.3,314.5 408.6,312.5 410.7,309.3 409.5,306.1 410.8,303.1 411.2,300.5 413.2,297.3 413,295.5 413,292.8 415.7,291.8 416,289.4 414.9,286.9 417.7,286.4 416.5,283.9 418.2,282.9 419.5,280.8 419.6,279.4 419.8,279.8 421.2,278.3 420.5,276.4 423.3,276.2 423.2,274.5 423.4,273.7 424.6,273.6 424.8,272.1 426.8,271 425.1,271 427.9,269 428.3,269.1 428.4,268.4 429,267.1 428.7,265.6 431.7,265.8 430.6,264.5 431.3,264.4 432.3,264.4 433.9,263.1 433.1,262.3 434.3,263.1 434.8,261.8 436.1,261.5 437.2,261.3 437.8,261.8 438.7,260.8 437.7,260 440,260.1 441,259.4 442,259.6 440.8,258.3 442.6,257.7 443.6,258.3 444.9,257.9 445,257.1" fill="none" stroke="#c8c8c8" stroke-width="0.7"/><path d="M308.9,401.8 309.6,401.8 310.3,401.7 311,401.7 311.7,401.7 312.4,401.7 313.1,401.7 313.8,401.6 314.5,401.6 315.2,401.6 315.9,401.6 316.6,401.5 317.3,401.5 318,401.5 318.7,401.5 319.4,401.4 320.1,401.4 320.8,401.4 321.5,401.4 322.2,401.3 322.9,401.3 323.6,401.3 324.3,401.3 325,401.2 325.7,401.2 326.4,401.2 327.1,401.1 327.8,401.1 328.5,401.1 329.2,401 329.9,401 330.6,401 331.3,400.9 332,400.9 332.7,400.9 333.4,400.8 334.1,400.8 334.8,400.7 335.5,400.7 336.2,400.6 336.9,400.6 337.6,400.5 338.3,400.5 339,400.5 339.7,400.4 340.4,400.4 341.1,400.3 341.8,400.3 342.5,400.2 343.2,400.2 343.9,400.1 344.6,400 345.3,400 346,399.9 346.7,399.9 347.4,399.8 348.1,399.8 348.8,399.7 349.5,399.6 350.2,399.6 350.9,399.5 351.6,399.4 352.3,399.4 353,399.3 353.7,399.2 354.4,399.2 355.1,399.1 355.8,399 356.5,398.9 357.2,398.8 357.9,398.7 358.6,398.6 359.3,398.4 360,398.3 360.7,398.1 361.4,398 362.1,397.8 362.8,397.6 363.5,397.3 364.2,397.1 364.9,396.8 365.6,396.6 366.3,396.3 367,396 367.7,395.6 368.4,395.3 369.1,395 369.8,394.6 370.5,394.2 371.2,393.8 371.9,393.3 372.6,392.9 373.3,392.4 374,392 374.7,391.5 375.4,391 376.1,390.6 376.8,390.1 377.5,389.6 378.2,389.1 378.9,388.6 379.6,388.1 380.3,387.5 381,386.9 381.7,386.3 382.4,385.6 383.1,384.9 383.8,384.1 384.5,383.3 385.2,382.5 385.9,381.6 386.6,380.7 387.3,379.8 388,378.8 388.7,377.8 389.4,376.8 390.1,375.7 390.8,374.6 391.5,373.5 392.2,372.3 392.9,371.1 393.6,369.9 394.3,368.7 395,367.4 395.7,366.1 396.4,364.8 397.1,363.5 397.8,362.1 398.5,360.6 399.2,359.1 399.9,357.3 400.6,355.4 401.3,353.2 402,350.7 402.7,348.1 403.4,345.5 404.1,342.9 404.8,340.3 405.5,337.7 406.2,335.1 406.9,332.3 407.6,329.4 408.3,326.3 409,323 409.7,319.6 410.4,316.2 411.1,312.8 411.8,309.5 412.5,306.5 413.2,303.7 413.9,301.3 414.6,299.1 415.3,296.9 416,294.7 416.7,292.5 417.4,290.4 418.1,288.5 418.8,286.8 419.5,285.3 420.2,283.8 420.9,282.5 421.6,281.1 422.3,279.9 423,278.7 423.7,277.6 424.4,276.5 425.1,275.5 425.8,274.5 426.5,273.6 427.2,272.7 427.9,271.9 428.6,271.1 429.3,270.3 430,269.6 430.7,268.9 431.4,268.2 432.1,267.5 432.8,266.9 433.5,266.3 434.2,265.7 434.9,265.2 435.6,264.7 436.3,264.2 437,263.7 437.7,263.2 438.4,262.8 439.1,262.4 439.8,261.9 440.5,261.5 441.2,261 441.9,260.5 442.6,260.1 443.3,259.6 444,259.2 444.7,258.9 445.4,258.6 446.1,258.5 446.8,258.6 447.5,259 448.2,259.5 448.9,260.2 449.6,261.5 450.3,263.3 451,265.3 451.7,267.6 452.4,270.4 453.1,274.2 453.8,278 454.5,281.3 455.2,284.6 455.9,288.5 456.6,292.9 457.3,297.7 458,302.9 458.7,308.1 459.4,313.1 460.1,317.4 460.8,321.7 461.5,326.1 462.2,330.4 462.9,334.8 463.6,339.1 464.3,343.4 465,347.5 465.7,350.9 466.4,354.1 467.1,357 467.8,359.7 468.5,362 469.2,364.1 469.9,366 470.6,367.9 471.3,369.6 472,371.3 472.7,372.8 473.4,374.4 474.1,375.8 474.8,377.1 475.5,378.4 476.2,379.6 476.9,380.8 477.6,381.9 478.3,382.9 479,383.9 479.7,384.9 480.4,385.8 481.1,386.7 481.8,387.5 482.5,388.4 483.2,389.1 483.9,389.9 484.6,390.6 485.3,391.3 486,391.9 486.7,392.5 487.4,393.1 488.1,393.6 488.8,394.1 489.5,394.6 490.2,395.1 490.9,395.6 491.6,396.1 492.3,396.6 493,397.1 493.7,397.5 494.4,398 495.1,398.4 495.8,398.8 496.5,399.2 497.2,399.6 497.9,400 498.6,400.4 499.3,400.8 500,401.1 500.7,401.5 501.4,401.8 502.1,402.2 502.8,402.5 503.5,402.8 504.2,403.1 504.9,403.3 505.6,403.6 506.3,403.8 507,404.1 507.7,404.3 508.4,404.5 509.1,404.8 509.8,405 510.5,405.2 511.2,405.4 511.9,405.7 512.6,405.9 513.3,406.1 514,406.3 514.7,406.5 515.4,406.7 516.1,406.8 516.8,407 517.5,407.2 518.2,407.4 518.9,407.5 519.6,407.7 520.3,407.9 521,408 521.7,408.2 522.4,408.3 523.1,408.4 523.8,408.5 524.5,408.7 525.2,408.8 525.9,408.9 526.6,409 527.3,409.1 528,409.2 528.7,409.3 529.4,409.4 530.1,409.5 530.8,409.6 531.5,409.7 532.2,409.8 532.9,409.9 533.6,410 534.3,410.1 535,410.2 535.7,410.3 536.4,410.4 537.1,410.5 L537.1,414.8 536.4,414.8 535.7,414.8 535,414.7 534.3,414.7 533.6,414.7 532.9,414.7 532.2,414.6 531.5,414.6 530.8,414.6 530.1,414.6 529.4,414.5 528.7,414.5 528,414.5 527.3,414.5 526.6,414.5 525.9,414.4 525.2,414.4 524.5,414.4 523.8,414.4 523.1,414.3 522.4,414.3 521.7,414.3 521,414.3 520.3,414.3 519.6,414.2 518.9,414.2 518.2,414.2 517.5,414.2 516.8,414.1 516.1,414.1 515.4,414.1 514.7,414.1 514,414 513.3,414 512.6,414 511.9,414 511.2,413.9 510.5,413.9 509.8,413.9 509.1,413.9 508.4,413.8 507.7,413.8 507,413.8 506.3,413.8 505.6,413.7 504.9,413.7 504.2,413.7 503.5,413.6 502.8,413.6 502.1,413.6 501.4,413.6 500.7,413.5 500,413.5 499.3,413.5 498.6,413.4 497.9,413.4 497.2,413.4 496.5,413.3 495.8,413.3 495.1,413.3 494.4,413.3 493.7,413.2 493,413.2 492.3,413.2 491.6,413.1 490.9,413.1 490.2,413.1 489.5,413 488.8,413 488.1,413 487.4,412.9 486.7,412.9 486,412.9 485.3,412.8 484.6,412.8 483.9,412.8 483.2,412.7 482.5,412.7 481.8,412.7 481.1,412.6 480.4,412.6 479.7,412.6 479,412.5 478.3,412.5 477.6,412.4 476.9,412.4 476.2,412.4 475.5,412.3 474.8,412.3 474.1,412.3 473.4,412.2 472.7,412.2 472,412.2 471.3,412.1 470.6,412.1 469.9,412 469.2,412 468.5,412 467.8,411.9 467.1,411.9 466.4,411.9 465.7,411.8 465,411.8 464.3,411.7 463.6,411.7 462.9,411.7 462.2,411.6 461.5,411.6 460.8,411.5 460.1,411.5 459.4,411.5 458.7,411.4 458,411.4 457.3,411.3 456.6,411.3 455.9,411.3 455.2,411.2 454.5,411.2 453.8,411.1 453.1,411.1 452.4,411 451.7,411 451,410.9 450.3,410.9 449.6,410.9 448.9,410.8 448.2,410.8 447.5,410.7 446.8,410.7 446.1,410.6 445.4,410.6 444.7,410.5 444,410.5 443.3,410.4 442.6,410.4 441.9,410.3 441.2,410.3 440.5,410.2 439.8,410.2 439.1,410.1 438.4,410.1 437.7,410 437,410 436.3,409.9 435.6,409.9 434.9,409.8 434.2,409.8 433.5,409.7 432.8,409.7 432.1,409.6 431.4,409.6 430.7,409.5 430,409.5 429.3,409.5 428.6,409.4 427.9,409.4 427.2,409.3 426.5,409.3 425.8,409.2 425.1,409.2 424.4,409.1 423.7,409.1 423,409 422.3,409 421.6,408.9 420.9,408.9 420.2,408.8 419.5,408.8 418.8,408.7 418.1,408.7 417.4,408.6 416.7,408.6 416,408.5 415.3,408.5 414.6,408.4 413.9,408.4 413.2,408.3 412.5,408.3 411.8,408.2 411.1,408.2 410.4,408.1 409.7,408.1 409,408.1 408.3,408 407.6,408 406.9,407.9 406.2,407.9 405.5,407.8 404.8,407.8 404.1,407.7 403.4,407.7 402.7,407.7 402,407.6 401.3,407.6 400.6,407.5 399.9,407.5 399.2,407.5 398.5,407.4 397.8,407.4 397.1,407.3 396.4,407.3 395.7,407.3 395,407.2 394.3,407.2 393.6,407.1 392.9,407.1 392.2,407.1 391.5,407 390.8,407 390.1,406.9 389.4,406.9 388.7,406.9 388,406.8 387.3,406.8 386.6,406.7 385.9,406.7 385.2,406.7 384.5,406.6 383.8,406.6 383.1,406.5 382.4,406.5 381.7,406.5 381,406.4 380.3,406.4 379.6,406.4 378.9,406.3 378.2,406.3 377.5,406.3 376.8,406.2 376.1,406.2 375.4,406.2 374.7,406.1 374,406.1 373.3,406.1 372.6,406 371.9,406 371.2,406 370.5,405.9 369.8,405.9 369.1,405.9 368.4,405.8 367.7,405.8 367,405.8 366.3,405.7 365.6,405.7 364.9,405.7 364.2,405.7 363.5,405.6 362.8,405.6 362.1,405.6 361.4,405.6 360.7,405.5 360,405.5 359.3,405.5 358.6,405.5 357.9,405.4 357.2,405.4 356.5,405.4 355.8,405.4 355.1,405.3 354.4,405.3 353.7,405.3 353,405.3 352.3,405.3 351.6,405.2 350.9,405.2 350.2,405.2 349.5,405.2 348.8,405.2 348.1,405.1 347.4,405.1 346.7,405.1 346,405.1 345.3,405.1 344.6,405 343.9,405 343.2,405 342.5,405 341.8,405 341.1,404.9 340.4,404.9 339.7,404.9 339,404.9 338.3,404.9 337.6,404.9 336.9,404.8 336.2,404.8 335.5,404.8 334.8,404.8 334.1,404.8 333.4,404.8 332.7,404.7 332,404.7 331.3,404.7 330.6,404.7 329.9,404.7 329.2,404.7 328.5,404.7 327.8,404.6 327.1,404.6 326.4,404.6 325.7,404.6 325,404.6 324.3,404.6 323.6,404.5 322.9,404.5 322.2,404.5 321.5,404.5 320.8,404.5 320.1,404.5 319.4,404.4 318.7,404.4 318,404.4 317.3,404.4 316.6,404.4 315.9,404.4 315.2,404.4 314.5,404.3 313.8,404.3 313.1,404.3 312.4,404.3 311.7,404.3 311,404.3 310.3,404.2 309.6,404.2 308.9,404.2 Z" fill="url(#g14)" /><path d="M308.9,404 309.6,404 310.3,404 311,404 311.7,404 312.4,404 313.1,404 313.8,404.1 314.5,404.1 315.2,404.1 315.9,404.1 316.6,404.1 317.3,404.1 318,404.1 318.7,404.1 319.4,404.2 320.1,404.2 320.8,404.2 321.5,404.2 322.2,404.2 322.9,404.2 323.6,404.2 324.3,404.2 325,404.2 325.7,404.3 326.4,404.3 327.1,404.3 327.8,404.3 328.5,404.3 329.2,404.3 329.9,404.3 330.6,404.3 331.3,404.3 332,404.4 332.7,404.4 333.4,404.4 334.1,404.4 334.8,404.4 335.5,404.4 336.2,404.4 336.9,404.4 337.6,404.4 338.3,404.5 339,404.5 339.7,404.5 340.4,404.5 341.1,404.5 341.8,404.5 342.5,404.5 343.2,404.5 343.9,404.5 344.6,404.6 345.3,404.6 346,404.6 346.7,404.6 347.4,404.6 348.1,404.6 348.8,404.6 349.5,404.6 350.2,404.6 350.9,404.6 351.6,404.7 352.3,404.7 353,404.7 353.7,404.7 354.4,404.7 355.1,404.7 355.8,404.7 356.5,404.7 357.2,404.7 357.9,404.8 358.6,404.8 359.3,404.8 360,404.8 360.7,404.8 361.4,404.8 362.1,404.8 362.8,404.8 363.5,404.8 364.2,404.9 364.9,404.9 365.6,404.9 366.3,404.9 367,404.9 367.7,404.9 368.4,404.9 369.1,404.9 369.8,404.9 370.5,404.9 371.2,404.9 371.9,404.9 372.6,404.9 373.3,404.9 374,404.9 374.7,404.9 375.4,404.9 376.1,404.9 376.8,404.9 377.5,404.9 378.2,404.8 378.9,404.8 379.6,404.8 380.3,404.7 381,404.7 381.7,404.6 382.4,404.5 383.1,404.5 383.8,404.4 384.5,404.3 385.2,404.1 385.9,404 386.6,403.9 387.3,403.7 388,403.5 388.7,403.3 389.4,403 390.1,402.8 390.8,402.5 391.5,402.1 392.2,401.8 392.9,401.4 393.6,401 394.3,400.5 395,400 395.7,399.4 396.4,398.8 397.1,398.1 397.8,397.4 398.5,396.6 399.2,395.8 399.9,394.9 400.6,394 401.3,393 402,391.9 402.7,390.7 403.4,389.5 404.1,388.3 404.8,386.9 405.5,385.5 406.2,384.1 406.9,382.5 407.6,380.9 408.3,379.3 409,377.6 409.7,375.8 410.4,374 411.1,372.1 411.8,370.2 412.5,368.3 413.2,366.3 413.9,364.4 414.6,362.4 415.3,360.4 416,358.4 416.7,356.4 417.4,354.4 418.1,352.5 418.8,350.6 419.5,348.7 420.2,346.9 420.9,345.2 421.6,343.5 422.3,342 423,340.5 423.7,339.2 424.4,338 425.1,336.9 425.8,335.9 426.5,335.1 427.2,334.5 427.9,334 428.6,333.7 429.3,333.5 430,333.5 430.7,333.7 431.4,334 432.1,334.6 432.8,335.2 433.5,336.1 434.2,337 434.9,338.2 435.6,339.4 436.3,340.8 437,342.3 437.7,343.9 438.4,345.7 439.1,347.4 439.8,349.3 440.5,351.2 441.2,353.2 441.9,355.2 442.6,357.3 443.3,359.4 444,361.5 444.7,363.6 445.4,365.7 446.1,367.8 446.8,369.8 447.5,371.9 448.2,373.9 448.9,375.8 449.6,377.8 450.3,379.7 451,381.5 451.7,383.2 452.4,385 453.1,386.6 453.8,388.2 454.5,389.7 455.2,391.2 455.9,392.5 456.6,393.9 457.3,395.1 458,396.3 458.7,397.4 459.4,398.5 460.1,399.5 460.8,400.4 461.5,401.3 462.2,402.1 462.9,402.9 463.6,403.6 464.3,404.2 465,404.9 465.7,405.4 466.4,406 467.1,406.4 467.8,406.9 468.5,407.3 469.2,407.7 469.9,408.1 470.6,408.4 471.3,408.7 472,409 472.7,409.2 473.4,409.5 474.1,409.7 474.8,409.9 475.5,410.1 476.2,410.2 476.9,410.4 477.6,410.5 478.3,410.7 479,410.8 479.7,410.9 480.4,411 481.1,411.1 481.8,411.2 482.5,411.3 483.2,411.4 483.9,411.5 484.6,411.6 485.3,411.7 486,411.7 486.7,411.8 487.4,411.9 488.1,411.9 488.8,412 489.5,412 490.2,412.1 490.9,412.2 491.6,412.2 492.3,412.3 493,412.3 493.7,412.4 494.4,412.4 495.1,412.5 495.8,412.5 496.5,412.6 497.2,412.6 497.9,412.7 498.6,412.7 499.3,412.8 500,412.8 500.7,412.8 501.4,412.9 502.1,412.9 502.8,413 503.5,413 504.2,413 504.9,413.1 505.6,413.1 506.3,413.2 507,413.2 507.7,413.2 508.4,413.3 509.1,413.3 509.8,413.3 510.5,413.4 511.2,413.4 511.9,413.4 512.6,413.5 513.3,413.5 514,413.5 514.7,413.6 515.4,413.6 516.1,413.6 516.8,413.7 517.5,413.7 518.2,413.7 518.9,413.8 519.6,413.8 520.3,413.8 521,413.8 521.7,413.9 522.4,413.9 523.1,413.9 523.8,414 524.5,414 525.2,414 525.9,414 526.6,414.1 527.3,414.1 528,414.1 528.7,414.2 529.4,414.2 530.1,414.2 530.8,414.2 531.5,414.3 532.2,414.3 532.9,414.3 533.6,414.4 534.3,414.4 535,414.4 535.7,414.4 536.4,414.5 537.1,414.5 L537.1,414.8 536.4,414.8 535.7,414.8 535,414.7 534.3,414.7 533.6,414.7 532.9,414.7 532.2,414.6 531.5,414.6 530.8,414.6 530.1,414.6 529.4,414.5 528.7,414.5 528,414.5 527.3,414.5 526.6,414.5 525.9,414.4 525.2,414.4 524.5,414.4 523.8,414.4 523.1,414.3 522.4,414.3 521.7,414.3 521,414.3 520.3,414.3 519.6,414.2 518.9,414.2 518.2,414.2 517.5,414.2 516.8,414.1 516.1,414.1 515.4,414.1 514.7,414.1 514,414 513.3,414 512.6,414 511.9,414 511.2,413.9 510.5,413.9 509.8,413.9 509.1,413.9 508.4,413.8 507.7,413.8 507,413.8 506.3,413.8 505.6,413.7 504.9,413.7 504.2,413.7 503.5,413.6 502.8,413.6 502.1,413.6 501.4,413.6 500.7,413.5 500,413.5 499.3,413.5 498.6,413.4 497.9,413.4 497.2,413.4 496.5,413.3 495.8,413.3 495.1,413.3 494.4,413.3 493.7,413.2 493,413.2 492.3,413.2 491.6,413.1 490.9,413.1 490.2,413.1 489.5,413 488.8,413 488.1,413 487.4,412.9 486.7,412.9 486,412.9 485.3,412.8 484.6,412.8 483.9,412.8 483.2,412.7 482.5,412.7 481.8,412.7 481.1,412.6 480.4,412.6 479.7,412.6 479,412.5 478.3,412.5 477.6,412.4 476.9,412.4 476.2,412.4 475.5,412.3 474.8,412.3 474.1,412.3 473.4,412.2 472.7,412.2 472,412.2 471.3,412.1 470.6,412.1 469.9,412 469.2,412 468.5,412 467.8,411.9 467.1,411.9 466.4,411.9 465.7,411.8 465,411.8 464.3,411.7 463.6,411.7 462.9,411.7 462.2,411.6 461.5,411.6 460.8,411.5 460.1,411.5 459.4,411.5 458.7,411.4 458,411.4 457.3,411.3 456.6,411.3 455.9,411.3 455.2,411.2 454.5,411.2 453.8,411.1 453.1,411.1 452.4,411 451.7,411 451,410.9 450.3,410.9 449.6,410.9 448.9,410.8 448.2,410.8 447.5,410.7 446.8,410.7 446.1,410.6 445.4,410.6 444.7,410.5 444,410.5 443.3,410.4 442.6,410.4 441.9,410.3 441.2,410.3 440.5,410.2 439.8,410.2 439.1,410.1 438.4,410.1 437.7,410 437,410 436.3,409.9 435.6,409.9 434.9,409.8 434.2,409.8 433.5,409.7 432.8,409.7 432.1,409.6 431.4,409.6 430.7,409.5 430,409.5 429.3,409.5 428.6,409.4 427.9,409.4 427.2,409.3 426.5,409.3 425.8,409.2 425.1,409.2 424.4,409.1 423.7,409.1 423,409 422.3,409 421.6,408.9 420.9,408.9 420.2,408.8 419.5,408.8 418.8,408.7 418.1,408.7 417.4,408.6 416.7,408.6 416,408.5 415.3,408.5 414.6,408.4 413.9,408.4 413.2,408.3 412.5,408.3 411.8,408.2 411.1,408.2 410.4,408.1 409.7,408.1 409,408.1 408.3,408 407.6,408 406.9,407.9 406.2,407.9 405.5,407.8 404.8,407.8 404.1,407.7 403.4,407.7 402.7,407.7 402,407.6 401.3,407.6 400.6,407.5 399.9,407.5 399.2,407.5 398.5,407.4 397.8,407.4 397.1,407.3 396.4,407.3 395.7,407.3 395,407.2 394.3,407.2 393.6,407.1 392.9,407.1 392.2,407.1 391.5,407 390.8,407 390.1,406.9 389.4,406.9 388.7,406.9 388,406.8 387.3,406.8 386.6,406.7 385.9,406.7 385.2,406.7 384.5,406.6 383.8,406.6 383.1,406.5 382.4,406.5 381.7,406.5 381,406.4 380.3,406.4 379.6,406.4 378.9,406.3 378.2,406.3 377.5,406.3 376.8,406.2 376.1,406.2 375.4,406.2 374.7,406.1 374,406.1 373.3,406.1 372.6,406 371.9,406 371.2,406 370.5,405.9 369.8,405.9 369.1,405.9 368.4,405.8 367.7,405.8 367,405.8 366.3,405.7 365.6,405.7 364.9,405.7 364.2,405.7 363.5,405.6 362.8,405.6 362.1,405.6 361.4,405.6 360.7,405.5 360,405.5 359.3,405.5 358.6,405.5 357.9,405.4 357.2,405.4 356.5,405.4 355.8,405.4 355.1,405.3 354.4,405.3 353.7,405.3 353,405.3 352.3,405.3 351.6,405.2 350.9,405.2 350.2,405.2 349.5,405.2 348.8,405.2 348.1,405.1 347.4,405.1 346.7,405.1 346,405.1 345.3,405.1 344.6,405 343.9,405 343.2,405 342.5,405 341.8,405 341.1,404.9 340.4,404.9 339.7,404.9 339,404.9 338.3,404.9 337.6,404.9 336.9,404.8 336.2,404.8 335.5,404.8 334.8,404.8 334.1,404.8 333.4,404.8 332.7,404.7 332,404.7 331.3,404.7 330.6,404.7 329.9,404.7 329.2,404.7 328.5,404.7 327.8,404.6 327.1,404.6 326.4,404.6 325.7,404.6 325,404.6 324.3,404.6 323.6,404.5 322.9,404.5 322.2,404.5 321.5,404.5 320.8,404.5 320.1,404.5 319.4,404.4 318.7,404.4 318,404.4 317.3,404.4 316.6,404.4 315.9,404.4 315.2,404.4 314.5,404.3 313.8,404.3 313.1,404.3 312.4,404.3 311.7,404.3 311,404.3 310.3,404.2 309.6,404.2 308.9,404.2 Z" fill="url(#g15)" /><polyline points="308.9,404 309.6,404 310.3,404 311,404 311.7,404 312.4,404 313.1,404 313.8,404.1 314.5,404.1 315.2,404.1 315.9,404.1 316.6,404.1 317.3,404.1 318,404.1 318.7,404.1 319.4,404.2 320.1,404.2 320.8,404.2 321.5,404.2 322.2,404.2 322.9,404.2 323.6,404.2 324.3,404.2 325,404.2 325.7,404.3 326.4,404.3 327.1,404.3 327.8,404.3 328.5,404.3 329.2,404.3 329.9,404.3 330.6,404.3 331.3,404.3 332,404.4 332.7,404.4 333.4,404.4 334.1,404.4 334.8,404.4 335.5,404.4 336.2,404.4 336.9,404.4 337.6,404.4 338.3,404.5 339,404.5 339.7,404.5 340.4,404.5 341.1,404.5 341.8,404.5 342.5,404.5 343.2,404.5 343.9,404.5 344.6,404.6 345.3,404.6 346,404.6 346.7,404.6 347.4,404.6 348.1,404.6 348.8,404.6 349.5,404.6 350.2,404.6 350.9,404.6 351.6,404.7 352.3,404.7 353,404.7 353.7,404.7 354.4,404.7 355.1,404.7 355.8,404.7 356.5,404.7 357.2,404.7 357.9,404.8 358.6,404.8 359.3,404.8 360,404.8 360.7,404.8 361.4,404.8 362.1,404.8 362.8,404.8 363.5,404.8 364.2,404.9 364.9,404.9 365.6,404.9 366.3,404.9 367,404.9 367.7,404.9 368.4,404.9 369.1,404.9 369.8,404.9 370.5,404.9 371.2,404.9 371.9,404.9 372.6,404.9 373.3,404.9 374,404.9 374.7,404.9 375.4,404.9 376.1,404.9 376.8,404.9 377.5,404.9 378.2,404.8 378.9,404.8 379.6,404.8 380.3,404.7 381,404.7 381.7,404.6 382.4,404.5 383.1,404.5 383.8,404.4 384.5,404.3 385.2,404.1 385.9,404 386.6,403.9 387.3,403.7 388,403.5 388.7,403.3 389.4,403 390.1,402.8 390.8,402.5 391.5,402.1 392.2,401.8 392.9,401.4 393.6,401 394.3,400.5 395,400 395.7,399.4 396.4,398.8 397.1,398.1 397.8,397.4 398.5,396.6 399.2,395.8 399.9,394.9 400.6,394 401.3,393 402,391.9 402.7,390.7 403.4,389.5 404.1,388.3 404.8,386.9 405.5,385.5 406.2,384.1 406.9,382.5 407.6,380.9 408.3,379.3 409,377.6 409.7,375.8 410.4,374 411.1,372.1 411.8,370.2 412.5,368.3 413.2,366.3 413.9,364.4 414.6,362.4 415.3,360.4 416,358.4 416.7,356.4 417.4,354.4 418.1,352.5 418.8,350.6 419.5,348.7 420.2,346.9 420.9,345.2 421.6,343.5 422.3,342 423,340.5 423.7,339.2 424.4,338 425.1,336.9 425.8,335.9 426.5,335.1 427.2,334.5 427.9,334 428.6,333.7 429.3,333.5 430,333.5 430.7,333.7 431.4,334 432.1,334.6 432.8,335.2 433.5,336.1 434.2,337 434.9,338.2 435.6,339.4 436.3,340.8 437,342.3 437.7,343.9 438.4,345.7 439.1,347.4 439.8,349.3 440.5,351.2 441.2,353.2 441.9,355.2 442.6,357.3 443.3,359.4 444,361.5 444.7,363.6 445.4,365.7 446.1,367.8 446.8,369.8 447.5,371.9 448.2,373.9 448.9,375.8 449.6,377.8 450.3,379.7 451,381.5 451.7,383.2 452.4,385 453.1,386.6 453.8,388.2 454.5,389.7 455.2,391.2 455.9,392.5 456.6,393.9 457.3,395.1 458,396.3 458.7,397.4 459.4,398.5 460.1,399.5 460.8,400.4 461.5,401.3 462.2,402.1 462.9,402.9 463.6,403.6 464.3,404.2 465,404.9 465.7,405.4 466.4,406 467.1,406.4 467.8,406.9 468.5,407.3 469.2,407.7 469.9,408.1 470.6,408.4 471.3,408.7 472,409 472.7,409.2 473.4,409.5 474.1,409.7 474.8,409.9 475.5,410.1 476.2,410.2 476.9,410.4 477.6,410.5 478.3,410.7 479,410.8 479.7,410.9 480.4,411 481.1,411.1 481.8,411.2 482.5,411.3 483.2,411.4 483.9,411.5 484.6,411.6 485.3,411.7 486,411.7 486.7,411.8 487.4,411.9 488.1,411.9 488.8,412 489.5,412 490.2,412.1 490.9,412.2 491.6,412.2 492.3,412.3 493,412.3 493.7,412.4 494.4,412.4 495.1,412.5 495.8,412.5 496.5,412.6 497.2,412.6 497.9,412.7 498.6,412.7 499.3,412.8 500,412.8 500.7,412.8 501.4,412.9 502.1,412.9 502.8,413 503.5,413 504.2,413 504.9,413.1 505.6,413.1 506.3,413.2 507,413.2 507.7,413.2 508.4,413.3 509.1,413.3 509.8,413.3 510.5,413.4 511.2,413.4 511.9,413.4 512.6,413.5 513.3,413.5 514,413.5 514.7,413.6 515.4,413.6 516.1,413.6 516.8,413.7 517.5,413.7 518.2,413.7 518.9,413.8 519.6,413.8 520.3,413.8 521,413.8 521.7,413.9 522.4,413.9 523.1,413.9 523.8,414 524.5,414 525.2,414 525.9,414 526.6,414.1 527.3,414.1 528,414.1 528.7,414.2 529.4,414.2 530.1,414.2 530.8,414.2 531.5,414.3 532.2,414.3 532.9,414.3 533.6,414.4 534.3,414.4 535,414.4 535.7,414.4 536.4,414.5 537.1,414.5" fill="none" stroke="#dcc4f4" stroke-width="0.6"/><path d="M308.9,404.1 309.6,404.1 310.3,404.1 311,404.1 311.7,404.2 312.4,404.2 313.1,404.2 313.8,404.2 314.5,404.2 315.2,404.2 315.9,404.2 316.6,404.2 317.3,404.3 318,404.3 318.7,404.3 319.4,404.3 320.1,404.3 320.8,404.3 321.5,404.3 322.2,404.4 322.9,404.4 323.6,404.4 324.3,404.4 325,404.4 325.7,404.4 326.4,404.4 327.1,404.4 327.8,404.5 328.5,404.5 329.2,404.5 329.9,404.5 330.6,404.5 331.3,404.5 332,404.5 332.7,404.6 333.4,404.6 334.1,404.6 334.8,404.6 335.5,404.6 336.2,404.6 336.9,404.6 337.6,404.6 338.3,404.7 339,404.7 339.7,404.7 340.4,404.7 341.1,404.7 341.8,404.7 342.5,404.7 343.2,404.7 343.9,404.8 344.6,404.8 345.3,404.8 346,404.8 346.7,404.8 347.4,404.8 348.1,404.8 348.8,404.8 349.5,404.9 350.2,404.9 350.9,404.9 351.6,404.9 352.3,404.9 353,404.9 353.7,404.9 354.4,404.9 355.1,404.9 355.8,404.9 356.5,404.9 357.2,404.9 357.9,404.9 358.6,404.9 359.3,404.9 360,404.9 360.7,404.9 361.4,404.9 362.1,404.9 362.8,404.9 363.5,404.8 364.2,404.8 364.9,404.8 365.6,404.7 366.3,404.7 367,404.6 367.7,404.6 368.4,404.5 369.1,404.4 369.8,404.3 370.5,404.3 371.2,404.1 371.9,404 372.6,403.9 373.3,403.8 374,403.6 374.7,403.4 375.4,403.2 376.1,403 376.8,402.8 377.5,402.6 378.2,402.3 378.9,402 379.6,401.8 380.3,401.4 381,401.1 381.7,400.7 382.4,400.3 383.1,399.9 383.8,399.5 384.5,399 385.2,398.6 385.9,398 386.6,397.5 387.3,397 388,396.4 388.7,395.8 389.4,395.1 390.1,394.5 390.8,393.8 391.5,393.1 392.2,392.4 392.9,391.7 393.6,390.9 394.3,390.2 395,389.4 395.7,388.6 396.4,387.8 397.1,387 397.8,386.2 398.5,385.4 399.2,384.6 399.9,383.8 400.6,383 401.3,382.2 402,381.5 402.7,380.7 403.4,380 404.1,379.3 404.8,378.6 405.5,378 406.2,377.4 406.9,376.8 407.6,376.3 408.3,375.8 409,375.4 409.7,375 410.4,374.7 411.1,374.4 411.8,374.2 412.5,374 413.2,373.9 413.9,373.9 414.6,373.9 415.3,374 416,374.1 416.7,374.3 417.4,374.5 418.1,374.8 418.8,375.1 419.5,375.4 420.2,375.8 420.9,376.2 421.6,376.7 422.3,377.2 423,377.7 423.7,378.3 424.4,378.9 425.1,379.5 425.8,380.2 426.5,380.8 427.2,381.5 427.9,382.2 428.6,383 429.3,383.7 430,384.5 430.7,385.2 431.4,386 432.1,386.8 432.8,387.6 433.5,388.3 434.2,389.1 434.9,389.9 435.6,390.7 436.3,391.5 437,392.2 437.7,393 438.4,393.7 439.1,394.5 439.8,395.2 440.5,395.9 441.2,396.6 441.9,397.3 442.6,398 443.3,398.6 444,399.2 444.7,399.9 445.4,400.5 446.1,401 446.8,401.6 447.5,402.1 448.2,402.7 448.9,403.2 449.6,403.6 450.3,404.1 451,404.5 451.7,405 452.4,405.4 453.1,405.8 453.8,406.1 454.5,406.5 455.2,406.8 455.9,407.2 456.6,407.5 457.3,407.8 458,408 458.7,408.3 459.4,408.5 460.1,408.8 460.8,409 461.5,409.2 462.2,409.4 462.9,409.6 463.6,409.8 464.3,409.9 465,410.1 465.7,410.2 466.4,410.4 467.1,410.5 467.8,410.6 468.5,410.8 469.2,410.9 469.9,411 470.6,411.1 471.3,411.2 472,411.3 472.7,411.4 473.4,411.4 474.1,411.5 474.8,411.6 475.5,411.7 476.2,411.7 476.9,411.8 477.6,411.9 478.3,411.9 479,412 479.7,412.1 480.4,412.1 481.1,412.2 481.8,412.2 482.5,412.3 483.2,412.3 483.9,412.4 484.6,412.4 485.3,412.5 486,412.5 486.7,412.5 487.4,412.6 488.1,412.6 488.8,412.7 489.5,412.7 490.2,412.8 490.9,412.8 491.6,412.8 492.3,412.9 493,412.9 493.7,412.9 494.4,413 495.1,413 495.8,413.1 496.5,413.1 497.2,413.1 497.9,413.2 498.6,413.2 499.3,413.2 500,413.3 500.7,413.3 501.4,413.3 502.1,413.4 502.8,413.4 503.5,413.4 504.2,413.5 504.9,413.5 505.6,413.5 506.3,413.6 507,413.6 507.7,413.6 508.4,413.6 509.1,413.7 509.8,413.7 510.5,413.7 511.2,413.8 511.9,413.8 512.6,413.8 513.3,413.8 514,413.9 514.7,413.9 515.4,413.9 516.1,413.9 516.8,414 517.5,414 518.2,414 518.9,414 519.6,414.1 520.3,414.1 521,414.1 521.7,414.1 522.4,414.2 523.1,414.2 523.8,414.2 524.5,414.2 525.2,414.3 525.9,414.3 526.6,414.3 527.3,414.3 528,414.4 528.7,414.4 529.4,414.4 530.1,414.4 530.8,414.5 531.5,414.5 532.2,414.5 532.9,414.5 533.6,414.6 534.3,414.6 535,414.6 535.7,414.6 536.4,414.7 537.1,414.7 L537.1,414.8 536.4,414.8 535.7,414.8 535,414.7 534.3,414.7 533.6,414.7 532.9,414.7 532.2,414.6 531.5,414.6 530.8,414.6 530.1,414.6 529.4,414.5 528.7,414.5 528,414.5 527.3,414.5 526.6,414.5 525.9,414.4 525.2,414.4 524.5,414.4 523.8,414.4 523.1,414.3 522.4,414.3 521.7,414.3 521,414.3 520.3,414.3 519.6,414.2 518.9,414.2 518.2,414.2 517.5,414.2 516.8,414.1 516.1,414.1 515.4,414.1 514.7,414.1 514,414 513.3,414 512.6,414 511.9,414 511.2,413.9 510.5,413.9 509.8,413.9 509.1,413.9 508.4,413.8 507.7,413.8 507,413.8 506.3,413.8 505.6,413.7 504.9,413.7 504.2,413.7 503.5,413.6 502.8,413.6 502.1,413.6 501.4,413.6 500.7,413.5 500,413.5 499.3,413.5 498.6,413.4 497.9,413.4 497.2,413.4 496.5,413.3 495.8,413.3 495.1,413.3 494.4,413.3 493.7,413.2 493,413.2 492.3,413.2 491.6,413.1 490.9,413.1 490.2,413.1 489.5,413 488.8,413 488.1,413 487.4,412.9 486.7,412.9 486,412.9 485.3,412.8 484.6,412.8 483.9,412.8 483.2,412.7 482.5,412.7 481.8,412.7 481.1,412.6 480.4,412.6 479.7,412.6 479,412.5 478.3,412.5 477.6,412.4 476.9,412.4 476.2,412.4 475.5,412.3 474.8,412.3 474.1,412.3 473.4,412.2 472.7,412.2 472,412.2 471.3,412.1 470.6,412.1 469.9,412 469.2,412 468.5,412 467.8,411.9 467.1,411.9 466.4,411.9 465.7,411.8 465,411.8 464.3,411.7 463.6,411.7 462.9,411.7 462.2,411.6 461.5,411.6 460.8,411.5 460.1,411.5 459.4,411.5 458.7,411.4 458,411.4 457.3,411.3 456.6,411.3 455.9,411.3 455.2,411.2 454.5,411.2 453.8,411.1 453.1,411.1 452.4,411 451.7,411 451,410.9 450.3,410.9 449.6,410.9 448.9,410.8 448.2,410.8 447.5,410.7 446.8,410.7 446.1,410.6 445.4,410.6 444.7,410.5 444,410.5 443.3,410.4 442.6,410.4 441.9,410.3 441.2,410.3 440.5,410.2 439.8,410.2 439.1,410.1 438.4,410.1 437.7,410 437,410 436.3,409.9 435.6,409.9 434.9,409.8 434.2,409.8 433.5,409.7 432.8,409.7 432.1,409.6 431.4,409.6 430.7,409.5 430,409.5 429.3,409.5 428.6,409.4 427.9,409.4 427.2,409.3 426.5,409.3 425.8,409.2 425.1,409.2 424.4,409.1 423.7,409.1 423,409 422.3,409 421.6,408.9 420.9,408.9 420.2,408.8 419.5,408.8 418.8,408.7 418.1,408.7 417.4,408.6 416.7,408.6 416,408.5 415.3,408.5 414.6,408.4 413.9,408.4 413.2,408.3 412.5,408.3 411.8,408.2 411.1,408.2 410.4,408.1 409.7,408.1 409,408.1 408.3,408 407.6,408 406.9,407.9 406.2,407.9 405.5,407.8 404.8,407.8 404.1,407.7 403.4,407.7 402.7,407.7 402,407.6 401.3,407.6 400.6,407.5 399.9,407.5 399.2,407.5 398.5,407.4 397.8,407.4 397.1,407.3 396.4,407.3 395.7,407.3 395,407.2 394.3,407.2 393.6,407.1 392.9,407.1 392.2,407.1 391.5,407 390.8,407 390.1,406.9 389.4,406.9 388.7,406.9 388,406.8 387.3,406.8 386.6,406.7 385.9,406.7 385.2,406.7 384.5,406.6 383.8,406.6 383.1,406.5 382.4,406.5 381.7,406.5 381,406.4 380.3,406.4 379.6,406.4 378.9,406.3 378.2,406.3 377.5,406.3 376.8,406.2 376.1,406.2 375.4,406.2 374.7,406.1 374,406.1 373.3,406.1 372.6,406 371.9,406 371.2,406 370.5,405.9 369.8,405.9 369.1,405.9 368.4,405.8 367.7,405.8 367,405.8 366.3,405.7 365.6,405.7 364.9,405.7 364.2,405.7 363.5,405.6 362.8,405.6 362.1,405.6 361.4,405.6 360.7,405.5 360,405.5 359.3,405.5 358.6,405.5 357.9,405.4 357.2,405.4 356.5,405.4 355.8,405.4 355.1,405.3 354.4,405.3 353.7,405.3 353,405.3 352.3,405.3 351.6,405.2 350.9,405.2 350.2,405.2 349.5,405.2 348.8,405.2 348.1,405.1 347.4,405.1 346.7,405.1 346,405.1 345.3,405.1 344.6,405 343.9,405 343.2,405 342.5,405 341.8,405 341.1,404.9 340.4,404.9 339.7,404.9 339,404.9 338.3,404.9 337.6,404.9 336.9,404.8 336.2,404.8 335.5,404.8 334.8,404.8 334.1,404.8 333.4,404.8 332.7,404.7 332,404.7 331.3,404.7 330.6,404.7 329.9,404.7 329.2,404.7 328.5,404.7 327.8,404.6 327.1,404.6 326.4,404.6 325.7,404.6 325,404.6 324.3,404.6 323.6,404.5 322.9,404.5 322.2,404.5 321.5,404.5 320.8,404.5 320.1,404.5 319.4,404.4 318.7,404.4 318,404.4 317.3,404.4 316.6,404.4 315.9,404.4 315.2,404.4 314.5,404.3 313.8,404.3 313.1,404.3 312.4,404.3 311.7,404.3 311,404.3 310.3,404.2 309.6,404.2 308.9,404.2 Z" fill="url(#g16)" /><polyline points="308.9,404.1 309.6,404.1 310.3,404.1 311,404.1 311.7,404.2 312.4,404.2 313.1,404.2 313.8,404.2 314.5,404.2 315.2,404.2 315.9,404.2 316.6,404.2 317.3,404.3 318,404.3 318.7,404.3 319.4,404.3 320.1,404.3 320.8,404.3 321.5,404.3 322.2,404.4 322.9,404.4 323.6,404.4 324.3,404.4 325,404.4 325.7,404.4 326.4,404.4 327.1,404.4 327.8,404.5 328.5,404.5 329.2,404.5 329.9,404.5 330.6,404.5 331.3,404.5 332,404.5 332.7,404.6 333.4,404.6 334.1,404.6 334.8,404.6 335.5,404.6 336.2,404.6 336.9,404.6 337.6,404.6 338.3,404.7 339,404.7 339.7,404.7 340.4,404.7 341.1,404.7 341.8,404.7 342.5,404.7 343.2,404.7 343.9,404.8 344.6,404.8 345.3,404.8 346,404.8 346.7,404.8 347.4,404.8 348.1,404.8 348.8,404.8 349.5,404.9 350.2,404.9 350.9,404.9 351.6,404.9 352.3,404.9 353,404.9 353.7,404.9 354.4,404.9 355.1,404.9 355.8,404.9 356.5,404.9 357.2,404.9 357.9,404.9 358.6,404.9 359.3,404.9 360,404.9 360.7,404.9 361.4,404.9 362.1,404.9 362.8,404.9 363.5,404.8 364.2,404.8 364.9,404.8 365.6,404.7 366.3,404.7 367,404.6 367.7,404.6 368.4,404.5 369.1,404.4 369.8,404.3 370.5,404.3 371.2,404.1 371.9,404 372.6,403.9 373.3,403.8 374,403.6 374.7,403.4 375.4,403.2 376.1,403 376.8,402.8 377.5,402.6 378.2,402.3 378.9,402 379.6,401.8 380.3,401.4 381,401.1 381.7,400.7 382.4,400.3 383.1,399.9 383.8,399.5 384.5,399 385.2,398.6 385.9,398 386.6,397.5 387.3,397 388,396.4 388.7,395.8 389.4,395.1 390.1,394.5 390.8,393.8 391.5,393.1 392.2,392.4 392.9,391.7 393.6,390.9 394.3,390.2 395,389.4 395.7,388.6 396.4,387.8 397.1,387 397.8,386.2 398.5,385.4 399.2,384.6 399.9,383.8 400.6,383 401.3,382.2 402,381.5 402.7,380.7 403.4,380 404.1,379.3 404.8,378.6 405.5,378 406.2,377.4 406.9,376.8 407.6,376.3 408.3,375.8 409,375.4 409.7,375 410.4,374.7 411.1,374.4 411.8,374.2 412.5,374 413.2,373.9 413.9,373.9 414.6,373.9 415.3,374 416,374.1 416.7,374.3 417.4,374.5 418.1,374.8 418.8,375.1 419.5,375.4 420.2,375.8 420.9,376.2 421.6,376.7 422.3,377.2 423,377.7 423.7,378.3 424.4,378.9 425.1,379.5 425.8,380.2 426.5,380.8 427.2,381.5 427.9,382.2 428.6,383 429.3,383.7 430,384.5 430.7,385.2 431.4,386 432.1,386.8 432.8,387.6 433.5,388.3 434.2,389.1 434.9,389.9 435.6,390.7 436.3,391.5 437,392.2 437.7,393 438.4,393.7 439.1,394.5 439.8,395.2 440.5,395.9 441.2,396.6 441.9,397.3 442.6,398 443.3,398.6 444,399.2 444.7,399.9 445.4,400.5 446.1,401 446.8,401.6 447.5,402.1 448.2,402.7 448.9,403.2 449.6,403.6 450.3,404.1 451,404.5 451.7,405 452.4,405.4 453.1,405.8 453.8,406.1 454.5,406.5 455.2,406.8 455.9,407.2 456.6,407.5 457.3,407.8 458,408 458.7,408.3 459.4,408.5 460.1,408.8 460.8,409 461.5,409.2 462.2,409.4 462.9,409.6 463.6,409.8 464.3,409.9 465,410.1 465.7,410.2 466.4,410.4 467.1,410.5 467.8,410.6 468.5,410.8 469.2,410.9 469.9,411 470.6,411.1 471.3,411.2 472,411.3 472.7,411.4 473.4,411.4 474.1,411.5 474.8,411.6 475.5,411.7 476.2,411.7 476.9,411.8 477.6,411.9 478.3,411.9 479,412 479.7,412.1 480.4,412.1 481.1,412.2 481.8,412.2 482.5,412.3 483.2,412.3 483.9,412.4 484.6,412.4 485.3,412.5 486,412.5 486.7,412.5 487.4,412.6 488.1,412.6 488.8,412.7 489.5,412.7 490.2,412.8 490.9,412.8 491.6,412.8 492.3,412.9 493,412.9 493.7,412.9 494.4,413 495.1,413 495.8,413.1 496.5,413.1 497.2,413.1 497.9,413.2 498.6,413.2 499.3,413.2 500,413.3 500.7,413.3 501.4,413.3 502.1,413.4 502.8,413.4 503.5,413.4 504.2,413.5 504.9,413.5 505.6,413.5 506.3,413.6 507,413.6 507.7,413.6 508.4,413.6 509.1,413.7 509.8,413.7 510.5,413.7 511.2,413.8 511.9,413.8 512.6,413.8 513.3,413.8 514,413.9 514.7,413.9 515.4,413.9 516.1,413.9 516.8,414 517.5,414 518.2,414 518.9,414 519.6,414.1 520.3,414.1 521,414.1 521.7,414.1 522.4,414.2 523.1,414.2 523.8,414.2 524.5,414.2 525.2,414.3 525.9,414.3 526.6,414.3 527.3,414.3 528,414.4 528.7,414.4 529.4,414.4 530.1,414.4 530.8,414.5 531.5,414.5 532.2,414.5 532.9,414.5 533.6,414.6 534.3,414.6 535,414.6 535.7,414.6 536.4,414.7 537.1,414.7" fill="none" stroke="#d4e6c4" stroke-width="0.6"/><path d="M308.9,404 309.6,404 310.3,404 311,404.1 311.7,404.1 312.4,404.1 313.1,404.1 313.8,404.1 314.5,404.1 315.2,404.1 315.9,404.2 316.6,404.2 317.3,404.2 318,404.2 318.7,404.2 319.4,404.2 320.1,404.2 320.8,404.2 321.5,404.3 322.2,404.3 322.9,404.3 323.6,404.3 324.3,404.3 325,404.3 325.7,404.3 326.4,404.3 327.1,404.4 327.8,404.4 328.5,404.4 329.2,404.4 329.9,404.4 330.6,404.4 331.3,404.4 332,404.4 332.7,404.5 333.4,404.5 334.1,404.5 334.8,404.5 335.5,404.5 336.2,404.5 336.9,404.5 337.6,404.6 338.3,404.6 339,404.6 339.7,404.6 340.4,404.6 341.1,404.6 341.8,404.6 342.5,404.6 343.2,404.7 343.9,404.7 344.6,404.7 345.3,404.7 346,404.7 346.7,404.7 347.4,404.7 348.1,404.8 348.8,404.8 349.5,404.8 350.2,404.8 350.9,404.8 351.6,404.8 352.3,404.8 353,404.9 353.7,404.9 354.4,404.9 355.1,404.9 355.8,404.9 356.5,404.9 357.2,404.9 357.9,405 358.6,405 359.3,405 360,405 360.7,405 361.4,405.1 362.1,405.1 362.8,405.1 363.5,405.1 364.2,405.1 364.9,405.1 365.6,405.2 366.3,405.2 367,405.2 367.7,405.2 368.4,405.3 369.1,405.3 369.8,405.3 370.5,405.3 371.2,405.3 371.9,405.4 372.6,405.4 373.3,405.4 374,405.4 374.7,405.4 375.4,405.5 376.1,405.5 376.8,405.5 377.5,405.5 378.2,405.5 378.9,405.6 379.6,405.6 380.3,405.6 381,405.6 381.7,405.7 382.4,405.7 383.1,405.7 383.8,405.7 384.5,405.7 385.2,405.8 385.9,405.8 386.6,405.8 387.3,405.8 388,405.8 388.7,405.8 389.4,405.9 390.1,405.9 390.8,405.9 391.5,405.9 392.2,405.9 392.9,405.9 393.6,405.9 394.3,406 395,406 395.7,406 396.4,406 397.1,406 397.8,406 398.5,406 399.2,406 399.9,406 400.6,406 401.3,406 402,406 402.7,406 403.4,406 404.1,406 404.8,405.9 405.5,405.9 406.2,405.9 406.9,405.9 407.6,405.8 408.3,405.8 409,405.7 409.7,405.6 410.4,405.6 411.1,405.5 411.8,405.4 412.5,405.2 413.2,405.1 413.9,404.9 414.6,404.7 415.3,404.5 416,404.2 416.7,403.9 417.4,403.5 418.1,403.1 418.8,402.7 419.5,402.2 420.2,401.6 420.9,401 421.6,400.2 422.3,399.4 423,398.5 423.7,397.5 424.4,396.4 425.1,395.2 425.8,393.8 426.5,392.3 427.2,390.7 427.9,389 428.6,387.1 429.3,385.1 430,383 430.7,380.7 431.4,378.2 432.1,375.6 432.8,372.9 433.5,370 434.2,367.1 434.9,364 435.6,360.8 436.3,357.5 437,354.1 437.7,350.7 438.4,347.3 439.1,343.8 439.8,340.4 440.5,337 441.2,333.6 441.9,330.3 442.6,327.2 443.3,324.2 444,321.4 444.7,318.8 445.4,316.4 446.1,314.4 446.8,312.6 447.5,311.1 448.2,310 448.9,309.3 449.6,308.9 450.3,308.9 451,309.3 451.7,310 452.4,311 453.1,312.4 453.8,314 454.5,315.9 455.2,318.1 455.9,320.5 456.6,323 457.3,325.8 458,328.7 458.7,331.8 459.4,334.9 460.1,338.1 460.8,341.3 461.5,344.6 462.2,347.9 462.9,351.2 463.6,354.4 464.3,357.6 465,360.8 465.7,363.8 466.4,366.8 467.1,369.7 467.8,372.5 468.5,375.2 469.2,377.8 469.9,380.2 470.6,382.5 471.3,384.8 472,386.8 472.7,388.8 473.4,390.6 474.1,392.4 474.8,394 475.5,395.5 476.2,396.8 476.9,398.1 477.6,399.3 478.3,400.4 479,401.4 479.7,402.3 480.4,403.2 481.1,403.9 481.8,404.6 482.5,405.3 483.2,405.8 483.9,406.4 484.6,406.8 485.3,407.3 486,407.7 486.7,408 487.4,408.4 488.1,408.7 488.8,408.9 489.5,409.2 490.2,409.4 490.9,409.6 491.6,409.8 492.3,410 493,410.2 493.7,410.3 494.4,410.5 495.1,410.6 495.8,410.7 496.5,410.8 497.2,411 497.9,411.1 498.6,411.2 499.3,411.3 500,411.4 500.7,411.4 501.4,411.5 502.1,411.6 502.8,411.7 503.5,411.8 504.2,411.8 504.9,411.9 505.6,412 506.3,412.1 507,412.1 507.7,412.2 508.4,412.3 509.1,412.3 509.8,412.4 510.5,412.4 511.2,412.5 511.9,412.5 512.6,412.6 513.3,412.7 514,412.7 514.7,412.8 515.4,412.8 516.1,412.9 516.8,412.9 517.5,413 518.2,413 518.9,413.1 519.6,413.1 520.3,413.1 521,413.2 521.7,413.2 522.4,413.3 523.1,413.3 523.8,413.4 524.5,413.4 525.2,413.4 525.9,413.5 526.6,413.5 527.3,413.6 528,413.6 528.7,413.6 529.4,413.7 530.1,413.7 530.8,413.7 531.5,413.8 532.2,413.8 532.9,413.9 533.6,413.9 534.3,413.9 535,414 535.7,414 536.4,414 537.1,414.1 L537.1,414.8 536.4,414.8 535.7,414.8 535,414.7 534.3,414.7 533.6,414.7 532.9,414.7 532.2,414.6 531.5,414.6 530.8,414.6 530.1,414.6 529.4,414.5 528.7,414.5 528,414.5 527.3,414.5 526.6,414.5 525.9,414.4 525.2,414.4 524.5,414.4 523.8,414.4 523.1,414.3 522.4,414.3 521.7,414.3 521,414.3 520.3,414.3 519.6,414.2 518.9,414.2 518.2,414.2 517.5,414.2 516.8,414.1 516.1,414.1 515.4,414.1 514.7,414.1 514,414 513.3,414 512.6,414 511.9,414 511.2,413.9 510.5,413.9 509.8,413.9 509.1,413.9 508.4,413.8 507.7,413.8 507,413.8 506.3,413.8 505.6,413.7 504.9,413.7 504.2,413.7 503.5,413.6 502.8,413.6 502.1,413.6 501.4,413.6 500.7,413.5 500,413.5 499.3,413.5 498.6,413.4 497.9,413.4 497.2,413.4 496.5,413.3 495.8,413.3 495.1,413.3 494.4,413.3 493.7,413.2 493,413.2 492.3,413.2 491.6,413.1 490.9,413.1 490.2,413.1 489.5,413 488.8,413 488.1,413 487.4,412.9 486.7,412.9 486,412.9 485.3,412.8 484.6,412.8 483.9,412.8 483.2,412.7 482.5,412.7 481.8,412.7 481.1,412.6 480.4,412.6 479.7,412.6 479,412.5 478.3,412.5 477.6,412.4 476.9,412.4 476.2,412.4 475.5,412.3 474.8,412.3 474.1,412.3 473.4,412.2 472.7,412.2 472,412.2 471.3,412.1 470.6,412.1 469.9,412 469.2,412 468.5,412 467.8,411.9 467.1,411.9 466.4,411.9 465.7,411.8 465,411.8 464.3,411.7 463.6,411.7 462.9,411.7 462.2,411.6 461.5,411.6 460.8,411.5 460.1,411.5 459.4,411.5 458.7,411.4 458,411.4 457.3,411.3 456.6,411.3 455.9,411.3 455.2,411.2 454.5,411.2 453.8,411.1 453.1,411.1 452.4,411 451.7,411 451,410.9 450.3,410.9 449.6,410.9 448.9,410.8 448.2,410.8 447.5,410.7 446.8,410.7 446.1,410.6 445.4,410.6 444.7,410.5 444,410.5 443.3,410.4 442.6,410.4 441.9,410.3 441.2,410.3 440.5,410.2 439.8,410.2 439.1,410.1 438.4,410.1 437.7,410 437,410 436.3,409.9 435.6,409.9 434.9,409.8 434.2,409.8 433.5,409.7 432.8,409.7 432.1,409.6 431.4,409.6 430.7,409.5 430,409.5 429.3,409.5 428.6,409.4 427.9,409.4 427.2,409.3 426.5,409.3 425.8,409.2 425.1,409.2 424.4,409.1 423.7,409.1 423,409 422.3,409 421.6,408.9 420.9,408.9 420.2,408.8 419.5,408.8 418.8,408.7 418.1,408.7 417.4,408.6 416.7,408.6 416,408.5 415.3,408.5 414.6,408.4 413.9,408.4 413.2,408.3 412.5,408.3 411.8,408.2 411.1,408.2 410.4,408.1 409.7,408.1 409,408.1 408.3,408 407.6,408 406.9,407.9 406.2,407.9 405.5,407.8 404.8,407.8 404.1,407.7 403.4,407.7 402.7,407.7 402,407.6 401.3,407.6 400.6,407.5 399.9,407.5 399.2,407.5 398.5,407.4 397.8,407.4 397.1,407.3 396.4,407.3 395.7,407.3 395,407.2 394.3,407.2 393.6,407.1 392.9,407.1 392.2,407.1 391.5,407 390.8,407 390.1,406.9 389.4,406.9 388.7,406.9 388,406.8 387.3,406.8 386.6,406.7 385.9,406.7 385.2,406.7 384.5,406.6 383.8,406.6 383.1,406.5 382.4,406.5 381.7,406.5 381,406.4 380.3,406.4 379.6,406.4 378.9,406.3 378.2,406.3 377.5,406.3 376.8,406.2 376.1,406.2 375.4,406.2 374.7,406.1 374,406.1 373.3,406.1 372.6,406 371.9,406 371.2,406 370.5,405.9 369.8,405.9 369.1,405.9 368.4,405.8 367.7,405.8 367,405.8 366.3,405.7 365.6,405.7 364.9,405.7 364.2,405.7 363.5,405.6 362.8,405.6 362.1,405.6 361.4,405.6 360.7,405.5 360,405.5 359.3,405.5 358.6,405.5 357.9,405.4 357.2,405.4 356.5,405.4 355.8,405.4 355.1,405.3 354.4,405.3 353.7,405.3 353,405.3 352.3,405.3 351.6,405.2 350.9,405.2 350.2,405.2 349.5,405.2 348.8,405.2 348.1,405.1 347.4,405.1 346.7,405.1 346,405.1 345.3,405.1 344.6,405 343.9,405 343.2,405 342.5,405 341.8,405 341.1,404.9 340.4,404.9 339.7,404.9 339,404.9 338.3,404.9 337.6,404.9 336.9,404.8 336.2,404.8 335.5,404.8 334.8,404.8 334.1,404.8 333.4,404.8 332.7,404.7 332,404.7 331.3,404.7 330.6,404.7 329.9,404.7 329.2,404.7 328.5,404.7 327.8,404.6 327.1,404.6 326.4,404.6 325.7,404.6 325,404.6 324.3,404.6 323.6,404.5 322.9,404.5 322.2,404.5 321.5,404.5 320.8,404.5 320.1,404.5 319.4,404.4 318.7,404.4 318,404.4 317.3,404.4 316.6,404.4 315.9,404.4 315.2,404.4 314.5,404.3 313.8,404.3 313.1,404.3 312.4,404.3 311.7,404.3 311,404.3 310.3,404.2 309.6,404.2 308.9,404.2 Z" fill="url(#g17)" /><polyline points="308.9,404 309.6,404 310.3,404 311,404.1 311.7,404.1 312.4,404.1 313.1,404.1 313.8,404.1 314.5,404.1 315.2,404.1 315.9,404.2 316.6,404.2 317.3,404.2 318,404.2 318.7,404.2 319.4,404.2 320.1,404.2 320.8,404.2 321.5,404.3 322.2,404.3 322.9,404.3 323.6,404.3 324.3,404.3 325,404.3 325.7,404.3 326.4,404.3 327.1,404.4 327.8,404.4 328.5,404.4 329.2,404.4 329.9,404.4 330.6,404.4 331.3,404.4 332,404.4 332.7,404.5 333.4,404.5 334.1,404.5 334.8,404.5 335.5,404.5 336.2,404.5 336.9,404.5 337.6,404.6 338.3,404.6 339,404.6 339.7,404.6 340.4,404.6 341.1,404.6 341.8,404.6 342.5,404.6 343.2,404.7 343.9,404.7 344.6,404.7 345.3,404.7 346,404.7 346.7,404.7 347.4,404.7 348.1,404.8 348.8,404.8 349.5,404.8 350.2,404.8 350.9,404.8 351.6,404.8 352.3,404.8 353,404.9 353.7,404.9 354.4,404.9 355.1,404.9 355.8,404.9 356.5,404.9 357.2,404.9 357.9,405 358.6,405 359.3,405 360,405 360.7,405 361.4,405.1 362.1,405.1 362.8,405.1 363.5,405.1 364.2,405.1 364.9,405.1 365.6,405.2 366.3,405.2 367,405.2 367.7,405.2 368.4,405.3 369.1,405.3 369.8,405.3 370.5,405.3 371.2,405.3 371.9,405.4 372.6,405.4 373.3,405.4 374,405.4 374.7,405.4 375.4,405.5 376.1,405.5 376.8,405.5 377.5,405.5 378.2,405.5 378.9,405.6 379.6,405.6 380.3,405.6 381,405.6 381.7,405.7 382.4,405.7 383.1,405.7 383.8,405.7 384.5,405.7 385.2,405.8 385.9,405.8 386.6,405.8 387.3,405.8 388,405.8 388.7,405.8 389.4,405.9 390.1,405.9 390.8,405.9 391.5,405.9 392.2,405.9 392.9,405.9 393.6,405.9 394.3,406 395,406 395.7,406 396.4,406 397.1,406 397.8,406 398.5,406 399.2,406 399.9,406 400.6,406 401.3,406 402,406 402.7,406 403.4,406 404.1,406 404.8,405.9 405.5,405.9 406.2,405.9 406.9,405.9 407.6,405.8 408.3,405.8 409,405.7 409.7,405.6 410.4,405.6 411.1,405.5 411.8,405.4 412.5,405.2 413.2,405.1 413.9,404.9 414.6,404.7 415.3,404.5 416,404.2 416.7,403.9 417.4,403.5 418.1,403.1 418.8,402.7 419.5,402.2 420.2,401.6 420.9,401 421.6,400.2 422.3,399.4 423,398.5 423.7,397.5 424.4,396.4 425.1,395.2 425.8,393.8 426.5,392.3 427.2,390.7 427.9,389 428.6,387.1 429.3,385.1 430,383 430.7,380.7 431.4,378.2 432.1,375.6 432.8,372.9 433.5,370 434.2,367.1 434.9,364 435.6,360.8 436.3,357.5 437,354.1 437.7,350.7 438.4,347.3 439.1,343.8 439.8,340.4 440.5,337 441.2,333.6 441.9,330.3 442.6,327.2 443.3,324.2 444,321.4 444.7,318.8 445.4,316.4 446.1,314.4 446.8,312.6 447.5,311.1 448.2,310 448.9,309.3 449.6,308.9 450.3,308.9 451,309.3 451.7,310 452.4,311 453.1,312.4 453.8,314 454.5,315.9 455.2,318.1 455.9,320.5 456.6,323 457.3,325.8 458,328.7 458.7,331.8 459.4,334.9 460.1,338.1 460.8,341.3 461.5,344.6 462.2,347.9 462.9,351.2 463.6,354.4 464.3,357.6 465,360.8 465.7,363.8 466.4,366.8 467.1,369.7 467.8,372.5 468.5,375.2 469.2,377.8 469.9,380.2 470.6,382.5 471.3,384.8 472,386.8 472.7,388.8 473.4,390.6 474.1,392.4 474.8,394 475.5,395.5 476.2,396.8 476.9,398.1 477.6,399.3 478.3,400.4 479,401.4 479.7,402.3 480.4,403.2 481.1,403.9 481.8,404.6 482.5,405.3 483.2,405.8 483.9,406.4 484.6,406.8 485.3,407.3 486,407.7 486.7,408 487.4,408.4 488.1,408.7 488.8,408.9 489.5,409.2 490.2,409.4 490.9,409.6 491.6,409.8 492.3,410 493,410.2 493.7,410.3 494.4,410.5 495.1,410.6 495.8,410.7 496.5,410.8 497.2,411 497.9,411.1 498.6,411.2 499.3,411.3 500,411.4 500.7,411.4 501.4,411.5 502.1,411.6 502.8,411.7 503.5,411.8 504.2,411.8 504.9,411.9 505.6,412 506.3,412.1 507,412.1 507.7,412.2 508.4,412.3 509.1,412.3 509.8,412.4 510.5,412.4 511.2,412.5 511.9,412.5 512.6,412.6 513.3,412.7 514,412.7 514.7,412.8 515.4,412.8 516.1,412.9 516.8,412.9 517.5,413 518.2,413 518.9,413.1 519.6,413.1 520.3,413.1 521,413.2 521.7,413.2 522.4,413.3 523.1,413.3 523.8,413.4 524.5,413.4 525.2,413.4 525.9,413.5 526.6,413.5 527.3,413.6 528,413.6 528.7,413.6 529.4,413.7 530.1,413.7 530.8,413.7 531.5,413.8 532.2,413.8 532.9,413.9 533.6,413.9 534.3,413.9 535,414 535.7,414 536.4,414 537.1,414.1" fill="none" stroke="#b8e0d0" stroke-width="0.6"/><path d="M308.8,401.8 C312.3,401.7 323.4,401.4 330,401 C336.6,400.6 343.7,400.1 348.7,399.7 C353.7,399.2 356.8,399 360,398.3 C363.2,397.6 365.5,396.7 368,395.5 C370.5,394.3 372.7,392.9 375,391.3 C377.3,389.7 379.8,388.1 382,386 C384.2,383.9 386,381.6 388,378.8 C390,376 392,372.7 394,369.2 C396,365.7 398.2,361.8 399.8,357.6 C401.4,353.4 402.5,348.9 403.8,344 C405.1,339.1 406.4,334.6 407.8,328.5 C409.2,322.4 411,312.6 412.3,307.3 C413.6,302 414.2,300.2 415.4,296.6 C416.5,293 417.5,289.5 419.2,285.9 C420.9,282.3 423,278.4 425.3,275.2 C427.6,272 430.3,269.1 432.9,266.8 C435.4,264.5 438.5,262.8 440.6,261.4 C442.7,260 444.2,259 445.4,258.6 C446.6,258.2 447.1,258.7 447.8,259.2 C448.5,259.7 448.9,259.9 449.6,261.5 C450.3,263.1 451.3,266 452,268.7 C452.7,271.4 453.1,274.6 453.7,277.5 C454.3,280.4 455,283.3 455.5,286.2 C456,289.1 456.5,292 456.9,294.9 C457.3,297.8 457.7,300.7 458.1,303.6 C458.5,306.5 458.9,309.5 459.3,312.4 C459.7,315.3 460.2,318.2 460.7,321.1 C461.2,324 461.6,326.9 462.1,329.8 C462.6,332.7 462.9,335.1 463.5,338.5 C464.1,341.9 464.7,346.1 465.5,350 C466.3,353.9 467.2,358.1 468.5,362 C469.8,365.9 471.4,370.1 473,373.5 C474.6,376.9 476.2,379.8 478,382.5 C479.8,385.2 482,387.9 484,390 C486,392.1 487.8,393.4 490,395 C492.2,396.6 494.4,398.1 497,399.5 C499.6,400.9 501.6,402.1 505.4,403.5 C509.2,404.9 514.7,406.6 520,407.8 C525.3,409 534.2,410.1 537,410.5" fill="none" stroke="#f2a0a0" stroke-width="0.8"/><rect x="308.2" y="234.2" width="229.7" height="185.1" fill="none" stroke="#111" stroke-width="1.3"/><line x1="308.2" y1="419.2" x2="308.2" y2="422.6" stroke="#111" stroke-width="1.1"/><line x1="341" y1="419.2" x2="341" y2="422.6" stroke="#111" stroke-width="1.1"/><line x1="373.8" y1="419.2" x2="373.8" y2="422.6" stroke="#111" stroke-width="1.1"/><line x1="406.7" y1="419.2" x2="406.7" y2="422.6" stroke="#111" stroke-width="1.1"/><line x1="439.5" y1="419.2" x2="439.5" y2="422.6" stroke="#111" stroke-width="1.1"/><line x1="472.3" y1="419.2" x2="472.3" y2="422.6" stroke="#111" stroke-width="1.1"/><line x1="505.1" y1="419.2" x2="505.1" y2="422.6" stroke="#111" stroke-width="1.1"/><line x1="537.9" y1="419.2" x2="537.9" y2="422.6" stroke="#111" stroke-width="1.1"/><text x="308.2" y="433.9" font-size="10.5" text-anchor="middle" >538</text><text x="341" y="433.9" font-size="10.5" text-anchor="middle" >536</text><text x="373.8" y="433.9" font-size="10.5" text-anchor="middle" >534</text><text x="406.7" y="433.9" font-size="10.5" text-anchor="middle" >532</text><text x="439.5" y="433.9" font-size="10.5" text-anchor="middle" >530</text><text x="472.3" y="433.9" font-size="10.5" text-anchor="middle" >528</text><text x="505.1" y="433.9" font-size="10.5" text-anchor="middle" >526</text><text x="537.9" y="433.9" font-size="10.5" text-anchor="middle" >524</text><text x="370.8" y="450.5" font-size="10.3" text-anchor="start" >Binding Energy</text><text x="448.1" y="450.3" font-size="10.5" text-anchor="start" font-weight="normal">(</text><text x="453.1" y="450.5" font-size="10.3" text-anchor="start" >eV</text><text x="467.6" y="450.3" font-size="10.5" text-anchor="start" font-weight="normal">)</text><text x="0" y="0" font-size="10.5" text-anchor="middle" transform="translate(302.7,327) rotate(-90)">Intensity (a.u.)</text><text x="275" y="259.9" font-size="21" text-anchor="start" >d</text><text x="323.8" y="254.6" font-size="12" text-anchor="start" >O1s</text><text x="463.9" y="299.5" font-size="9.6" text-anchor="start" >hydroxyl oxygen</text><line x1="483" y1="305" x2="462.5" y2="326.4" stroke="#111" stroke-width="0.7"/><polygon points="459,330 461.3,325.3 463.6,327.5" fill="#111"/><text x="350.7" y="316" font-size="9.5" text-anchor="start" >lattice oxygen</text><line x1="393" y1="323" x2="417.1" y2="341.9" stroke="#111" stroke-width="0.7"/><polygon points="421,345 416.1,343.2 418.1,340.7" fill="#111"/><text x="323" y="366" font-size="9.5" text-anchor="start" >oxygen vacancy</text><line x1="375" y1="372" x2="398.5" y2="383.8" stroke="#111" stroke-width="0.7"/><polygon points="403,386 397.8,385.2 399.2,382.3" fill="#111"/></svg></body></html>
